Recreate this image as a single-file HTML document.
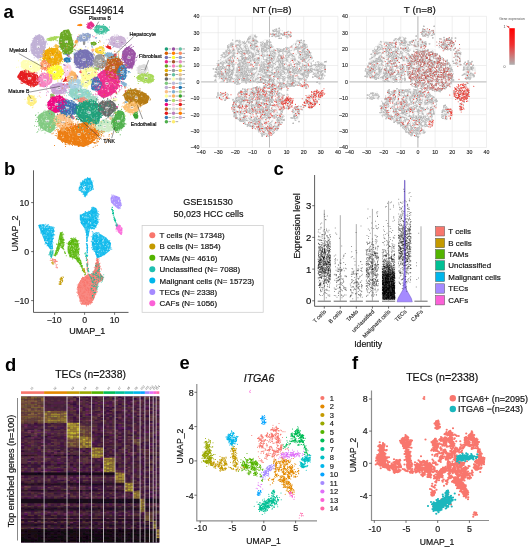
<!DOCTYPE html>
<html lang="en"><head><meta charset="utf-8"><title>Figure</title>
<style>html,body{margin:0;padding:0;background:#fff}body{width:532px;height:550px;overflow:hidden;font-family:"Liberation Sans",Arial,sans-serif}svg{display:block}</style></head>
<body>
<svg width="532" height="550" viewBox="0 0 532 550" font-family="'Liberation Sans', Arial, sans-serif">
<text x="3.6" y="18.2" font-size="18.4" font-weight="bold">a</text>
<text x="96.5" y="13.6" font-size="10" text-anchor="middle" fill="#111" stroke="#111" stroke-width=".18">GSE149614</text>
<g fill-opacity=".7"><path d="M75.7 90.5L75.0 89.7L74.3 88.0L74.2 86.0L74.3 84.2L75.2 85.9L75.8 87.6L76.5 90.3Z" fill="#b5790f"/><path d="M51.4 60.1L50.4 60.7L48.5 60.7L47.8 59.1L47.9 58.0L48.6 56.8L50.4 57.6L51.6 58.9Z" fill="#fdb462"/><path d="M99.0 104.8L98.4 103.2L99.5 102.2L100.3 100.6L101.9 101.5L102.0 103.1L102.1 104.6L100.6 105.0Z" fill="#d9d9d9"/><path d="M96.3 45.1L95.0 45.3L93.5 45.1L92.6 43.8L91.9 42.3L93.4 42.1L94.8 43.0L96.6 43.9Z" fill="#ffee77"/><path d="M84.4 64.4L83.7 65.6L82.7 65.0L81.9 64.1L82.4 63.0L83.3 62.7L84.7 62.2L84.9 63.5Z" fill="#f0027f"/><path d="M108.7 55.2L106.8 54.9L105.5 54.7L103.6 53.9L103.9 53.1L104.5 52.6L106.2 53.2L107.6 54.0Z" fill="#ffff33"/><path d="M117.9 100.0L116.5 101.3L114.6 101.5L112.4 101.3L111.6 99.5L113.1 98.3L114.9 97.7L117.0 98.3Z" fill="#ffffb3"/><path d="M68.3 76.5L67.6 76.2L67.6 75.0L68.4 74.1L69.1 74.1L69.6 74.7L69.9 75.8L69.0 76.7Z" fill="#fdb462"/><path d="M89.2 58.1L87.7 58.7L86.4 58.4L85.9 57.2L85.9 55.7L87.2 54.7L88.4 55.7L89.3 56.5Z" fill="#beaed4"/><path d="M99.1 69.7L97.6 70.1L95.8 70.2L94.3 68.9L93.6 67.4L95.3 66.9L97.0 67.4L99.3 68.2Z" fill="#66a61e"/><path d="M84.0 45.3L83.0 44.4L82.9 42.8L83.2 41.3L84.2 40.3L85.2 41.4L85.3 42.9L85.1 44.5Z" fill="#666666"/><path d="M94.4 76.4L92.6 76.8L90.6 75.8L90.4 73.9L89.8 71.5L92.0 71.3L93.5 73.1L95.3 74.6Z" fill="#f0a900"/><path d="M112.0 61.9L110.8 62.9L109.2 62.3L108.2 61.2L107.9 59.8L109.1 58.8L110.7 59.3L111.7 60.4Z" fill="#fccde5"/><path d="M98.8 86.9L97.2 87.9L96.5 86.2L96.3 84.9L97.2 83.7L98.7 83.7L100.3 84.3L99.5 85.9Z" fill="#fc8d62"/><path d="M86.5 74.5L85.4 74.8L84.9 73.2L85.1 71.7L86.1 71.1L87.1 71.8L88.2 72.8L87.5 74.4Z" fill="#d9d9d9"/><path d="M92.9 48.1L92.2 48.0L91.1 46.9L91.1 45.7L91.1 44.7L91.8 44.5L92.7 46.0L93.2 47.4Z" fill="#80b1d3"/><path d="M117.5 119.4L116.9 119.6L116.2 118.9L116.3 118.1L116.6 117.6L117.3 117.4L118.0 118.0L118.0 118.9Z" fill="#e41a1c"/><path d="M94.3 85.9L94.3 84.8L95.2 83.3L97.1 83.2L98.1 84.0L98.0 85.1L96.8 86.4L94.9 87.0Z" fill="#e41a1c"/><path d="M105.5 107.0L104.4 106.8L104.2 105.1L104.2 103.7L104.8 102.2L105.9 103.6L106.4 104.8L106.5 106.4Z" fill="#ee2a8b"/><path d="M63.6 101.4L63.5 100.4L64.3 99.3L65.6 99.4L66.2 100.1L66.7 101.0L65.7 102.0L64.4 102.1Z" fill="#fccde5"/><path d="M126.9 66.9L126.7 65.7L127.6 64.5L129.2 63.9L130.0 64.9L130.0 66.1L129.5 67.6L127.9 67.8Z" fill="#7fc97f"/><path d="M76.0 93.1L75.3 92.5L75.0 91.1L75.2 89.3L76.1 89.0L76.7 89.9L77.2 91.2L76.8 92.9Z" fill="#ffff33"/><path d="M54.7 121.3L54.3 121.9L53.3 121.7L52.4 121.4L52.4 120.8L52.6 120.2L53.6 120.1L54.0 120.8Z" fill="#a6cee3"/><path d="M72.0 118.0L71.4 116.8L72.5 115.3L73.9 116.2L75.2 116.7L75.3 118.2L74.1 119.2L72.5 119.4Z" fill="#fb8072"/><path d="M51.7 110.7L52.4 109.9L53.5 108.9L54.9 108.7L55.3 109.2L56.0 109.7L54.1 110.5L52.8 110.8Z" fill="#984ea3"/><path d="M116.8 83.4L115.7 83.7L114.6 82.6L114.7 81.4L115.1 80.3L116.3 80.0L117.2 81.1L117.4 82.4Z" fill="#a6cee3"/><path d="M72.2 47.9L73.2 46.7L73.9 45.6L75.5 44.6L76.2 44.9L76.0 45.7L74.8 46.8L73.4 47.9Z" fill="#bf5b17"/><path d="M64.1 54.0L65.0 52.3L66.7 51.6L69.2 50.7L69.7 52.6L68.9 54.0L67.7 55.6L65.6 55.1Z" fill="#1f78b4"/><path d="M116.1 109.4L115.5 108.0L115.3 107.0L115.7 105.9L117.0 106.1L118.3 106.6L117.9 107.8L117.3 108.6Z" fill="#f0027f"/><path d="M80.5 73.2L78.9 71.9L79.7 70.9L80.6 70.2L82.1 70.8L83.4 72.0L83.6 73.5L81.9 73.2Z" fill="#e41a1c"/><path d="M88.7 72.2L87.4 71.8L86.6 70.2L87.3 68.4L88.9 68.1L90.1 68.7L91.1 70.3L90.3 72.1Z" fill="#ffff99"/><path d="M120.0 65.9L119.4 65.0L120.2 63.0L121.6 61.4L122.5 61.7L123.1 62.4L122.6 64.4L121.0 65.6Z" fill="#fdb462"/><path d="M125.5 88.6L124.8 89.2L124.2 87.2L124.2 85.8L124.4 84.7L125.3 85.4L126.2 86.7L126.1 88.2Z" fill="#fb8072"/><path d="M71.3 117.0L70.0 118.1L69.0 118.3L68.5 117.5L69.9 115.9L70.9 114.7L72.3 114.0L71.9 115.6Z" fill="#e41a1c"/><path d="M74.9 93.7L74.0 94.9L72.6 95.4L71.1 94.8L70.9 93.0L72.1 92.0L73.3 91.1L74.9 91.9Z" fill="#fdc086"/><path d="M89.6 73.6L88.1 73.9L86.6 73.8L86.2 72.4L86.0 70.6L87.7 70.1L88.7 71.2L90.4 71.9Z" fill="#fc8d62"/><path d="M122.8 65.2L122.1 65.6L121.2 65.7L120.8 64.9L121.3 64.2L121.8 63.6L122.7 63.6L123.0 64.4Z" fill="#ec7a0c"/><path d="M88.5 127.6L88.2 128.2L86.9 127.5L86.4 126.3L86.2 125.2L87.3 125.7L88.4 126.0L89.4 127.4Z" fill="#ccebc5"/><path d="M56.1 73.4L54.6 72.9L54.3 71.3L55.1 69.9L56.8 70.1L58.0 70.8L59.2 72.3L57.6 73.3Z" fill="#7570b3"/><path d="M77.3 77.6L76.2 79.0L74.5 78.1L73.0 77.0L72.5 74.9L74.8 75.0L76.4 74.7L78.1 76.0Z" fill="#e31a1c"/><path d="M118.0 52.4L117.3 51.8L118.1 51.1L118.7 51.0L119.7 50.9L119.7 51.8L119.3 52.6L118.6 52.8Z" fill="#ffee77"/><path d="M96.3 38.9L95.4 39.1L95.0 38.3L95.2 37.6L95.8 37.2L96.6 37.1L97.3 37.7L96.8 38.4Z" fill="#80b1d3"/><path d="M54.0 97.2L52.9 98.3L50.7 97.9L50.0 95.8L50.1 94.2L51.5 93.4L53.6 94.1L55.0 96.0Z" fill="#66a61e"/><path d="M77.6 56.9L77.5 56.1L77.8 54.8L79.1 53.7L79.9 53.7L79.9 54.6L79.4 55.9L78.3 57.3Z" fill="#3dbf9d"/><path d="M67.5 85.6L66.3 86.2L64.6 86.5L62.3 86.3L62.0 85.4L63.0 84.8L64.7 84.4L66.9 84.8Z" fill="#ee2a8b"/><path d="M99.5 52.9L98.8 53.4L96.9 53.2L95.4 52.0L94.6 50.8L96.3 50.8L97.9 51.0L100.2 52.1Z" fill="#b5790f"/><path d="M106.7 58.6L105.9 57.7L105.7 56.7L106.8 56.7L107.8 56.6L108.9 57.4L108.2 58.1L107.8 58.8Z" fill="#9fd8c0"/><path d="M78.0 50.6L77.9 49.1L79.8 48.3L81.5 47.8L82.2 48.9L82.5 50.1L81.1 51.6L79.6 50.8Z" fill="#ffff99"/><path d="M62.7 74.8L61.8 74.5L62.0 73.6L61.9 72.9L62.8 72.4L63.5 73.1L63.9 73.7L63.5 74.4Z" fill="#1f78b4"/><path d="M73.3 124.9L72.3 125.7L71.2 125.9L70.6 124.9L70.3 123.5L71.5 122.6L72.4 123.0L73.6 123.3Z" fill="#a6cee3"/><path d="M42.0 82.4L40.8 82.7L39.7 82.7L38.2 82.3L38.1 81.5L38.8 81.0L40.1 81.1L41.2 81.5Z" fill="#e31a1c"/><path d="M75.8 43.6L74.4 43.3L74.9 40.8L76.3 39.8L77.8 38.0L78.5 39.6L78.0 41.8L77.1 43.8Z" fill="#ff7f00"/><path d="M68.1 87.2L67.4 86.0L67.0 84.7L68.3 85.0L69.3 86.0L70.4 87.2L70.3 88.2L69.2 88.2Z" fill="#fdbf6f"/><path d="M99.6 50.4L98.6 50.2L98.2 49.3L98.6 48.5L99.3 48.1L100.4 48.1L100.7 49.1L100.2 49.9Z" fill="#e31a1c"/><path d="M88.1 75.4L87.1 76.5L86.0 77.0L85.0 76.4L85.2 74.6L86.1 73.3L87.2 72.9L88.2 73.5Z" fill="#fdc086"/><path d="M125.5 92.7L124.7 92.3L124.8 91.3L124.7 90.4L125.4 90.0L126.0 90.4L126.4 91.2L125.9 91.8Z" fill="#e41a1c"/><path d="M124.0 102.6L124.8 101.6L126.1 100.8L128.0 100.2L128.7 100.9L128.0 101.8L126.8 102.7L125.1 103.0Z" fill="#377eb8"/><path d="M113.4 61.7L112.7 61.0L112.5 59.7L112.8 58.2L113.7 57.5L114.3 58.7L114.6 59.8L114.3 61.4Z" fill="#f0a900"/><path d="M86.7 53.1L85.1 53.1L83.7 53.7L82.3 52.5L82.1 51.3L83.0 50.5L84.6 51.2L86.7 51.7Z" fill="#fccde5"/><path d="M58.0 119.9L57.6 118.2L57.9 116.9L59.3 116.9L60.3 118.3L61.7 119.7L60.8 120.9L59.4 120.3Z" fill="#fdbf6f"/><path d="M79.2 134.7L78.2 135.1L77.5 134.0L77.0 133.1L77.2 131.9L78.3 132.0L79.2 132.7L79.5 133.7Z" fill="#bf5b17"/><path d="M59.1 99.3L59.6 98.2L60.6 96.9L62.0 96.6L62.8 96.8L63.6 97.4L61.7 98.5L60.4 99.1Z" fill="#3dbf9d"/><path d="M88.1 60.5L87.2 59.3L89.2 58.5L90.6 58.7L92.4 58.8L91.6 60.2L90.3 61.3L88.6 61.4Z" fill="#8da0cb"/><path d="M85.3 78.8L83.8 79.3L82.6 78.2L81.3 77.2L81.8 76.0L82.8 75.2L84.4 75.8L84.6 77.2Z" fill="#a6cee3"/><path d="M116.4 115.9L115.2 115.1L114.6 113.1L114.7 110.7L116.2 111.1L117.4 111.1L118.5 112.9L117.4 114.6Z" fill="#ffff99"/><path d="M77.0 126.6L75.8 126.9L74.5 126.5L74.5 125.2L75.6 124.1L76.9 124.1L78.0 124.5L78.4 125.8Z" fill="#e7298a"/><path d="M66.6 66.1L66.0 66.5L64.4 66.0L63.3 65.2L63.0 64.4L63.5 63.9L65.1 64.4L66.0 65.3Z" fill="#984ea3"/><path d="M71.4 76.8L71.0 75.4L73.0 74.7L74.5 74.0L76.4 74.3L75.1 75.9L74.2 77.2L72.5 77.5Z" fill="#33a02c"/><path d="M93.0 52.2L91.8 51.3L91.4 50.2L91.4 49.0L92.6 48.5L93.9 48.7L94.2 50.0L93.8 51.0Z" fill="#fc8d62"/><path d="M102.4 69.0L101.8 68.0L101.8 67.1L102.0 66.0L102.9 65.7L103.6 66.2L103.5 67.3L103.2 68.2Z" fill="#377eb8"/><path d="M113.6 112.3L112.3 112.3L111.1 111.4L112.1 110.2L113.3 109.5L114.5 110.0L115.3 111.0L115.3 112.4Z" fill="#8dd3c7"/><path d="M49.5 67.2L49.3 66.5L49.5 65.8L50.2 65.6L51.0 65.3L51.3 66.0L50.6 66.6L50.2 67.4Z" fill="#ffff33"/><path d="M59.3 47.7L57.8 48.8L55.9 48.7L55.1 47.2L54.3 45.3L56.0 44.1L57.7 45.0L59.5 45.7Z" fill="#f0a900"/><path d="M125.9 102.3L125.4 101.3L125.6 99.4L126.7 97.4L127.6 97.7L128.3 98.3L128.1 100.3L126.9 102.0Z" fill="#a6cee3"/><path d="M79.0 60.6L78.6 61.5L77.3 61.2L76.8 60.2L76.7 59.1L77.8 59.0L78.9 58.8L79.8 59.8Z" fill="#fdc086"/><path d="M115.4 58.0L113.9 57.7L113.0 56.9L114.1 56.3L115.5 56.2L117.3 56.2L117.8 57.1L116.8 57.7Z" fill="#1b9e77"/><path d="M100.4 42.5L99.7 42.4L99.3 41.5L98.8 40.5L99.3 40.0L100.0 40.5L100.7 40.9L100.8 41.9Z" fill="#fdb462"/><path d="M54.5 70.0L53.8 69.0L53.7 67.6L54.6 66.2L55.7 66.9L56.7 67.4L57.0 69.0L55.7 69.7Z" fill="#a6d854"/><path d="M49.3 61.9L48.2 62.4L46.3 62.7L43.9 62.3L44.2 61.7L44.2 61.1L46.4 60.8L48.3 61.3Z" fill="#e7298a"/><path d="M116.2 94.5L115.7 93.6L115.2 93.0L115.5 92.3L116.4 92.1L117.2 92.4L117.1 93.2L117.0 93.9Z" fill="#b5790f"/><path d="M67.2 76.0L66.9 74.1L67.9 72.6L69.6 72.9L70.8 73.8L71.9 75.6L70.3 76.7L68.8 76.6Z" fill="#ec7a0c"/><path d="M118.9 122.2L116.7 122.3L115.0 122.3L113.3 121.3L113.1 120.0L113.9 118.8L116.0 119.8L117.6 120.5Z" fill="#ffff99"/><path d="M59.9 104.4L59.0 104.2L58.7 102.7L59.4 101.6L60.3 101.1L61.1 101.5L61.4 102.9L60.8 104.1Z" fill="#ffff99"/><path d="M96.2 108.2L95.0 108.1L93.5 107.4L91.7 106.0L92.0 105.2L93.1 105.3L94.6 105.8L96.0 107.2Z" fill="#984ea3"/><path d="M53.2 112.5L52.8 113.7L51.1 112.8L50.7 111.6L49.9 110.2L51.2 110.0L52.7 110.6L53.7 111.8Z" fill="#e31a1c"/><path d="M64.1 62.2L62.8 63.3L62.1 63.0L61.5 62.5L62.2 61.0L63.2 59.7L64.1 59.7L64.0 60.9Z" fill="#ffffb3"/><path d="M111.1 120.1L109.4 119.6L108.9 117.8L110.0 116.6L111.3 115.8L113.2 116.2L113.3 118.0L112.5 119.4Z" fill="#fdc086"/><path d="M113.1 118.0L111.9 117.6L110.4 116.7L109.8 115.1L110.0 114.5L110.4 113.6L111.9 115.4L112.8 116.8Z" fill="#8dd3c7"/><path d="M69.3 85.0L68.4 85.5L67.4 85.1L66.3 84.7L66.1 83.6L67.1 83.3L68.1 83.3L69.0 84.0Z" fill="#e31a1c"/><path d="M70.7 110.3L70.9 108.0L71.2 106.2L72.9 105.0L74.6 104.8L75.5 106.3L73.8 108.1L72.7 110.0Z" fill="#e41a1c"/><path d="M104.6 99.0L103.6 97.6L103.2 95.8L102.7 93.6L103.3 92.8L104.3 93.5L104.9 95.4L104.9 97.1Z" fill="#ffff99"/><path d="M41.9 84.7L41.3 86.5L40.1 86.6L39.5 85.6L39.1 84.1L39.9 82.5L41.0 82.4L41.8 83.2Z" fill="#fb8072"/><path d="M68.7 57.5L67.5 56.6L66.7 55.3L66.5 53.5L67.5 52.4L68.7 53.2L69.4 54.6L69.8 56.4Z" fill="#984ea3"/><path d="M77.6 78.2L76.9 79.0L75.7 78.1L75.0 76.8L75.3 75.6L76.6 76.1L77.9 76.1L78.6 77.6Z" fill="#7570b3"/><path d="M121.2 76.9L119.5 76.0L119.6 74.6L120.1 73.4L121.8 72.8L123.3 73.8L123.6 75.2L122.8 76.2Z" fill="#ee2a8b"/><path d="M81.8 60.8L81.8 60.0L82.5 59.6L83.4 59.3L83.6 60.2L83.5 60.9L83.2 61.8L82.3 61.3Z" fill="#e41a1c"/><path d="M94.3 100.1L93.0 100.4L91.5 100.7L90.4 99.3L90.7 97.9L91.8 97.3L93.3 97.6L94.9 98.7Z" fill="#a6d854"/><path d="M68.9 40.6L67.0 40.8L66.3 39.6L66.7 38.4L67.8 37.4L69.7 37.1L70.5 38.3L69.9 39.5Z" fill="#999999"/><path d="M108.0 76.6L107.0 77.4L106.0 77.5L104.7 77.3L104.7 76.0L105.5 75.1L106.5 74.9L107.5 75.5Z" fill="#f0a900"/><path d="M116.0 56.8L114.6 57.1L113.2 56.5L112.4 54.8L113.6 53.8L114.9 53.4L116.6 53.8L116.8 55.6Z" fill="#e41a1c"/><path d="M70.4 94.4L69.9 93.6L69.8 92.7L70.6 92.4L71.3 92.8L72.3 93.1L71.9 94.0L71.2 94.3Z" fill="#9fd8c0"/><path d="M51.3 77.7L50.0 78.0L48.1 77.7L47.2 75.7L47.9 74.3L49.3 74.0L51.0 74.6L52.3 76.4Z" fill="#fccde5"/><path d="M73.6 118.9L72.2 119.0L70.6 118.1L70.2 116.5L70.7 115.5L71.7 114.4L73.2 115.9L73.6 117.4Z" fill="#984ea3"/><path d="M47.9 53.4L48.9 51.7L49.9 50.3L52.3 49.3L52.9 50.9L53.0 52.3L51.6 53.8L49.6 54.1Z" fill="#e31a1c"/><path d="M73.9 58.4L73.3 57.6L74.0 55.7L75.6 54.2L76.7 54.4L76.8 55.7L76.5 57.5L74.9 59.0Z" fill="#ffee77"/><path d="M101.1 85.4L99.7 84.2L100.3 82.4L101.2 80.5L103.3 80.4L103.7 82.5L104.4 84.2L103.0 85.8Z" fill="#33a02c"/><path d="M95.8 132.2L95.6 130.5L96.6 129.0L98.4 128.3L99.1 129.8L100.3 130.9L99.3 132.7L97.5 132.2Z" fill="#c9a3d6"/><path d="M116.1 120.6L115.2 122.3L114.0 121.7L112.9 121.5L113.0 119.8L113.8 118.3L115.0 117.8L115.4 119.4Z" fill="#66a61e"/><path d="M66.7 106.8L66.1 107.9L65.3 108.9L64.2 108.4L64.1 106.8L64.5 105.6L65.4 104.8L66.4 105.3Z" fill="#a6cee3"/><path d="M71.2 111.3L70.1 110.9L69.7 109.8L70.8 109.4L72.0 109.5L72.8 110.3L73.4 111.3L72.6 112.1Z" fill="#e7298a"/><path d="M59.1 109.7L58.4 109.5L58.2 108.3L58.5 107.5L59.0 106.2L59.6 107.2L59.7 108.2L59.8 109.5Z" fill="#66a61e"/><path d="M73.8 54.7L73.3 53.6L73.7 52.7L74.5 52.3L75.6 52.5L76.1 53.6L75.6 54.4L74.9 55.0Z" fill="#80b1d3"/><path d="M92.8 123.1L91.7 122.2L91.2 121.0L92.1 119.9L93.3 120.0L94.9 120.0L94.8 121.6L93.8 122.3Z" fill="#fdc086"/><path d="M98.1 113.2L96.8 114.5L95.4 114.2L95.3 112.8L96.1 111.4L97.4 110.2L99.0 110.1L98.8 111.8Z" fill="#8da0cb"/><path d="M59.4 105.4L58.2 105.2L57.7 104.1L57.7 102.7L59.0 102.2L60.0 103.0L61.1 103.7L60.7 105.1Z" fill="#8dd3c7"/><path d="M91.8 132.8L90.6 133.0L89.9 131.8L90.3 130.7L90.8 129.6L92.0 129.8L92.6 130.9L92.6 132.1Z" fill="#a6d854"/></g>
<g fill-opacity=".94"><path d="M30.5 44.9L34.6 36.7L39.3 34.0L43.5 36.7L46.2 42.9L44.9 50.4L42.8 57.2L38.0 58.7L33.2 55.2L30.5 50.4Z" fill="#beaed4"/><path d="M60.2 34.2L63.6 30.0L69.0 29.4L71.1 34.2L73.2 42.4L73.2 51.3L69.7 54.7L64.2 53.3L60.2 47.8L58.8 41.0Z" fill="#66a61e"/><path d="M59.8 37.1L57.6 38.2L56.5 39.0L54.7 39.9L51.9 40.6L48.8 41.1L47.6 40.4L47.5 39.6L47.1 38.9L49.1 37.9L51.4 37.1L54.0 36.4L56.6 36.3L59.3 36.3Z" fill="#a6d854"/><path d="M42.9 51.4L49.1 48.0L57.3 48.0L61.3 52.7L62.8 59.6L58.6 65.0L51.8 66.4L45.6 63.7L42.2 58.2Z" fill="#f0a900"/><path d="M50.3 65.5L49.8 68.0L48.3 70.1L46.1 70.6L44.1 69.7L42.0 69.6L40.6 67.8L40.6 65.5L40.4 63.1L41.8 61.1L43.9 60.1L46.1 60.1L47.4 62.2L48.6 63.6Z" fill="#fc8d62"/><path d="M47.6 67.2L54.5 64.4L60.6 65.8L64.1 71.3L61.3 78.1L54.5 80.2L49.0 76.8L46.3 72.0Z" fill="#ffff33"/><path d="M41.3 67.6L39.8 70.3L36.2 71.8L32.4 73.7L27.5 72.6L24.7 70.1L22.0 68.1L20.9 65.5L20.6 62.5L23.3 59.7L28.9 60.5L33.0 61.4L37.1 62.4L39.4 64.8Z" fill="#ffffb3"/><path d="M17.1 76.5L20.6 71.0L26.7 69.7L32.2 72.4L37.7 75.2L39.7 79.2L38.3 84.8L33.6 86.7L26.7 84.8L21.3 81.3Z" fill="#e41a1c"/><path d="M52.1 82.2L49.5 84.5L46.9 85.5L44.3 87.6L41.3 86.7L39.3 84.2L37.6 81.4L38.3 77.9L39.9 74.9L42.6 73.2L45.5 74.2L48.3 74.0L51.7 75.1L52.6 78.6Z" fill="#f781bf"/><path d="M70.4 59.8L70.5 61.0L69.8 62.2L68.1 62.5L66.5 62.4L65.5 61.5L64.8 60.7L63.4 59.8L63.8 58.5L65.1 57.7L66.5 57.2L68.0 57.5L69.3 57.8L70.5 58.6Z" fill="#1f78b4"/><path d="M71.4 70.0L70.2 71.9L69.8 74.1L68.5 76.3L66.6 75.9L64.8 74.8L63.9 72.5L63.8 70.0L63.7 67.4L65.2 65.9L66.7 65.1L68.5 63.9L70.3 65.0L71.4 67.3Z" fill="#fccde5"/><path d="M62.9 81.9L65.6 76.5L67.1 81.6Z" fill="#e41a1c"/><path d="M68.4 87.6L66.0 89.7L65.2 92.0L62.0 94.1L57.2 94.7L52.7 94.0L51.7 91.3L50.9 89.3L49.7 86.9L52.6 84.8L56.2 83.2L60.7 82.6L64.5 83.7L68.1 85.0Z" fill="#c9a3d6"/><path d="M36.6 100.5L36.1 102.9L34.4 104.4L32.7 106.1L30.4 105.9L28.6 104.5L27.4 102.7L27.7 100.5L27.3 98.3L27.9 95.5L30.3 94.9L32.6 95.4L34.2 96.8L35.1 98.6Z" fill="#ffee77"/><path d="M94.8 25.5L93.7 27.1L92.3 27.8L91.2 28.8L89.7 29.0L87.9 28.8L86.6 27.4L87.2 25.5L87.5 24.0L88.2 22.7L89.7 22.2L91.3 21.8L92.8 22.6L93.9 23.9Z" fill="#e7298a"/><path d="M109.2 30.3L106.7 32.1L104.0 32.7L102.0 34.1L99.0 34.0L96.1 33.0L94.0 31.1L94.6 28.9L94.9 26.8L96.9 25.1L100.1 25.4L102.8 25.4L105.7 26.1L107.9 27.9Z" fill="#3dbf9d"/><path d="M82.5 25.0L82.2 25.5L81.4 25.9L80.5 26.1L79.6 25.9L78.6 25.8L77.5 25.6L77.5 25.0L77.9 24.5L78.7 24.2L79.6 24.1L80.5 23.8L81.5 24.1L82.0 24.5Z" fill="#ff7f00"/><path d="M90.9 36.1L90.4 38.0L88.3 39.5L86.3 41.2L83.3 41.6L80.9 41.0L77.7 40.8L76.3 39.1L77.4 37.0L79.3 35.3L82.2 34.7L84.6 33.7L88.2 32.8L90.2 34.3Z" fill="#8da0cb"/><path d="M126.0 43.2L123.0 44.7L121.3 46.5L118.3 48.2L114.4 47.0L111.0 45.2L109.1 42.5L109.5 39.9L110.2 37.3L113.6 36.4L116.9 36.5L120.8 35.8L124.6 37.5L126.3 40.4Z" fill="#cab2d6"/><path d="M104.6 50.0L103.4 51.5L102.7 53.1L101.0 53.9L99.2 53.4L97.3 53.2L95.8 51.9L95.2 50.0L95.6 48.1L97.8 47.4L99.2 46.9L101.0 46.0L102.9 46.7L104.4 48.0Z" fill="#ffd92f"/><path d="M96.5 43.5L96.1 44.2L95.5 44.9L94.4 45.6L92.7 45.3L91.8 44.7L90.9 44.2L90.7 43.5L90.4 42.7L91.2 42.0L92.8 41.9L94.2 41.8L95.6 42.1L96.1 42.8Z" fill="#66a61e"/><path d="M111.6 48.9L110.8 49.4L109.7 49.3L108.8 49.0L108.0 48.4L107.0 47.9L106.2 46.9L106.7 46.3L107.4 45.8L108.3 45.7L109.2 46.0L110.3 46.4L110.9 47.2L111.2 47.9Z" fill="#e31a1c"/><path d="M73.8 54.3L79.3 50.1L87.5 49.5L92.9 54.3L95.0 61.1L91.6 67.3L84.7 69.4L78.0 67.9L73.8 62.5Z" fill="#7570b3"/><path d="M106.1 61.5L106.7 64.7L104.6 67.2L101.7 68.9L98.5 68.0L96.1 66.4L93.5 64.6L93.7 61.5L94.6 58.9L95.4 55.8L98.3 54.2L101.7 54.0L104.4 56.0L104.7 59.3Z" fill="#999999"/><path d="M114.2 56.9L113.6 58.3L111.4 58.3L109.6 58.1L107.9 57.7L106.2 56.8L104.2 55.5L104.6 54.0L106.4 53.3L107.6 52.6L109.4 52.6L111.3 53.1L113.1 54.0L113.6 55.5Z" fill="#80b1d3"/><path d="M122.0 67.5L121.3 71.9L118.6 74.9L115.6 78.3L110.9 80.7L107.3 76.4L105.9 71.7L105.0 67.5L106.0 63.3L107.3 58.4L111.2 55.9L115.5 57.5L119.8 58.4L122.5 62.5Z" fill="#bf5b17"/><path d="M135.3 58.1L134.6 62.7L132.9 67.7L129.5 68.8L126.4 68.0L124.5 64.5L123.8 60.7L121.7 56.8L122.3 51.3L125.5 48.3L128.5 46.6L131.3 48.2L133.7 50.1L136.0 53.2Z" fill="#984ea3"/><path d="M126.2 73.4L126.4 77.1L124.5 80.1L121.7 79.8L119.5 79.2L118.0 77.1L117.1 74.5L116.5 71.4L118.2 68.6L120.0 66.2L122.3 63.9L124.7 65.3L126.1 67.7L126.6 70.6Z" fill="#377eb8"/><path d="M97.8 73.0L95.9 75.4L93.8 77.4L90.7 78.3L87.3 78.4L82.8 78.6L80.5 76.0L81.5 73.0L82.4 70.7L84.6 69.0L87.2 67.2L91.1 66.2L94.1 68.4L96.4 70.4Z" fill="#ffff99"/><path d="M119.1 83.5L117.6 88.4L114.6 92.7L109.9 95.5L103.4 98.4L97.8 94.6L96.9 88.2L95.3 83.5L96.1 78.5L98.7 73.5L103.7 69.5L109.9 71.5L115.2 73.7L120.0 77.5Z" fill="#ee2a8b"/><path d="M101.3 84.0L100.9 86.7L99.9 89.6L97.3 90.4L94.7 90.5L91.9 90.0L91.0 86.8L91.1 84.0L91.3 81.4L92.6 79.1L94.5 76.4L97.5 76.4L99.2 79.3L100.7 81.4Z" fill="#3a77b6"/><path d="M76.8 77.0L76.7 80.1L74.5 81.4L72.8 81.8L71.0 83.0L69.0 82.2L67.2 80.2L67.0 77.0L68.5 74.7L69.3 72.3L71.0 70.8L72.9 71.3L74.9 72.0L76.2 74.2Z" fill="#fdb462"/><path d="M84.6 84.0L82.2 86.4L79.3 87.5L77.1 89.1L73.9 89.1L70.8 88.4L68.3 86.6L68.3 84.0L68.2 81.4L70.5 79.4L74.1 79.5L77.0 79.3L80.0 79.9L82.7 81.4Z" fill="#a6cee3"/><path d="M92.1 82.0L90.9 84.6L88.5 85.5L87.0 87.0L84.9 87.6L82.6 86.8L80.6 84.9L81.1 82.0L81.7 79.7L82.6 77.3L85.0 76.9L87.0 76.9L89.3 77.4L90.8 79.4Z" fill="#ffff99"/><path d="M148.1 69.5L146.4 71.2L145.8 73.2L144.0 75.2L141.1 74.9L138.7 73.8L137.5 71.7L137.4 69.5L137.2 67.2L139.1 65.7L141.4 65.1L143.9 64.0L146.5 65.0L148.0 67.1Z" fill="#d9d9d9"/><path d="M153.7 78.0L154.0 80.5L151.8 82.6L147.7 82.9L144.3 82.7L141.7 81.4L139.0 80.1L135.9 78.0L137.8 75.5L141.1 74.1L144.3 73.1L147.6 73.5L151.2 73.9L153.8 75.6Z" fill="#a6d854"/><path d="M123.1 94.6L127.9 89.8L136.0 89.2L145.7 93.2L149.7 98.0L147.0 103.5L140.1 106.2L131.9 104.3L125.1 100.1Z" fill="#b5790f"/><path d="M139.0 107.5L138.6 110.2L136.7 112.5L133.5 113.1L130.4 113.5L127.7 112.1L125.2 110.3L122.9 107.5L125.0 104.6L128.0 103.3L130.5 102.1L133.5 102.0L137.1 102.1L139.8 104.3Z" fill="#fdbf6f"/><path d="M138.3 115.5L138.1 116.9L137.6 118.3L136.4 118.8L135.3 118.4L134.2 118.1L133.6 116.9L133.6 115.5L133.6 114.1L134.2 113.0L135.2 112.0L136.5 111.8L137.1 113.3L137.6 114.4Z" fill="#33a02c"/><path d="M126.8 85.5L126.7 86.4L125.3 86.3L123.9 85.9L122.5 85.1L121.7 84.1L120.9 83.2L121.2 82.5L122.0 82.2L122.6 81.5L124.2 81.9L125.6 82.8L126.4 83.9L126.4 84.6Z" fill="#80b1d3"/><path d="M47.4 102.3L52.2 96.8L60.4 95.5L65.9 99.5L64.5 106.4L60.4 111.9L53.6 113.2L48.1 109.1Z" fill="#f0027f"/><path d="M78.5 108.0L76.9 111.8L73.7 114.6L69.3 114.8L65.4 115.7L61.2 114.7L59.5 111.3L57.5 108.0L57.8 104.0L61.1 101.3L65.2 99.6L69.3 101.3L72.3 102.9L77.1 104.1Z" fill="#386cb0"/><path d="M91.0 94.0L90.0 96.4L86.3 98.1L82.6 100.4L76.4 100.5L72.5 98.2L69.9 96.2L69.3 94.0L68.9 91.6L70.5 88.6L76.7 88.2L82.0 88.7L87.2 89.4L89.5 91.7Z" fill="#8dd3c7"/><path d="M86.4 100.0L85.0 100.7L84.6 101.7L82.8 102.5L80.3 102.4L78.0 101.9L77.1 100.9L76.7 100.0L76.6 99.0L78.6 98.4L80.5 98.0L82.8 97.5L85.0 98.0L86.6 98.9Z" fill="#fb8072"/><path d="M97.9 99.5L96.9 101.2L95.7 102.6L93.9 104.1L91.3 103.5L89.6 102.3L88.4 101.0L88.0 99.5L87.2 97.5L88.7 95.8L91.4 95.8L93.6 95.8L95.5 96.6L96.8 97.9Z" fill="#9fd8c0"/><path d="M101.0 112.5L100.1 117.2L99.1 123.6L92.6 126.3L86.1 123.5L81.0 121.3L78.0 117.1L75.9 112.5L75.5 106.8L80.7 103.4L85.9 100.6L92.5 99.1L97.3 103.3L100.2 107.8Z" fill="#1b9e77"/><path d="M116.9 108.0L114.2 111.4L111.6 113.8L109.0 116.6L105.2 115.9L101.9 114.4L98.8 112.0L98.1 108.0L98.3 103.8L101.6 101.2L105.5 101.6L108.7 100.4L112.7 100.9L115.6 103.9Z" fill="#666666"/><path d="M56.6 121.0L55.5 124.9L54.5 129.8L50.3 133.3L45.2 130.9L41.5 128.5L38.8 125.2L38.1 121.0L37.7 116.3L41.1 113.0L45.3 111.3L50.2 109.4L54.3 112.5L55.8 117.0Z" fill="#7fc97f"/><path d="M74.0 124.1L74.4 128.0L69.3 129.1L64.5 129.1L59.8 128.2L56.5 125.7L53.2 123.1L53.2 119.9L55.3 117.5L57.1 114.2L62.4 113.7L67.1 116.0L70.5 118.3L71.7 121.1Z" fill="#fdc086"/><path d="M99.5 135.5L95.1 139.4L91.5 143.5L83.8 146.9L73.8 144.9L64.7 142.7L57.2 138.8L57.8 133.4L60.3 128.9L67.6 126.3L75.3 124.9L85.3 122.1L95.4 125.0L98.7 130.6Z" fill="#ec7a0c"/><path d="M124.6 121.6L124.4 126.3L121.7 128.9L119.0 130.2L115.8 131.4L113.1 129.1L111.0 125.3L111.4 120.3L114.2 117.2L115.4 113.5L117.9 110.2L121.2 110.4L124.2 112.4L124.9 117.3Z" fill="#4daf4a"/><path d="M112.8 126.5L112.3 129.5L109.7 131.7L106.0 131.9L102.6 133.3L98.3 132.8L96.0 129.8L95.5 126.5L98.1 124.0L100.1 122.1L102.4 119.2L106.5 119.5L110.0 121.0L112.8 123.3Z" fill="#ccebc5"/><path d="M95.9 125.0L95.8 126.8L94.1 127.6L92.7 128.0L91.3 127.9L90.0 127.5L88.4 126.7L88.4 125.0L89.0 123.6L89.7 122.1L91.3 121.7L92.7 121.9L94.0 122.5L94.8 123.7Z" fill="#fdc086"/></g>
<g transform="scale(0.25)" fill="none" stroke-linecap="round"><path d="M230 458zm3-13zm-3-2zm2-9zm5 0zm-8 0zm10 0zm-6-2zm-2-1zm3-1zm5-4zm-6-4zm5-3zm-10-3zm2-6zm4-3zm37-8zm-11 2zm14 0zm-21 0zm-9 0zm14 1zm19 1zm2 1zm-22 1zm-13 0zm10 3zm5 1zm-1 1zm-10 2zm9 1zm-10 1zm16 0zm-23 1zm22 0zm-11 2zm0 1zm-3 0zm2 1zm26 0zm-21 3zm21 0zm-12 1zm9 0zm-3 0zm-4 0zm13 1zm-32 1zm23 0zm-27 1zm31 1zm-28 0zm1 1zm-4 0zm5 0zm28 2zm-33 1zm29 0zm-18 3zm-6 0zm14 1zm-21 0zm14 4zm-13 1zm9 1zm-7 0zm30 1zm-12 1zm4 1zm-13 1zm-4 0zm12 0zm18 1zm-12 1zm-16 0zm18 1zm-2 1zm-19 0zm23 3zm2 1zm5 1zm-24 1zm-13 0zm5 0zm12 2zm21 1zm0 5zm-9 0zm-15 0zm10 1zm1 2zm27 9zm-9-12zm-3 0zm3-4zm4-1zm11-2zm-9-2zm13 0zm-21 0zm32 0zm-15-3zm2 0zm2-3zm-15-3zm-5 0zm9-1zm-1-1zm15-1zm-2-1zm2-1zm-3-1zm-14 0zm17-1zm-21-1zm15-1zm0 0zm6 0zm-24-2zm13-1zm-5 0zm17 0zm12-2zm-22 0zm-12 0zm-4-1zm20 0zm-10-4zm0-1zm1 0zm6-1zm-18 0zm28-1zm6-1zm-26-1zm16-3zm-9 0zm-10 0zm16-1zm5 0zm-13-2zm-5-1zm15-1zm-17-1zm4-1zm5-1zm2 0zm-11-3zm10-1zm-4-1zm-2-1zm-6-1zm3-1zm10-5zm1-3zm29 39z" stroke="#386cb0" stroke-width="4.4"/><path d="M78 317zm-3-2zm-1-6zm-3 0zm2-2zm1-4zm28-23zm-2 3zm12 0zm-5 1zm-24 3zm10 1zm8 0zm1 2zm-19 1zm8 1zm-9 0zm3 0zm22 1zm-24 1zm1 0zm35 1zm-14 0zm-23 1zm16 0zm8 0zm-3 1zm-4 0zm11 1zm-18 1zm4 0zm-5 0zm14 0zm-7 0zm-1 1zm-15 1zm2 0zm4 1zm25 0zm6 1zm-6 0zm2 0zm-33 0zm16 0zm-16 0zm22 1zm5 1zm-24 0zm25 0zm-17 1zm22 0zm-11 0zm-3 1zm-2 0zm-8 0zm2 1zm24 0zm-31 0zm33 1zm-2 0zm-14 1zm-21 0zm36 0zm-13 1zm8 0zm-17 0zm-13 1zm-3 1zm28 0zm-14 0zm-12 1zm35 0zm-32 0zm13 2zm-3 0zm-10 0zm11 0zm18 0zm-27 0zm5 1zm18 0zm-19 1zm27 0zm-5 0zm-13 0zm14 1zm-12 1zm-1 1zm8 0zm7 0zm-10 2zm11 1zm-1 1zm-3 0zm-6 0zm-5 1zm-3 1zm5 0zm5 0zm-9 0zm-8 1zm-8 0zm26 1zm8 0zm-22 1zm13 1zm-1 1zm6 1zm-2 1zm-21 0zm-6 0zm25 0zm8 1zm-3 4zm-1 1zm3 1zm7 7zm9-1zm-11-1zm16-1zm-10-2zm-7-2zm23-1zm-5-1zm0 0zm-8 0zm19-2zm-18 0zm2 0zm-14-1zm2 0zm21-1zm-16 0zm12 0zm-1-1zm2 0zm-5 0zm-12-1zm23 0zm3-2zm-11-2zm1-1zm10 0zm5 0zm-33-1zm25 0zm12-1zm-23-1zm-1 0zm0-1zm-3-1zm-1 0zm8-2zm3 0zm-2-1zm0-1zm15 0zm-32-1zm18-1zm-5-1zm-5-1zm13 0zm0 0zm-18-1zm10 0zm0 0zm14-2zm-12 0zm15 0zm-28 0zm27 0zm-23-1zm16 0zm3 0zm-7-1zm2-1zm-5 0zm11-1zm9-1zm-10-1zm-5 0zm5-2zm1 0zm-26 0zm0-1zm14 0zm14-2zm-5-3zm-17-1zm3-1zm8 0zm-4-4zm13 0zm-13-1zm8-1zm-5-1zm24 21zm-1 29zm102-30zm2 0zm-3 7zm-11 0zm14 1zm-2 2zm-4 1zm-6 5zm2 0zm16 0zm-10 1zm-8 11z" stroke="#e41a1c" stroke-width="4.4"/><path d="M352 269zm-21 2zm15 2zm2 0zm-9 1zm8 1zm-8 4zm-11 0zm15 1zm15 0zm-16 1zm-15 0zm31 0zm-23 1zm11 1zm0 1zm-13 0zm-7 1zm31 0zm-8 1zm-19 1zm4 0zm-4 1zm1 0zm5 1zm-2 1zm-1 1zm8 2zm-8 1zm-3 2zm0 0zm13 0zm15 0zm-34 2zm30 0zm-16 0zm-9 0zm21 3zm9 0zm-25 1zm8 0zm-5 1zm6 1zm16 2zm-26 0zm19 0zm-8 1zm-6 0zm13 2zm2 1zm-13 1zm9 0zm-8 1zm3 1zm-4 0zm1 0zm-15 0zm21 2zm-17 0zm9 0zm16 0zm-19 2zm-12 0zm21 0zm-8 2zm1 1zm11 1zm-26 4zm33 0zm-24 1zm-3 2zm18 1zm12 0zm-32 2zm2 2zm7 1zm6 0zm14 1zm-14 1zm-22 2zm12 1zm9 2zm-1 0zm8 1zm-21 0zm24 2zm-18 2zm5 5zm12 0zm0 0zm-4 1zm-1 3zm15-28zm4-2zm1-1zm-1-8zm-4-2zm6-1zm-2 0zm16-1zm-20 0zm12-4zm12-2zm0-1zm-14 0zm10-1zm1 0zm-11-1zm4-1zm3-1zm-8 0zm13-1zm1 0zm5-1zm-19 0zm-3-2zm-4-1zm11-1zm-7-1zm6 0zm4-1zm-1-3zm9-3zm-18-4zm-5 0zm0 0zm26-2zm-1 0zm-16-1zm13 0zm-7 0zm-16-8zm2-1zm3 0zm-2-1zm3-2zm14 0zm-17-2z" stroke="#ffff99" stroke-width="4.4"/><path d="M513 357zm3 4zm-10 2zm3 3zm3 1zm-9 0zm8 1zm-2 0zm7 0zm2 0zm-4 2zm5 1zm-10 1zm4 2zm-11 0zm12 2zm-5 1zm0 0zm-2 0zm9 1zm1 4zm-25 0zm7 1zm11 1zm-7 1zm5 1zm2 1zm-5 2zm12 1zm-2 1zm3 1zm-14 1zm14 0zm-10 0zm5 1zm6 1zm-18 1zm7 0zm3 1zm2 0zm6 1zm-12 1zm-2 1zm9 8zm3 1zm2 5zm-5 1zm-7 1zm47 14zm-17-5zm-10-3zm7 0zm11-1zm-1 0zm15-1zm-14-1zm-18 0zm21 0zm9 0zm-25 0zm16-2zm7-3zm-11-2zm1-2zm-24 0zm26-1zm-4-1zm14 0zm-10-1zm12 0zm-35-1zm29 0zm2 0zm-4-1zm6-1zm0-1zm-6-2zm2 0zm-5 0zm8-2zm-7-1zm-29-1zm32 0zm-21-1zm10-1zm2 0zm-13 0zm28-1zm-26-2zm5-1zm7 0zm-24-1zm7 0zm18-1zm-21 0zm31-1zm-6 0zm-18 0zm-8-1zm26 0zm-6 0zm-12 0zm7-1zm7 0zm11-1zm-16-1zm-4 0zm-13-1zm27 0zm-30-2zm34 0zm-19-1zm22 0zm-3-1zm-1 0zm-19-1zm11 0zm12 0zm-13 0zm-16-1zm10 0zm10 0zm-12 0zm5-1zm-14 0zm4-1zm-3-2zm12 0zm8 0zm5 0zm3-1zm-34-1zm5-1zm7 0zm2 0zm-16 0zm10-1zm8-1zm-17-1zm16 0zm10 0zm1 0zm-26-1zm4-1zm30-1zm-29-1zm-4-1zm9-3zm0-1zm8 0zm-19-1zm20-1zm-3 0zm-17-1zm23-1zm-21-1zm37 2zm0 7zm10 6zm-5 1zm6 1zm-10 3zm0 2zm23 0zm-6 0zm-16 1zm14 1zm-2 0zm-11 2zm8 1zm16 2zm-12 0zm3 0zm8 0zm-24 0zm13 0zm-12 0zm27 2zm-13 0zm-8 0zm11 0zm14 0zm-34 1zm14 0zm18 1zm-15 0zm-5 1zm24 1zm0 1zm-32 0zm14 1zm8 1zm1 3zm-25 0zm6 2zm16 2zm-20 0zm-3 1zm11 0zm9 1zm-10 0zm18 1zm-24 0zm9 1zm-4 0zm15 1zm5 0zm-20 1zm14 1zm-22 1zm21 0zm-5 0zm13 1zm-9 0zm-16 1zm18 2zm6 0zm-23 1zm9 0zm-4 1zm-10 1zm12 2zm-13 3zm4 1zm1 3zm-4 5zm38-27zm2-4z" stroke="#b5790f" stroke-width="4.4"/><path d="M393 460zm3-13zm-3-7zm1-11zm-1-1zm3 0zm2-4zm-1 0zm-1-2zm-1-1zm-2-2zm-6 0zm-25-3zm32-8zm-7-8zm5-1zm38-6zm1 5zm0 2zm-14 1zm-6 1zm16 1zm-19 2zm31 0zm-17 1zm-10 1zm-1 0zm-1 0zm0 1zm0 2zm12 1zm5 1zm3 0zm-18 0zm-11 1zm19 0zm-8 0zm17 1zm-9 0zm-7 1zm1 0zm-1 2zm-13 1zm22 1zm-3 0zm14 1zm5 1zm-35 2zm-2 0zm29 0zm6 1zm-34 0zm1 0zm33 1zm-34 0zm5 2zm7 0zm-1 1zm-8 1zm15 1zm1 0zm-5 1zm23 0zm-2 2zm-33 0zm18 1zm-7 0zm3 0zm16 1zm-26 1zm29 1zm-21 1zm-12 1zm33 1zm1 0zm-4 0zm-18 1zm11 0zm4 1zm-18 0zm6 0zm14 3zm4 0zm-14 1zm-9 3zm3 2zm-13 1zm16 1zm-4 1zm22 0zm-25 0zm5 1zm7 0zm6 1zm-6 1zm12 1zm-3 0zm4 1zm-20 0zm10 0zm-8 1zm11 1zm-23 0zm30 0zm-5 1zm-10 3zm12 0zm-11 0zm11 1zm-3 2zm0 3zm-7 4zm31 0zm-16-14zm11 0zm12-2zm-9-3zm-11-1zm2-1zm15-1zm-12-3zm-4 0zm16-3zm-8-3zm3-1zm-7-2zm14 0zm-13-1zm-3-3zm0 0zm-1-1zm-5-1zm3 0zm21-1zm-5-1zm-14 0zm25-1zm-26 0zm7 0zm-5-3zm-2-5zm12-1zm-6-3zm5-1zm3 0zm-14 0zm10-1zm0-3zm-3-3zm-9-5zm3-1zm-3-3zm18 0zm-18-2zm13 0zm0-9z" stroke="#666666" stroke-width="4.4"/><path d="M218 582zm18-36zm3-1zm0-1zm-13-1zm13 0zm-18-1zm13-1zm4 0zm-2-1zm-28-5zm17-1zm-12-2zm21-1zm1 0zm2-1zm-6-2zm4 0zm-1-2zm4-1zm-6-1zm-12-1zm11-3zm3-1zm-7-1zm-26-9zm38-5zm-7-10zm4 0zm23-34zm10 30zm-7 2zm-2 5zm13 1zm-2 1zm3 1zm3 0zm-15 1zm-13 1zm-9 1zm14 3zm-2 1zm7 1zm-6 2zm-8 2zm24 1zm-7 0zm-15 0zm22 1zm-26 0zm36 1zm-9 1zm-9 1zm-1 1zm14 1zm-13 1zm-17 0zm13 0zm20 1zm0 1zm-22 0zm22 1zm-10 0zm-9 1zm12 0zm-17 1zm-10 1zm20 0zm-4 2zm-19 1zm19 0zm-13 1zm22 1zm-20 1zm24 2zm-3 0zm-20 1zm-8 0zm11 1zm-1 0zm9 0zm-16 2zm-2 0zm21 2zm-19 1zm26 0zm-7 1zm-10 0zm10 0zm9 0zm-4 2zm-7 1zm-17 0zm10 0zm3 1zm-3 0zm22 0zm-27 1zm11 1zm11 2zm-14 0zm7 0zm-3 0zm-2 1zm-6 0zm18 1zm3 1zm3 1zm-10 2zm11 1zm-30 1zm-5 0zm30 1zm-5 1zm0 1zm5 0zm-7 1zm-4 1zm0 0zm0 0zm-14 1zm7 0zm-5 0zm11 0zm-14 0zm32 1zm-33 0zm15 4zm-11 1zm15 0zm-4 3zm13 2zm2 1zm-4 0zm-11 1zm3 1zm15 1zm-17 7zm51 0zm4-1zm-2-2zm0-1zm-15 0zm-10 0zm27-2zm-3 0zm-6-1zm-23-1zm21 0zm6-1zm-14 0zm-11-1zm24-2zm-11 0zm-17 0zm32-1zm-11 0zm-20-1zm10 0zm-13 0zm23 0zm12-1zm3 0zm-26 0zm-12 0zm2 0zm27 0zm-14-3zm7 0zm15-1zm-38-1zm32 0zm-8-1zm7 0zm-11 0zm-12 0zm11 0zm0 0zm-16-1zm28 0zm-27 0zm14-3zm12-2zm-28 0zm29 0zm-13 0zm19-1zm-5-1zm-5-1zm-7 0zm13 0zm-18 0zm-3 0zm5-1zm9 0zm7 0zm-17-1zm1 0zm19-2zm-21-1zm-9-1zm29-1zm-20-1zm19-3zm-3 0zm-24 0zm15-1zm5 0zm-13-1zm2 0zm19-1zm-28-1zm-2 0zm-5-1zm16-1zm20 0zm-34-1zm37-3zm-7 0zm4-1zm-15-5zm18 0zm-30-1zm-8-1zm23-1zm6-2zm-14-2zm-1 0zm24-1zm-12-2zm-2-1zm13-2zm-27-1zm7-1zm6 0zm-9 0zm-11-1zm3 0zm28-1zm-28 0zm25 0zm-10-1zm2 0zm-22-1zm15 0zm20 0zm-24-1zm5 0zm1 0zm10-5zm7 0zm-4 0zm-9-1zm-11 0zm1-4zm-7-1zm17 0zm-20-2zm-3 0zm7 0zm-6-1zm35-1zm-36 0zm21-1zm-8 0zm16-1zm-22-1zm25-4zm-8-8zm2-1zm48 4zm-24 10zm17 4zm-7 0zm-20 0zm22 0zm-11 1zm4 1zm12 1zm-18 0zm12 1zm-21 1zm13 0zm-7 0zm23 1zm1 0zm7 1zm-6 1zm-19 0zm11 0zm-10 2zm-4 0zm26 0zm-13 1zm8 1zm-13 2zm-10 1zm9 0zm8 1zm-21 0zm3 1zm17 1zm-12 0zm27 2zm-12 0zm-2 0zm12 2zm-13 0zm6 3zm-29 1zm18 1zm-1 1zm-15 0zm18 2zm-13 0zm8 2zm5 0zm-4 1zm12 0zm-4 1zm11 1zm-12 0zm-22 0zm3 1zm24 1zm-26 0zm-1 1zm9 0zm13 2zm-22 0zm-1 2zm0 1zm14 1zm-5 0zm-5 0zm12 3zm-4 1zm5 0zm0 2zm-17 1zm23 1zm-1 0zm-8 2zm18 0zm3 0zm-24 0zm15 2zm-21 0zm32 1zm-14 0zm-22 0zm38 0zm-13 0zm-25 1zm16 0zm19 0zm3 1zm-12 0zm-6 0zm-11 2zm26 1zm-10 1zm-14 1zm4 2zm21 1zm-18 1zm18 2zm-30 0zm30 0zm-17 1zm-11 0zm12 0zm8 1zm-5 2zm-1 1zm-3 1zm8 1zm-13 0zm-13 1zm32 3zm-13 1zm8 1zm-11 0zm-9 2zm-4 1zm10 1zm17 1zm-20 2zm41 3zm8-5zm8-3zm-5-8zm-7 0zm-15-1zm16 0zm2-1zm-6-1zm4 0zm-9-1zm15 0zm7-1zm3-3zm-6 0zm-11-3zm-7 0zm18 0zm-20-2zm4 0zm26-2zm-33-1zm-4-1zm30 0zm-26 0zm14 0zm18-1zm-9 0zm-3 0zm6-1zm5-1zm-23 0zm-7 0zm15-3zm-2 0zm15-2zm-13 0zm3-1zm5 0zm-19 0zm-10 0zm18-1zm-5-1zm-6 0zm21 0zm-11 0zm3-1zm18-3zm-21 0zm4-2zm7 0zm-26-1zm3 0zm13-1zm16 0zm-19-1zm2 0zm14-2zm-17 0zm20-1zm-33-2zm21-1zm15-1zm-12-1zm-21-1zm32-2zm-18 0zm11-1zm-10 0zm-9-2zm20 0zm-2 0zm7-2zm-26 0zm9-3zm-5-1zm-6-1zm6-1zm7 0zm-11-1zm7-1zm-3 0zm6-1zm3 0zm0 0zm-20-1zm4-1zm-3-1zm1-1zm2-6zm8-2zm-6-3zm4-17zm28 46zm12 1zm-12 0zm17 1zm-16 0zm6 1zm0 2zm-7 4zm11 0zm26 4zm-34 0zm3 0zm1 2zm0 1zm8 3zm21 0zm-32 1zm-1 7zm35 3zm-7 0zm-7 1zm-5 1zm14 7zm-11 7zm25-36zm16-8z" stroke="#ec7a0c" stroke-width="4.4"/><path d="M413 221zm2 2zm16 1zm-15 5zm22 1zm-3 2zm-1 0zm-5 4zm8 2zm-3 1zm-4 0zm-25 5zm26 2zm-9 0zm-8 0zm22 1zm-7 1zm6 2zm1 1zm-15 2zm2 2zm14 1zm-17 2zm-4 2zm14 0zm-6 2zm13 0zm-4 3zm-24 2zm27 0zm-33 0zm32 1zm-23 1zm13 3zm11 3zm-4 1zm-5 1zm-5 1zm-2 1zm4 1zm0 0zm-2 1zm4 2zm-7 1zm6 0zm10 0zm-1 2zm-5 3zm-3 0zm8 1zm1 1zm3 0zm-14 3zm5 0zm-3 1zm12 3zm-5 1zm-5 4zm8 7zm2 0zm32 19zm-6-5zm-12-9zm10-1zm-2-1zm5 0zm10-2zm-1 0zm-7 0zm-10 0zm-14-1zm13 0zm-4 0zm-2 0zm19-1zm-20-1zm-7-1zm10 0zm9 0zm-8 0zm-6-1zm18-1zm-21-1zm31 0zm-9 0zm-5-1zm-4 0zm19-2zm-12 0zm-23-2zm28-1zm-25-1zm7 0zm-9 0zm11-1zm-9 0zm30-1zm1 0zm-5-1zm5 0zm3-2zm-33 0zm-3 0zm4-2zm7-1zm11-1zm-7-1zm-13 0zm26 0zm-12 0zm7-1zm-4-1zm11 0zm-28-1zm14-1zm-8-1zm11 0zm8 0zm-8-1zm4-1zm2 0zm-6 0zm-16-1zm0 0zm3-1zm-4 0zm-4-2zm7 0zm-2 0zm25-1zm-4-2zm-10-1zm-5-1zm3 0zm1 0zm6 0zm-4-1zm-5 0zm4 0zm3 0zm9-1zm8-1zm-34-1zm16-2zm6 0zm-15-1zm29 0zm-22-2zm-13 0zm8 0zm6-1zm18 0zm-26-1zm23 0zm-4-1zm-4-1zm9 0zm-3 0zm-5 0zm-10-2zm-8 0zm-5-1zm0 0zm24-1zm7-1zm-25-1zm12 0zm6 0zm13-2zm-16-1zm-2 0zm5-1zm7-1zm-3 0zm-5-1zm-25 0zm17 0zm22 0zm-9 0zm-2-1zm0 0zm-20 0zm0-2zm-4-3zm29 0zm-15 0zm-5 0zm6-1zm-16 0zm1-1zm18-1zm5-2zm-18-1zm23 0zm-31 0zm19-1zm-7-2zm-13 0zm33-1zm-13-1zm-12-1zm12 0zm-4-1zm-10-1zm1 0zm7-1zm20-1zm-1-8zm-14-11zm27 30zm-5 4zm2 7zm12 4zm-7 1zm-6 2zm6 1zm1 4zm2 1zm5 0zm11 3zm-25 1zm6 3zm12 2zm-14 1zm5 2zm-4 3zm0 0zm4 1zm-1 1zm3 1zm-11 4zm4 1zm-2 11zm2 1zm-1 2zm-4 1zm11 5zm-11 1zm8 13zm-9 8z" stroke="#bf5b17" stroke-width="4.4"/><path d="M198 189zm-6 10zm-3 1zm-14 1zm13 0zm6 1zm1 0zm-3 1zm-1 1zm-2 4zm0 0zm-14 1zm7 0zm1 1zm1 1zm-9 1zm23 0zm-18 1zm-3 0zm18 0zm-20 0zm13 0zm-4 0zm2 1zm-1 0zm14 0zm-20 0zm-2 0zm14 0zm-28 2zm20 1zm9 3zm-20 0zm21 0zm-17 1zm7 1zm11 0zm-2 0zm-17 0zm6 2zm5 0zm3 0zm-2 0zm12 2zm-13 1zm6 0zm-13 3zm18 0zm-34 1zm27 1zm-13 0zm16 1zm-2 1zm-6 0zm5 1zm-3 0zm8 1zm-21 0zm16 1zm-8 0zm-6 1zm13 0zm0 1zm-29 0zm29 2zm-20 1zm22 0zm-3 2zm-1 0zm8 1zm-8 1zm6 0zm1 3zm3 8zm-19 0zm10 1zm21 5zm5-1zm-13-2zm29-2zm-15 0zm21 0zm-24-2zm-4 0zm12-1zm-16 0zm25-1zm-3 0zm-4 0zm3 0zm-16-2zm0 0zm6 0zm2 0zm3-1zm4 0zm-8-3zm4-3zm-15 0zm20-1zm-6-1zm20 0zm-19-1zm17-2zm-24 0zm-4 0zm0 0zm17-1zm-18 0zm-5-1zm16 0zm-3-1zm17 0zm-28-1zm12 0zm-9-1zm-6 0zm31 0zm3-1zm-24 0zm14-1zm10 0zm-3 0zm-19-1zm0-2zm25 0zm-8-1zm-19-2zm0 0zm23 0zm0-1zm-33-1zm4 0zm16 0zm8-1zm-23-1zm15 0zm12-1zm2 0zm-25-3zm25 0zm-14 0zm-6 0zm16-1zm-18-1zm6 0zm16 0zm-22-1zm24 0zm-19-1zm-1 0zm5-1zm-10 0zm23-1zm-2 0zm5-1zm-33 0zm9 0zm-7 0zm4-2zm14 0zm-9-1zm11 0zm-25 0zm35-1zm-26-1zm5 0zm15-1zm3-1zm-16 0zm4-1zm-13 0zm-7-2zm7 0zm10-1zm-14 0zm3 0zm4-1zm-2-1zm-7-2zm9 0zm-3 0zm20-2zm-18 0zm-6-1zm1-3zm9-4zm24 18zm6 6zm-6 9zm1 1zm-1 6zm9 6zm-5 4zm-4 6zm9 3zm-9 5zm4 4z" stroke="#f0a900" stroke-width="4.4"/><path d="M197 406zm-2 1zm-5 10zm6 2zm3 2zm-5 0zm-5 2zm0 0zm8 1zm2 1zm0 0zm-4 2zm1 1zm-4 2zm3 5zm-1 10zm30 4zm0-2zm-11-1zm21-1zm-4-2zm-1 0zm-9 0zm-10-1zm1 0zm19 0zm-24-1zm21 0zm10-1zm-9 0zm-7 0zm-13-1zm-6-1zm9-2zm5 0zm21-1zm0 0zm-27-1zm15 0zm1 0zm-17 0zm14 0zm13-1zm-35-1zm34 0zm-8-1zm-22 0zm0-1zm-3 0zm11-2zm-9-1zm33-1zm-11 0zm2-1zm9 0zm-7 0zm-27 0zm11 0zm-12-1zm9 0zm22 0zm-19-1zm11 0zm-9 0zm-14 0zm10 0zm12-1zm4-2zm-25 0zm11 0zm-11 0zm11-1zm8 0zm-10-1zm-11-1zm26-1zm-18-1zm28 0zm-31 0zm0 0zm5-2zm-4 0zm12-1zm1-2zm-20-1zm11 0zm3 0zm19 0zm-12-1zm2 0zm-19-1zm35-2zm-22 0zm-3-1zm-5 0zm-1-1zm-4 0zm12 0zm18-1zm-18 0zm-8 0zm29 0zm-1-1zm-30 0zm21 0zm7-2zm-7-1zm-15-1zm13 0zm-1-1zm-8 0zm-13-1zm26 0zm-17-1zm25 0zm-5-1zm5 0zm-2 0zm3-1zm-21-1zm-14-1zm14-1zm13-2zm8-1zm-30 0zm18-3zm12 0zm-6 0zm5-2zm1-1zm2 5zm10 3zm-10 3zm16 2zm-11 1zm5 2zm17 1zm-10 2zm-2 0zm-12 1zm16 1zm-9 1zm8 1zm-11 1zm3 0zm-8 0zm21 4zm-13 0zm-5 1zm8 0zm3 0zm-6 0zm0 1zm6 0zm8 1zm-16 2zm7 0zm10 1zm-13 1zm-9 3zm5 0zm9 0zm-2 0zm-8 1zm-4 1zm0 1zm-2 1zm9 2zm-1 1zm-9 0zm18 1zm-16 1zm15 4zm-4 0zm-10 2zm4 2zm3 1zm-9 1zm24 6zm-16 2z" stroke="#f0027f" stroke-width="4.4"/><path d="M153 336zm-16-2zm22-3zm-12-8zm9-2zm-1-3zm-8-2zm11-3zm0 0zm-6 0zm-12-20zm51-5zm-15 3zm-8 0zm11 1zm11 0zm-10 1zm-3 0zm-6 1zm23 0zm-9 0zm-18 0zm12 0zm4 0zm-7 2zm12 0zm-26 1zm26 1zm-28 2zm16 0zm-7 0zm3 0zm-5 0zm2 1zm8 0zm-15 1zm18 0zm16 1zm-35 1zm3 1zm6 0zm-3 1zm14 0zm8 0zm-4 0zm-20 1zm9 0zm24 1zm-18 0zm-5 1zm10 1zm-22 0zm23 1zm-6 0zm13 4zm6 0zm-15 1zm14 1zm-10 1zm-4 0zm-11 0zm1 2zm0 0zm-10 0zm22 1zm4 0zm-20 1zm19 0zm-8 0zm-9 1zm24 0zm-35 1zm17 2zm-17 1zm22 1zm-13 2zm-6 0zm5 0zm22 0zm-25 0zm28 0zm-32 1zm19 1zm-10 1zm-7 1zm7 0zm-5 1zm30 1zm-35 1zm-1 1zm28 1zm-6 0zm-1 0zm-14 2zm21 1zm-16 0zm0 0zm-1 1zm5 0zm4 0zm-16 1zm9 0zm17 0zm-12 1zm-18 0zm16 1zm10 2zm17-18zm-3-1zm3-2zm2-5zm0-2zm2-7zm-3 0zm3-1zm-7-6zm11-6zm-3 0zm-8-1zm3-1z" stroke="#f781bf" stroke-width="4.4"/><path d="M394 516zm5 0zm-18-4zm-2-2zm4 0zm-5-7zm19 0zm-6-6zm0-1zm2-6zm-3-1zm4 0zm27-13zm3 4zm2 1zm-10 1zm17 2zm-16 0zm-12 1zm22 1zm-25 0zm1 1zm13 3zm-15 3zm34 1zm-13 0zm8 4zm-30 2zm30 3zm3 1zm-15 0zm-11 1zm30 0zm-30 1zm21 0zm-7 3zm8 0zm0 0zm-15 1zm-6 1zm19 1zm3 1zm7 0zm-18 1zm-15 2zm-4 2zm33 1zm-1 0zm-11 3zm9 0zm-16 0zm-14 2zm26 1zm7 3zm-33 2zm1 9zm45-17zm4-1zm-3-10zm6 0zm-10-6zm-3-4zm24-4zm-18-1zm-6-5zm2-6z" stroke="#ccebc5" stroke-width="4.4"/><path d="M433 157zm2 2zm-10 0zm14 2zm-3 10zm-2 4zm3 3zm41 14zm-27-2zm20 0zm7 0zm-10-2zm3-1zm-9-1zm17 0zm-3 0zm-4-1zm6 0zm-20-1zm2-1zm19 0zm-16-2zm5-1zm10-1zm-36-1zm35-1zm-9-1zm-11-1zm15-1zm-14-3zm17 0zm-1-1zm-11 0zm-19 0zm13-1zm-2-1zm18 0zm-10-2zm-8-1zm-1-2zm21-1zm-17-1zm-4 0zm24 0zm-24-1zm2 0zm-11-1zm33-2zm-31-2zm-2-1zm21 0zm-7-3zm-1 0zm12-1zm-23-2zm-1-1zm29-1zm-22-1zm-3 0zm15-1zm8-2zm-14-2zm9-1zm16 6zm-4 3zm8 1zm5 1zm-9 1zm25 1zm-29 0zm0 0zm3 2zm14 1zm-11 1zm-2 2zm9 2zm-10 0zm5 1zm8 0zm5 1zm-3 2zm-2 2zm0 1zm-13 2zm3 1zm21 0zm-9 2zm-9 0zm-1 1zm8 2zm-12 0zm9 1zm-4 1zm0 1zm6 0zm-15 2zm20 1zm3 1zm-12 4zm-5 0zm-5 2zm3 5z" stroke="#cab2d6" stroke-width="4.4"/><path d="M317 274zm-8-4zm-2-1zm-3-1zm15-6zm-3-3zm-16 0zm9-1zm6-1zm3-1zm-5-1zm-10-1zm15 0zm-1-1zm-5-3zm3 0zm-2 0zm2-1zm2 0zm-19 0zm-1 0zm0 0zm15-1zm-6-1zm8 0zm-8-2zm-2 0zm2-4zm11 0zm-5-1zm0-1zm6-1zm-33-2zm17 0zm14-1zm-10-1zm7-2zm-10-1zm14-1zm-19 0zm8-1zm-5-1zm13-3zm-3-2zm-8-2zm2 0zm5-2zm1-2zm5-1zm3-6zm-4 0zm0-2zm0-2zm-3-2zm-4-1zm35-16zm-3 11zm-17 0zm-1 0zm-2 1zm16 2zm1 1zm-6 0zm3 1zm8 0zm3 0zm-17 1zm-6 0zm1 2zm-1 0zm29 0zm-3 2zm-18 0zm14 1zm-14 1zm7 0zm-3 1zm13 0zm-21 1zm29 1zm-33 0zm0 0zm29 0zm-15 1zm21 0zm-13 1zm-24 0zm11 1zm21 0zm-32 0zm12 0zm-2 0zm26 1zm-11 0zm8 0zm-22 1zm-5 0zm16 0zm-14 1zm16 1zm0 1zm9 1zm-20 0zm11 1zm-20 1zm26 0zm-22 1zm22 0zm-3 1zm-20 1zm13 0zm-15 0zm10 1zm19 0zm-25 1zm-9 0zm3 1zm4 0zm-5 0zm35 0zm-35 0zm0 1zm24 0zm10 1zm-36 0zm27 3zm-12 0zm14 1zm-10 0zm19 1zm-30 0zm10 1zm-5 0zm4 0zm10 1zm-26 0zm16 1zm22 0zm-36 1zm25 1zm-25 0zm0 0zm8 1zm14 0zm-25 0zm6 0zm-4 2zm25 0zm4 2zm-19 0zm3 0zm-13 0zm36 0zm-20 0zm7 0zm-18 2zm3 0zm15 2zm-14 0zm-6 1zm21 0zm-24 1zm10 0zm11 0zm-5 2zm-12 0zm32 1zm-8 1zm8 1zm-36 0zm1 1zm15 1zm-14 0zm1 1zm-3 0zm-2 0zm7 1zm25 1zm-31 1zm0 1zm18 0zm-12 1zm-4 0zm-2 1zm3 1zm10 1zm9 1zm11 0zm-8 0zm-14 1zm20 0zm-18 2zm-13 3zm23 3zm18-12zm-1-2zm12 0zm-6-4zm-5 0zm-1 0zm10-3zm1-2zm-12-1zm6-2zm0-2zm-6-3zm12 0zm2-5zm-4-2zm1 0zm0-1zm-5-1zm5-2zm-4-3zm1-1zm12-1zm-16 0zm-1 0zm2-3zm2-2zm-2-1zm-1-3zm-3 0zm1-1zm11-5zm-6-1zm-3-4zm5-4z" stroke="#7570b3" stroke-width="4.4"/><path d="M222 521zm17-8zm-9-1zm-1-5zm10-1zm-3-1zm-4-2zm3-1zm-5-4zm-3 0zm10-1zm1 0zm-28-1zm27 0zm-1 0zm-15-1zm5-2zm-9 0zm-5-1zm9 0zm14-2zm-21 0zm3-1zm18 0zm-9-1zm9-2zm-14-1zm8 0zm1-1zm-3-2zm-3-1zm-3 0zm-3-1zm2 0zm13-2zm-14 0zm-4 0zm11-1zm-8 0zm14-2zm-7 0zm0-1zm-20 0zm34-3zm-14-1zm-9-1zm7-1zm12 0zm-4-2zm-14-4zm13-8zm10-2zm12 6zm-7 2zm8 0zm-3 1zm25 0zm-26 2zm26 1zm-15 0zm-3 1zm14 1zm7 0zm-35 0zm23 4zm-13 1zm20 0zm-30 2zm13 2zm-13 1zm34 0zm-34 0zm18 1zm-6 3zm-8 1zm22 3zm-27 2zm35 1zm-25 0zm1 1zm-8 1zm16 0zm4 1zm2 2zm4 2zm-31 0zm19 2zm12 1zm-11 0zm-5 3zm1 0zm1 0zm2 1zm-17 1zm28 0zm9 1zm-33 0zm1 2zm18 0zm11 0zm-23 1zm21 0zm-4 0zm-27 0zm11 1zm-12 1zm31 1zm-12 1zm2 1zm-11 1zm6 0zm20 2zm-1 0zm-32 2zm23 0zm-26 0zm10 2zm11 3zm-16 2zm4 0zm31-5zm5-12zm6-2zm-2-2zm15-5zm-16-4zm-3-4zm1-2zm-3-1zm8 0zm-11-1zm-1-1zm8-1zm-6-3zm-1-3zm1-1zm7 0zm-9-19zm73 43zm5 10zm-6 1zm21 2zm-6 0zm-5 0zm2-3zm7-5zm-2-2zm-2-3zm0-1zm14-1zm-19 0zm-1-2zm10-3zm-2-2zm-2-3zm8-1z" stroke="#fdc086" stroke-width="4.4"/><path d="M472 246zm16-77zm30 16zm-3 1zm-8 3zm5 1zm-7 1zm2 1zm-6 2zm16 2zm-18 0zm17 1zm-7 1zm7 1zm-11 0zm3 1zm11 1zm-2 2zm-11 0zm0 2zm7 4zm0 6zm-20 1zm3 0zm10 1zm-9 0zm-4 5zm10 1zm14 0zm-10 2zm-6 0zm10 1zm-8 1zm12 0zm-16 1zm13 1zm7 1zm-30 0zm7 2zm-1 1zm7 1zm-15 0zm29 1zm-4 0zm-21 1zm23 1zm-25 2zm6 1zm14 0zm-9 1zm6 0zm-24 0zm26 0zm-10 0zm-9 3zm12 2zm16 1zm-36 1zm22 0zm-2 2zm-5 1zm-7 1zm19 2zm-10 2zm6 1zm1 0zm-16 3zm25 1zm-11 8zm3 0zm6 2zm-7 2zm-3 8zm-1 0zm26-6zm2-1zm-9-5zm1-3zm3-2zm0 0zm-4 0zm2-3zm4-1zm10-2zm-3-2zm-7 0zm-3-2zm3 0zm8 0zm3-2zm-1-3zm-7-2zm0 0zm2-3zm-1 0zm10 0zm-16 0zm13-3zm-6 0zm14-1zm-23-1zm2 0zm4-2zm-3-4zm8 0zm11-3zm3-1zm-21-1zm7-4zm17 0zm7-2zm-21-1zm-12-2zm6 0zm9-2zm-1 0zm-13 0zm13-4zm-11-3zm-4-1zm2-2zm4-4zm0 0zm4 0zm-11-4zm6-1zm-6-1zm-1-4zm6-3zm6-4zm-12-3zm4-4z" stroke="#984ea3" stroke-width="4.4"/><path d="M193 270zm-2 1zm2 1zm-4 2zm10 2zm-10 2zm1 4zm4 1zm0 1zm1 0zm2 3zm-2 4zm3 0zm1 9zm-1 0zm-1 3zm2 2zm-1 11zm33 8zm1-5zm-15-3zm-5-1zm14-1zm-3 0zm-5-1zm-4-1zm24-1zm-38-1zm24-1zm-15-1zm11-1zm-7-1zm22-1zm-19 0zm-3-2zm16 0zm-7-1zm7 0zm-2-1zm0 0zm-3 0zm-5 0zm19-1zm-25 0zm24-1zm-29 0zm27-1zm-18 0zm1-1zm-4-1zm11 0zm-19-1zm30 0zm-11-1zm-19 0zm19-1zm-17 0zm1-1zm-6 0zm-3 0zm1-1zm16-1zm11-1zm-15 0zm12-1zm-10-1zm21 0zm-17 0zm-6 0zm-13 0zm27-1zm-12 0zm7 0zm-8-1zm-5 0zm25-1zm-32 0zm5 0zm31-2zm-12 0zm6 0zm2 0zm-1-1zm-19-1zm-11-1zm17 0zm9-1zm6 0zm-21-1zm15-2zm7-1zm-25 0zm18 0zm-21 0zm1 0zm6-1zm24 0zm-36 0zm9 0zm15 0zm-10-1zm12 0zm-12 0zm0 0zm-17-1zm10 0zm28 0zm-21-1zm15 0zm-29-1zm30 0zm-14-1zm15 0zm-17-1zm0 0zm14-1zm7-1zm-4 0zm2 0zm-10-1zm7 0zm-29-1zm20 0zm4-2zm3-1zm-8-1zm22 6zm-5 4zm6 4zm-5 2zm0 3zm12 2zm-6 1zm4 1zm-7 1zm6 2zm-1 1zm-4 1zm-3 0zm5 3zm-3 0zm-1 2zm10 3zm-13 1zm10 0zm2 1zm-3 1zm-7 0zm-2 1zm2 2zm2 1zm-4 6zm3 0zm5 4zm-8 1zm2 2z" stroke="#ffff33" stroke-width="4.4"/><path d="M373 379zm15 0zm-6-3zm14-2zm1 0zm2-2zm-14-6zm13 0zm-2 0zm-3-2zm-9-1zm10-2zm0-1zm-4-2zm3 0zm-9-3zm5-3zm-8 0zm12-1zm2-1zm-2-2zm-16-1zm9 0zm10 0zm-20-2zm22-1zm-22 0zm18 0zm3 0zm-26 0zm12-1zm6 0zm-7 0zm-3-3zm20-1zm-13-2zm7-3zm-7-2zm-5-1zm15-6zm-17-1zm0-1zm15-1zm-8-1zm13-1zm-22-2zm2-1zm5-2zm-5-1zm10-1zm-14 0zm18-4zm-12 0zm11-9zm0-3zm4-1zm-15-7zm13-9zm4-13zm26-1zm-7 17zm16 0zm-18 0zm10 0zm2 1zm7 0zm-20 0zm5 1zm15 1zm-4 1zm-26 0zm3 1zm31 0zm-26 1zm10 0zm13 0zm-18 0zm7 2zm-1 1zm-6 0zm15 1zm3 0zm-30 2zm22 1zm-26 3zm13 1zm-9 0zm9 1zm3 0zm5 1zm-3 1zm18 1zm-28 2zm13 1zm9 0zm-7 1zm2 0zm-19 2zm15 0zm-17 2zm33 1zm-16 0zm7 0zm-26 1zm34 1zm-27 3zm-8 2zm18 0zm-10 2zm7 0zm-5 0zm22 1zm-31 1zm18 0zm-11 0zm12 0zm7 1zm4 0zm4 2zm-29 0zm-3 2zm12 1zm7 0zm12 1zm-29 0zm1 0zm-5 1zm2 0zm-5 1zm27 0zm-23 0zm21 0zm2 0zm-2 3zm10 1zm-30 0zm29 0zm2 0zm1 1zm-14 0zm-12 2zm-5 1zm29 1zm-31 0zm16 1zm-9 2zm-5 1zm18 0zm3 1zm-1 0zm-17 2zm27 0zm2 1zm-29 1zm8 1zm8 2zm-1 0zm-8 0zm-12 3zm-2 0zm20 3zm17 0zm-4 1zm1 0zm-10 0zm-4 1zm12 1zm-20 1zm7 0zm-3 1zm-15 0zm25 2zm-26 1zm14 0zm8 1zm-6 1zm19 0zm-28 0zm-1 1zm30 0zm-32 0zm-4 0zm-1 0zm2 1zm25 1zm-28 0zm17 0zm7 1zm-2 0zm1 0zm10 0zm-13 3zm10 1zm2 0zm-13 2zm-15 1zm10 0zm4 1zm13 1zm-22 0zm20 0zm3 1zm-6 1zm-15 2zm-4 0zm38 5zm16-6zm-18-2zm-2-4zm-1 0zm7-1zm0-3zm-4-1zm0-4zm22 0zm-23-1zm22-1zm-17 0zm10 0zm-2 0zm11-1zm0 0zm-1-1zm-5-1zm-12 0zm6 0zm7 0zm-18 0zm18-1zm-7-2zm2-1zm22-2zm-33-2zm11 0zm-1 0zm-15 0zm6 0zm3-1zm-7-1zm1 0zm16-1zm12-1zm-4-1zm-18 0zm6 0zm-6-1zm10 0zm18-1zm-36-2zm31-1zm-19-1zm-9 0zm29 0zm-23 0zm28-1zm-7-1zm-27-1zm6 0zm25-1zm-35-1zm17 0zm17 0zm4-1zm-7 0zm-24-1zm0-1zm26-1zm-25-3zm-6-1zm0 0zm0-1zm8-1zm11 0zm-16 0zm33-1zm-19-1zm-9 0zm7-1zm-12 0zm8-1zm21-1zm4-1zm-16-3zm3 0zm-5-1zm13-1zm0 0zm-2 0zm-28-2zm21 0zm-24 0zm25-1zm2-3zm-14-2zm22-1zm-2-1zm-33 0zm26-1zm5 0zm-9-1zm-1-1zm-10 0zm-7 0zm20-1zm-15 0zm1-1zm17-1zm-8-2zm7 0zm-4-5zm0-2zm-11 0zm-7-2zm1-4zm4 0zm-8-1zm10 0zm-2-1zm4 0zm-8 0zm4-6zm9-1zm-18-6zm11-3zm1-14zm32 44zm6 11zm4 5zm-3 1zm-10 5zm11 4zm-12 4zm6 9zm-5 1zm7 3zm-8 14z" stroke="#ee2a8b" stroke-width="4.4"/><path d="M197 152zm-3 3zm-3 0zm-3 1zm9 2zm-9 2zm1 0zm15 3zm-3-1zm13-1zm-7 0zm17 0zm-9-2zm6-1zm4-2zm-15-3zm-6 0zm17-1zm6-1zm0-2zm-11 0zm-12-1zm21-1zm-6-1zm334 188zm2-8zm-4-3zm0-6zm4 0zm-2-3zm0-3zm1-1zm5 0zm-6-1zm0 0zm1-1zm-16-2zm21 0zm0-1zm-4-2zm3 0zm-5-9zm39-5zm-2 3zm-2 1zm-20 0zm16 2zm3 0zm-22 0zm0 1zm-5 0zm36 2zm-9 1zm-4 1zm4 1zm-6 1zm17 0zm-30 1zm27 0zm-29 2zm-3 1zm15 0zm7 1zm-24 0zm18 1zm8 1zm-2 1zm7 1zm-31 1zm5 1zm9 0zm2 2zm-1 0zm22 1zm-3 2zm-12 3zm3 0zm-9 1zm-13 1zm4 0zm-8 3zm13 1zm19 1zm-11 0zm15 1zm-20 3zm17 1zm7-1zm5-5zm7-1zm-9-2zm9 0zm-12-4zm12-1zm5-1zm-12-9zm4-2zm6 0zm-3-1zm-3-4zm0-1zm-9-1z" stroke="#a6d854" stroke-width="4.4"/><path d="M277 359zm-14 7zm1 2zm4 1zm0 1zm2 2zm8 1zm-4 4zm5 3zm-3 2zm-10 1zm-3 10zm53 14zm2-1zm-8-4zm-6-1zm11-3zm2-1zm-17 0zm-7-1zm16-4zm-18-1zm28-1zm-27-1zm12 0zm11-1zm-10-1zm-2 0zm2-1zm-20-1zm23 0zm-4 0zm0-1zm-7-1zm14 0zm3-2zm-8-1zm-18 0zm15-1zm-6-2zm2-1zm-16 0zm1-1zm5 0zm1-1zm-7 0zm32-1zm-3 0zm-18-2zm15 0zm-16 0zm-5-2zm19 0zm-10-1zm-14 0zm1-1zm19-1zm-21-1zm37 0zm-14 0zm-12-2zm20-1zm-13-2zm-5-1zm-7-1zm9-1zm9-4zm21-5zm-5 3zm-2 1zm2 1zm0 2zm18 1zm-14 0zm6 0zm9 1zm-19 1zm5 2zm14 0zm14 1zm-24 1zm20 1zm-22 0zm25 0zm-11 0zm3 1zm-22 1zm31 2zm-5 1zm-7 0zm16 1zm-39 1zm4 1zm31 1zm-32 0zm19 0zm-7 1zm11 0zm-11 2zm20 0zm-7 2zm-11 1zm-5 1zm14 1zm-9 1zm-3 1zm-7 1zm5 1zm23 0zm4 1zm-9 1zm-13 0zm-17 1zm19 1zm-3 1zm1 0zm-1 2zm16 1zm-6 2zm-14 0zm13 0zm-5 0zm-8 1zm8 2zm-15 3zm25 0zm-21 0zm8 4zm27-12zm9-4zm-12-5zm8-4zm-6-2zm3-1zm-1-4zm-4-6zm1-1zm15-4z" stroke="#8dd3c7" stroke-width="4.4"/><path d="M263 250zm3 7zm6 3zm3 4zm-10 0zm-2 0zm1 1zm14 2zm-3 3zm-9 0zm-10 1zm8 1zm2 3zm-11 2zm2 1zm7 1zm-10 0zm2 1zm12 1zm4 3zm-13 6zm7 0zm5 3zm4 1zm-6 1zm-9 1zm9 0zm-5 1zm9 2zm-7 1zm13 0zm-21 1zm15 0zm-8 0zm15-13zm0-4z" stroke="#fccde5" stroke-width="4.4"/><path d="M390 361zm-7-2zm11 0zm-22-1zm-1-1zm1 0zm19-1zm-23-2zm-1-1zm5-1zm8-2zm1-3zm-7-1zm8 0zm7 0zm8-1zm-16-2zm8-2zm-5-1zm7 0zm-13 0zm14-1zm-21-2zm1 0zm-1 0zm6 0zm6 0zm7-3zm-5 0zm-8 0zm12-1zm0-4zm-1 0zm-19-1zm13-1zm15-1zm-4-1zm-18 0zm9 0zm-5 0zm20-1zm-35-1zm31 0zm-18-3zm9-1zm-21-1zm3 0zm9-1zm11 0zm8-1zm-27 0zm12-2zm8 0zm-1-1zm4 0zm-5-2zm-3-1zm21 19zm-4 2zm5 2zm-5 3zm5 3zm-3 2zm5 0zm5 7zm-13 2z" stroke="#3a77b6" stroke-width="4.4"/><path d="M277 470zm38 41zm-1-3zm-1-9zm1-20zm1-1zm-4-1zm-4-2zm-1-2zm3-1zm0 0zm-21-1zm-1-3zm16-2zm2-1zm7 0zm-29-2zm34-1zm0-2zm-1-1zm-7-1zm-12-1zm10-1zm-2 0zm6-1zm2 0zm-7-1zm-7-5zm16 0zm-10-1zm3 0zm3-2zm7-3zm-20 0zm14 0zm6-1zm-3 0zm-7-2zm-6 0zm11-1zm-7 0zm-14-1zm24-1zm-3-1zm3-2zm0-5zm-3-1zm-7 0zm-1-6zm9-3zm-1-1zm-2 0zm5-4zm3-1zm-1-4zm-4-17zm28 10zm6 1zm-2 0zm6 2zm6 1zm-24 0zm-1 1zm20 0zm-13 0zm-13 3zm17 1zm-10 0zm-12 0zm33 0zm-31 1zm1 1zm33 0zm-6 0zm-14 0zm-10 1zm20 1zm4 2zm-1 0zm-16 1zm-14 1zm21 0zm15 1zm-16 0zm2 1zm15 0zm-20 1zm-9 1zm0 0zm24 1zm-1 0zm-29 0zm-2 1zm34 0zm1 1zm-24 0zm-9 0zm7 0zm5 1zm15 0zm2 0zm-27 1zm-3 0zm7 0zm1 0zm6 2zm-12 0zm9 0zm-2 1zm-11 0zm7 1zm16 0zm10 0zm-24 0zm19 1zm-23 1zm9 1zm-1 2zm11 1zm-4 0zm-5 2zm9 1zm-22 0zm0 1zm30 1zm-25 0zm21 0zm-24 1zm35 0zm-8 2zm-2 0zm8 1zm-32 1zm5 0zm28 0zm-28 1zm-1 0zm15 0zm-14 2zm-2 0zm29 2zm-30 0zm22 1zm-17 0zm11 0zm10 1zm-9 0zm7 2zm-31 1zm34 0zm-21 3zm-13 0zm2 0zm24 0zm-4 2zm-17 1zm11 1zm14 1zm-30 0zm31 1zm3 0zm-5 0zm-8 1zm7 1zm-15 0zm12 1zm11 0zm-28 0zm-3 1zm2 1zm25 0zm-11 2zm-12 0zm4 0zm2 2zm-15 0zm16 1zm-13 0zm29 4zm-21 1zm-6 0zm25 0zm-28 2zm18 1zm18 1zm-7 0zm-15 0zm-9 1zm2 0zm29 3zm-1 2zm-3 1zm-18 2zm20 3zm-9 4zm-19 9zm19 2zm-13 12zm61-22zm-13-3zm-19-1zm-2-4zm22-1zm-7-1zm-12 0zm18-1zm-9 0zm-2-1zm24 0zm-3-1zm-18-2zm13-1zm-26 0zm18-3zm18-1zm-35 0zm6 0zm-3 0zm2-1zm15-3zm-4 0zm4-1zm-13 0zm11 0zm-18-2zm23 0zm10-1zm-8 0zm9-1zm-8 0zm2 0zm6-1zm-7 0zm-23-2zm28 0zm-33-1zm5 0zm9-2zm10-1zm-15-1zm-4-2zm26 0zm-9-1zm3-1zm-17 0zm6 0zm23-1zm-13-1zm12 0zm-13 0zm-5-1zm18-1zm-16 0zm-7 0zm12-2zm5-1zm-20-3zm-3 0zm29-1zm-21-1zm7 0zm2 0zm-25 0zm37-1zm-9 0zm7 0zm-20 0zm5-3zm12 0zm-7-3zm-6-2zm-18-3zm11-1zm-4 0zm8-1zm0-1zm22 0zm-34-2zm34-1zm-11-3zm9 0zm-11 0zm-6-3zm-5 0zm25 0zm-17-1zm-16 0zm30 0zm-29 0zm-4-1zm12-1zm2-2zm-13 0zm17 0zm0-3zm17 0zm-8-1zm-17 0zm10-1zm1-1zm6-1zm-17-1zm-12 0zm14 0zm-15-1zm12 0zm7-1zm-6 0zm-9-2zm17-1zm3 0zm-2-1zm-22 0zm7-1zm17 0zm-14-4zm-10-2zm25-1zm-20 0zm22-5zm27-2zm23 8zm-7 12zm-29 9zm3 1zm20 0zm-24 3zm36 2zm-33 5zm7 0zm-10 1zm4 1zm0 3zm3 0zm4 3zm4 0zm-14 2zm3 1zm27 5zm-10 1zm-21 2zm4 1zm3 1zm-5 2zm2 2zm-3 2zm2 1zm4 1zm4 1zm21 3zm-30 1zm4 1zm-6 1zm5 2zm-4 1zm12 11zm4 6zm14 1zm-28 12zm38-81z" stroke="#1b9e77" stroke-width="4.4"/><path d="M397 137zm2-1zm-11 0zm-3-5zm14-4zm-11-3zm-4 0zm-4-1zm6-1zm2 0zm7-2zm-9 0zm4-1zm9-1zm-26 0zm6-2zm19 0zm-36 0zm20-1zm5-1zm-4-1zm10-1zm-13-2zm6 0zm-2-1zm5-2zm-16-2zm20-3zm5-2zm16-2zm-5 5zm7 2zm-2 0zm3 0zm3 1zm-13 0zm31 2zm-33 2zm19 0zm2 1zm2 1zm-22 1zm10 0zm10 0zm4 1zm-16 2zm1 0zm6 0zm-11 0zm-4 0zm13 2zm17 1zm-35 0zm18 0zm9 1zm5 0zm-21 1zm9 0zm-11 0zm26 1zm-9 1zm-20 0zm11 1zm-13 1zm22 1zm-12 0zm-8 1zm-3 1zm7 0zm13 2zm0 2zm-21 0zm18 0zm-9 3zm-4 0zm-2 0zm9 1zm0 0z" stroke="#3dbf9d" stroke-width="4.4"/><path d="M270 308zm8 6zm-3 12zm9 6zm-3-5zm14-2zm-9-1zm16-1zm-2-2zm-7-1zm2 0zm12-3zm-7-4zm5-1zm-6 0zm-18-2zm20 0zm-12-1zm12-1zm-13 0zm-3-1zm-4 0zm3-1zm0 0zm0 0zm10-1zm12-1zm-15-2zm1-1zm14 0zm-14-2zm10-1zm-14-3zm-5-1zm18 0zm-14 0zm-1-2zm3 0zm11-1zm-13 0zm6-3zm-5-7z" stroke="#fdb462" stroke-width="4.4"/><path d="M431 210zm-8 1zm16 1zm-13 2zm8 4zm-16 1zm7 1zm3 3zm10 1zm-15 0zm8 2zm7 1zm1 6zm-4 1zm5 2zm5-2zm0 0zm-3-2zm10 0zm-2-1zm5 0zm1-3zm-14-4zm3-3zm10-1zm-4-3zm2 0zm-12-1zm5-1zm0-4zm39 118zm8 2zm2 0zm-7 1zm1 2zm17 1zm-5 2zm6 2zm-10 4z" stroke="#80b1d3" stroke-width="4.4"/><path d="M499 407zm17 0zm-21 3zm3 5zm7 0zm8 0zm3 2zm1 1zm-11 1zm-3 4zm-12 1zm26 1zm-8 1zm-6 1zm-16 0zm7 0zm24 2zm-12 0zm-4 0zm10 1zm-15 1zm3 0zm14 1zm-16 1zm0 4zm6 1zm5 0zm1 2zm-4 0zm6 1zm-10 4zm3 1zm12 2zm-5 1zm5 2zm5 8zm7-2zm1-2zm6-2zm11-4zm-21 0zm3 0zm4 0zm13-1zm-26 0zm13-7zm4 0zm16-1zm-22-1zm-2 0zm12-2zm-19 0zm3-1zm-4 0zm30-2zm-8 0zm10-2zm-31 0zm15 0zm11-3zm8-1zm-26-1zm-3 0zm31-1zm-23-2zm-2 0zm0-2zm13 0zm-2-1zm-21-1zm31-1zm-18 0zm-7 0zm8 0zm5-1zm-6-1zm-8 0zm2-8zm9-2zm-5 0zm36 9zm-3 4zm-2 4zm0 20z" stroke="#fdbf6f" stroke-width="4.4"/><path d="M176 241zm16 2zm-5 1zm-11 2zm2 1zm6 2zm-4 0zm7 0zm-18 1zm-5 1zm26 0zm-16 1zm2 1zm8 1zm-14 0zm13 0zm14 1zm-3 0zm0 0zm-22 1zm-3 1zm4 0zm9 0zm-3 0zm6 1zm-4 2zm0 0zm-6 1zm24 0zm-2 0zm-25 2zm-9 4zm35 2zm-1 1zm-6 0zm-6 1zm-1 0zm-13 2zm-8 0zm17 3zm-2 0zm14 0zm-4 0zm1 0zm1 1zm-6 0zm-14 1zm11 1zm-3 1zm-12 0zm21 2zm-21 4zm39-21zm-5-7z" stroke="#fc8d62" stroke-width="4.4"/><path d="M478 317zm-1-1zm0-3zm-1-5zm-8-9zm11-1zm-5-1zm-5-1zm8-7zm-3-1zm-5-3zm7-7zm3-2zm-2-3zm2-5zm-1-1zm17-6zm16 0zm-18 1zm0 2zm-7 1zm5 0zm-11 1zm13 2zm-4 1zm3 3zm11 1zm3 1zm-9 1zm5 1zm-6 0zm2 1zm-4 1zm-3 2zm15 1zm-16 0zm10 1zm8 1zm-14 0zm-1 0zm-13 0zm0 1zm15 1zm18 1zm-32 0zm36 0zm-14 1zm-6 2zm-12 2zm28 0zm-7 1zm-16 0zm-5 3zm2 2zm-3 1zm15 2zm-7 0zm15 3zm-19 3zm5 0zm-10 2zm1 3zm17 1zm-17 0zm2 3zm8 1zm0 1zm1 0zm-3 1zm0 0zm-6 8zm34-36z" stroke="#377eb8" stroke-width="4.4"/><path d="M314 167zm-1-11zm0-1zm3 0zm-3-5zm3-1zm33-16zm-18 0zm3 2zm2 1zm8 0zm-4 1zm19 1zm-12 0zm-24 1zm6 0zm-5 1zm24 1zm1 0zm7 0zm-24 0zm0 1zm13 1zm-18 0zm6 0zm6 0zm-19 0zm29 2zm-28 0zm1 0zm4 1zm4 1zm24 0zm-2 1zm7 1zm-34 2zm30 0zm-28 1zm1 0zm18 0zm-22 0zm3 1zm22 0zm5 1zm1 1zm-34 0zm3 0zm13 1zm-4 1zm15 1zm-17 0zm11 1zm17 1zm-27 0zm19 1zm-19 0zm5 1zm2 0zm-18 2zm16 0zm-16 1zm3 0zm28 3zm18-25zm-8 0zm0-6z" stroke="#8da0cb" stroke-width="4.4"/><path d="M378 217zm15-9zm-7-1zm3-2zm-2 0zm9-2zm-12 0zm-9-3zm2-1zm5 0zm15-3zm-4-1zm1 0zm-1-1zm-9-1zm15-7zm15-4zm-3 7zm-9 4zm8 3zm2 0zm-5 0zm5 1zm-6 1zm-6 0zm12 4zm7 1zm-18 1zm10 3zm0 1zm4 1zm-12 1zm8 3zm-2 1zm-1 2zm-1 0z" stroke="#ffd92f" stroke-width="4.4"/><path d="M473 530zm-6 0zm0-1zm5-4zm-10-1zm15-1zm-10-2zm0-4zm3 0zm-14-1zm0 0zm-3 0zm23-3zm2 0zm-9-1zm-5-3zm-13 0zm10-1zm0-1zm14-1zm-9 0zm5-3zm4 0zm-21-2zm25 0zm-25-1zm18-1zm-24 0zm14-1zm12-2zm-28-2zm13 0zm-3-1zm11-1zm11-1zm-24-1zm-7 0zm9-4zm-1 0zm11 0zm-7-1zm19 0zm-23-1zm16-2zm-11 0zm5 0zm11-1zm2 0zm-15-1zm-3-1zm14-1zm-4 0zm9 0zm-9-1zm-26-1zm23-1zm-10 0zm18-2zm-25 0zm18-2zm2-1zm-6 0zm-8 0zm0-1zm18-6zm-18 0zm6 0zm17-1zm-17-4zm9-1zm4 0zm-1-1zm2-2zm2-1zm-6-1zm-13 0zm3-1zm1 0zm-7-3zm18 0zm4-1zm-7-2zm-8-8zm6-2zm-22-6zm27-10zm12 18zm-6 8zm10 2zm-9 3zm11 3zm-3 0zm-1 1zm3 2zm-4 1zm-4 1zm13 0zm-4 2zm-1 0zm3 3zm6 1zm-5 0zm1 5zm-11 0zm-4 1zm4 0zm-3 2zm3 1zm13 0zm-15 1zm16 0zm-19 1zm1 1zm20 0zm-13 4zm11 2zm-18 0zm6 5zm1 2zm-8 1zm5 2zm12 2zm-12 0zm15 0zm-7 1zm-4 0zm15 1zm-19 1zm14 2zm-7 2zm2 4zm3 1zm-16 2zm10 3zm-5 1zm-4 1zm3 7zm-4 19z" stroke="#4daf4a" stroke-width="4.4"/><path d="M238 187zm1-12zm-3-3zm-7-9zm9-11zm34-33zm-8 5zm-6 0zm8 2zm3 0zm-24 3zm2 1zm30 3zm-28 1zm-6 0zm15 1zm3 0zm7 0zm-19 1zm8 1zm8 0zm-5 2zm1 0zm16 2zm-11 1zm-7 1zm-9 0zm-3 2zm3 1zm19 0zm-11 1zm15 0zm-26 1zm23 0zm-20 0zm-8 0zm0 0zm31 1zm2 1zm-27 0zm18 0zm-17 1zm29 1zm-36 0zm28 1zm-22 0zm13 1zm0 0zm10 1zm-25 2zm22 1zm-2 0zm-4 1zm12 0zm4 2zm-7 0zm-4 1zm-19 0zm10 0zm16 4zm2 0zm-13 1zm-16 0zm14 0zm-18 1zm6 0zm12 0zm1 1zm-4 1zm-6 0zm11 0zm11 1zm1 0zm-24 0zm0 1zm26 0zm-4 0zm6 0zm0 1zm-19 0zm0 1zm-1 0zm-17 0zm4 0zm1 0zm18 0zm4 1zm-26 0zm36 0zm-15 2zm-16 1zm5 0zm20 2zm-17 1zm17 0zm0 0zm-19 0zm6 1zm12 3zm-15 0zm6 1zm-15 0zm14 1zm-3 1zm18 0zm-17 0zm-16 2zm12 1zm5 0zm-13 1zm7 0zm-5 1zm2 0zm2 2zm7 2zm16 0zm-33 0zm30 3zm-20 1zm21 1zm-12 1zm-13 2zm10 1zm4 0zm-8 1zm11 0zm12 1zm-18 0zm7 0zm-5 1zm-6 0zm-8 2zm29 0zm-1 0zm-15 0zm15 2zm-7 0zm-16 1zm6 0zm-4 3zm14 4zm17-9zm-5-2zm8-5zm11-5zm-20-1zm-1 0zm17-2zm-11-1zm-5-1zm7-1zm-5 0zm5-3zm4 0zm-11-4zm3 0zm-2 0zm2-2zm8-2zm-12 0zm6-1zm-2-1zm1-1zm-5 0zm5-1zm10-1zm8-1zm-18-1zm7-2zm-2 0zm-6-4zm-2-1zm-2 0zm1-6zm11 0zm-6-6zm-5-5zm4 0zm-3-2zm5-11zm88 41zm-9-3zm4-1zm15-1zm-4 0zm-15 0zm28-5zm-20-1zm2-1z" stroke="#66a61e" stroke-width="4.4"/><path d="M551 292zm1-2zm2 0zm5-8zm-4-2zm-8 0zm6 0zm6-4zm-11-5zm8-2zm-16-7zm17 0zm21-2zm-16 5zm20 0zm3 1zm-22 0zm14 3zm7 0zm-17 3zm-7 0zm0 2zm15 1zm14 1zm-28 0zm27 1zm5 3zm-32 1zm24 2zm10 1zm-27 1zm14 3zm-20 1zm18 1zm3 0zm-21 1zm2 2zm18 1zm-7 1zm-14 0zm27 0zm1 3z" stroke="#d9d9d9" stroke-width="4.4"/><path d="M148 530zm3-4zm5-6zm-2-4zm-8-10zm7-2zm1-1zm-16 0zm17-8zm-6-8zm4-1zm-3-1zm-8 0zm8 0zm5-2zm3 0zm-4-1zm3-1zm2-1zm-2-1zm-12-1zm9-3zm2-1zm-3 0zm-5-5zm2 0zm-8-7zm14 0zm1-3zm-13 0zm9-8zm31-31zm-4 21zm10 4zm-15 0zm21 0zm-1 1zm-19 4zm23 0zm-4 0zm-15 1zm13 1zm2 0zm-15 5zm6 1zm-1 0zm14 1zm-13 1zm-16 1zm21 1zm-28 0zm10 1zm25 0zm1 0zm-28 0zm-10 3zm6 1zm-7 0zm3 0zm32 0zm-20 1zm-1 2zm15 1zm9 0zm-36 0zm19 0zm17 0zm-25 1zm8 1zm6 1zm7 1zm5 1zm-28 1zm-11 0zm28 2zm-18 2zm16 2zm2 0zm9 3zm-37 1zm33 0zm-9 2zm-1 1zm15 1zm-9 1zm6 0zm-21 1zm-8 1zm11 1zm-7 0zm11 2zm15 1zm-24 1zm-1 0zm26 2zm-31 0zm-6 2zm32 0zm1 1zm-8 0zm-4 1zm16 1zm-10 1zm-23 2zm3 0zm23 1zm-29 1zm21 1zm0 0zm13 1zm1 1zm-16 1zm-18 0zm19 0zm17 1zm-36 0zm28 2zm1 0zm-9 0zm12 1zm4 0zm-26 1zm-1 1zm1 1zm-7 1zm30 1zm-15 8zm22-2zm5-9zm8-3zm-10-2zm4-1zm8-3zm4 0zm-7 0zm-3 0zm0-2zm14-1zm-10-5zm-8-1zm15-1zm-1-2zm-3-1zm-6-2zm-1-2zm-11 0zm21-1zm-17-1zm0-1zm13 0zm4-1zm-7 0zm1-1zm-9 0zm9-1zm13 0zm7 0zm-16 0zm-2-2zm-15 0zm25 0zm-16-1zm-8-2zm24-1zm-14-1zm-8-1zm20-1zm2-1zm-5 0zm13-1zm-12-1zm-16-1zm17-1zm-9 0zm-11-3zm8 0zm15-1zm-1-1zm-25-2zm26 0zm-19-1zm-2-4zm9-1zm3-1zm-6-2zm-1-1zm-4-1zm11 0zm-6-3zm7-1zm-4-2zm-3-1zm-3 0zm0-4zm-2-7zm3-6zm3-6zm28 57z" stroke="#7fc97f" stroke-width="4.4"/><path d="M117 205zm36 35zm-16-9zm13 0zm9-2zm-10-3zm6-1zm-5-2zm2 0zm-8-3zm8-1zm-5-4zm-17-1zm16-1zm-10 0zm18-1zm-14 0zm-14 0zm23-1zm-2 0zm-10-2zm5 0zm-14-2zm5-4zm15 0zm-11 0zm0-1zm3 0zm2-2zm-12 0zm14-1zm14 0zm-13-1zm-6-2zm4 0zm15 0zm0-1zm-17-1zm6-2zm-12 0zm-2-1zm-2 0zm9-1zm10-1zm-21-2zm20 0zm-9-1zm8 0zm-15-2zm5 0zm-11-1zm9 0zm23-1zm-7-1zm-12-2zm-2-1zm-14-2zm3 0zm26-4zm-16 0zm9 0zm7 0zm3-1zm-8 0zm6 0zm-7 0zm-9-2zm-3-1zm9 0zm10-1zm0-2zm-8-2zm-1 0zm12 0zm0-1zm-28-1zm20-1zm3-3zm-2 0zm-14-2zm-4-1zm15 0zm10 0zm-15-1zm4-1zm-9-2zm4 0zm-2-1zm12-1zm8-1zm-11-2zm-5-3zm18 1zm6 1zm-2 2zm-2 2zm7 4zm-2 2zm4 0zm1 4zm0 3zm-9 1zm17 2zm4 1zm-12 1zm1 0zm11 2zm-2 3zm-16 1zm11 0zm-4 0zm4 0zm11 4zm-28 1zm7 1zm6 1zm-7 1zm-4 0zm1 2zm10 1zm0 0zm-7 2zm-7 0zm12 1zm-8 0zm8 2zm10 1zm-20 1zm10 1zm-9 1zm-1 1zm11 1zm-6 3zm-1 2zm-1 3zm-2 1zm4 1zm10 0zm-4 2zm-11 0zm2 1zm7 2zm6 1zm-16 1zm5 0zm-1 2zm-1 0zm9 1zm-11 2zm15 4zm-10 3zm-6 1zm-1 0zm7 0zm2 0zm2 1z" stroke="#beaed4" stroke-width="4.4"/><path d="M372 271zm16 0zm8-1zm-29-3zm26-1zm6 0zm-14 0zm4 0zm-3-1zm-1 0zm3-1zm-12-1zm-12 0zm15 0zm5-6zm11-1zm-26-1zm13 0zm17-2zm-10-1zm-6 0zm9-2zm-9 0zm-6 0zm-1 0zm2-1zm-3-1zm13-3zm-17-1zm3-2zm18-1zm4 0zm-2-1zm-20-1zm12-1zm-5-1zm11-5zm-2-1zm-10-3zm5-1zm14-2zm-3 0zm0-2zm-6 0zm8-1zm-10 0zm9-1zm-20 0zm15 0zm-19-8zm32 6zm5 3zm0 1zm-3 0zm11 0zm-9 1zm-4 0zm27 1zm-24 3zm6 1zm20 0zm-34 3zm29 0zm-19 3zm-2 1zm0 1zm-4 0zm3 0zm5 1zm14 3zm-1 0zm-3 0zm-2 4zm5 1zm-2 1zm-13 0zm17 1zm-7 1zm-10 0zm-8 2zm28 2zm-18 0zm0 1zm7 0zm5 0zm-11 1zm3 1zm1 2zm5 1zm10 0zm-8 0zm-7 0zm4 0zm-3 1zm-14 1zm2 1zm-5 1zm13 0zm9 0zm-22 1zm14 1zm-14 14z" stroke="#999999" stroke-width="4.4"/><path d="M66 269zm7-1zm1-25zm11-10zm18 7zm10 2zm-8 1zm10 1zm-10 2zm-5 0zm-11 3zm1 0zm7 0zm12 0zm1 2zm-10 1zm-11 1zm21 3zm2 0zm-18 0zm17 1zm5 1zm-29 0zm27 0zm-10 2zm10 0zm-22 2zm1 1zm10 0zm2 0zm-19 1zm21 1zm-23 1zm3 0zm20 2zm12 0zm-9 1zm-13 0zm17 1zm-11 1zm-16 0zm18 4zm-17 1zm7 1zm13 0zm5 1zm5 0zm-7 5zm-7 0zm-10 1zm14 1zm1 0zm2 4zm-3 1zm50 2zm-16-3zm-15-1zm-6 0zm34-1zm-35-1zm25 0zm-4-3zm9-3zm8-1zm-36-1zm20-1zm7 0zm-24 0zm14-1zm3-1zm2-1zm10 0zm1-1zm-1-1zm-31-1zm13 0zm-4 0zm6 0zm-14-3zm11 0zm4-3zm15-1zm-18 0zm8-1zm-2-1zm-6 0zm-14-1zm20 0zm-16-1zm3-3zm11 0zm17 0zm-25-1zm-1-2zm-2-2zm29 0zm-22-1zm12-4zm-10 0zm2-1zm-12-1zm29-1zm11 7zm5 4zm17 2zm-27 8zm16 0zm-1 33z" stroke="#ffffb3" stroke-width="4.4"/><path d="M276 326zm1 3zm-4 4zm-15 4zm15 6zm6 0zm-4 16zm34 2zm-12-4zm-4-2zm0-1zm-3 0zm3-1zm-9 0zm16-1zm-18-1zm19 0zm-3-1zm4-2zm-5 0zm8-2zm11 0zm-3-1zm-31-2zm21-1zm2-1zm-15-2zm4 0zm4-3zm-15 0zm22-2zm-2-1zm1-1zm4 0zm-4 0zm10 0zm-4-3zm-30 0zm14-1zm-11-1zm29 0zm-15 0zm16-1zm4 0zm-19-3zm6-1zm15-1zm-22 0zm-8 0zm-7 0zm25-1zm9-1zm-6 0zm7 0zm-30-1zm12-2zm15 0zm-25-1zm43 20zm-11 0zm8 1zm3 4zm-7 1zm-3 1zm3 7zm0 1z" stroke="#a6cee3" stroke-width="4.4"/><path d="M269 232zm0 1zm-4 0zm5 0zm1 1zm-6 6zm-5 0zm4 0zm-7 0zm21 0zm-3 2zm-12 0zm5 1zm-7 1zm-3 0zm5 0zm-3 0zm-2 1zm19 0zm-7 1zm0 0zm-4 2zm15-3zm-1-16z" stroke="#1f78b4" stroke-width="4.4"/><path d="M118 388zm-8 2zm7 2zm-8 0zm2 0zm8 1zm-7 1zm-1 2zm-11 1zm17 0zm-6 2zm6 4zm-9 5zm6 1zm-5 5zm6 4zm14 13zm3-3zm-10-5zm11-4zm-10-8zm18-1zm3-1zm-3-1zm-11 0zm-3-1zm18-2zm-9-1zm-8-2zm-7 0zm-1-2zm6 0zm2-1zm-4 0zm5-1zm-3-2zm19-1zm-2 0zm0-2zm-20-3zm0-1zm-1 0zm-1-2zm12-1zm-7-1zm12-1zm-5 0zm-9-2z" stroke="#ffee77" stroke-width="4.4"/><path d="M185 359zm9 9zm-7 3zm15 12zm32-11zm-9-1zm-14-2zm7-1zm8 0zm-16-1zm29-1zm-32-1zm27 0zm-27-2zm19 0zm-13-1zm14 0zm-10-3zm10 0zm-4 0zm-2-2zm0 0zm12 0zm-14-1zm16-1zm-12 0zm-10-1zm-10-1zm17-1zm-14 0zm-5-3zm0-1zm38-2zm-26-1zm-11 0zm31-1zm5 0zm-31-1zm0 0zm1-1zm13 0zm14-1zm-16 0zm-2-1zm4-1zm5 0zm-10-1zm-6 0zm11-1zm-7 0zm18-8zm14 4zm12 1zm-13 1zm-2 0zm25 1zm-10 0zm21 5zm-34 1zm20 1zm-20 0zm-4 3zm30 1zm-10 0zm14 0zm-25 2zm27 0zm-12 0zm-24 0zm32 3zm-21 0zm6 2zm1 0zm-15 1zm21 0zm-9 1zm1 0zm-2 0zm8 2zm-2 1zm3 1zm-21 2zm24 0zm-5 1zm3 2zm-11 2zm-2 0zm26 0zm-17 2zm13 0zm-21 1zm-2 2zm-4 0zm9 1zm5 0zm-5 3z" stroke="#c9a3d6" stroke-width="4.4"/><path d="M357 391zm-6 0zm1 1zm-13 3zm16 4zm-6 0zm6 0zm-7 1zm7 3zm15 8zm-7 0zm0-2zm15-1zm-11 0zm1-1zm15-6zm-21 0zm2-1zm20 0zm-13 0zm1-2zm11-3zm0-1zm-15 0zm7-1zm-11-2zm0 0zm23-4zm-6-3zm-9-2z" stroke="#9fd8c0" stroke-width="4.4"/><path d="M431 180zm1 3zm3 3zm-9 1zm3 2zm8 2zm4-5z" stroke="#e31a1c" stroke-width="4.4"/><path d="M318 406zm-2-4zm-2-2zm-12-2zm8-1zm27-7zm-2 1zm-11 0zm9 0zm-3 3zm14 1zm-5 0zm-10 1zm12 2zm-5 0zm-3 0zm13 2zm-18 0zm0 3zm-6 1zm29 1zm-25 1zm4 1zm-6 1z" stroke="#fb8072" stroke-width="4.4"/><path d="M351 92zm6 2zm0 0zm-10 4zm9 1zm0 2zm1 1zm-2 4zm-7 1zm9 2zm-5 0zm-1 0zm4 2zm10 4zm-1-2zm3 0zm-3-3zm2-2zm-6-3zm10 0zm3-2zm-4 0zm-7-2zm5-1zm-7-1zm0-1zm14-1zm-8-3zm-5-4zm3-4z" stroke="#e7298a" stroke-width="4.4"/><path d="M541 475zm7-3zm3-1zm-6-1zm-6-5zm9 0zm3-1zm-17-2zm1-1zm12-3zm-12-1zm0-1zm15-1zm-10-2zm1-1zm7-1zm-4-1zm7-3z" stroke="#33a02c" stroke-width="4.4"/><path d="M315 101zm-4 0zm14 0zm-1 1zm1 0zm-5 1z" stroke="#ff7f00" stroke-width="4.4"/></g>
<g transform="scale(0.25)" fill="none" stroke-linecap="round"><path d="M106 249zm-6 2zm18 1zm-14 31zm6 1zm-9 5zm9 15zm-24 2zm30 9zm-2 1zm-17 3zm6 3zm1 12zm15 5zm38 146zm-26-66zm2-11zm-11-3zm20-2zm-16-6zm2-56zm17-8zm6-7zm-21-1zm17-2zm1-3zm-22-8zm21-2zm-1-5zm-16-3zm-5-5zm-5-8zm5-6zm1-2zm4-2zm14-3zm10-10zm-10-6zm-16-2zm7-6zm-4-1zm15-31zm-3-2zm0-15zm10-1zm-25-7zm-1-8zm23-17zm0-8zm13-18zm3 10zm26 4zm-14 4zm-9 1zm5 19zm0 32zm-11 2zm-2 2zm11 2zm27 0zm-32 3zm20 4zm-15 3zm10 8zm3 8zm-6 4zm9 3zm11 6zm-14 10zm-16 3zm4 6zm13 0zm11 3zm-7 4zm-10 11zm-11 8zm-6 3zm6 1zm3 5zm26 10zm-13 1zm9 4zm-34 1zm24 1zm-21 1zm25 5zm11 90zm-3 1zm-1 3zm-18 23zm3 3zm0 8zm7 3zm-12 1zm11 6zm-19 3zm15 3zm2 2zm-14 2zm10 7zm10 11zm-16 2zm16 10zm-2 5zm2 1zm11-7zm1-10zm36-5zm-33-2zm30 0zm-10-6zm-6-3zm20-4zm-16-1zm5-1zm8-5zm-15-6zm7 0zm-17-34zm19-5zm-30-3zm17-1zm-6-1zm12-6zm0-1zm-4-2zm-12-7zm14-1zm-15-9zm25-1zm2-7zm-5-1zm-3-33zm0-4zm-20 0zm7-9zm12-1zm8-7zm-14-26zm-16 0zm1 0zm31-1zm-25-10zm-4-1zm6-8zm8-4zm17-8zm-31-1zm30-1zm-18-6zm4-3zm-12-3zm9-3zm13-6zm-26 0zm24-1zm-18-2zm27-2zm-6-5zm-20-5zm23-2zm1-5zm-8-7zm-10-8zm-11-2zm14-3zm15-3zm-35-1zm33-6zm-7 0zm1-50zm34-26zm-10 5zm16 2zm1 3zm-14 3zm-11 17zm27 5zm-1 5zm-23 1zm-3 1zm23 10zm9 2zm-8 9zm-9 1zm-4 6zm22 9zm-7 5zm-2 28zm4 4zm4 20zm-8 7zm-28 1zm25 17zm-1 0zm-14 1zm-8 10zm36 9zm-1 7zm-1 2zm-13 8zm-10 20zm8 3zm4 4zm1 5zm-16 9zm-3 27zm-6 5zm3 8zm13 8zm-13 0zm27 1zm-9 10zm3 1zm-6 11zm-16 1zm7 2zm25 7zm-5 6zm1 4zm-2 16zm1 6zm0 6zm-23 9zm3 2zm23 6zm-28 2zm34 2zm-24 9zm3 4zm5 1zm-8 2zm12 3zm6 1zm2 9zm-30 5zm1 0zm32 0zm-24 3zm-2 5zm3 1zm-5 1zm27 5zm8 16zm1 0zm4-11zm22 0zm7-7zm-27-9zm-8-13zm-2-7zm31-12zm-28-4zm21-7zm4-2zm-28-8zm3-40zm1-1zm23-4zm-23-2zm24-3zm-27-1zm27-3zm-25-3zm29-4zm-16-3zm-10-5zm-1-7zm23-13zm-10-15zm-6 0zm-13-4zm36-5zm-8-2zm9-2zm-21-6zm19-11zm3-1zm-11-10zm9-1zm-26-6zm1-3zm8-11zm-15-2zm2-10zm25-51zm3 0zm0-20zm1-7zm-10-12zm4-16zm-29-1zm8-6zm-6-15zm1-18zm63-30zm-16 5zm-8 1zm8 5zm23 4zm-19 2zm20 1zm-34 68zm16 14zm-10 1zm26 3zm-21 1zm-1 6zm-8 1zm34 2zm-3 14zm-25 1zm-3 2zm18 3zm-7 3zm13 16zm-13 5zm19 2zm-12 15zm-22 23zm17 0zm10 2zm-13 7zm-5 12zm9 5zm-5 2zm1 11zm8 6zm-8 3zm5 2zm16 10zm-16 2zm7 25zm10 10zm-26 1zm21 7zm-7 2zm-7 1zm-12 1zm20 4zm-24 4zm36 1zm-15 4zm11 2zm-31 15zm22 1zm-17 2zm2 7zm20 2zm8 12zm-38 3zm36 6zm-25 3zm-1 2zm23 1zm2 1zm-22 8zm0 3zm-7 0zm0 2zm16 2zm-7 0zm1 4zm8 9zm1 3zm5 11zm-28 1zm35 3zm-33 4zm37-4zm3-3zm11-4zm-13-3zm20-3zm-3-1zm11-2zm-30-1zm10-2zm18-7zm-18-5zm-10-5zm38-4zm-27-6zm19-10zm-20-3zm14-26zm-13-1zm6-3zm10-2zm-22-1zm-2-5zm23-3zm-25-9zm18-3zm8-4zm-16-1zm16-2zm-10-1zm4-5zm-21 0zm29-3zm4-3zm-18-2zm-10-3zm11-15zm-6-11zm27-46zm-5 0zm-1-1zm4-4zm-25-5zm28-1zm-1 0zm-25-1zm20-6zm-12 0zm15-3zm-4-1zm-15-1zm-8-10zm29-1zm0-1zm-9-1zm5-9zm-16-11zm-3-2zm-13-6zm12-1zm-8-1zm-2-1zm9-11zm-11-2zm-1-7zm19-10zm5-1zm-10-5zm-5-2zm-8-4zm29-4zm-5 0zm-16-3zm-5-6zm-3-6zm14-50zm21-42zm-33-19zm18-1zm7 0zm-23-3zm-4-5zm46-3zm2 17zm13 6zm-22 5zm-1 3zm12 0zm-5 63zm7 1zm-4 6zm-1 6zm1 18zm17 0zm-12 3zm-12 8zm30 8zm-32 12zm14 0zm21 0zm-2 2zm-5 2zm-25 3zm20 0zm-18 1zm33 11zm-1 4zm-4 6zm-1 8zm-25 4zm13 8zm13 5zm-24 3zm29 1zm-15 6zm0 9zm14 10zm-13 4zm7 6zm-23 6zm0 0zm14 1zm12 3zm-3 0zm1 4zm0 1zm-18 47zm-9 6zm27 1zm-21 4zm26 6zm-7 10zm-11 1zm-2 1zm8 1zm-25 2zm3 3zm24 1zm-1 5zm2 1zm-18 1zm15 3zm13 43zm-11 15zm-27 2zm21 4zm53-5zm-10-12zm8-3zm-27-1zm26-12zm-10-4zm8-2zm-15-12zm9-18zm-20-6zm4-14zm2-9zm-2-10zm13-57zm-1-17zm-1-3zm-15-2zm11-1zm18-1zm-23-4zm-10-2zm29-8zm-17-13zm-5-1zm-5-2zm25 0zm-13-5zm13-1zm-18-3zm-1-3zm-4-14zm-3-8zm2-2zm13-8zm-7-6zm3-3zm11 0zm14-4zm-31-4zm20-5zm-22-5zm7-6zm25-44zm-1-5zm-12-10zm-8-2zm-13-2zm28-1zm-29-2zm20-8zm-7-3zm38 14zm7 4zm18 29zm-9 6zm9 8zm-2 11zm-8 22zm11 5zm-18 4zm-4 1zm3 0zm-14 9zm27 0zm-29 1zm22 1zm-24 13zm13 0zm3 1zm-5 2zm2 4zm4 10zm-4 4zm-8 3zm11 8zm8 31zm2 25zm5 11zm4 3zm-13 4zm12 16zm3 3zm-8 18zm-5 15zm-15 26zm0 5zm0 5zm-3 0zm-2 4zm6 15zm4 1zm-12 24zm62-62zm-3-2zm-7-6zm14-6zm-20-6zm-9-2zm19-4zm18-6zm-11-3zm3 0zm-15-8zm-2-7zm13-3zm5-4zm-23-10zm-4-3zm21-1zm-11-2zm-12-1zm37-6zm-15-4zm-12-2zm-9 0zm17-2zm-12-120zm10-5zm-9-18zm0-14zm62 69zm-7 3zm-22 5zm10 2zm27 16zm-6 0zm-27 0zm14 2zm-11 0zm5 15zm9 5zm5 3zm-26 38zm4 18zm3 0zm4 31zm-6 2zm41-106z" stroke="#fff" stroke-width="2.8" stroke-opacity="0.8"/></g>
<g transform="scale(0.25)" fill="none" stroke-linecap="round"><path d="M234 350zm25-157zm45 108zm46 23zm106-151z" stroke="#984ea3" stroke-width="3.2" stroke-opacity="0.8"/><path d="M184 249zm91 211zm-17 58zm44 10zm27-182zm73-5zm22 59zm40 30z" stroke="#9fd8c0" stroke-width="3.2" stroke-opacity="0.8"/><path d="M181 221zm0 50zm26 186zm40-137zm2 65zm10 87zm50 34zm6-143zm-32-131zm66 282zm70-238zm-12 247zm39-107zm11-81zm36-60z" stroke="#e41a1c" stroke-width="3.2" stroke-opacity="0.8"/><path d="M167 331zm111-120zm45-1zm10 161zm38-194zm72 199zm63-104z" stroke="#8da0cb" stroke-width="3.2" stroke-opacity="0.8"/><path d="M260 326zm3 139zm54-66zm-6-88zm-17-60zm20-96zm80 108zm63-31zm56 180zm-5 34zm23-171z" stroke="#ffff99" stroke-width="3.2" stroke-opacity="0.8"/><path d="M141 325zm93-46zm0-66zm163 101z" stroke="#f781bf" stroke-width="3.2" stroke-opacity="0.8"/><path d="M164 302zm75-116zm152 203zm8-8zm28-83zm2 154zm25-265zm31 162z" stroke="#1f78b4" stroke-width="3.2" stroke-opacity="0.8"/><path d="M192 271zm160-126zm-1 226zm34 113zm84-173zm46 55zm-12 97z" stroke="#ffff33" stroke-width="3.2" stroke-opacity="0.8"/><path d="M204 302zm19-125zm41 326zm48 30zm10-213zm12 67zm-5 46zm74-191zm72-18z" stroke="#fdbf6f" stroke-width="3.2" stroke-opacity="0.8"/><path d="M222 259zm162 97zm-7-209zm66 157z" stroke="#e7298a" stroke-width="3.2" stroke-opacity="0.8"/><path d="M164 299zm41-15zm25-100zm75 8zm53 70zm-34 8zm11 122zm7 12zm52-51zm-10-211zm46 305zm42-102zm-27-16z" stroke="#fdc086" stroke-width="3.2" stroke-opacity="0.8"/><path d="M381 388zm35-216zm-3 16zm10 201z" stroke="#999999" stroke-width="3.2" stroke-opacity="0.8"/><path d="M182 346zm63-22zm38 77zm61 69zm50 50zm-30-25zm35-332zm-15-13z" stroke="#3a77b6" stroke-width="3.2" stroke-opacity="0.8"/><path d="M198 454zm18-45zm87 43zm54 83zm8-317zm94 269zm15-45z" stroke="#377eb8" stroke-width="3.2" stroke-opacity="0.8"/><path d="M225 491zm41-322zm36 353zm-4-9zm40-240zm29 99zm75-92z" stroke="#ffffb3" stroke-width="3.2" stroke-opacity="0.8"/><path d="M216 372zm1-64zm49-113zm20 125zm47-18zm85 76zm25-74z" stroke="#ec7a0c" stroke-width="3.2" stroke-opacity="0.8"/><path d="M258 290zm-5 193zm4 11zm36 29zm166-37z" stroke="#b5790f" stroke-width="3.2" stroke-opacity="0.8"/><path d="M182 322zm62-87zm118 288zm13-197zm34-40zm55 104z" stroke="#7570b3" stroke-width="3.2" stroke-opacity="0.8"/><path d="M185 237zm0 5zm22 62zm33-68zm3 144zm15 21zm45-29zm4-201zm73 267zm67 69zm27-140z" stroke="#a6d854" stroke-width="3.2" stroke-opacity="0.8"/><path d="M352 446zm23 86zm5-256zm54 118zm-7 94z" stroke="#c9a3d6" stroke-width="3.2" stroke-opacity="0.8"/><path d="M251 390zm94-142zm0 39zm3 35zm3 10zm18-69zm104 20z" stroke="#66a61e" stroke-width="3.2" stroke-opacity="0.8"/><path d="M246 159zm-4 203zm69-9zm48-134zm-6 315zm34-269zm34 67zm69-65zm26 76z" stroke="#a6cee3" stroke-width="3.2" stroke-opacity="0.8"/><path d="M137 340zm69 45zm25-130zm125 176zm35-166zm75 0zm25-44zm13 177z" stroke="#fc8d62" stroke-width="3.2" stroke-opacity="0.8"/><path d="M170 264zm-2 4zm-5 121zm78 63zm55-48zm56-212zm-6 68zm2 214zm53-192zm47 23zm57-46z" stroke="#ffd92f" stroke-width="3.2" stroke-opacity="0.8"/><path d="M350 298zm29-12zm77-39z" stroke="#7fc97f" stroke-width="3.2" stroke-opacity="0.8"/><path d="M191 365zm-31 5zm97-128zm5 62zm-22 58zm70-216zm74 385zm-11-384zm106 149zm8 59z" stroke="#ee2a8b" stroke-width="3.2" stroke-opacity="0.8"/><path d="M395 272zm19-60zm20 204zm64-69zm27 11z" stroke="#33a02c" stroke-width="3.2" stroke-opacity="0.8"/><path d="M269 268zm-19 85zm66-207zm40 154zm49 187zm56-33z" stroke="#f0a900" stroke-width="3.2" stroke-opacity="0.8"/><path d="M278 348zm-21 95zm5 13zm37-236zm74 102zm37-43z" stroke="#4daf4a" stroke-width="3.2" stroke-opacity="0.8"/><path d="M195 406zm52 83zm107-166zm151-32z" stroke="#386cb0" stroke-width="3.2" stroke-opacity="0.8"/><path d="M216 385zm43-139zm212 130z" stroke="#3dbf9d" stroke-width="3.2" stroke-opacity="0.8"/><path d="M185 304zm253 41zm104 43z" stroke="#fccde5" stroke-width="3.2" stroke-opacity="0.8"/><path d="M228 212zm177 280zm50-141zm22-118zm35 142z" stroke="#1b9e77" stroke-width="3.2" stroke-opacity="0.8"/><path d="M202 261zm42-90z" stroke="#e31a1c" stroke-width="3.2" stroke-opacity="0.8"/><path d="M258 382zm52-202zm76 149z" stroke="#fdb462" stroke-width="3.2" stroke-opacity="0.8"/><path d="M199 233zm-9 35zm34 181zm-14-234zm39-31zm22 68zm138 7zm4 149z" stroke="#bf5b17" stroke-width="3.2" stroke-opacity="0.8"/><path d="M314 416zm-17-36zm82 98zm31-330zm0 43zm1 199zm104 38z" stroke="#beaed4" stroke-width="3.2" stroke-opacity="0.8"/><path d="M157 384zm113-200zm46-45zm25 174zm10 85zm141 15z" stroke="#ff7f00" stroke-width="3.2" stroke-opacity="0.8"/><path d="M240 460zm151-170zm9 48zm44-8z" stroke="#fb8072" stroke-width="3.2" stroke-opacity="0.8"/><path d="M312 358zm13 62zm45-107zm16-148zm30 315zm30-67z" stroke="#80b1d3" stroke-width="3.2" stroke-opacity="0.8"/><path d="M151 340zm53-144zm114-50zm27-6zm94 101zm52-30zm46 168z" stroke="#8dd3c7" stroke-width="3.2" stroke-opacity="0.8"/><path d="M333 239zm48 152zm22-49zm107 8z" stroke="#d9d9d9" stroke-width="3.2" stroke-opacity="0.8"/><path d="M164 240zm360 146z" stroke="#666666" stroke-width="3.2" stroke-opacity="0.8"/><path d="M150 387zm13-90zm49 12zm116-93zm1 184zm-9 92zm24 24z" stroke="#ccebc5" stroke-width="3.2" stroke-opacity="0.8"/><path d="M278 418zm207-166z" stroke="#ffee77" stroke-width="3.2" stroke-opacity="0.8"/><path d="M196 197zm80 114zm26-107zm33 95z" stroke="#cab2d6" stroke-width="3.2" stroke-opacity="0.8"/><path d="M186 381zm56-75zm43 199zm94-88zm43-232zm54 182zm48 33z" stroke="#f0027f" stroke-width="3.2" stroke-opacity="0.8"/></g>
<rect x="36.7" y="45.5" width="3.2" height="2.4" rx=".4" fill="#fff" fill-opacity=".72"/><text x="38.3" y="47.5" font-size="2.1" text-anchor="middle" fill="#555">1</text><rect x="64.7" y="40.6" width="3.2" height="2.4" rx=".4" fill="#fff" fill-opacity=".72"/><text x="66.3" y="42.6" font-size="2.1" text-anchor="middle" fill="#555">2</text><rect x="50.8" y="55.8" width="3.2" height="2.4" rx=".4" fill="#fff" fill-opacity=".72"/><text x="52.4" y="57.7" font-size="2.1" text-anchor="middle" fill="#555">3</text><rect x="43.4" y="64.3" width="3.2" height="2.4" rx=".4" fill="#fff" fill-opacity=".72"/><text x="45.0" y="66.2" font-size="2.1" text-anchor="middle" fill="#555">4</text><rect x="53.1" y="70.8" width="3.2" height="2.4" rx=".4" fill="#fff" fill-opacity=".72"/><text x="54.7" y="72.7" font-size="2.1" text-anchor="middle" fill="#555">5</text><rect x="28.9" y="65.3" width="3.2" height="2.4" rx=".4" fill="#fff" fill-opacity=".72"/><text x="30.5" y="67.2" font-size="2.1" text-anchor="middle" fill="#555">6</text><rect x="27.8" y="77.0" width="3.2" height="2.4" rx=".4" fill="#fff" fill-opacity=".72"/><text x="29.4" y="78.9" font-size="2.1" text-anchor="middle" fill="#555">7</text><rect x="43.4" y="78.8" width="3.2" height="2.4" rx=".4" fill="#fff" fill-opacity=".72"/><text x="45.0" y="80.8" font-size="2.1" text-anchor="middle" fill="#555">8</text><rect x="65.9" y="68.8" width="3.2" height="2.4" rx=".4" fill="#fff" fill-opacity=".72"/><text x="67.5" y="70.8" font-size="2.1" text-anchor="middle" fill="#555">9</text><rect x="57.4" y="87.3" width="3.2" height="2.4" rx=".4" fill="#fff" fill-opacity=".72"/><text x="59.0" y="89.2" font-size="2.1" text-anchor="middle" fill="#555">10</text><rect x="29.9" y="99.3" width="3.2" height="2.4" rx=".4" fill="#fff" fill-opacity=".72"/><text x="31.5" y="101.2" font-size="2.1" text-anchor="middle" fill="#555">11</text><rect x="99.4" y="28.3" width="3.2" height="2.4" rx=".4" fill="#fff" fill-opacity=".72"/><text x="101.0" y="30.2" font-size="2.1" text-anchor="middle" fill="#555">12</text><rect x="82.4" y="36.3" width="3.2" height="2.4" rx=".4" fill="#fff" fill-opacity=".72"/><text x="84.0" y="38.2" font-size="2.1" text-anchor="middle" fill="#555">13</text><rect x="115.9" y="40.3" width="3.2" height="2.4" rx=".4" fill="#fff" fill-opacity=".72"/><text x="117.5" y="42.2" font-size="2.1" text-anchor="middle" fill="#555">14</text><rect x="98.4" y="48.8" width="3.2" height="2.4" rx=".4" fill="#fff" fill-opacity=".72"/><text x="100.0" y="50.8" font-size="2.1" text-anchor="middle" fill="#555">15</text><rect x="82.5" y="58.4" width="3.2" height="2.4" rx=".4" fill="#fff" fill-opacity=".72"/><text x="84.1" y="60.3" font-size="2.1" text-anchor="middle" fill="#555">16</text><rect x="98.4" y="60.3" width="3.2" height="2.4" rx=".4" fill="#fff" fill-opacity=".72"/><text x="100.0" y="62.2" font-size="2.1" text-anchor="middle" fill="#555">17</text><rect x="111.9" y="66.3" width="3.2" height="2.4" rx=".4" fill="#fff" fill-opacity=".72"/><text x="113.5" y="68.2" font-size="2.1" text-anchor="middle" fill="#555">18</text><rect x="127.4" y="56.3" width="3.2" height="2.4" rx=".4" fill="#fff" fill-opacity=".72"/><text x="129.0" y="58.2" font-size="2.1" text-anchor="middle" fill="#555">19</text><rect x="120.4" y="71.3" width="3.2" height="2.4" rx=".4" fill="#fff" fill-opacity=".72"/><text x="122.0" y="73.2" font-size="2.1" text-anchor="middle" fill="#555">20</text><rect x="87.4" y="71.8" width="3.2" height="2.4" rx=".4" fill="#fff" fill-opacity=".72"/><text x="89.0" y="73.8" font-size="2.1" text-anchor="middle" fill="#555">21</text><rect x="105.4" y="82.3" width="3.2" height="2.4" rx=".4" fill="#fff" fill-opacity=".72"/><text x="107.0" y="84.2" font-size="2.1" text-anchor="middle" fill="#555">22</text><rect x="94.4" y="82.8" width="3.2" height="2.4" rx=".4" fill="#fff" fill-opacity=".72"/><text x="96.0" y="84.8" font-size="2.1" text-anchor="middle" fill="#555">23</text><rect x="70.4" y="75.8" width="3.2" height="2.4" rx=".4" fill="#fff" fill-opacity=".72"/><text x="72.0" y="77.8" font-size="2.1" text-anchor="middle" fill="#555">24</text><rect x="73.9" y="82.8" width="3.2" height="2.4" rx=".4" fill="#fff" fill-opacity=".72"/><text x="75.5" y="84.8" font-size="2.1" text-anchor="middle" fill="#555">25</text><rect x="84.4" y="80.8" width="3.2" height="2.4" rx=".4" fill="#fff" fill-opacity=".72"/><text x="86.0" y="82.8" font-size="2.1" text-anchor="middle" fill="#555">26</text><rect x="140.9" y="68.3" width="3.2" height="2.4" rx=".4" fill="#fff" fill-opacity=".72"/><text x="142.5" y="70.2" font-size="2.1" text-anchor="middle" fill="#555">27</text><rect x="144.4" y="76.8" width="3.2" height="2.4" rx=".4" fill="#fff" fill-opacity=".72"/><text x="146.0" y="78.8" font-size="2.1" text-anchor="middle" fill="#555">28</text><rect x="134.7" y="96.5" width="3.2" height="2.4" rx=".4" fill="#fff" fill-opacity=".72"/><text x="136.3" y="98.4" font-size="2.1" text-anchor="middle" fill="#555">29</text><rect x="130.4" y="106.3" width="3.2" height="2.4" rx=".4" fill="#fff" fill-opacity=".72"/><text x="132.0" y="108.2" font-size="2.1" text-anchor="middle" fill="#555">30</text><rect x="55.0" y="103.1" width="3.2" height="2.4" rx=".4" fill="#fff" fill-opacity=".72"/><text x="56.6" y="105.1" font-size="2.1" text-anchor="middle" fill="#555">31</text><rect x="65.9" y="106.8" width="3.2" height="2.4" rx=".4" fill="#fff" fill-opacity=".72"/><text x="67.5" y="108.8" font-size="2.1" text-anchor="middle" fill="#555">32</text><rect x="77.9" y="92.8" width="3.2" height="2.4" rx=".4" fill="#fff" fill-opacity=".72"/><text x="79.5" y="94.8" font-size="2.1" text-anchor="middle" fill="#555">33</text><rect x="87.4" y="111.3" width="3.2" height="2.4" rx=".4" fill="#fff" fill-opacity=".72"/><text x="89.0" y="113.2" font-size="2.1" text-anchor="middle" fill="#555">34</text><rect x="105.4" y="106.8" width="3.2" height="2.4" rx=".4" fill="#fff" fill-opacity=".72"/><text x="107.0" y="108.8" font-size="2.1" text-anchor="middle" fill="#555">35</text><rect x="45.9" y="119.8" width="3.2" height="2.4" rx=".4" fill="#fff" fill-opacity=".72"/><text x="47.5" y="121.8" font-size="2.1" text-anchor="middle" fill="#555">36</text><rect x="61.9" y="120.8" width="3.2" height="2.4" rx=".4" fill="#fff" fill-opacity=".72"/><text x="63.5" y="122.8" font-size="2.1" text-anchor="middle" fill="#555">37</text><rect x="77.4" y="133.3" width="3.2" height="2.4" rx=".4" fill="#fff" fill-opacity=".72"/><text x="79.0" y="135.2" font-size="2.1" text-anchor="middle" fill="#555">38</text><rect x="116.9" y="119.8" width="3.2" height="2.4" rx=".4" fill="#fff" fill-opacity=".72"/><text x="118.5" y="121.8" font-size="2.1" text-anchor="middle" fill="#555">39</text><rect x="102.9" y="125.3" width="3.2" height="2.4" rx=".4" fill="#fff" fill-opacity=".72"/><text x="104.5" y="127.2" font-size="2.1" text-anchor="middle" fill="#555">40</text>
<path d="M18.8 53.6L42.3 66.7M30.0 92.0L60.2 86.3M28.2 93.8L31.0 98.5M98.8 21.6L96.0 26.3M133.6 36.7L111.0 58.3M148.6 60.2L144.8 70.5M142.6 119.0L137.4 105.3M101.8 139.5L76.0 115.5M111.7 138.2L115.0 127.0" stroke="#333" stroke-width=".5" fill="none"/>
<g fill="#222">
<text x="9.2" y="52" font-size="5.2" stroke="#000" stroke-width=".18">Myeloid</text>
<text x="8.3" y="92.8" font-size="5.2" stroke="#000" stroke-width=".18">Mature B</text>
<text x="88.7" y="19.8" font-size="5.2" stroke="#000" stroke-width=".18">Plasma B</text>
<text x="129.6" y="35.7" font-size="5.2" stroke="#000" stroke-width=".18">Hepatocyte</text>
<text x="139" y="58.3" font-size="5.2" stroke="#000" stroke-width=".18">Fibroblast</text>
<text x="130.8" y="126" font-size="5.2" stroke="#000" stroke-width=".18">Endothelial</text>
<text x="103.2" y="143" font-size="5.2" stroke="#000" stroke-width=".18">T/NK</text>
</g>
<circle cx="166.4" cy="49.0" r="1.75" fill="#1b9e77"/><rect x="168.5" y="48.6" width="2.6" height=".7" fill="#888"/><circle cx="166.4" cy="53.3" r="1.75" fill="#d95f02"/><rect x="168.5" y="52.9" width="2.6" height=".7" fill="#888"/><circle cx="166.4" cy="57.6" r="1.75" fill="#7570b3"/><rect x="168.5" y="57.2" width="2.6" height=".7" fill="#888"/><circle cx="166.4" cy="61.8" r="1.75" fill="#e7298a"/><rect x="168.5" y="61.5" width="2.6" height=".7" fill="#888"/><circle cx="166.4" cy="66.1" r="1.75" fill="#66a61e"/><rect x="168.5" y="65.8" width="2.6" height=".7" fill="#888"/><circle cx="166.4" cy="70.4" r="1.75" fill="#e6ab02"/><rect x="168.5" y="70.1" width="2.6" height=".7" fill="#888"/><circle cx="166.4" cy="74.7" r="1.75" fill="#a6761d"/><rect x="168.5" y="74.3" width="2.6" height=".7" fill="#888"/><circle cx="166.4" cy="79.0" r="1.75" fill="#666666"/><rect x="168.5" y="78.6" width="2.6" height=".7" fill="#888"/><circle cx="166.4" cy="83.2" r="1.75" fill="#7fc97f"/><rect x="168.5" y="82.9" width="2.6" height=".7" fill="#888"/><circle cx="166.4" cy="87.5" r="1.75" fill="#beaed4"/><rect x="168.5" y="87.2" width="2.6" height=".7" fill="#888"/><circle cx="166.4" cy="91.8" r="1.75" fill="#fdc086"/><rect x="168.5" y="91.5" width="2.6" height=".7" fill="#888"/><circle cx="166.4" cy="96.1" r="1.75" fill="#ffff99"/><rect x="168.5" y="95.7" width="2.6" height=".7" fill="#888"/><circle cx="166.4" cy="100.4" r="1.75" fill="#386cb0"/><rect x="168.5" y="100.0" width="2.6" height=".7" fill="#888"/><circle cx="166.4" cy="104.6" r="1.75" fill="#f0027f"/><rect x="168.5" y="104.3" width="2.6" height=".7" fill="#888"/><circle cx="166.4" cy="108.9" r="1.75" fill="#bf5b17"/><rect x="168.5" y="108.6" width="2.6" height=".7" fill="#888"/><circle cx="166.4" cy="113.2" r="1.75" fill="#e41a1c"/><rect x="168.5" y="112.9" width="2.6" height=".7" fill="#888"/><circle cx="166.4" cy="117.5" r="1.75" fill="#377eb8"/><rect x="168.5" y="117.1" width="2.6" height=".7" fill="#888"/><circle cx="166.4" cy="121.8" r="1.75" fill="#4daf4a"/><rect x="168.5" y="121.4" width="2.6" height=".7" fill="#888"/><circle cx="173.5" cy="49.0" r="1.75" fill="#984ea3"/><rect x="175.6" y="48.6" width="2.6" height=".7" fill="#888"/><circle cx="173.5" cy="53.3" r="1.75" fill="#ff7f00"/><rect x="175.6" y="52.9" width="2.6" height=".7" fill="#888"/><circle cx="173.5" cy="57.6" r="1.75" fill="#ffff33"/><rect x="175.6" y="57.2" width="2.6" height=".7" fill="#888"/><circle cx="173.5" cy="61.8" r="1.75" fill="#a65628"/><rect x="175.6" y="61.5" width="2.6" height=".7" fill="#888"/><circle cx="173.5" cy="66.1" r="1.75" fill="#f781bf"/><rect x="175.6" y="65.8" width="2.6" height=".7" fill="#888"/><circle cx="173.5" cy="70.4" r="1.75" fill="#999999"/><rect x="175.6" y="70.1" width="2.6" height=".7" fill="#888"/><circle cx="173.5" cy="74.7" r="1.75" fill="#66c2a5"/><rect x="175.6" y="74.3" width="2.6" height=".7" fill="#888"/><circle cx="173.5" cy="79.0" r="1.75" fill="#ffffb3"/><rect x="175.6" y="78.6" width="2.6" height=".7" fill="#888"/><circle cx="173.5" cy="83.2" r="1.75" fill="#bebada"/><rect x="175.6" y="82.9" width="2.6" height=".7" fill="#888"/><circle cx="173.5" cy="87.5" r="1.75" fill="#fb8072"/><rect x="175.6" y="87.2" width="2.6" height=".7" fill="#888"/><circle cx="173.5" cy="91.8" r="1.75" fill="#80b1d3"/><rect x="175.6" y="91.5" width="2.6" height=".7" fill="#888"/><circle cx="173.5" cy="96.1" r="1.75" fill="#fdb462"/><rect x="175.6" y="95.7" width="2.6" height=".7" fill="#888"/><circle cx="173.5" cy="100.4" r="1.75" fill="#b3de69"/><rect x="175.6" y="100.0" width="2.6" height=".7" fill="#888"/><circle cx="173.5" cy="104.6" r="1.75" fill="#fccde5"/><rect x="175.6" y="104.3" width="2.6" height=".7" fill="#888"/><circle cx="173.5" cy="108.9" r="1.75" fill="#d9d9d9"/><rect x="175.6" y="108.6" width="2.6" height=".7" fill="#888"/><circle cx="173.5" cy="113.2" r="1.75" fill="#bc80bd"/><rect x="175.6" y="112.9" width="2.6" height=".7" fill="#888"/><circle cx="173.5" cy="117.5" r="1.75" fill="#ccebc5"/><rect x="175.6" y="117.1" width="2.6" height=".7" fill="#888"/><circle cx="173.5" cy="121.8" r="1.75" fill="#ffed6f"/><rect x="175.6" y="121.4" width="2.6" height=".7" fill="#888"/><circle cx="180.3" cy="49.0" r="1.75" fill="#66c2a5"/><rect x="182.4" y="48.6" width="2.6" height=".7" fill="#888"/><circle cx="180.3" cy="53.3" r="1.75" fill="#fc8d62"/><rect x="182.4" y="52.9" width="2.6" height=".7" fill="#888"/><circle cx="180.3" cy="57.6" r="1.75" fill="#8da0cb"/><rect x="182.4" y="57.2" width="2.6" height=".7" fill="#888"/><circle cx="180.3" cy="61.8" r="1.75" fill="#e78ac3"/><rect x="182.4" y="61.5" width="2.6" height=".7" fill="#888"/><circle cx="180.3" cy="66.1" r="1.75" fill="#a6d854"/><rect x="182.4" y="65.8" width="2.6" height=".7" fill="#888"/><circle cx="180.3" cy="70.4" r="1.75" fill="#ffd92f"/><rect x="182.4" y="70.1" width="2.6" height=".7" fill="#888"/><circle cx="180.3" cy="74.7" r="1.75" fill="#e5c494"/><rect x="182.4" y="74.3" width="2.6" height=".7" fill="#888"/><circle cx="180.3" cy="79.0" r="1.75" fill="#b3b3b3"/><rect x="182.4" y="78.6" width="2.6" height=".7" fill="#888"/><circle cx="180.3" cy="83.2" r="1.75" fill="#a6cee3"/><rect x="182.4" y="82.9" width="2.6" height=".7" fill="#888"/><circle cx="180.3" cy="87.5" r="1.75" fill="#1f78b4"/><rect x="182.4" y="87.2" width="2.6" height=".7" fill="#888"/><circle cx="180.3" cy="91.8" r="1.75" fill="#b2df8a"/><rect x="182.4" y="91.5" width="2.6" height=".7" fill="#888"/><circle cx="180.3" cy="96.1" r="1.75" fill="#33a02c"/><rect x="182.4" y="95.7" width="2.6" height=".7" fill="#888"/><circle cx="180.3" cy="100.4" r="1.75" fill="#fb9a99"/><rect x="182.4" y="100.0" width="2.6" height=".7" fill="#888"/><circle cx="180.3" cy="104.6" r="1.75" fill="#e31a1c"/><rect x="182.4" y="104.3" width="2.6" height=".7" fill="#888"/><circle cx="180.3" cy="108.9" r="1.75" fill="#fdbf6f"/><rect x="182.4" y="108.6" width="2.6" height=".7" fill="#888"/><circle cx="180.3" cy="113.2" r="1.75" fill="#ff7f00"/><rect x="182.4" y="112.9" width="2.6" height=".7" fill="#888"/><circle cx="180.3" cy="117.5" r="1.75" fill="#cab2d6"/><rect x="182.4" y="117.1" width="2.6" height=".7" fill="#888"/>
<path d="M201.1 16.3V147.5M201.1 16.3H337.9M218.2 16.3V147.5M201.1 32.7H337.9M235.3 16.3V147.5M201.1 49.1H337.9M252.4 16.3V147.5M201.1 65.5H337.9M269.5 16.3V147.5M201.1 81.9H337.9M286.6 16.3V147.5M201.1 98.3H337.9M303.7 16.3V147.5M201.1 114.7H337.9M320.8 16.3V147.5M201.1 131.1H337.9M337.9 16.3V147.5M201.1 147.5H337.9" stroke="#e4e4e4" stroke-width=".6" fill="none"/><path d="M269.5 16.3V147.5M201.1 81.9H337.9" stroke="#bdbdbd" stroke-width="1" fill="none"/><g font-size="5.3" fill="#222" stroke="#222" stroke-width=".12"><text x="201.1" y="153.6" text-anchor="middle">−40</text><text x="199.5" y="149.4" text-anchor="end">−40</text><text x="218.2" y="153.6" text-anchor="middle">−30</text><text x="199.5" y="133.0" text-anchor="end">−30</text><text x="235.3" y="153.6" text-anchor="middle">−20</text><text x="199.5" y="116.6" text-anchor="end">−20</text><text x="252.4" y="153.6" text-anchor="middle">−10</text><text x="199.5" y="100.2" text-anchor="end">−10</text><text x="269.5" y="153.6" text-anchor="middle">0</text><text x="199.5" y="83.8" text-anchor="end">0</text><text x="286.6" y="153.6" text-anchor="middle">10</text><text x="199.5" y="67.4" text-anchor="end">10</text><text x="303.7" y="153.6" text-anchor="middle">20</text><text x="199.5" y="51.0" text-anchor="end">20</text><text x="320.8" y="153.6" text-anchor="middle">30</text><text x="199.5" y="34.6" text-anchor="end">30</text><text x="337.9" y="153.6" text-anchor="middle">40</text><text x="199.5" y="18.2" text-anchor="end">40</text></g>
<g fill="#cfcfcf" fill-opacity=".33"><path d="M214.8 80.3L216.5 68.8L223.3 54.0L228.5 44.2L237.0 39.3L245.6 42.5L250.7 34.3L255.8 34.3L258.4 47.5L264.4 39.3L269.5 39.3L272.9 47.5L283.2 49.1L291.7 45.8L296.9 39.3L303.7 40.9L308.8 49.1L312.2 58.9L310.5 72.1L305.4 80.3L293.4 86.8L278.1 88.5L266.1 83.5L252.4 81.9L235.3 83.5Z"/><path d="M236.5 67.1L234.4 70.7L232.9 74.5L229.1 77.1L224.4 77.1L220.2 75.1L219.3 70.6L218.7 67.1L217.5 62.9L220.2 59.3L224.4 57.3L229.0 57.6L232.3 60.5L235.6 63.0Z"/><path d="M252.9 58.9L251.1 62.9L250.2 67.8L246.4 71.7L241.6 70.1L237.9 67.3L236.0 63.2L235.2 58.9L234.4 53.8L237.7 50.2L241.7 48.6L246.2 47.2L250.1 50.1L252.4 54.3Z"/><path d="M299.0 68.8L298.1 74.3L293.5 78.7L286.2 78.9L279.8 80.3L272.0 79.6L267.0 74.7L265.1 68.8L269.9 63.9L275.0 60.9L279.5 56.3L287.0 56.1L293.6 58.7L298.9 63.0Z"/><path d="M282.2 32.7L282.1 34.5L280.0 35.5L278.3 36.4L275.9 37.0L273.7 36.2L272.0 34.7L272.3 32.7L273.5 31.3L274.0 29.6L275.9 28.4L278.4 28.6L280.7 29.3L281.7 31.0Z"/><path d="M291.7 34.3L290.6 35.5L289.4 36.3L288.4 37.5L286.5 37.6L284.9 36.9L283.7 35.8L283.7 34.3L283.9 33.0L285.0 31.9L286.7 31.8L288.3 31.4L290.2 31.6L291.3 32.9Z"/><path d="M324.4 70.4L324.1 73.8L322.7 76.7L320.6 79.7L317.5 79.9L315.5 76.7L313.6 74.1L312.9 70.4L314.0 67.0L315.3 63.9L317.8 62.4L320.5 61.8L323.7 62.4L324.7 66.7Z"/><path d="M240.4 90.1L231.9 104.9L233.6 116.3L245.6 124.5L255.8 129.5L262.7 136.0L272.1 136.0L278.1 127.8L283.2 119.6L282.3 109.8L284.0 96.7L276.3 89.3L260.9 87.6L249.0 88.5Z"/><path d="M228.9 95.8L228.0 97.3L226.6 98.6L224.6 99.6L222.2 99.2L219.9 98.7L217.6 97.7L217.5 95.8L218.5 94.3L220.3 93.3L222.3 92.8L224.7 91.9L227.3 92.5L228.4 94.2Z"/><path d="M283.0 87.6L281.4 89.4L278.4 90.8L273.9 90.9L270.3 90.7L265.5 90.9L262.3 89.5L261.8 87.6L262.9 85.9L266.6 84.9L270.0 83.9L274.3 83.7L277.5 84.9L280.9 85.9Z"/><path d="M293.6 103.2L292.6 105.4L291.1 107.2L289.0 108.2L286.3 109.4L283.5 108.4L282.8 105.5L282.4 103.2L283.0 101.0L284.3 99.1L286.4 97.2L289.1 97.7L291.4 98.9L293.7 100.5Z"/><path d="M300.4 113.1L299.8 116.2L298.8 119.0L297.2 120.1L295.5 119.9L293.9 118.8L293.4 115.8L293.0 113.1L292.6 109.6L293.8 106.8L295.4 105.5L297.1 106.4L298.2 108.6L299.7 110.0Z"/><path d="M316.8 101.1L316.3 103.9L314.0 105.5L312.0 107.5L308.8 108.7L306.2 106.6L304.8 103.9L304.8 101.1L305.6 98.7L306.2 95.6L309.0 94.1L312.0 94.8L314.8 95.7L316.4 98.3Z"/><path d="M323.7 93.4L323.0 95.0L321.8 96.4L319.9 97.5L317.8 96.7L316.3 95.8L314.7 94.9L313.9 93.4L313.8 91.5L315.5 90.2L317.8 90.2L319.7 90.0L321.6 90.5L322.9 91.8Z"/><path d="M308.9 86.0L308.2 87.0L306.8 87.6L305.3 87.8L303.7 88.2L302.0 87.8L301.2 86.9L300.4 86.0L300.8 85.0L302.1 84.3L303.7 83.9L305.3 84.2L306.8 84.4L308.7 84.9Z"/></g><g transform="scale(0.25)" fill="none" stroke-linecap="round"><defs><path id="r1" d="M867 388zm5-8zm0-1zm0-7zm-11-51zm3-2zm11-3zm-4-5zm6-5zm-13 0zm-6-2zm2-2zm2-3zm10-2zm4-1zm-5-5zm2-3zm-11 0zm7 0zm0-1zm-4-1zm13 0zm-10-1zm1-8zm-6 0zm8-1zm-17-1zm21 0zm-5-1zm-4-1zm3-1zm7-5zm2 0zm-3-2zm-1-1zm-3 0zm8-3zm-2-3zm-7-4zm8 0zm0-4zm-1-1zm2-1zm-3 0zm2-1zm-4-3zm44-65zm0 0zm-2 2zm-1 1zm2 0zm-6 1zm4 2zm3 1zm-6 3zm1 6zm2 1zm-2 2zm1 2zm-9 4zm14 1zm-10 4zm3 2zm-7 0zm-7 0zm-4 0zm18 1zm-9 0zm9 1zm-9 0zm2 1zm-3 1zm9 2zm0 0zm-18 1zm18 0zm-14 2zm20 0zm-31 1zm15 2zm4 0zm-5 1zm6 0zm6 0zm1 1zm-21 0zm23 1zm3 1zm-17 1zm-5 1zm-1 1zm-9 0zm21 0zm1 0zm-3 1zm0 3zm-2 0zm-14 0zm29 0zm-10 1zm0 0zm11 0zm-30 1zm2 1zm26 0zm-7 0zm3 0zm-24 1zm2 0zm14 0zm-16 0zm-3 0zm21 1zm-3 1zm11 0zm-29 1zm24 0zm-2 1zm-1 2zm-5 0zm-4 0zm17 1zm-3 0zm-15 0zm15 1zm-30 1zm11 0zm20 0zm-10 1zm7 0zm-19 0zm11 1zm15 0zm-16 0zm13 1zm-23 0zm18 1zm-28 2zm32 0zm-23 0zm14 0zm-17 1zm21 0zm-8 1zm-1 2zm-8 0zm-11 2zm2 0zm3 0zm31 1zm-21 0zm-9 0zm30 1zm-7 0zm-20 0zm13 0zm-6 1zm19 0zm-34 0zm17 1zm0 0zm-1 1zm-13 0zm26 1zm0 0zm-9 1zm13 0zm-7 1zm1 1zm-21 0zm8 1zm15 0zm-1 0zm8 1zm-31 0zm25 1zm-17 0zm2 1zm-9 2zm10 0zm12 1zm-3 1zm-8 1zm10 0zm-16 1zm7 0zm-17 0zm19 0zm13 1zm-18 2zm0 0zm-10 1zm5 1zm9 0zm-16 1zm0 0zm2 0zm15 0zm-15 1zm31 0zm-12 1zm5 0zm-2 0zm5 0zm-23 1zm2 1zm3 1zm4 0zm-7 1zm18 2zm-15 0zm-14 1zm36 1zm-13 0zm-18 1zm33 0zm-21 1zm19 0zm-19 0zm-18 3zm11 0zm20 0zm-1 0zm7 0zm1 0zm-22 0zm18 1zm-32 0zm23 0zm-5 0zm-17 1zm20 0zm1 1zm-8 1zm-14 1zm14 0zm-6 1zm2 0zm25 1zm-24 2zm22 1zm-10 1zm-16 1zm2 0zm8 2zm-3 0zm-16 0zm7 1zm-1 0zm7 1zm18 0zm-30 1zm10 0zm10 1zm-8 1zm19 0zm-5 3zm-12 3zm24 0zm-10 5zm-15 42zm4 0zm-12 5zm24 1zm1 1zm-29 2zm24 8zm-11 3zm20 2zm-12 2zm1 0zm-4 6zm57 77zm-8-4zm-5-2zm8-4zm-8 0zm-7-2zm15 0zm2-1zm-3 0zm-5 0zm10 0zm2-1zm-20-3zm14 0zm-6 0zm6-1zm-2 0zm0-1zm6-1zm-7 0zm-10-1zm15 0zm-1-2zm-1 0zm-3-3zm-9 0zm-4-1zm15 0zm-6-1zm1-2zm-5-2zm-2 0zm0 0zm11 0zm-2-1zm10 0zm-27-2zm5 0zm-5 0zm1 0zm3-1zm21-4zm-19-3zm7 0zm-6-2zm16 0zm-8-1zm-12 0zm10 0zm-9 0zm22 0zm-12-2zm-4-1zm-5 0zm6-1zm10 0zm-7-1zm-5 0zm-4 0zm23-1zm-28-1zm16 0zm-5-3zm2-1zm11 0zm-7-1zm-17 0zm18-2zm-4-2zm6-2zm7 0zm-14-2zm6-2zm7 0zm-15 0zm-7-3zm5-2zm9-1zm9-1zm-16 0zm13-3zm-11-1zm-12 0zm14-1zm-2-5zm11-3zm-7 0zm11-8zm-1-3zm-4 0zm-1 0zm4-2zm-4-1zm2-1zm1-5zm-8-34zm8-1zm-9-1zm0 0zm12-1zm-20-2zm9-1zm-4 0zm13-1zm-11 0zm8-2zm2-5zm-11 0zm3-1zm-6 0zm3 0zm10-1zm-28 0zm-7-1zm35 0zm-9-2zm11 0zm-3 0zm3 0zm-26-1zm-6 0zm-1-1zm12-2zm17-2zm-31 0zm6 0zm24-3zm1-1zm5-1zm-10 0zm-25 0zm3-1zm31-1zm-10 0zm-18-1zm-8 0zm5-1zm0-1zm16 0zm17 0zm-34 0zm25-3zm-21-1zm-6-2zm-2-1zm0-3zm12 0zm22-1zm-34 0zm3 0zm18-1zm0 0zm-12-1zm19 0zm10 0zm-7 0zm-19-1zm-10 0zm15 0zm18 0zm-31-1zm13 0zm3 0zm6-1zm10 0zm-13 0zm-8 0zm-9-1zm7 0zm22 0zm-36-2zm2 0zm11-1zm25 0zm-2-1zm-18-1zm13 0zm5 0zm-1-1zm-27 0zm-8-1zm12 0zm11-2zm-16 0zm-6 0zm8-1zm15 0zm12-1zm-18-1zm-2 0zm11 0zm-18-1zm23 0zm-8 0zm-19-1zm33 0zm-2-1zm-22 0zm17 0zm-30-1zm19 0zm-14 0zm-3-1zm9 0zm11 0zm8 0zm-24-1zm17 0zm-20 0zm-3 0zm21-1zm6 0zm-1 0zm3 0zm-28-1zm33-1zm-16 0zm9 0zm0 0zm8 0zm-30-1zm0 0zm17 0zm-21-2zm21 0zm16-1zm-37 0zm25 0zm-16-1zm22 0zm-17-1zm4 0zm-3 0zm-16 0zm27-1zm-5-1zm-8-1zm-14 0zm18 0zm-9-1zm4 0zm9-1zm1-1zm-8 0zm17 0zm3 0zm-35-1zm34 0zm-16 0zm5 0zm-10-1zm-11 0zm18-1zm-16 0zm28 0zm4-1zm-20 0zm-9 0zm1-1zm-5 0zm26-1zm-7-1zm1-1zm-1 0zm4 0zm-10-1zm15-1zm-13 0zm-8 0zm-10 0zm7-1zm11 0zm-10 0zm21 0zm-18 0zm18-2zm-30 0zm22 0zm-10 0zm19 0zm-22-1zm14-1zm-18 0zm22 0zm-21-1zm2-1zm21 0zm-7 0zm-2-1zm1 0zm-2 0zm4-2zm2 0zm-4 0zm-16-2zm18 0zm0 0zm-15-1zm0-1zm-4 0zm12 0zm-2-2zm-6-1zm14-2zm-15 0zm31 0zm-17-2zm5 0zm-9-1zm-7 0zm20-1zm-22-3zm27 0zm-9 0zm10-1zm-3-1zm-19-1zm8 0zm-21-1zm21 0zm-17-1zm14 0zm-17-3zm33-2zm3 0zm-38-2zm30 0zm-19 0zm6-3zm20 0zm-18 0zm5-4zm10-1zm4-1zm-8 0zm-2-2zm-23-3zm19-1zm-12-3zm27 0zm-23-3zm-9-1zm-4-1zm34 0zm-9 0zm5-1zm4 0zm-14 0zm-9-2zm25 0zm-31 0zm8-3zm0 0zm6 0zm-13 0zm-4-1zm19-2zm15-3zm-2 0zm-16 0zm3-3zm5-2zm9-1zm-26-2zm66-12zm-2 3zm-1 5zm-4 1zm-1 7zm-16 2zm3 0zm-4 1zm19 1zm5 1zm-10 0zm12 2zm-25 2zm7 0zm17 3zm-22 0zm20 0zm-3 0zm-17 1zm-1 0zm2 1zm-16 1zm11 0zm-3 1zm6 1zm11 0zm-7 1zm8 0zm-7 0zm-8 1zm0 0zm5 0zm10 2zm-4 0zm4 0zm-20 1zm-5 0zm3 2zm31 1zm-15 0zm-3 2zm0 1zm-2 1zm-4 0zm-3 0zm6 0zm2 1zm-13 0zm32 0zm-7 0zm-10 1zm0 1zm-17 0zm26 0zm2 0zm-27 1zm20 0zm-2 0zm-20 0zm9 0zm22 1zm-2 1zm-18 0zm13 0zm-18 1zm7 0zm18 0zm-31 0zm4 1zm-2 0zm4 1zm31 0zm-34 0zm15 1zm1 0zm8 1zm-18 0zm11 1zm0 1zm-4 0zm-5 0zm2 1zm2 0zm16 0zm-16 1zm-14 0zm32 1zm-33 0zm4 0zm23 1zm-6 0zm-20 0zm34 1zm-29 0zm17 1zm-24 0zm34 1zm-12 0zm-18 0zm34 4zm-16 0zm-21 0zm6 0zm32 0zm-5 1zm4 0zm-16 1zm2 1zm-21 0zm25 1zm-8 1zm-1 0zm14 0zm-23 1zm-5 0zm26 1zm-30 0zm35 0zm-23 1zm-5 0zm29 1zm-19 1zm-3 0zm13 2zm-5 2zm-10 1zm-6 0zm24 2zm-12 0zm4 0zm12 2zm-8 0zm12 0zm-32 1zm13 0zm-13 0zm6 1zm25 1zm-24 1zm24 1zm1 0zm-29 1zm5 1zm-15 0zm10 0zm11 1zm-13 0zm0 2zm4 0zm-12 0zm1 0zm0 2zm19 0zm1 1zm-2 2zm10 0zm-28 0zm7 1zm24 0zm-28 0zm15 0zm12 1zm-15 0zm-10 0zm25 0zm-7 0zm3 0zm8 0zm-30 1zm32 1zm-37 0zm9 1zm-6 1zm7 1zm28 0zm-3 0zm-30 1zm18 0zm-17 0zm1 0zm15 0zm12 1zm-18 1zm0 0zm16 0zm7 0zm-32 1zm25 0zm-15 0zm-16 1zm-1 1zm8 1zm10 0zm12 0zm4 1zm2 2zm-17 1zm-3 0zm21 0zm-29 1zm1 0zm24 0zm-18 2zm-1 0zm-2 0zm19 2zm6 0zm-2 1zm-33 0zm21 0zm14 1zm-16 0zm15 1zm-27 0zm10 1zm-14 1zm17 0zm14 0zm2 1zm-17 0zm12 1zm-20 1zm9 1zm-7 0zm10 0zm-7 1zm-18 0zm37 1zm-36 0zm38 2zm-4 0zm-11 0zm-21 1zm36 0zm-30 1zm11 2zm2 1zm-9 1zm13 1zm2 0zm-23 0zm9 1zm6 0zm-12 1zm20 3zm-16 0zm-8 1zm14 0zm-5 0zm-2 1zm21 0zm-26 0zm32 1zm-19 0zm-16 1zm23 1zm-13 1zm6 1zm9 1zm-17 2zm19 3zm-10 2zm14 0zm-32 0zm11 1zm10 0zm-19 0zm1 2zm32 2zm-16 0zm-17 1zm20 0zm5 0zm-12 1zm-7 0zm27 1zm0 1zm-12 1zm0 1zm-25 0zm5 2zm20 4zm6 25zm-20 0zm25 1zm-16 0zm10 1zm-7 1zm8 0zm1 1zm-5 0zm9 1zm-26 2zm16 0zm-16 1zm-7 0zm20 0zm-6 1zm14 3zm-29 0zm30 0zm-5 1zm-25 0zm19 1zm5 0zm-8 0zm21 0zm-22 2zm-10 0zm31 0zm-36 0zm9 1zm27 0zm-3 0zm-3 0zm-23 0zm16 1zm5 1zm-19 0zm19 1zm-11 1zm-16 0zm28 3zm0 1zm-12 0zm-2 0zm2 1zm-12 3zm11 0zm4 1zm-19 1zm1 2zm3 0zm-1 0zm23 2zm-15 1zm3 0zm-15 0zm34 1zm-20 2zm-9 1zm7 0zm24 2zm-13 0zm-4 0zm-19 1zm19 1zm16 0zm-23 0zm-12 1zm23 0zm-18 0zm-4 1zm19 0zm8 0zm-18 2zm8 0zm-12 1zm31 1zm-23 0zm11 1zm3 2zm-26 0zm33 1zm-13 1zm0 3zm-1 1zm-5 0zm-15 0zm14 2zm20 1zm-32 0zm6 1zm15 0zm-14 2zm3 2zm21 0zm0 0zm-25 1zm6 0zm-5 0zm12 1zm7 0zm7 0zm-25 1zm3 2zm-7 0zm-6 1zm21 1zm-10 0zm22 2zm-34 1zm8 0zm5 1zm0 1zm-7 1zm9 0zm5 1zm-8 0zm15 3zm-2 2zm-23 0zm20 1zm-4 0zm-17 1zm34 0zm-37 2zm31 3zm-11 1zm-1 0zm-3 1zm4 0zm-15 1zm29 1zm3 0zm-34 0zm4 0zm9 0zm20 1zm-16 1zm18 0zm1 2zm-6 1zm3 0zm2 1zm-30 2zm24 0zm-28 0zm1 2zm12 0zm-4 0zm15 1zm-7 0zm-20 0zm25 0zm2 2zm-24 2zm3 0zm-4 0zm10 0zm18 1zm-22 0zm-8 1zm14 1zm-1 1zm9 2zm-1 0zm-22 0zm36 2zm-31 2zm28 0zm-13 1zm-8 0zm9 1zm-13 0zm-3 0zm17 1zm7 2zm-29 0zm11 1zm-6 1zm7 0zm-9 0zm17 4zm19 3zm-5 0zm-13 1zm16 0zm1 0zm-18 1zm11 2zm-7 1zm2 0zm13 1zm-5 1zm5 4zm-9 1zm45 22zm1-6zm-1-6zm-3 0zm5 0zm-18-1zm3-1zm6-1zm3 0zm-21 0zm12-1zm16-1zm-11-2zm-12-1zm-4 0zm-8-1zm36 0zm-3-1zm0 0zm-31-2zm6 0zm-11-1zm7-1zm30-1zm-17-2zm2 0zm12-2zm-22-1zm-12-2zm5-1zm19 0zm3-3zm-3-1zm-23-1zm10 0zm21-1zm-1-2zm-14 0zm-3-1zm12 0zm11-1zm-15 0zm-12 0zm25 0zm-6 0zm-1-2zm-24 0zm5-1zm12 0zm18-1zm-35 0zm10-1zm-9 0zm34-1zm-17-1zm6 0zm2 0zm3-1zm-27 0zm25-2zm-24 0zm12-1zm4-1zm11 0zm-7 0zm2-1zm9-1zm-24 0zm1-1zm-12 0zm7-1zm25 0zm-15 0zm12-1zm-8-3zm-10 0zm7 0zm-11-1zm9-1zm-1 0zm13-1zm7 0zm-10-1zm-19 0zm-6 0zm33 0zm0-1zm-12 0zm-1 0zm-16-1zm-1-1zm16-2zm-16 0zm23 0zm-17-1zm-10-1zm31 0zm-30-1zm7 0zm-8-2zm5-1zm16-1zm-18-1zm14-1zm-10-1zm-1 0zm22-1zm8 0zm-18 0zm10-2zm-30-1zm22 0zm-5-1zm-2 0zm23-1zm-19-1zm-12-2zm15-1zm6-1zm-2-1zm1 0zm-18 0zm10-1zm1-1zm11 0zm1 0zm-5-2zm-17 0zm-6-1zm18-1zm0 0zm16-1zm-9 0zm-21-1zm29 0zm-23-1zm9-1zm2 0zm1 0zm-17-1zm23 0zm-19-1zm-11-2zm0 0zm-2 0zm2 0zm0 0zm29-1zm6-1zm-13 0zm-23 0zm18-1zm1-1zm17 0zm-2-1zm4 0zm-33-1zm22-1zm-8-1zm-11-1zm12 0zm0-2zm12 0zm-10 0zm8 0zm-29 0zm34-1zm-8 0zm-1-1zm11 0zm-3 0zm-29-1zm2 0zm28 0zm-33-1zm28 0zm2 0zm2-1zm-21 0zm-6 0zm0 0zm7-1zm5 0zm-4 0zm9-1zm-18-3zm23 0zm8 0zm-16-1zm-1 0zm-13 0zm20 0zm-11 0zm-7 0zm21-1zm-4 0zm7 0zm-27-1zm4 0zm-3-2zm15 0zm-21-1zm0-1zm8-1zm5 0zm20 0zm-13-1zm0 0zm-16 0zm18 0zm-11 0zm7-2zm-1-2zm16-4zm-31-1zm26 0zm-23 0zm-2 0zm34-1zm-24 0zm-15-1zm20-1zm17-1zm-26-1zm-10 0zm6 0zm-7-1zm37-1zm-12-1zm-25 0zm21-1zm1-1zm4 0zm-6 0zm12 0zm-23-1zm6 0zm8-1zm6-1zm-11 0zm17-1zm-18 0zm6-1zm-10 0zm24-1zm-3 0zm-6-2zm-10 0zm19 0zm-26 0zm5-1zm22-1zm-19 0zm12 0zm-12 0zm-8 0zm4-1zm24 0zm-8 0zm-12-2zm19-1zm-14 0zm-10-1zm7-1zm7-1zm10-1zm-10-2zm2-17zm4-2zm-34-1zm39-1zm-27-1zm-2-1zm8-2zm-6-1zm8-2zm-6 0zm-5-4zm17 0zm-11-1zm14 0zm3-2zm-12-1zm-16 0zm10-4zm0-1zm8-1zm-13-1zm-5-4zm24-1zm-11-1zm-13-1zm26 0zm-19-1zm22 0zm-33-1zm28-2zm-1-2zm-7 0zm-4-2zm-10 0zm-1-3zm31-1zm-4 0zm-31-1zm26 0zm-11-2zm-7-2zm17-1zm-1 0zm5 0zm-10-1zm-16-1zm10 0zm-10 0zm0-2zm18 0zm-2-1zm-9-1zm13-1zm5 0zm0-1zm-24-1zm8-1zm-11-1zm2-5zm9-1zm-6 0zm15-2zm1-1zm6 0zm-12-1zm10 0zm-11 0zm-15 0zm-1-1zm29-1zm-22-1zm26-2zm-10-1zm-22 0zm30 0zm-20-1zm3-1zm22 0zm-33 0zm18-1zm-1 0zm-13-1zm13-1zm-19 0zm13 0zm-3-2zm8-1zm11-2zm-21 0zm-2-1zm1 0zm26-1zm-20 0zm15-1zm-22 0zm3 0zm28-1zm-37 0zm5-1zm8-1zm-10 0zm30 0zm-15-1zm-12 0zm5-1zm-7 0zm8-1zm-9 0zm9-1zm17 0zm7-2zm-35 0zm5-2zm-1-1zm29-1zm2 0zm2 0zm-9 0zm-17-1zm-13 0zm19-1zm-13 0zm0-1zm12 0zm-16 0zm21-1zm-23-1zm38-1zm-32 0zm24 0zm2 0zm-18 0zm-3 0zm14-1zm-21 0zm1-3zm8-1zm22 0zm-2-1zm1-1zm-6 0zm-3-1zm-23 0zm3 0zm6-1zm-1 0zm-5-3zm10 0zm-6-1zm22 0zm7-2zm-27 0zm21-2zm-27-1zm3 0zm20-1zm8-3zm-20 0zm20-2zm-3 0zm2-1zm-35 0zm32-1zm-24 0zm9-3zm-12 0zm17-2zm-3-1zm19-2zm-19-1zm6-1zm-24 0zm25-1zm-17 0zm-5-2zm12-2zm-9-2zm12-2zm-16-1zm21-1zm-2-3zm11-2zm-23-3zm18 0zm-12-1zm-4-2zm12 0zm-13-2zm3 0zm4-1zm-6-6zm-12-2zm1-1zm25-3zm-2 0zm-24-1zm20-2zm1-2zm48 21zm-11 1zm14 2zm-10 2zm7 0zm-20 1zm-8 1zm18 0zm-10 0zm3 1zm3 3zm14 0zm-15 0zm6 2zm-13 2zm-4 1zm24 0zm-8 1zm-14 1zm29 2zm-18 1zm6 0zm-16 2zm3 0zm7 1zm-14 1zm0 0zm5 1zm16 0zm-19 1zm8 0zm4 0zm-5 1zm-8 0zm5 1zm22 1zm6 0zm-9 2zm-22 1zm9 1zm-5 1zm16 1zm-21 2zm20 0zm-8 0zm3 4zm2 0zm-19 1zm6 0zm31 1zm-10 1zm-10 2zm-5 0zm13 1zm7 1zm-12 0zm-8 1zm21 0zm-22 1zm19 1zm-6 0zm13 1zm-25 0zm2 0zm-5 1zm-11 0zm13 0zm11 0zm-19 1zm-5 0zm34 1zm-7 0zm-9 1zm-18 1zm31 0zm-21 4zm29 2zm-19 1zm-4 1zm18 1zm-6 0zm-6 1zm7 0zm-9 3zm-2 0zm4 0zm-20 0zm30 1zm-29 0zm26 0zm-3 0zm-10 0zm1 1zm18 2zm-5 1zm-7 1zm5 1zm-22 2zm17 0zm-2 1zm-20 0zm37 0zm-13 1zm-6 1zm-17 0zm13 1zm14 3zm3 1zm4 0zm-27 2zm-8 0zm5 1zm3 1zm9 0zm-16 0zm35 1zm-6 0zm-19 1zm23 0zm1 1zm-12 1zm-13 0zm18 1zm2 1zm-22 0zm13 1zm9 0zm-23 1zm-5 0zm-2 1zm35 0zm-21 0zm7 1zm-9 0zm-5 0zm2 2zm9 0zm5 1zm5 0zm-29 2zm27 1zm-3 0zm14 0zm-20 1zm10 1zm-6 0zm-9 0zm4 1zm9 1zm-6 0zm6 0zm-19 1zm3 0zm-10 0zm22 0zm16 2zm-23 1zm-12 1zm35 0zm-33 0zm26 0zm-4 0zm4 1zm-9 0zm-1 1zm-8 0zm0 1zm-11 1zm25 0zm2 0zm-23 1zm19 0zm13 0zm-17 0zm-4 0zm-10 1zm14 0zm6 2zm-15 1zm27 1zm-23 1zm16 0zm-1 1zm-10 0zm10 1zm-4 0zm11 1zm0 1zm-14 0zm14 1zm-6 1zm-30 1zm37 0zm-36 2zm30 1zm-8 0zm-14 1zm11 1zm14 1zm-8 0zm-17 1zm14 1zm-4 0zm-5 1zm13 0zm-29 1zm34 0zm-30 2zm4 3zm5 4zm21 0zm-1 1zm3 1zm-16 0zm-16 0zm20 0zm-18 1zm24 1zm5 0zm-29 1zm3 0zm1 1zm10 2zm-2 0zm14 0zm-6 1zm2 0zm-5 2zm-23 0zm26 1zm-22 0zm24 0zm-17 1zm7 2zm21 0zm-7 3zm7 0zm-4 2zm-5 0zm-5 3zm0 1zm11 1zm-19 2zm8 3zm6 0zm2 1zm-17 1zm14 2zm-8 1zm5 1zm-4 1zm-8 0zm1 1zm3 1zm9 0zm-5 1zm-12 0zm7 1zm15 2zm-11 0zm-10 1zm25 1zm0 0zm-37 1zm16 1zm9 2zm-6 0zm0 2zm15 0zm-23 0zm-3 0zm2 0zm4 1zm7 0zm8 0zm-6 1zm-13 1zm20 1zm-25 0zm9 1zm-7 0zm-6 1zm38 0zm-28 3zm-7 1zm29 1zm-19 0zm-9 1zm6 0zm3 1zm-14 2zm9 0zm6 1zm-1 1zm25 1zm-11 1zm-23 2zm18 0zm-11 0zm7 0zm9 1zm-26 1zm13 1zm-4 0zm-2 1zm8 0zm9 1zm8 0zm-12 0zm3 0zm-15 0zm5 1zm-5 0zm-5 0zm-3 1zm6 1zm-2 2zm33 2zm-19 0zm-5 0zm-11 1zm3 0zm13 2zm12 1zm1 0zm-4 1zm-20 0zm-6 0zm2 1zm7 2zm24 0zm-28 2zm-3 0zm27 0zm-28 1zm11 1zm24 1zm-36 0zm3 0zm-3 0zm6 1zm19 1zm-12 2zm-11 1zm29 0zm-28 1zm32 0zm-13 1zm9 1zm-27 2zm-3 1zm32 1zm-20 0zm16 0zm-21 1zm13 1zm8 2zm-8 0zm-14 1zm22 1zm-16 0zm-14 2zm24 0zm-19 0zm4 0zm18 1zm-10 2zm-2 0zm0 1zm-13 0zm8 1zm13 0zm-14 1zm24 0zm-23 1zm3 0zm16 1zm-12 0zm15 0zm-9 1zm13 0zm-25 1zm-13 1zm21 0zm3 1zm-19 0zm1 0zm16 1zm-10 1zm26 0zm-33 0zm21 1zm11 0zm-27 1zm14 0zm-17 0zm18 1zm-22 0zm15 2zm13 1zm-17 0zm11 0zm-12 1zm7 0zm7 3zm-11 2zm-6 0zm13 0zm5 0zm-26 0zm7 1zm22 0zm-31 0zm20 2zm-20 1zm31 2zm6 2zm-3 0zm-30 0zm-3 1zm29 1zm-19 1zm7 1zm2 1zm3 0zm13 0zm-12 1zm9 0zm-2 1zm4 0zm-14 1zm1 0zm-3 1zm-16 0zm9 1zm13 0zm8 1zm-14 1zm15 1zm-30 0zm16 0zm8 2zm-1 1zm-4 0zm-14 1zm-6 0zm5 1zm-4 0zm26 0zm6 3zm-16 0zm-6 1zm24 0zm1 1zm-22 0zm-13 0zm9 1zm24 0zm-6 2zm-13 0zm16 0zm-33 0zm7 1zm27 0zm-5 1zm-12 1zm21 1zm-9 0zm-12 0zm18 0zm-33 2zm14 0zm-15 0zm22 0zm9 0zm-11 2zm14 1zm-7 0zm5 1zm-2 1zm-16 2zm-9 1zm4 1zm6 0zm-6 1zm-3 0zm7 0zm21 0zm-5 1zm-10 0zm-5 1zm-5 1zm-3 0zm31 1zm-34 0zm22 1zm-6 1zm-5 0zm0 0zm-3 3zm8 0zm-21 0zm19 0zm1 0zm-18 1zm14 2zm15 1zm-14 0zm2 1zm19 0zm-32 1zm8 0zm25 1zm-27 0zm12 1zm-6 1zm13 0zm-1 0zm-3 1zm-23 2zm28 1zm-12 0zm9 0zm-8 0zm-5 1zm17 1zm-19 1zm3 0zm4 0zm9 0zm6 0zm-26 1zm27 1zm-20 0zm16 0zm-25 1zm22 1zm6 1zm-8 1zm7 1zm-8 1zm7 0zm-25 1zm32-5zm-1-1zm4 0zm5-2zm2-3zm1-1zm-4 0zm7-2zm-12 0zm6 0zm-1-1zm5-2zm-7 0zm-2-1zm2-1zm-4-1zm4 0zm21-4zm-24 0zm24-1zm-5-3zm-11 0zm-2 0zm18 0zm-12-1zm17-1zm-18 0zm-10-3zm2 0zm4 0zm-5-2zm-1-1zm25-1zm-2 0zm7-1zm-11 0zm-8-1zm2-5zm19-1zm-29 0zm23-1zm-14-1zm15 0zm-14-2zm4-2zm2-3zm10-1zm2 0zm-12-1zm0 0zm13-1zm-33 0zm0-1zm33 0zm-6-1zm-15 0zm-14 0zm7 0zm17-2zm-25 0zm32-2zm-4-1zm-19 0zm29-1zm-30-1zm25-1zm-12 0zm-14 0zm30-1zm-2-2zm-3-1zm7 0zm-33 0zm15 0zm15 0zm-29 0zm3-2zm21-1zm-27-1zm2-1zm22 0zm9 0zm-29-1zm31 0zm-22-1zm13-1zm2 0zm-10 0zm17 0zm-14-1zm-20 0zm17 0zm-14-1zm13-1zm14 0zm-33 0zm0 0zm0-1zm30 0zm2 0zm-23 0zm18 0zm8-1zm-14 0zm15-4zm-26-2zm27 0zm-27-2zm-3-1zm-1-2zm20 0zm5 0zm-9-1zm-9-1zm18-1zm0 0zm2-1zm-23 0zm8 0zm11-2zm-21-1zm20 0zm7-2zm-33 0zm-3 0zm8 0zm11-1zm-4 0zm-9-1zm-5 0zm14 0zm-16-1zm4 0zm10-1zm23-1zm-16 0zm14 0zm-2-1zm-7 0zm-3 0zm-1-1zm-5-1zm16 0zm-29-1zm7-2zm16 0zm-22 0zm-5-3zm21 0zm-17 0zm19 0zm-1-1zm-13-4zm-9-1zm6 0zm25-1zm-2-3zm-3 0zm8 0zm-27 0zm26 0zm-27-1zm0 0zm23-1zm-24 0zm19 0zm-16 0zm7 0zm-3 0zm-12 0zm36-2zm-23-2zm10 0zm16 0zm-1 0zm-31-2zm14-1zm6 0zm-13-1zm-12-1zm15 0zm7-4zm-20 0zm28-1zm4 0zm-5 0zm-31 0zm17-1zm-9 0zm20 0zm0-1zm-7 0zm1-1zm1 0zm-16-1zm-5-1zm22 0zm-23-1zm37 0zm-15-1zm-4-1zm-2 0zm17 0zm-23 0zm19 0zm-14-1zm-13 0zm0-1zm19-1zm-7 0zm-15-1zm2 0zm36 0zm-29-1zm15-1zm-24 0zm39 0zm-13-1zm6-1zm-27-1zm33 0zm-9 0zm-3 0zm-21 0zm19-2zm-1 0zm-12 0zm22 0zm-33-2zm7-1zm19-1zm-23 0zm30 0zm-14 0zm-17 0zm7-1zm-3 0zm21 0zm-13-2zm12 0zm-1-1zm-3 0zm15-1zm-33 0zm5-3zm14 0zm-9 0zm-14 0zm28-1zm-4-1zm-17 0zm-3-1zm26-1zm-2 0zm-14 0zm5 0zm-5 0zm-11-1zm11-1zm-5-1zm-8-1zm16-1zm-15 0zm10 0zm8-1zm12 0zm3-1zm-32-1zm15 0zm5-1zm-19-1zm5 0zm19 0zm6 0zm-3 0zm-28-1zm1 0zm35-1zm-10-2zm-21 0zm31-1zm-35 0zm9 0zm-1-2zm20-1zm4 0zm-35 0zm5-1zm29 0zm-26-1zm20-2zm3 0zm-2-1zm-13 0zm8-2zm-5 0zm1 0zm16-1zm-15 0zm10-1zm0 0zm4 0zm-19-1zm0-1zm-11 0zm33-1zm-5 0zm-1 0zm-30-1zm3 0zm7-2zm-7 0zm8 0zm-6-2zm-1 0zm-6-1zm0-1zm34-1zm0-1zm4 0zm-30 0zm-1-1zm31 0zm-9 0zm-18-1zm21 0zm0-4zm-28-1zm10 0zm18 0zm-5-1zm11 0zm-9-1zm-17 0zm24-1zm-10-1zm-10 0zm17 0zm-34-1zm26-1zm-21 0zm8 0zm26-1zm-7-2zm-1-1zm-15 0zm8-1zm-18-1zm-1 0zm5 0zm4-1zm14 0zm-25-1zm5 0zm28-1zm-10 0zm-13-1zm24 0zm-37 0zm29 0zm-15 0zm21-1zm3 0zm-14 0zm6-1zm-9-1zm16 0zm-16-1zm-21-1zm33-1zm-1 0zm-10 0zm11 0zm-7 0zm-20-1zm16-1zm-9 0zm12 0zm-19-2zm9 0zm10-1zm-22 0zm-2-1zm20 0zm6 0zm5-2zm-17 0zm15 0zm-17-1zm-4 0zm28 0zm-1-1zm-20 0zm-8 0zm2-1zm21 0zm-25 0zm30-1zm-35 0zm2 0zm26-1zm-7 0zm8 0zm8 0zm-15 0zm14-1zm-4-1zm-4 0zm-26-1zm0-1zm10 0zm-4 0zm4-2zm-4-2zm-5-1zm-3 0zm26 0zm3-1zm-24 0zm6-1zm15 0zm2-1zm-13 0zm15 0zm-18 0zm11-1zm-6-2zm-4 0zm0-1zm8 0zm0 0zm15 0zm-5-1zm5 0zm-17 0zm6-1zm-18 0zm-2 0zm12-1zm16 0zm-26 0zm9-1zm-3 0zm16-1zm-7 0zm5 0zm-25-1zm31 0zm-25 0zm15 0zm-5-2zm-4 0zm-10 0zm-2-1zm30 0zm3 0zm-10 0zm-5 0zm-4-1zm-7-1zm3 0zm-11-1zm27 0zm1-1zm-8 0zm1-1zm-7-1zm-5 0zm9-1zm-4-1zm15 0zm7 0zm-24-1zm25 0zm0-1zm-25 0zm-11 0zm30-1zm-7 0zm-14-1zm9 0zm-19-1zm37 0zm-26 0zm2 0zm-13-1zm16-1zm18 0zm-8 0zm0 0zm-14 0zm12-2zm-16 0zm-3-3zm15 0zm-12 0zm25-1zm-31-1zm15-2zm-18 0zm1-2zm7 0zm12-1zm5-1zm9 0zm-18 0zm-6-1zm17 0zm-17 0zm8-1zm-18 0zm8-1zm-4-1zm11 0zm-9-1zm-4 0zm31-1zm-32 0zm36-1zm-18-1zm-4 0zm6 0zm6 0zm-16 0zm13-1zm-17 0zm5 0zm22-1zm-15 0zm-18-1zm37-2zm-34 0zm23-2zm-24 0zm-4 0zm13-2zm-8-1zm1 0zm8 0zm5 0zm2 0zm3-1zm-14-1zm27-1zm-33 0zm1-1zm7 0zm-2 0zm-5-1zm-1-1zm-4 0zm15 0zm18 0zm-16-1zm15-1zm-14-1zm17-1zm-7 0zm0 0zm-17-1zm-1 0zm10-2zm-5 0zm0 0zm11-2zm12-1zm0 0zm-12 0zm4-2zm-26-5zm4-2zm2-2zm-7 0zm-3-1zm0-3zm4 0zm1-2zm-3-11zm35-16zm-14-7zm-14-1zm23 0zm-2-2zm8 0zm-21-1zm18-1zm-18-3zm-9-1zm15 0zm-11-2zm13-1zm10-2zm2-5zm-9-1zm-13-1zm9-1zm0-2zm-13 0zm7 0zm20 0zm-20-2zm4-1zm3-2zm12-4zm10 10zm-1 2zm-3 1zm30 0zm-3 3zm-12 1zm-2 3zm-12 2zm30 0zm1 1zm0 0zm-28 1zm32 0zm-22 2zm17 0zm-23 1zm15 5zm4 5zm-25 3zm20 37zm4 1zm8 2zm-8 0zm-13 2zm11 0zm0 1zm1 1zm-1 1zm12 1zm-27 1zm-7 0zm-3 1zm4 0zm31 1zm-27 2zm-5 1zm4 0zm12 0zm4 2zm-25 1zm18 0zm20 1zm-10 0zm5 0zm-4 2zm-9 0zm6 1zm-1 0zm-14 1zm17 1zm-11 1zm-1 1zm23 2zm-35 2zm33 1zm-13 1zm-18 1zm19 0zm5 2zm-2 1zm-17 0zm2 1zm16 0zm9 0zm-33 0zm22 1zm0 0zm9 0zm-2 3zm-34 0zm38 1zm-30 0zm22 0zm6 0zm-5 1zm0 1zm-26 0zm11 0zm18 0zm-18 1zm-3 1zm9 0zm17 0zm-7 1zm-3 1zm7 0zm-19 1zm-4 0zm2 1zm1 0zm4 0zm1 1zm8 1zm5 0zm-21 1zm7 0zm-3 1zm-13 0zm18 1zm4 0zm5 0zm-25 0zm30 0zm-15 1zm1 0zm0 1zm14 0zm-4 0zm-13 0zm7 1zm13 0zm-30 0zm7 0zm-1 1zm-10 0zm12 0zm22 0zm-32 0zm6 1zm17 0zm3 0zm-16 2zm19 0zm-28 1zm-7 1zm-1 0zm37 1zm-16 1zm-7 0zm7 0zm12 0zm3 0zm-8 1zm-13 0zm-7 1zm11 0zm17 1zm-23 0zm-6 0zm-1 4zm-1 0zm19 1zm-5 0zm-13 1zm17 0zm7 0zm-3 2zm7 0zm-31 0zm31 0zm-15 1zm-6 0zm15 1zm-23 0zm23 0zm3 1zm-24 0zm27 0zm-22 1zm10 0zm7 0zm-4 0zm-15 0zm20 3zm-24 0zm16 0zm-18 1zm23 0zm-19 0zm0 1zm7 0zm-9 0zm-4 0zm26 0zm-16 1zm-5 0zm25 1zm-21 1zm-8 0zm20 1zm-1 1zm-7 0zm4 0zm-2 0zm-17 1zm26 0zm-24 0zm23 1zm-2 0zm-6 1zm0 0zm14 0zm-15 0zm20 1zm-12 0zm-3 1zm13 1zm-11 1zm-12 1zm4 1zm-9 1zm3 1zm27 0zm-3 0zm-29 0zm5 1zm3 0zm10 1zm9 0zm-8 0zm-13 0zm2 0zm2 0zm-1 1zm25 0zm-15 1zm-15 0zm6 1zm22 0zm-28 0zm27 0zm-16 1zm-19 0zm12 1zm14 0zm13 1zm-13 1zm8 0zm-21 1zm26 0zm-19 0zm1 1zm4 0zm-20 1zm6 0zm4 0zm-9 1zm-5 2zm27 0zm-28 1zm7 0zm-4 0zm-2 1zm35 0zm-24 1zm-6 0zm2 0zm-2 1zm3 0zm17 0zm1 1zm10 1zm-1 1zm-5 1zm-11 0zm-20 0zm17 2zm7 0zm8 0zm4 1zm-31 0zm32 1zm-3 1zm-16 0zm-9 0zm3 2zm20 1zm-19 1zm4 0zm22 1zm-24 0zm20 1zm-32 0zm7 0zm12 2zm-12 1zm25 0zm-31 2zm31 0zm-2 1zm-25 1zm8 2zm-9 0zm31 2zm-14 0zm-5 2zm-5 0zm4 1zm-13 1zm25 1zm-15 1zm-10 0zm13 0zm20 1zm-12 0zm-11 1zm14 1zm-12 0zm-5 1zm1 0zm-13 1zm2 2zm2 0zm1 8zm25 2zm-28 14zm-1 2zm3 1zm26 1zm-23 1zm-1 1zm10 1zm-13 1zm6 0zm-8 0zm8 0zm-6 1zm0 5zm-1 0zm1 1zm9 4zm2 0zm12 1zm-7 3zm-17 1zm-2 2zm8 1zm14 0zm-11 1zm-3 1zm-4 1zm10 0zm-7 1zm29 4zm-17 1zm-3 2zm-8 3zm-2 1zm1 1zm8 5zm1 1zm0 1zm16 1zm-32 1zm2 1zm33 2zm-25 2zm-6 1zm-3 1zm35 0zm-10 0zm-21 6zm5 1zm-3 1zm-2 2zm4 4zm-3 2zm-1 1zm-2 1zm0 4zm11 10zm-1 1zm-13 1zm7 2zm0 0zm-4 7zm7 2zm-7 0zm14 0zm-2 3zm-7 9zm-8 4zm1 1zm52-2zm23-7zm-14-6zm2-2zm-2-3zm-12-3zm7-1zm-12 0zm23-1zm1-2zm-14-3zm6 0zm2-3zm-5-2zm5-2zm14-3zm-17 0zm-2-1zm12 0zm-12 0zm13-2zm-18-1zm23-5zm-22 0zm-3-3zm23-2zm-23-1zm12-1zm14 0zm-1-2zm-10 0zm8 0zm-1-1zm-7-3zm-7-2zm8 0zm-7-2zm3-1zm9-2zm2-1zm-31-9zm-3-9zm2-62zm14-1zm-7-2zm12-2zm18 0zm-10 0zm-16-2zm-8 0zm10-1zm3 0zm-14-3zm33-2zm-27 0zm26-1zm-23 0zm-8 0zm0-1zm10 0zm-11-1zm-3 0zm16-2zm0-1zm19 0zm-24-1zm9-1zm-21-1zm1-1zm37-2zm-25-1zm-7 0zm-2-1zm-3-1zm7 0zm29-1zm-25-1zm-6-1zm2 0zm13-2zm13-1zm4-1zm-2 0zm-31 0zm-4-1zm10-1zm5-1zm21-2zm-20 0zm16 0zm-4-1zm-18-1zm6 0zm13 0zm-4 0zm-25 0zm29 0zm8-1zm-10-1zm-11-1zm19 0zm-17 0zm-18 0zm24 0zm-9-1zm-1 0zm11-1zm-15 0zm13 0zm-9 0zm17-1zm6 0zm-13 0zm8 0zm-33-1zm11-1zm13-1zm-22 0zm19-1zm-7 0zm15-1zm-16 0zm16 0zm-13-1zm17-1zm-16-1zm-11 0zm-5 0zm-1-1zm32 0zm-26 0zm29-1zm-17 0zm-6-1zm-2-1zm-9-1zm6 0zm23-1zm7 0zm-34-1zm2 0zm24 0zm-16-1zm25 0zm-17-1zm8 0zm1-1zm-11-2zm3 0zm-21-1zm34-1zm3 0zm-2 0zm-30 0zm2 0zm7-1zm-3 0zm19-1zm-13-1zm19 0zm-17 0zm-2 0zm-12 0zm-2-1zm19-1zm-14 0zm10 0zm-9-1zm13-1zm13 0zm-29-1zm18-1zm8 0zm-33-1zm28 0zm4 0zm-7-1zm6 0zm-21-1zm8 0zm12 0zm-13-1zm17 0zm-23 0zm-6-1zm33 0zm-9-2zm-13 0zm19 0zm-14-1zm-18 0zm16-2zm-19 0zm21 0zm-4-1zm-4 0zm21-1zm-33 0zm10 0zm-4 0zm30-1zm-28 0zm10-1zm-4 0zm11 0zm-16 0zm-7-1zm0 0zm1 0zm26-1zm-27 0zm3 0zm24 0zm-15-1zm5 0zm3 0zm1 0zm-5 0zm9 0zm-2-1zm-13 0zm-6-1zm1 0zm24-1zm-15-1zm-7 0zm11 0zm6 0zm-1 0zm2-1zm10 0zm-25-1zm-4 0zm3-1zm-1 0zm3-3zm8-3zm-5 0zm-11-3zm23-1zm-24 0zm0-1zm1 0zm26-1zm-10-1zm3-1zm-2-2zm-22 0zm27 0zm-12-1zm-13 0zm30-1zm-15-1zm-4 0zm-6-1zm-2-1zm-4-1zm14 0zm-2 0zm2-2zm-1 0zm23-2zm-35 0zm10-1zm13 0zm-17-3zm15 0zm-12-1zm24-1zm-27 0zm23 0zm-4-2zm4-1zm-19-1zm-3 0zm-2-1zm24-2zm-24-2zm13-1zm-4-1zm7-3zm1 0zm5-1zm-14 0zm21 0zm-28-1zm7-1zm-5 0zm-10 0zm16-1zm14-2zm-8-1zm4-1zm-18-3zm6 0zm15 0zm-19-1zm0 0zm-2-1zm22-1zm0-1zm-12 0zm1-1zm11-2zm-15 0zm2 0zm17-1zm-14-2zm10-1zm-4-1zm8-1zm0-3zm-5-4zm7-2zm-32-19zm-4-2zm44 19zm11 2zm-13 7zm11 3zm1 4zm6 1zm-12 0zm17 2zm-1 2zm0 1zm-8 0zm-6 1zm-8 2zm24 0zm-15 1zm11 0zm4 0zm-9 3zm-17 0zm14 0zm6 4zm-5 3zm-10 1zm1 0zm4 0zm7 2zm13 1zm-14 1zm-5 1zm24 2zm-7 0zm-15 0zm8 1zm7 0zm-27 2zm15 0zm-17 1zm32 1zm-24 0zm27 1zm-15 3zm6 1zm-6 1zm12 2zm-22 1zm13 0zm-22 2zm27 0zm-7 2zm-1 0zm16 0zm-16 1zm18 2zm-2 2zm-9 0zm-14 1zm-9 0zm19 1zm-17 0zm-5 0zm27 0zm-4 2zm-8 1zm-13 1zm4 0zm9 2zm-6 0zm19 1zm-26 0zm33 3zm-18 0zm21 2zm-18 0zm-8 1zm15 1zm-28 3zm21 0zm-10 2zm13 1zm-13 1zm21 4zm-32 1zm22 3zm-2 2zm-9 0zm13 0zm10 2zm0 1zm-33 0zm35 3zm-11 0zm-13 1zm-1 0zm-10 0zm23 1zm-20 0zm16 1zm18 2zm-1 0zm1 2zm-16 0zm-21 0zm19 0zm-20 0zm8 1zm10 1zm5 0zm-6 0zm16 1zm-12 1zm18 1zm-1 2zm-12 1zm-21 0zm14 0zm16 2zm-3 1zm-10 0zm-21 1zm-1 0zm20 2zm9 2zm6 1zm-21 1zm-12 3zm5 0zm12 1zm12 1zm-28 0zm24 0zm-15 0zm20 1zm-26 2zm18 0zm-22 1zm9 1zm22 1zm-15 0zm5 0zm-7 0zm-9 1zm11 1zm-15 3zm25 2zm-17 1zm4 1zm-12 1zm11 1zm9 5zm-18 1zm17 1zm-18 2zm0 2zm-3 8zm23 3zm-3 1zm2 8zm-2 0zm5 7zm-1 47zm2 5zm3 3zm7 5zm-10 1zm-9 12zm-14 1zm13 0zm20 1zm-28 11zm37-7zm3-2zm8-9zm10-9zm-10-1zm9 0zm-4-1zm-13-2zm3-2zm-10-2zm15-4zm18-2zm-33-7zm12-5zm-10 0zm2-1zm18-5zm-8-8zm21-11zm1-26zm-9-5zm9-15zm-3-1zm-24-5zm18 0zm7-3zm-16 0zm6-1zm-7 0zm7-3zm-12-4zm8-3zm11 0zm-15-4zm13-1zm-28-1zm11 0zm-12-2zm35-1zm-29-1zm30-3zm0 0zm-4 0zm-30-1zm23 0zm-8 0zm13-2zm-21-2zm-11-1zm16-1zm-8-1zm18-3zm0-1zm-11 0zm-12-4zm31 0zm-26-3zm18 0zm11 0zm-11-2zm-9-1zm18 0zm-15 0zm-16-4zm27-1zm-5-3zm-1 0zm-25-1zm25 0zm9-2zm-1 0zm-1 0zm-32-2zm5 0zm7-3zm-7 0zm-2-3zm5-9zm1-1zm-7-2zm1-4zm-1-3zm0-10zm63 35zm-6 1zm-13 7zm-4 3zm6 1zm6 3zm-5 1zm-4 0zm15 0zm-1 6zm-17 3zm-1 1zm14 2zm-13 0zm4 0zm10 0zm5 1zm-1 2zm-7 1zm-5 5zm12 1zm-17 3zm18 0zm-16 6zm1 1zm5 2zm-10 4zm1 0zm6 1zm10 1zm-12 4zm4 4zm0 2zm-2 2zm3 0zm-8 1zm1 61z"/></defs><use href="#r1" stroke="#979797" stroke-width="6.8"/><use href="#r1" stroke="#fff" stroke-width="2.8"/></g><g transform="scale(0.25)" fill="none" stroke-linecap="round"><path d="M873 326zm-3-8zm20-82zm10 24zm-19 59zm20 5zm-3 65zm54 49zm-1-23zm6-34zm-22-72zm-9-36zm16-7zm7-16zm-8-1zm13-24zm3-5zm-10-48zm51 8zm-28 8zm18 36zm-27 103zm15 105zm10 24zm11 2zm-5 4zm-24 2zm22 3zm-3 23zm36 22zm-10-45zm-3-3zm1-3zm25 0zm-18-4zm-1-47zm3-13zm-3-111zm-16-18zm11-3zm-2-15zm22-25zm6-29zm21-31zm15 48zm-12 1zm-1 18zm11 111zm-11 11zm14 4zm-8 2zm-22 45zm12 24zm1 50zm13 2zm-1 22zm-4 0zm16 34zm11-39zm2-12zm-14-3zm19-4zm-12-3zm24-13zm-29-1zm7-7zm26-6zm-15-3zm4-1zm-8-12zm-12-4zm16-14zm-5-24zm11-1zm4-50zm-5-24zm-15-10zm5-22zm-14-6zm27-24zm17-128zm-2 88zm15 0zm-4 12zm23 11zm-5 19zm-11 7zm4 55zm-22 2zm17 10zm-1 91zm-20 11zm50-18zm11-107zm14-7zm2-28zm-25-14zm-3-9zm20-22zm-4-16zm-17-2zm15-4zm-20-10zm15-10zm13-13zm9 32zm37 52zm-35 50zm2 21zm30 96zm13-17zm10-7zm-4-6zm8-27zm16-7zm-22-89zm-13-25z" stroke="#fff" stroke-width="11.2" stroke-opacity="0.9"/><path d="M872 311zm23-89zm12 35zm-24 4zm27 10zm-18 9zm3 5zm0 86zm59 92zm-4-9zm-4-20zm4-16zm-17-95zm-4-2zm5-17zm6-65zm-8-7zm10-12zm-19-27zm13-10zm31 0zm18 37zm-24 12zm33 14zm5 5zm-38 69zm29 38zm-17 4zm-4 7zm21 61zm-12 22zm15 26zm-4 13zm17 6zm5-23zm20-16zm3-12zm-9-15zm-2-38zm-5-34zm20-54zm-36-10zm21-13zm-7-25zm13-44zm-18-8zm67-52zm-18 13zm-1 66zm-10 10zm24 52zm-4 24zm2 94zm-23 9zm3 37zm14 29zm7 1zm-23 1zm3 33zm-8 5zm20 1zm20 3zm23-35zm-4-10zm-21-53zm7-18zm7-7zm3-16zm8-34zm-4-30zm10-6zm-12-9zm-1-47zm2-1zm6-5zm10-30zm-29-35zm34-69zm34 6zm0 112zm-18 6zm10 1zm-5 36zm5 10zm-10 3zm6 5zm-19 21zm-3 64zm4 7zm7 16zm2 2zm50 47zm-18-46zm26-94zm-27-25zm1-1zm-4-16zm-1-14zm19-4zm-2-13zm-17-20zm-1-3zm29-5zm0-3zm-18-7zm33-33zm19 21zm5 39zm-4 6zm13 14zm-36 2zm31 10zm-26 38zm39 116zm9-138zm12-33zm-20-11zm38 142z" stroke="#fff" stroke-width="8.8" stroke-opacity="0.9"/><path d="M879 324zm27-131zm-7 47zm-3 6zm5 17zm-13 21zm11 8zm1 7zm54 170zm-4-4zm-5-30zm9-162zm-11-8zm4-4zm-7-11zm-13-4zm14-2zm-15-8zm22-18zm9-16zm17-40zm-3 16zm5 20zm-14 23zm14 5zm20 42zm0 94zm-24 22zm16 29zm-26 9zm30 5zm-20 5zm9 5zm-9 0zm-10 4zm-2 26zm44 18zm-3-58zm10-13zm3-32zm22-25zm-29-41zm-2-52zm19-37zm0-1zm2-3zm-25-6zm0-1zm3-12zm29-8zm42 41zm-20 6zm6 6zm3 12zm-11 27zm-9 17zm9 21zm18 44zm3 5zm-28 0zm15 55zm-21 98zm28 3zm-5 9zm22-3zm18-50zm-6-9zm-12-4zm4-20zm15-22zm6-7zm-9-42zm-7-7zm-11-45zm17-8zm-11-10zm-4-6zm-3-12zm17-9zm-6-13zm4-13zm-9-4zm-2-3zm23-31zm-8-92zm41 8zm-2 99zm-9 65zm5 1zm20 19zm3 7zm-38 49zm5 6zm11 11zm48 83zm2-21zm-14-3zm4-115zm9-18zm-3-23zm12-34zm-21-3zm1-14zm12-2zm-1-1zm3-10zm1-53zm22 91zm12 24zm-12 27zm9 29zm35 58zm-9-9zm22-37zm-9-75zm-18-49zm-2-11zm53 48zm-5 1zm-7 29z" stroke="#fff" stroke-width="6.4" stroke-opacity="0.9"/></g><path d="M258.4 37.6L260.1 49.1L260.9 58.9L257.5 72.1L254.1 79.4M233.6 39.3L236.2 50.7L237.0 60.6L234.4 73.7M247.3 42.5L249.8 49.1L254.1 52.4M274.6 45.8L277.2 54.0L274.6 62.2M295.1 40.9L292.6 50.7L296.9 58.9L305.4 63.9M218.2 62.2L225.0 58.9L231.9 54.0M249.0 89.3L247.3 99.9L240.4 109.8M276.3 90.9L274.6 101.6L278.9 111.4M252.4 114.7L260.9 118.0L264.4 126.2" stroke="#fff" stroke-opacity=".8" stroke-width="1.7" fill="none" stroke-linecap="round" stroke-linejoin="round"/><g transform="scale(0.25)" fill="none" stroke-linecap="round"><path d="M879 394zm9-98zm14 73zm0 8zm8 16zm34 79zm-7-42zm7-13zm-20-38zm9-54zm24-43zm-1-13zm-13-85zm33 30zm0 100zm-11 52zm1 2zm4 0zm16 10zm-6 1zm17 3zm-7 18zm8 12zm-28 13zm19 1zm-5 2zm-12 3zm-9 0zm21 9zm-23 9zm77 70zm-28-6zm29 0zm-4-8zm-29-36zm18-14zm5-8zm8-2zm-18-15zm13-2zm-11-31zm16-2zm-6-4zm-1-11zm9-3zm-6-17zm-20-94zm-4-6zm24-28zm45-11zm-6 50zm-31 38zm36 44zm-1 1zm-23 2zm-9 1zm23 7zm-15 0zm13 9zm-10 5zm5 2zm0 4zm13 8zm0 8zm-13 14zm10 3zm-25 4zm6 27zm6 10zm-12 17zm28 10zm4 28zm-30 1zm30 1zm-10 0zm-1 30zm15-13zm7-19zm9-73zm20-4zm-18-18zm5-13zm-15-30zm-6-4zm26-4zm-19-9zm12-3zm-5-1zm2-13zm-9-4zm-10-34zm67-174zm-8 2zm13 223zm-1 36zm0 2zm-1 1zm2 6zm-14 2zm8 1zm-11 5zm6 0zm-12 3zm21 4zm-19 3zm2 3zm2 8zm20 5zm-20 3zm18 0zm-32 2zm0 28zm47-38zm21-2zm-20-14zm1-2zm-5-2zm5-2zm2-11zm26-120zm0-106zm40 39zm-29 36zm25 12zm-16 73zm-13 10zm14 3zm-7 2zm-3 2zm26 42zm0 0zm-3 2zm-3 1zm6 15zm-16 1zm8 0zm3 4zm-11 1zm16 12zm0 5zm3 2zm8-1zm-2-4zm7-1zm8-2zm-8-5zm27 0zm-19 0zm-11-6zm10-5zm-4-8zm-3-4zm10-4zm-13-1zm6-2zm19 0zm-31-2zm32-2zm0 0zm-13-2zm18-3zm-19-3zm-5-1zm0 0zm4-2zm-11-3zm21-2zm-2-1zm-1-2zm-6-1zm9-3zm32-83zm-18 92zm4 6zm4 5zm-7 6zm-4 0zm1 1z" stroke="#ee3a30" stroke-width="4.8"/><path d="M917 240zm-16 37zm-15 10zm12 36zm7 69zm-17 7zm62 48zm-14-37zm17-34zm4-97zm-13-28zm6-18zm-20-1zm19-19zm-18-26zm52 45zm9 17zm6 0zm-36 118zm22 7zm-4 11zm11 17zm-9 22zm2 8zm-6 2zm-5 11zm-11 0zm23 1zm-23 31zm33 14zm27 24zm1-18zm8-2zm5-22zm-23-6zm0-24zm24-14zm-4-10zm-3-23zm2-11zm-17-8zm10-19zm-22-98zm34-64zm39 141zm-14 1zm-1 13zm11 2zm-13 1zm-17 6zm10 3zm1 3zm5 2zm-6 10zm11 5zm1 44zm-9 4zm-2 14zm-7 15zm-4 10zm21 8zm3 10zm1 1zm-9 5zm-8 5zm21 5zm6 6zm-36 16zm34 7zm11 7zm11-19zm5-5zm1-2zm1-23zm12 0zm-14-2zm-5-17zm13-10zm-24-3zm18-16zm11-15zm-16-6zm8-4zm-8-13zm17 0zm-18 0zm4-9zm7-5zm7-4zm-14-20zm2-11zm15-20zm-20-46zm14-3zm-31-151zm73 2zm-10 0zm1 58zm-11 34zm3 27zm15 128zm-13 17zm4 2zm-19 3zm0 5zm10 0zm-6 5zm13 2zm17 4zm-27 4zm-9 1zm15 5zm-14 1zm3 23zm-6 6zm64-3zm-17-15zm21-8zm-12-5zm-12-6zm-4-24zm11-1zm21-60zm-12-37zm7-3zm-24-2zm14-34zm-5-17zm-4-6zm14-53zm-22-61zm47 61zm9 50zm2 23zm1 19zm14 0zm-16 39zm11 18zm-5 1zm-11 2zm19 0zm-23 2zm25 4zm-10 35zm13 1zm-9 5zm9 4zm-28 3zm27 1zm-11 4zm6 6zm8 1zm-26 23zm41-4zm-9-4zm-2-7zm25-7zm1-1zm-8-2zm-1-6zm16-12zm-32-1zm3-6zm0-3zm9-1zm-9-9zm30-55zm19 43zm-4 6zm-7 4zm6 3zm-8 4zm16 1zm-2 5z" stroke="#f0625a" stroke-width="4.8"/><path d="M878 390zm-5-130zm39 2zm-10 25zm-15 27zm17 1zm-21 55zm17 11zm-7 4zm-9 12zm54 53zm11-3zm-13-8zm-8-3zm5-19zm2-5zm22-94zm-22-74zm-2-48zm47 20zm-17 153zm26 7zm-22 2zm20 10zm-3 11zm0 3zm7 7zm-5 14zm-15 3zm-5 6zm20 18zm2 14zm-8 3zm-6 27zm59 11zm-14-12zm-14-4zm24-24zm-29-11zm12-10zm10-4zm4-28zm-18-4zm16-16zm-9-9zm13-6zm-12-3zm15-3zm4-16zm2-95zm-35-79zm11-20zm32 61zm24 60zm-26 37zm12 15zm16 8zm-21 21zm6 5zm9 27zm-7 21zm5 13zm-11 11zm13 1zm-22 24zm32 6zm-4 35zm-6 4zm14 26zm6-2zm-2-4zm10-23zm24-44zm-30 0zm10-16zm-11-15zm18-9zm-10-2zm-7-30zm14-7zm-11-40zm2-6zm-5-103zm16-34zm-21-11zm65 158zm-15 36zm14 4zm10 4zm-11 1zm-18 3zm28 1zm-3 3zm-2 0zm3 1zm-10 8zm-17 3zm15 2zm10 1zm-2 6zm-14 7zm-8 4zm-3 66zm59-44zm8-7zm3-9zm-11-1zm-23-6zm25-3zm-17-5zm0-9zm-7-13zm7 0zm-7-1zm-1-2zm0-4zm2-2zm6-53zm0-5zm9-76zm-4-44zm-9-83zm38 87zm15 118zm-13 8zm19 8zm2 48zm6 2zm-14 8zm-1 12zm4 0zm2 1zm16 1zm-2 6zm5 1zm6-5zm-6-10zm2-1zm19-1zm-16 0zm12-1zm-15-1zm14 0zm11-5zm0-4zm-13-26zm10-1zm2-3zm3-2zm-3 0zm-21-4zm18 0zm-9 0zm21 0zm-17-1zm8-6zm-25-130zm50 139zm-3 7zm-7 6zm8 2z" stroke="#e0443c" stroke-width="4.8"/><path d="M916 212zm1 51zm-22 110zm-6 2zm19 13zm-3 1zm53 42zm-31 0zm27-4zm5-6zm-3-37zm-29-137zm64 112zm-16 43zm-5 21zm9 31zm-4 16zm58 38zm-6 0zm-17-3zm27-16zm-1-3zm-24-27zm-1-22zm-3-2zm30-17zm-29-23zm0-25zm23-2zm4-1zm-31-11zm19-5zm-22-30zm5-26zm12-45zm9-64zm45 69zm6 64zm-3 17zm-19 14zm6 28zm3 25zm-20 9zm20 1zm-25 9zm29 18zm-30 9zm10 9zm11 33zm4 1zm-15 21zm21 7zm-20 4zm26 3zm-22 1zm25 12zm32-26zm-27-2zm-3 0zm31-12zm-32-31zm8-6zm-8-4zm2-6zm28-29zm-22-3zm16-11zm-16-23zm17-12zm-17-9zm-4-2zm29-20zm-28-1zm25-28zm-16-9zm-15-55zm17-112zm42-2zm-6 87zm-8 4zm3 6zm28 26zm-20 73zm-9 20zm1 36zm22 5zm-19 1zm15 1zm6 0zm-31 1zm23 0zm9 2zm-12 1zm13 2zm-8 1zm-17 1zm19 0zm10 2zm-13 4zm-17 3zm15 0zm9 1zm-14 0zm-3 1zm-2 1zm22 11zm-19 1zm49 34zm10-8zm-34-37zm21 0zm-18-6zm2-16zm6-65zm-12-42zm10-47zm-6-53zm-3-41zm68 51zm-29 8zm35 55zm2 129zm-7 13zm-13 7zm3 3zm15 5zm-24 1zm-7 17zm45-7zm2-11zm-2-1zm13 0zm-22-6zm3-1zm13-7zm-1-2zm8-4zm-8-6zm9-4zm-9-2zm10 0zm-6-3zm16 0zm-15-1zm14-2zm5-5zm-6-3zm2-3zm14-6zm-3 2zm-2 7zm1 2zm7 2zm-5 6zm-4 2zm-3 7z" stroke="#e8312a" stroke-width="4.8"/></g>
<text x="272" y="13.2" font-size="9.9" text-anchor="middle" fill="#111" stroke="#111" stroke-width=".18">NT (n=8)</text>
<path d="M349.4 16.3V147.5M349.4 16.3H486.5M366.5 16.3V147.5M349.4 32.7H486.5M383.7 16.3V147.5M349.4 49.1H486.5M400.8 16.3V147.5M349.4 65.5H486.5M417.9 16.3V147.5M349.4 81.9H486.5M435.1 16.3V147.5M349.4 98.3H486.5M452.2 16.3V147.5M349.4 114.7H486.5M469.4 16.3V147.5M349.4 131.1H486.5M486.5 16.3V147.5M349.4 147.5H486.5" stroke="#e4e4e4" stroke-width=".6" fill="none"/><path d="M417.9 16.3V147.5M349.4 81.9H486.5" stroke="#bdbdbd" stroke-width="1" fill="none"/><g font-size="5.3" fill="#222" stroke="#222" stroke-width=".12"><text x="349.4" y="153.6" text-anchor="middle">−40</text><text x="348.0" y="149.4" text-anchor="end">−40</text><text x="366.5" y="153.6" text-anchor="middle">−30</text><text x="348.0" y="133.0" text-anchor="end">−30</text><text x="383.7" y="153.6" text-anchor="middle">−20</text><text x="348.0" y="116.6" text-anchor="end">−20</text><text x="400.8" y="153.6" text-anchor="middle">−10</text><text x="348.0" y="100.2" text-anchor="end">−10</text><text x="417.9" y="153.6" text-anchor="middle">0</text><text x="348.0" y="83.8" text-anchor="end">0</text><text x="435.1" y="153.6" text-anchor="middle">10</text><text x="348.0" y="67.4" text-anchor="end">10</text><text x="452.2" y="153.6" text-anchor="middle">20</text><text x="348.0" y="51.0" text-anchor="end">20</text><text x="469.4" y="153.6" text-anchor="middle">30</text><text x="348.0" y="34.6" text-anchor="end">30</text><text x="486.5" y="153.6" text-anchor="middle">40</text><text x="348.0" y="18.2" text-anchor="end">40</text></g>
<g fill="#cfcfcf" fill-opacity=".33"><path d="M366.5 77.0L367.4 65.5L373.9 49.6L380.2 40.9L392.2 41.7L400.8 36.0L407.7 40.9L408.7 52.4L407.7 65.5L409.4 77.0L400.8 81.9L383.7 80.3Z"/><path d="M403.6 63.9L400.7 68.0L398.5 71.5L395.3 74.6L390.8 75.2L385.8 74.0L384.2 68.6L385.1 63.9L384.7 59.4L387.0 55.4L390.9 52.9L395.5 52.2L399.0 55.6L402.2 59.0Z"/><path d="M407.7 59.9L413.8 52.4L426.5 49.9L438.5 54.8L448.8 63.9L453.1 73.7L450.5 85.2L440.2 90.1L424.8 90.1L412.8 85.2L407.7 73.7Z"/><path d="M426.0 44.2L425.8 46.7L423.1 48.5L419.8 49.6L416.0 49.9L413.5 47.9L411.8 46.2L409.5 44.2L410.0 41.6L412.1 39.3L416.1 38.7L419.4 39.8L422.8 40.1L425.5 41.7Z"/><path d="M435.2 32.7L435.0 34.9L432.5 36.3L429.4 36.2L426.9 36.7L424.1 36.2L422.5 34.6L421.3 32.7L422.3 30.8L424.1 29.2L426.7 28.1L429.5 29.0L431.7 29.8L434.2 30.8Z"/><path d="M454.7 44.2L453.8 46.5L451.5 48.1L448.9 49.6L445.4 49.5L442.0 48.7L440.0 46.6L441.0 44.2L441.2 42.2L442.1 39.8L445.3 38.6L449.0 38.3L451.7 40.1L452.9 42.2Z"/><path d="M461.0 57.3L460.5 60.0L460.2 63.6L458.6 65.4L456.9 64.5L455.6 62.7L455.1 59.8L454.4 57.3L454.0 53.8L455.4 51.5L456.9 50.2L458.5 50.0L459.8 52.0L461.0 54.2Z"/><path d="M476.2 71.2L474.6 74.8L472.9 77.6L470.5 78.6L468.1 79.0L465.5 78.3L464.3 74.8L463.5 71.2L463.3 67.1L465.7 64.6L468.1 63.5L470.5 64.0L472.6 65.5L475.4 67.1Z"/><path d="M468.7 92.6L468.2 96.0L466.5 99.2L463.1 99.6L460.1 100.0L456.8 99.1L454.4 96.3L452.9 92.6L455.1 89.1L458.0 87.5L460.1 85.0L463.4 84.4L466.7 85.7L469.2 88.7Z"/><path d="M464.0 106.5L463.9 108.0L463.1 109.1L462.2 109.6L461.1 109.8L460.2 109.0L459.2 108.1L458.7 106.5L459.6 105.1L460.3 104.2L461.2 103.5L462.2 103.3L463.4 103.4L464.0 104.9Z"/><path d="M451.9 113.9L452.0 116.3L451.5 118.1L450.9 119.4L450.1 119.6L449.5 118.2L448.9 116.6L448.8 113.9L449.3 111.8L449.6 110.0L450.2 108.6L450.9 108.0L451.7 108.6L452.0 111.5Z"/><path d="M448.8 113.1L448.1 115.5L447.3 117.6L446.3 120.3L444.5 120.1L443.1 118.2L442.1 116.0L442.0 113.1L442.2 110.3L443.1 107.9L444.7 107.4L446.2 106.3L448.0 107.1L448.7 110.1Z"/><path d="M388.1 91.7L380.2 107.5L382.0 116.3L393.3 120.3L402.5 126.7L408.7 134.4L417.9 137.0L424.1 131.9L426.5 122.9L431.7 120.3L434.4 109.8L436.8 99.9L428.2 91.7L409.4 89.3L397.4 90.1Z"/><path d="M401.1 106.5L400.6 111.3L399.0 115.9L395.5 116.7L392.5 116.2L389.8 114.3L387.7 111.0L385.3 106.5L386.4 101.1L389.8 98.7L392.4 96.7L395.4 96.9L398.5 98.1L401.3 101.2Z"/><path d="M433.3 123.7L433.3 125.3L432.3 126.2L431.4 127.1L430.1 127.5L429.1 126.5L428.5 125.2L428.6 123.7L428.9 122.5L429.0 120.8L430.1 119.9L431.4 120.3L432.4 121.0L432.9 122.4Z"/><path d="M379.5 95.8L379.1 97.7L377.2 98.7L375.1 98.8L373.2 99.5L370.9 99.2L369.5 97.7L368.9 95.8L370.1 94.3L371.4 93.0L373.1 91.9L375.2 92.4L377.1 93.0L379.0 94.0Z"/></g><g transform="scale(0.25)" fill="none" stroke-linecap="round"><defs><path id="r2" d="M1478 250zm-1 5zm-3 8zm-2 1zm7 7zm-16 5zm10 2zm6 0zm-3 3zm-1 2zm-13 0zm6 5zm9 1zm-9 3zm8 1zm-2 0zm2 2zm-6 2zm6 1zm2 1zm-10 0zm-7 6zm7 2zm10 73zm-8 0zm8 2zm-8 10zm18 4zm25-2zm-32 0zm14-1zm18-1zm-23-4zm-8-1zm7 0zm27-1zm-26-1zm4-4zm4 0zm13-1zm-5 0zm3-1zm-12 0zm-2-1zm-2-2zm11-1zm3 0zm-23-2zm7-1zm17-2zm-4-53zm-2-2zm-2-1zm13-1zm-3 0zm-2-1zm-1 0zm-22-2zm7 0zm3-2zm6 0zm-19-1zm-1-1zm8 0zm5-1zm8 0zm-12 0zm4-2zm21 0zm-22-2zm23 0zm-2 0zm-14-1zm-5-1zm10-1zm-18 0zm25-1zm6 0zm0-1zm-30-2zm26-1zm-27 0zm-7 0zm25-1zm9 0zm-27-1zm26-2zm-23-1zm-6-1zm32 0zm-31-2zm-5 0zm26-1zm-16-1zm25 0zm-17 0zm18-1zm-31-1zm23-1zm-20 0zm14-1zm9-1zm-13 0zm18-1zm-4 0zm-10 0zm-5 0zm-8 0zm1 0zm-3-1zm-5-1zm17-1zm-16-1zm8 0zm12-1zm0 0zm14-1zm-19 0zm-3-1zm-5 0zm-2-1zm26 0zm1-2zm2 0zm-17 0zm-13-1zm16 0zm-13-1zm28-1zm-31 0zm-3 0zm9-1zm3-2zm6 0zm-13 0zm8-1zm21 0zm-16-1zm-7-1zm18-1zm-15 0zm-3-1zm-6-1zm14 0zm-13-1zm-7-2zm26 0zm-26-2zm19 0zm-6-3zm-6 0zm1-2zm15 0zm6 0zm-11 0zm8-1zm-18-2zm13-1zm-20-1zm6-1zm-3-1zm31-1zm-37-1zm31 0zm4-1zm-34 0zm3-1zm23 0zm-8-2zm2 0zm13-1zm-20-1zm-8 0zm7-1zm7-2zm13-1zm-10-4zm10-1zm-16-2zm-13-2zm6-1zm3-1zm15 0zm-8-1zm13-2zm-20-1zm25 0zm-15 0zm0-2zm-1 0zm5-3zm-7-1zm-9-2zm13-1zm8-3zm1-2zm2 0zm-16-1zm7-1zm11-1zm-2 0zm-3-1zm-12-1zm7 0zm10-1zm-14 0zm8-1zm-9-1zm8-2zm4-1zm9-20zm5 2zm5 2zm10 0zm-13 0zm20 1zm3 0zm-3 1zm5 0zm0 1zm-26 0zm14 0zm-17 1zm15 0zm10 1zm-22 0zm27 0zm-18 1zm-8 0zm26 1zm-12 0zm-20 1zm22 0zm-17 1zm-9 0zm21 0zm-14 1zm28 1zm-23 2zm10 1zm-4 0zm9 1zm-1 0zm-17 2zm-1 1zm23 0zm0 1zm4 2zm3 0zm-22 1zm21 1zm-21 1zm6 1zm-22 0zm31 1zm-23 1zm-9 1zm14 0zm21 0zm-27 0zm28 1zm-11 0zm5 1zm4 0zm-2 1zm-9 1zm9 1zm-22 2zm26 0zm2 1zm-18 1zm13 0zm-4 1zm-23 0zm14 0zm6 0zm-13 0zm10 1zm-15 0zm22 1zm-22 0zm23 1zm-22 0zm29 0zm-9 0zm1 1zm-12 1zm-17 1zm16 1zm22 1zm-25 0zm-13 0zm30 1zm-16 0zm22 0zm-26 0zm28 1zm-9 1zm-28 0zm32 1zm-6 0zm7 1zm-28 1zm3 0zm-8 1zm26 1zm-4 1zm2 0zm-13 1zm-11 0zm26 0zm-5 0zm7 0zm-15 1zm19 0zm5 1zm-16 0zm-18 1zm-3 1zm26 0zm-24 1zm13 0zm11 0zm1 1zm-25 1zm24 0zm-28 1zm12 0zm22 0zm-6 3zm-19 0zm23 1zm-21 0zm-6 0zm31 0zm2 1zm-35 1zm16 0zm1 0zm0 1zm10 0zm-7 0zm3 1zm-26 1zm36 0zm-5 0zm-24 2zm16 0zm-3 1zm4 1zm3 0zm-1 1zm-6 0zm-12 0zm-8 0zm36 0zm-1 1zm-3 0zm-13 0zm-8 1zm-6 0zm13 1zm11 1zm-24 1zm23 0zm-6 0zm7 0zm-12 0zm22 0zm-22 1zm22 1zm-21 2zm-11 1zm31 0zm-4 0zm-9 0zm11 0zm-10 1zm-3 1zm2 0zm-10 1zm21 0zm-17 0zm-8 0zm-1 0zm-3 1zm19 1zm-3 0zm12 1zm-19 0zm13 0zm-14 1zm12 1zm-24 1zm4 0zm-6 0zm1 1zm28 1zm-17 0zm-5 0zm10 0zm-13 1zm2 0zm11 0zm5 1zm-16 2zm18 0zm-6 0zm-12 1zm27 0zm-3 1zm-18 0zm16 1zm-4 0zm-4 1zm12 1zm2 0zm-7 1zm-17 0zm-2 0zm7 0zm-14 1zm4 1zm24 0zm-17 1zm-4 1zm1 1zm24 1zm-24 0zm-3 0zm-6 2zm30 0zm-4 0zm-2 1zm14 0zm-8 0zm8 0zm-10 1zm0 0zm-18 1zm26 0zm-1 0zm-21 2zm-7 0zm16 0zm6 0zm-10 5zm7 1zm12 0zm-15 2zm0 1zm-2 1zm6 1zm-12 0zm15 2zm8 0zm-6 2zm-5 0zm-5 1zm4 0zm5 0zm4 0zm-24 0zm-5 0zm-3 0zm34 1zm-6 0zm-6 4zm-13 0zm25 0zm0 2zm0 0zm-5 2zm-4 1zm-2 2zm0 1zm-13 1zm17 1zm6 1zm-17 1zm17 34zm-4 4zm-2 5zm8 0zm-4 5zm-11 10zm5 1zm9 2zm1 0zm-14 4zm11 1zm-4 0zm-5 1zm10 0zm0 2zm-18 2zm20 0zm-16 1zm13 1zm0 0zm-8 1zm7 1zm4 1zm-3 2zm1 1zm-28 0zm28 1zm-11 2zm-13 0zm3 2zm18 1zm-21 0zm18 0zm-12 1zm6 0zm9 1zm-5 0zm7 0zm-9 1zm-4 0zm-11 2zm24 0zm2 0zm-15 1zm15 0zm-17 0zm7 2zm-7 0zm17 2zm-18 1zm17 0zm-21 0zm21 0zm-18 1zm15 0zm-6 1zm0 0zm-9 1zm-17 0zm2 1zm18 0zm-16 0zm16 1zm14 0zm-7 1zm8 0zm-6 0zm-5 1zm-14 0zm19 0zm8 1zm-32 0zm4 2zm-2 1zm4 0zm23 0zm-6 1zm4 0zm-10 0zm2 0zm5 0zm-12 0zm-1 1zm-11 0zm-2 0zm2 1zm10 1zm-6 2zm1 0zm11 1zm16 0zm-31 1zm-2 0zm29 1zm-22 1zm15 0zm11 0zm-25 0zm24 2zm-14 1zm-5 1zm1 0zm-7 1zm-3 0zm24 0zm-23 1zm-1 0zm8 0zm-10 1zm30 0zm-37 1zm33 0zm-6 1zm2 1zm9 2zm-1 2zm-16 0zm7 1zm6 2zm3 0zm-23 1zm-5 2zm18 0zm-13 0zm11 1zm13 1zm-13 1zm-10 0zm12 2zm4 0zm-18 1zm18 1zm0 1zm-7 3zm-1 1zm14 1zm33 19zm8-2zm-8-1zm4 0zm-18-2zm17-3zm-6 0zm-1 0zm9 0zm2 0zm-20-1zm4 0zm8 0zm-12-3zm16-2zm3 0zm-9 0zm6-2zm-28 0zm13 0zm3-2zm-18-1zm29 0zm-2-1zm-8 0zm-7 0zm4-1zm-13 0zm12 0zm-1 0zm-1 0zm-5-1zm2-1zm12-1zm-11 0zm-11-2zm35 0zm-24-1zm21-1zm-24 0zm24-1zm1 0zm-13-1zm-13-1zm4 0zm-1 0zm14-1zm-16-1zm-9 0zm6 0zm-5-2zm-1 0zm-1 0zm6-1zm3-1zm16-1zm8 0zm-23 0zm-2-2zm2 0zm27-1zm-5-1zm2-1zm-7 0zm-23 0zm33 0zm-15-1zm-11 0zm-8 0zm5-1zm11 0zm10 0zm-1-1zm7 0zm-36-1zm34 0zm-31 0zm30 0zm-21-1zm10 0zm-14 0zm25-1zm1 0zm-31 0zm17 0zm-15 0zm0-1zm21 0zm-7-2zm17-1zm-6 0zm-15 0zm2 0zm11 0zm8-1zm-5 0zm-4 0zm-28-1zm18 0zm-12-1zm-1-1zm4 0zm-1 0zm12-1zm5 0zm10-1zm1-1zm-20 0zm-15 0zm34-1zm-3 0zm-7-1zm-6 0zm-6 0zm8 0zm-5-1zm7-2zm-19 0zm2-2zm17-1zm-21-1zm7-1zm-7-1zm21-1zm2 0zm-10 0zm0 0zm11-1zm8 0zm-27 0zm27 0zm-23 0zm-2-1zm-6 0zm33 0zm-23 0zm21-1zm3 0zm2 0zm-9 0zm-26-1zm-1 0zm10 0zm9-1zm7-1zm9 0zm-2-1zm-22 0zm14-1zm-16 0zm10 0zm9-1zm-1-2zm-13 0zm-12 0zm0 0zm2-2zm15 0zm13 0zm0 0zm-31 0zm11 0zm8 0zm-3 0zm15-1zm-11 0zm-18 0zm27 0zm-14 0zm19 0zm-6-1zm-12 0zm-13 0zm19-1zm-18 0zm12-1zm10 0zm-16-1zm1 0zm17-2zm0 0zm-16 0zm8 0zm0 0zm1 0zm-19-1zm-2-1zm21 0zm12 0zm-8 0zm-6 0zm-3 0zm-13 0zm-1-1zm29 0zm-3-1zm-8-1zm-24-1zm18-1zm-10 0zm-8-1zm10-2zm28-1zm-22 0zm7-2zm4 0zm-14 0zm-5-1zm-1 0zm-4-1zm23 0zm-24-2zm24-1zm6-1zm-24 0zm26-1zm-1 0zm-1-1zm4 0zm-30 0zm15-1zm-9 0zm0 0zm-9 0zm6-1zm12 0zm10-4zm-2 0zm-11 0zm-14-1zm11 0zm-10 0zm30-1zm4 0zm-15 0zm5 0zm10 0zm-38 0zm3-1zm4 0zm-4-1zm13 0zm-14-1zm6-1zm0-2zm6 0zm-6-1zm18 0zm9-1zm-14 0zm-5 0zm0-2zm-1-1zm18-2zm-6-5zm-14-27zm21-2zm0 0zm0 0zm-11-2zm-8-1zm11-1zm9-1zm-2-4zm-14 0zm-7-2zm-13 0zm27-1zm11-1zm-16-2zm15 0zm1 0zm-10 0zm-27-2zm37-1zm-1-2zm-20 0zm-10 0zm17-1zm-8-1zm-16-2zm15-1zm-1-1zm10-1zm-9 0zm0 0zm17-2zm-10 0zm-17 0zm34-2zm-27 0zm-3 0zm23-1zm-7 0zm0 0zm-2 0zm-9 0zm-1 0zm11 0zm-22 0zm14-1zm-15-1zm11 0zm15 0zm-3-1zm1 0zm-25-1zm32-1zm-27 0zm20 0zm-16 0zm8-1zm-4 0zm16 0zm-27-1zm1 0zm3 0zm17-1zm1 0zm-21 0zm11-1zm25 0zm-25-1zm18 0zm-28 0zm15 0zm-1-2zm9-1zm-18-1zm18 0zm-2 0zm14 0zm-3 0zm-24 0zm-12-1zm9 0zm16 0zm9 0zm-27 0zm-1-1zm21 0zm4 0zm-5-1zm-22 0zm34-1zm-35-1zm12 0zm18 0zm2-1zm-20 0zm-10 0zm5 0zm11-1zm-20-2zm10-1zm16 0zm-13 0zm5-2zm-17 0zm22-2zm11 0zm-28 0zm31-1zm-8 0zm-16 0zm15 0zm-7-1zm-9 0zm7 0zm-8-1zm23-1zm-16-1zm-5 0zm-4 0zm-6 0zm35 0zm-26 0zm11-1zm4 0zm-25 0zm11 0zm23-1zm-1-1zm-35-1zm33-1zm-25 0zm12 0zm0 0zm1 0zm-9-1zm-2 0zm24 0zm-8 0zm8-1zm-4 0zm6 0zm2 0zm-14-1zm10 0zm-4 0zm-18-1zm21 0zm-7-1zm0 0zm-1 0zm-23 0zm5-1zm20 0zm-1-1zm-25-1zm14 0zm4 0zm19 0zm-19 0zm5-1zm-1 0zm-10-1zm2 0zm7-1zm7 0zm-21 0zm-7-1zm11 0zm26 0zm-5 0zm-20-1zm-9 0zm26 0zm-23 0zm27-1zm-22 0zm-2-2zm14 0zm-3 0zm8 0zm8 0zm-9-1zm-9 0zm-7 0zm13 0zm-25-1zm38 0zm-31-1zm15 0zm8-1zm1 0zm6 0zm-14 0zm-24 0zm39-1zm-36 0zm31 0zm-31 0zm26 0zm6 0zm2-1zm-29 0zm7-1zm4 0zm-12-1zm12 0zm19 0zm-9 0zm-20 0zm-6-2zm15 0zm-15 0zm22 0zm-22-1zm27 0zm-28 0zm23-1zm6-1zm-26 0zm5 0zm7 0zm7-1zm-16 0zm11-2zm-6 0zm-3-1zm2-1zm7 0zm-19 0zm1-1zm3-1zm17 0zm3 0zm12-1zm-6 0zm3 0zm-5-1zm-22 0zm23 0zm7-1zm-15 0zm-13 0zm16-1zm-4 0zm5-1zm9 0zm-9-1zm-20 0zm26-1zm-25 0zm23 0zm-16 0zm2 0zm6 0zm7-1zm-27 0zm20-1zm-3 0zm1 0zm-4-1zm-13 0zm9-2zm19-2zm-11-2zm-3 0zm8 0zm0-2zm4-2zm-1 0zm-27-1zm5 0zm32-2zm-35 0zm17-1zm-3 0zm3-1zm5-1zm7-1zm-8 0zm1-3zm-14 0zm-9 0zm30 0zm0-1zm-13 0zm2-1zm-20 0zm23 0zm-6-2zm17-2zm-27-3zm32-1zm-15 0zm-6-2zm-14-1zm22-1zm12-1zm-11 0zm-23-1zm10-1zm23 0zm-21-1zm17 0zm-30 0zm-1 0zm19-2zm12-2zm-6 0zm12 0zm-9-1zm2-1zm4-1zm2-1zm-21-3zm17 0zm-8-3zm1 0zm-5-3zm14-1zm3-4zm12 0zm11 3zm-13 0zm8 1zm-8 1zm1 0zm-6 1zm8 0zm-9 1zm4 0zm-5 1zm3 2zm14 0zm2 2zm-12 3zm-7 0zm12 0zm0 0zm3 1zm7 2zm14 0zm-36 1zm0 2zm13 0zm-15 1zm21 0zm-15 3zm2 2zm2 0zm5 1zm17 0zm-19 0zm-2 1zm7 0zm-2 0zm-1 1zm2 0zm21 0zm-17 4zm1 2zm9 3zm-12 1zm10 0zm-1 1zm-9 0zm14 1zm-4 1zm-2 0zm-5 0zm-17 0zm25 2zm-13 0zm-14 1zm9 2zm13 3zm-1 0zm-12 0zm19 2zm-23 0zm27 1zm-20 1zm-12 2zm2 3zm3 0zm5 1zm10 0zm-18 2zm28 2zm3 3zm-11 1zm11 1zm-28 1zm-2 1zm19 1zm-3 0zm-11 2zm14 1zm-4 1zm-14 1zm22 0zm3 1zm-21 1zm-7 0zm30 0zm-4 1zm5 1zm-16 1zm-4 0zm-1 0zm-1 1zm14 0zm7 0zm-4 1zm-25 1zm17 0zm10 0zm3 0zm2 0zm-2 0zm-12 3zm-15 1zm-3 0zm-4 0zm6 0zm32 0zm-9 0zm-27 1zm2 0zm20 0zm-9 1zm-6 0zm25 1zm3 1zm-13 1zm0 1zm6 2zm-3 1zm-22 0zm0 0zm31 0zm-1 0zm-10 1zm-13 0zm12 1zm11 0zm-5 1zm3 0zm-19 1zm12 0zm-6 1zm15 0zm-10 1zm-15 1zm-8 0zm14 0zm3 1zm-20 0zm9 1zm12 1zm18 0zm-9 1zm-17 1zm0 0zm-10 0zm2 0zm18 2zm-17 0zm5 1zm5 0zm-10 0zm31 0zm-11 1zm-17 1zm29 0zm-33 1zm13 0zm-15 1zm33 0zm-1 0zm-6 1zm-19 0zm-4 0zm25 2zm-16 1zm11 1zm13 0zm-38 1zm22 0zm3 1zm4 0zm-15 0zm-5 0zm20 1zm-14 0zm18 0zm5 0zm-23 1zm6 0zm-21 1zm0 0zm33 0zm-7 0zm2 1zm-7 0zm13 0zm-31 1zm27 2zm-6 0zm7 0zm-2 0zm-10 1zm-15 0zm7 1zm11 0zm-21 0zm16 1zm-10 0zm-3 0zm11 1zm4 1zm8 0zm-28 0zm3 0zm30 0zm5 0zm-28 1zm26 0zm3 0zm-32 1zm24 0zm2 3zm5 1zm-19 0zm0 0zm16 0zm-35 1zm2 0zm37 1zm-18 1zm-10 1zm18 0zm-21 1zm17 0zm-15 1zm26 0zm0 0zm2 0zm-26 1zm23 1zm-3 0zm6 0zm-1 1zm-32 1zm4 0zm28 0zm-25 1zm26 0zm-21 2zm-3 0zm-1 0zm26 1zm-28 1zm9 1zm-19 1zm12 1zm-6 1zm9 0zm-10 0zm33 0zm-31 1zm13 2zm-19 0zm4 3zm13 1zm0 2zm-16 3zm0 3zm2 0zm30 31zm-9 1zm8 0zm-31 1zm-2 0zm11 0zm14 1zm-20 0zm15 0zm-19 1zm34 0zm3 1zm-15 1zm9 0zm-20 0zm1 1zm-6 1zm-4 1zm8 0zm2 0zm-13 0zm21 1zm12 0zm4 0zm-36 1zm34 1zm-15 1zm2 0zm2 1zm-9 0zm-6 1zm13 1zm-7 2zm7 0zm0 0zm8 0zm-19 1zm-1 0zm-1 1zm-10 0zm23 1zm-8 0zm19 1zm-21 0zm25 0zm-10 0zm5 1zm-17 0zm-13 0zm2 1zm29 0zm-10 1zm-19 0zm10 1zm12 0zm-9 2zm-18 1zm24 3zm15 1zm-17 1zm0 0zm4 0zm-17 2zm2 1zm-9 2zm10 0zm-12 2zm22 1zm-9 0zm26 0zm-11 2zm-20 2zm4 0zm-2 1zm8 1zm20 2zm-5 0zm3 0zm-9 0zm-8 0zm-15 1zm5 0zm1 2zm-7 0zm22 0zm14 0zm-32 0zm29 1zm-20 1zm5 0zm-2 1zm-8 0zm10 0zm13 0zm-33 1zm-1 2zm18 1zm-7 0zm14 0zm-11 1zm-10 0zm34 0zm-12 1zm-13 0zm-3 1zm12 0zm-6 0zm-2 1zm-14 1zm0 0zm33 1zm0 0zm-11 0zm-22 0zm11 1zm14 1zm-1 0zm-4 0zm-16 1zm0 1zm4 1zm0 1zm27 3zm-32 1zm11 1zm18 1zm-25 0zm32 1zm-1 0zm-18 3zm16 1zm-8 0zm-5 1zm-11 1zm-7 0zm24 0zm-8 1zm-6 2zm-4 0zm11 1zm0 1zm-15 0zm9 1zm-13 3zm8 1zm10 0zm2 0zm-5 0zm1 1zm9 1zm-15 1zm14 1zm-13 1zm13 0zm-23 0zm16 0zm-8 2zm8 1zm-2 0zm-4 0zm6 2zm16 2zm-8 0zm-26 0zm30 0zm-4 1zm-22 1zm22 0zm-10 0zm4 1zm-17 0zm7 0zm27 1zm-30 0zm21 2zm-29 1zm16 1zm21 0zm-10 1zm2 0zm-23 2zm1 0zm8 0zm20 1zm-19 0zm-2 0zm8 3zm-19 1zm25 0zm-4 0zm-9 0zm-12 1zm24 1zm-10 1zm3 0zm-6 1zm12 1zm-13 1zm5 0zm1 1zm10 0zm5 0zm-17 1zm0 0zm18 2zm-6 1zm-11 1zm4 1zm-21 0zm15 0zm-10 0zm11 0zm7 1zm-8 0zm-4 0zm-7 1zm12 0zm-14 1zm34 0zm0 1zm-23 0zm19 0zm-27 1zm20 0zm-3 0zm-10 3zm-11 1zm25 2zm-2 0zm5 1zm-16 0zm4 1zm-5 3zm-3 0zm12 0zm10 4zm-13 0zm10 0zm-12 1zm1 2zm11 0zm-8 0zm8 1zm-8 1zm5 0zm7 2zm-10 5zm5 2zm8 1zm-7 0zm-4 0zm11 5zm36 15zm-11-4zm4 0zm10-2zm-15-1zm9 0zm-25 0zm10-1zm15-1zm1 0zm-19-1zm9 0zm2-1zm9-1zm3 0zm-17-1zm-6 0zm15 0zm-25 0zm37-1zm-35 0zm10-1zm-11 0zm32-1zm-15-1zm12-1zm-29 0zm32 0zm-32-1zm30 0zm-24 0zm-9 0zm21 0zm15-1zm-7-1zm-11 0zm11 0zm-9-1zm-4 0zm4 0zm7 0zm6-1zm6-2zm-1 0zm-23 0zm12 0zm-26-2zm33-1zm5 0zm-20-1zm7-1zm-8-1zm-15 0zm13-1zm-1 0zm-8-2zm7-1zm1-1zm0 0zm23 0zm-11 0zm2-1zm-24-1zm22 0zm-14-1zm7-1zm-11 0zm25-2zm-22-1zm9 0zm-4-1zm-6 0zm-7 0zm15 0zm16-1zm-21-2zm24 0zm-17 0zm11-1zm-11 0zm-7-1zm23 0zm-20-1zm-17 0zm37 0zm-36-1zm32-1zm-6 0zm-15-1zm19-1zm-13-1zm-2 0zm14-1zm5 0zm-15-1zm15 0zm-26 0zm4 0zm20-1zm-27-1zm32-1zm-33 0zm11-1zm-7-1zm10-1zm16-1zm-10-1zm-2 0zm-22-1zm0-1zm28 0zm-14 0zm17 0zm-1-3zm-15 0zm10-1zm10 0zm-22 0zm-12 0zm36-1zm-11 0zm-10-1zm18-1zm-29-1zm2 0zm27-1zm4 0zm-23 0zm-1 0zm7-1zm5 0zm4 0zm7-1zm-30 0zm22 0zm-30-1zm22-1zm9-2zm-26 0zm23 0zm-15-1zm-12 0zm8 0zm21-1zm3 0zm0 0zm-25-1zm1 0zm1-1zm29 0zm-32-1zm18 0zm-18 0zm23 0zm-30-1zm28 0zm-1 0zm7 0zm-3-3zm-5 0zm-11 0zm24-1zm-1-1zm-10 0zm2 0zm-4 0zm-24-1zm18-2zm-1-3zm7 0zm-26 0zm14-1zm0 0zm19-1zm-7-2zm-13 0zm12-2zm-3 0zm4-2zm-18 0zm28-1zm-13-1zm5 0zm1-1zm-24-1zm8 0zm8-1zm10-1zm-3-2zm-1-2zm-14 0zm0 0zm1 0zm15 0zm-23 0zm6-1zm-2-2zm19 0zm5 0zm-14-1zm-8 0zm22-1zm-10 0zm11-1zm-24 0zm-6 0zm2-1zm30-2zm-22-1zm13 0zm-20-2zm16 0zm-17 0zm21 0zm-12-1zm7-1zm7 0zm-29 0zm8-1zm3 0zm6 0zm-14-1zm28 0zm-21 0zm10 0zm15-1zm-20 0zm22-1zm-33 0zm-1-1zm-3 0zm0 0zm26 0zm-15-1zm14 0zm5-1zm-21 0zm24 0zm-23-1zm22-1zm-13-1zm0 0zm12 0zm-8-1zm-19-1zm25 0zm-1 0zm-21-3zm-4-1zm4 0zm-2 0zm21 0zm-3-1zm12 0zm-14-1zm13 0zm-3 0zm2 0zm-34-1zm11 0zm1-3zm22 0zm5-1zm-27 0zm19 0zm3-1zm-34-1zm36-2zm-24 0zm-3 0zm5-1zm-4-1zm9-2zm17 0zm-6-1zm3-1zm-29-2zm22-1zm-8 0zm-18 0zm28 0zm-1 0zm-19 0zm12-1zm-18 0zm32-1zm-33 0zm4 0zm9 0zm-13-1zm4-1zm31 0zm-29-3zm27-1zm-13 0zm-13 0zm28 0zm-5-1zm-8 0zm16 0zm-32 0zm30 0zm-20 0zm-8-1zm-5 0zm7 0zm14-1zm-4 0zm10-1zm-24 0zm8 0zm5 0zm19-1zm-39-1zm31-2zm-4 0zm-10 0zm15 0zm-30-1zm5 0zm22-2zm0 0zm-29 0zm24-1zm-15 0zm10 0zm4-3zm-8-1zm-15 0zm39-6zm-15-3zm3-1zm8 0zm1-1zm0 0zm-17-1zm15 0zm-4-2zm-6-1zm-10 0zm21-1zm-12 0zm-11 0zm14-2zm8 0zm3-1zm2-1zm-4-1zm-28 0zm27 0zm3-2zm-20-1zm3-1zm15-2zm-16 0zm10 0zm-16 0zm10-1zm11-2zm-22-2zm-2-1zm22 0zm3-3zm-1-1zm-27 0zm19 0zm-8 0zm4-1zm-11 0zm8-1zm11-1zm-25-1zm0 0zm10 0zm13-1zm2-1zm9 0zm-21 0zm-11-1zm10 0zm1 0zm13 0zm8-1zm-25-1zm-6 0zm17-1zm6 0zm4 0zm-12-1zm-5-2zm14 0zm-10 0zm2-1zm-10 0zm11 0zm-13 0zm-9-2zm1-1zm30-1zm-27-1zm-2 0zm19 0zm-5 0zm-14-1zm22 0zm-21 0zm11-1zm-2 0zm-14 0zm29-1zm-30 0zm12 0zm9 0zm13-1zm-9 0zm2-2zm-9-1zm18 0zm-29 0zm27-1zm-24 0zm10 0zm-20 0zm34 0zm-21-1zm-2 0zm18 0zm9 0zm-19-1zm-10 0zm27 0zm-20 0zm-13 0zm18-1zm-20 0zm22 0zm7 0zm-16 0zm3 0zm-11-1zm19 0zm-24-1zm31 0zm-12-1zm-9-1zm11 0zm3 0zm3 0zm-14 0zm-10 0zm7 0zm-9-1zm-1 0zm38 0zm-6 0zm-25 0zm7 0zm2 0zm10-1zm-24 0zm7-1zm-3 0zm19 0zm-11 0zm14 0zm-11-1zm21 0zm-13-1zm3-1zm-18 0zm-5 0zm14 0zm5-1zm-12-2zm22-2zm-20 0zm12-1zm-1-2zm6 0zm-17 0zm-6-1zm28 0zm-21 0zm-13-1zm34 0zm-13 0zm7 0zm-30 0zm22-1zm14 0zm-29 0zm14 0zm4 0zm-12-2zm2 0zm14 0zm0-1zm-11 0zm-9 0zm4 0zm-14 0zm24-1zm13 0zm-31 0zm9 0zm-8 0zm29 0zm-25-1zm27 0zm-17 0zm14 0zm-23-1zm-3 0zm1 0zm-10-1zm25 0zm-1 0zm1 0zm0 0zm-13-1zm22-1zm-5 0zm-12-1zm18 0zm-5 0zm1-1zm-24 0zm18 0zm-5 0zm-1 0zm17 0zm-33-1zm10 0zm20-1zm-19 0zm-5 0zm23-1zm-18-1zm1 0zm-4 0zm16-1zm-13 0zm23-2zm-29 0zm27 0zm-35-1zm30-1zm-12 0zm-18 0zm18 0zm16-1zm-1-1zm-2 0zm1 0zm-4-1zm-25 0zm-3-2zm36-1zm-10 0zm5-1zm0 0zm-9-1zm12 0zm-18 0zm18 0zm-29 0zm1-1zm9 0zm-8-1zm32 0zm-6 0zm-25-1zm26 0zm-26 0zm-6 0zm28 0zm-16-1zm21 0zm-31 0zm7-1zm20 0zm-11 0zm6 0zm6-1zm-16-1zm20 0zm-3 0zm-25 0zm3-1zm28 0zm-31-1zm5 0zm-10 0zm29-1zm-23 0zm23 0zm-2 0zm8-2zm-27 0zm-10 0zm29-1zm-2-1zm5-1zm-19 0zm-9 0zm7-1zm8 0zm19-1zm-1 0zm-24 0zm2-1zm16 0zm-30-1zm11-1zm25-1zm-18 0zm5-1zm-14-1zm15 0zm10 0zm-18 0zm-11-1zm29 0zm-22 0zm23 0zm-25 0zm7 0zm1-1zm3 0zm5 0zm2 0zm2-1zm6 0zm-7-2zm1 0zm-3 0zm-5-1zm-6-1zm7 0zm-5-1zm17-3zm-7-2zm-15-1zm22-1zm-35-6zm27-1zm-6-2zm-8-1zm-5-1zm21-3zm-6-4zm-4-1zm-2-4zm-10-3zm23-2zm-31-4zm16-1zm-15-3zm6-3zm5-1zm10-4zm2-16zm30-39zm-3 11zm0 6zm1 0zm26 2zm-1 0zm-18 0zm-10 1zm5 4zm-5 2zm28 1zm-13 2zm-1 2zm-17 0zm15 0zm14 0zm-3 3zm0 1zm-21 1zm16 2zm-12 0zm-3 1zm10 1zm8 2zm-1 1zm-27 11zm19 8zm-13 1zm7 3zm9 3zm-6 0zm-5 0zm24 1zm-25 0zm10 4zm-18 0zm16 4zm-18 4zm7 2zm1 1zm21 9zm-12 1zm0 1zm-9 0zm13 2zm-6 0zm10 0zm5 1zm-25 1zm4 0zm-10 0zm20 0zm-10 2zm3 0zm11 2zm-3 0zm-21 1zm13 0zm10 0zm2 1zm-1 0zm-9 1zm-7 1zm17 1zm-22 1zm32 1zm1 0zm0 0zm-37 0zm12 0zm17 1zm9 2zm-18 0zm2 0zm6 1zm-6 0zm14 1zm-34 0zm-1 1zm0 0zm28 1zm8 0zm-21 0zm-6 1zm9 1zm2 0zm-11 0zm-6 1zm26 0zm-9 0zm-7 1zm10 0zm-6 0zm-11 0zm14 1zm2 0zm-9 0zm13 1zm-12 1zm8 0zm4 1zm-19 0zm26 1zm-30 1zm11 0zm9 2zm-17 0zm5 0zm19 1zm-21 0zm27 0zm-7 1zm-6 0zm3 0zm-3 0zm-24 1zm23 0zm-19 0zm23 0zm-12 1zm-8 0zm22 1zm-11 0zm8 0zm-10 1zm21 1zm-12 0zm9 0zm-7 0zm-25 1zm21 0zm-5 1zm-6 0zm12 1zm-15 0zm-9 0zm0 0zm33 0zm1 0zm-30 1zm26 0zm-10 0zm9 2zm-8 1zm2 0zm-24 2zm26 0zm-15 0zm0 0zm15 2zm-24 0zm17 0zm4 1zm-12 0zm7 0zm9 0zm-5 0zm-10 1zm0 0zm-3 0zm3 1zm27 0zm-30 0zm-2 0zm5 2zm-8 0zm11 0zm10 0zm13 1zm-35 0zm25 0zm-13 1zm-4 0zm17 0zm-21 1zm18 0zm2 0zm-18 0zm-1 0zm7 1zm14 0zm-29 0zm23 0zm16 1zm-33 0zm19 0zm4 1zm-9 0zm0 1zm-7 0zm0 0zm9 0zm-4 0zm15 1zm-2 0zm-16 0zm20 1zm1 0zm-24 0zm-9 1zm16 0zm18 0zm-14 1zm-12 1zm12 1zm-9 1zm3 0zm20 0zm-19 0zm-16 1zm36 0zm-16 1zm17 1zm-26 0zm24 1zm-8 1zm10 0zm-32 1zm-7 1zm13 1zm12 1zm3 0zm-4 1zm6 0zm1 2zm-28 0zm35 0zm-33 0zm-4 0zm20 1zm3 1zm-22 2zm4 1zm19 0zm-25 1zm8 0zm14 0zm14 1zm-21 0zm22 1zm-9 0zm-20 0zm9 0zm-13 0zm20 0zm6 0zm-5 1zm-19 0zm22 0zm-12 1zm9 1zm10 0zm-6 0zm-18 1zm-8 0zm13 0zm-7 0zm14 1zm-18 0zm22 0zm-22 1zm28 0zm-18 0zm5 0zm-1 0zm-6 0zm23 2zm-18 1zm1 0zm-4 1zm20 0zm-31 1zm5 0zm30 0zm-7 0zm-1 2zm-2 3zm5 0zm-29 0zm26 1zm-8 0zm14 0zm-16 1zm14 0zm-3 1zm-12 0zm16 0zm-2 1zm1 0zm2 0zm-4 1zm-4 0zm8 2zm-33 1zm6 0zm-7 0zm5 1zm-2 1zm13 0zm3 0zm-18 0zm5 0zm4 1zm18 0zm-8 1zm7 0zm-17 0zm10 0zm7 0zm-7 0zm-5 1zm-12 0zm-5 1zm27 1zm1 0zm-18 1zm27 1zm-7 0zm-24 0zm26 1zm-18 1zm13 0zm-22 0zm26 0zm-23 1zm26 0zm-22 0zm20 1zm2 0zm-15 1zm-14 0zm27 1zm-13 2zm-8 0zm17 0zm1 2zm-13 0zm5 0zm-3 0zm1 0zm10 2zm-21 0zm29 0zm-35 1zm32 0zm-19 1zm-11 0zm3 1zm15 1zm4 1zm-22 1zm2 0zm6 0zm15 0zm-19 2zm0 0zm27 0zm1 0zm-36 0zm25 1zm1 0zm-5 0zm-19 1zm30 0zm4 0zm-14 0zm-22 0zm22 1zm15 0zm-15 0zm-4 0zm-11 1zm-3 1zm34 0zm-23 0zm23 2zm-35 0zm13 0zm22 1zm0 1zm-30 1zm10 1zm19 0zm-6 1zm-23 0zm-1 0zm11 0zm14 1zm-10 0zm11 0zm2 0zm-8 1zm-6 0zm9 0zm-13 0zm-6 1zm16 1zm-23 3zm-4 0zm-1 0zm24 1zm-6 0zm6 4zm-10 0zm-9 2zm31 1zm-2 0zm-14 1zm5 0zm-16 0zm10 0zm-3 1zm20 0zm-20 2zm-10 0zm33 1zm-15 1zm-8 0zm6 1zm-21 0zm24 0zm11 1zm-3 1zm-32 0zm14 0zm18 1zm-24 1zm-9 0zm22 1zm-9 0zm4 1zm20 1zm-30 0zm29 0zm-7 0zm1 1zm-15 1zm12 0zm9 1zm-15 0zm7 0zm-26 1zm14 1zm21 0zm2 0zm-6 2zm0 1zm5 0zm-38 0zm12 2zm27 0zm-32 2zm0 0zm11 2zm-16 0zm26 0zm-16 0zm-1 1zm19 1zm-16 0zm20 0zm-21 0zm19 1zm-16 0zm20 1zm-14 1zm-17 0zm12 0zm8 1zm-5 1zm-13 0zm-5 0zm26 1zm6 1zm-23 2zm25 0zm-26 0zm29 1zm-35 1zm23 0zm-9 0zm15 0zm2 1zm-30 0zm25 0zm7 1zm-17 0zm-18 1zm35 0zm-14 0zm12 1zm-21 2zm6 1zm-16 1zm17 3zm4 0zm-8 1zm-11 0zm5 0zm4 0zm3 1zm-11 1zm5 0zm1 0zm14 0zm-25 0zm8 0zm5 0zm9 2zm8 1zm-29 1zm20 1zm-15 0zm24 1zm-10 1zm8 1zm-16 0zm5 1zm7 1zm-16 1zm10 1zm6 1zm-2 0zm7 1zm4 0zm-3 0zm-6 1zm-18 0zm23 0zm-18 2zm-1 0zm-1 0zm20 2zm-30 0zm12 2zm-7 0zm2 2zm4 3zm24 0zm-9 1zm0 0zm-10 1zm0 2zm22 1zm-28 1zm23 2zm2 0zm1 0zm-4 1zm1 1zm-34 1zm3 0zm33 1zm-19 1zm6 0zm-19 2zm28 1zm-20 0zm27 0zm-20 0zm9 0zm-17 1zm7 1zm14 0zm-5 0zm10 0zm-17 1zm16 0zm1 0zm-14 1zm-1 0zm-13 0zm-4 1zm-1 0zm15 1zm16 2zm-15 0zm7 0zm1 1zm-9 1zm20 1zm-30 0zm0 0zm14 1zm-4 1zm-2 0zm18 1zm0 1zm-10 0zm9 1zm-28 0zm12 0zm8 0zm-19 1zm18 0zm-20 1zm17 0zm-7 0zm-11 1zm-2 0zm36 1zm-37 0zm12 1zm-13 1zm17 0zm5 1zm-3 0zm-11 1zm4 1zm8 1zm-9 1zm4 0zm-7 1zm-7 0zm25 2zm-4 2zm1 0zm-15 1zm15 1zm-9 1zm4 0zm12 1zm-14 0zm4 0zm-5 0zm-3 4zm-3 0zm-8 5zm6 1zm-1 1zm6 3zm-5 1zm1 0zm9 6zm2 2zm-5 4zm1 0zm-15 6zm48-60zm-6-2zm2-6zm2-2zm1-4zm-5-2zm-1-1zm2-2zm-2-1zm8-2zm8-1zm-6 0zm-4-1zm4-2zm1 0zm-7-3zm-5 0zm11 0zm-3-1zm7 0zm-15-2zm9 0zm-7-3zm8 0zm-6-2zm8 0zm-10-2zm10-1zm0-2zm-5-2zm-2 0zm0-5zm-5-1zm21-2zm-20-1zm21 0zm-16 0zm-5-4zm21-1zm-11-1zm14-2zm-20 0zm6 0zm7-2zm-15-1zm18 0zm-3 0zm-10 0zm8 0zm-15-1zm17 0zm-14 0zm7 0zm-6-1zm13 0zm0 0zm-4-2zm1-1zm6-1zm-21 0zm19-1zm4 0zm-6-1zm-12 0zm-4-1zm27-1zm-19 0zm10 0zm3-4zm-12-1zm-5-1zm19-1zm-23-3zm8-1zm-7 0zm13-4zm-12-2zm7-1zm-3-1zm-1 0zm-2-2zm16-19zm15-1zm-8 0zm-15-2zm1 0zm7-1zm-8 0zm1-1zm26-1zm-31 0zm14 0zm13-1zm-5 0zm-6 0zm-23-1zm16 0zm15 0zm-19 0zm-1 0zm17-1zm-25 0zm12 0zm7-1zm3 0zm-13 0zm26 0zm-8-1zm4-1zm-19 0zm-7 0zm11-1zm-18-3zm14 0zm22 0zm-31 0zm14 0zm-19 0zm20-1zm5 0zm2 0zm-8-1zm-7 0zm1-1zm16 0zm1-1zm6 0zm-14-1zm5 0zm7 0zm-4-1zm-21 0zm5 0zm17 0zm-28 0zm-2-1zm6-1zm29 0zm-16 0zm6-1zm1-1zm-6 0zm6 0zm-22-2zm11 0zm20-2zm-15 0zm-10-1zm-12 0zm0 0zm28 0zm-23-1zm19 0zm-4-1zm2 0zm9 0zm-25-1zm-4 0zm-3 0zm4 0zm12-1zm0 0zm12 0zm-18-1zm3 0zm-9 0zm7 0zm-2 0zm2-1zm26 0zm-26 0zm-9 0zm15-1zm20 0zm-9 0zm7-1zm-23 0zm2 0zm17-1zm-20 0zm9-1zm7 0zm-11-1zm14 0zm-20-2zm12-1zm-15-1zm25 0zm-12 0zm-12 0zm-7 0zm26-1zm-7-2zm-3 0zm5 0zm-8-2zm11 0zm9 0zm4 0zm-17-1zm5-1zm6 0zm3 0zm2-1zm-27-1zm-5-1zm13 0zm13 0zm-26 0zm4 0zm15 0zm-2-1zm-4 0zm9 0zm6 0zm-26 0zm-6 0zm14-1zm23-1zm-20-1zm16 0zm-29-1zm28 0zm-33 0zm0 0zm13-1zm23 0zm-18-1zm0-1zm-18-1zm13 0zm23 0zm-3-1zm-30 0zm26 0zm5 0zm-31-2zm35 0zm-35-1zm11 0zm15-1zm-5 0zm14 0zm0 0zm-14-1zm4 0zm4-1zm7 0zm-39 0zm39 0zm-11 0zm-16-1zm25 0zm-29 0zm30 0zm-26-1zm6-1zm8-2zm-1 0zm12-1zm-15 0zm-20-1zm1 0zm27 0zm5 0zm-16 0zm1-2zm-19 0zm34 0zm-13-1zm10 0zm-25 0zm1-1zm-4 0zm24 0zm0 0zm4 0zm-29 0zm24-1zm-23 0zm16-1zm-2 0zm0-1zm-8 0zm29 0zm-29-1zm-9 0zm3 0zm11-1zm-10 0zm-1 0zm13 0zm19 0zm-28-1zm-6 0zm5 0zm-6-1zm13 0zm-11 0zm26 0zm-9-1zm10-1zm-19 0zm6 0zm0-1zm-17 0zm0 0zm9-1zm17 0zm-22 0zm-2-1zm11 0zm-2-1zm27 0zm-4 0zm4-1zm-6 0zm0 0zm-3-1zm1 0zm6 0zm-1-1zm-9 0zm-14 0zm-2-1zm29 0zm-39 0zm29-2zm-29 0zm38 0zm-35 0zm25-1zm-5 0zm2 0zm-2-1zm9-1zm-12 0zm13 0zm-17 0zm18 0zm-8 0zm3-1zm-15-1zm-3 0zm5 0zm-14-1zm26 0zm8-1zm-5 0zm6 0zm-23-1zm24 0zm-35 0zm29-1zm-27-1zm22 0zm6 0zm-24 0zm9-1zm6 0zm-14-1zm24 0zm-33 0zm-1 0zm31-1zm-30-1zm28 0zm-7-1zm-12-1zm19 0zm9 0zm-33-1zm8 0zm23 0zm-7-2zm1 0zm-26 0zm32 0zm-3 0zm-19-2zm17 0zm-19-1zm21 0zm-21 0zm-3-1zm6 0zm15 0zm-12 0zm-17 0zm6 0zm9-1zm-10-1zm15 0zm12 0zm-23-1zm8 0zm-5-1zm20 0zm-7 0zm1 0zm-27-1zm0 0zm0 0zm9-1zm28-1zm-3 0zm-24 0zm10 0zm10 0zm-9 0zm-14-1zm13 0zm9 0zm-5 0zm-16 0zm12 0zm-5 0zm5-1zm-15 0zm27-1zm1 0zm-15 0zm2 0zm-13 0zm3 0zm-8-1zm18 0zm-19 0zm32-2zm-3 0zm2 0zm-29 0zm6-1zm26 0zm-16 0zm20 0zm-5-1zm-23-1zm9 0zm3 0zm-5 0zm-12 0zm23-2zm-8 0zm-12-1zm5 0zm4 0zm-3-2zm6 0zm-20-1zm19-1zm1-1zm7 0zm-15-1zm-3-2zm-7-3zm5-3zm2-1zm28-18zm1-8zm-2-4zm-26-24zm-3-10zm7-4zm-4 0zm-1 0zm7-1zm-5-1zm1-11zm-11-4zm15-15zm39 45zm15 5zm6 0zm-37 0zm37 2zm2 1zm-21 1zm12 1zm-15 6zm24 5zm-27 3zm9 0zm18 1zm-18 3zm-13 1zm23 0zm-6 0zm-15 1zm25 1zm-1 0zm-19 0zm19 1zm-30 0zm25 2zm-7 2zm2 2zm-11 2zm-8 0zm11 1zm3 3zm12 4zm-13 0zm-10 33zm-5 0zm4 1zm-1 0zm2 1zm0 1zm2 1zm-6 2zm5 1zm6 2zm14 1zm-13 0zm4 1zm-6 2zm-8 0zm3 0zm0 0zm14 1zm4 0zm-14 0zm-5 1zm-6 1zm-1 0zm8 0zm12 0zm-16 0zm-5 1zm13 0zm-5 2zm26 1zm-12 0zm-5 0zm-2 1zm5 0zm-18 0zm20 1zm-16 0zm2 1zm-7 0zm21 0zm-15 1zm16 0zm-1 0zm14 0zm-19 1zm10 0zm-23 1zm14 1zm4 0zm-2 1zm2 0zm-16 1zm28 1zm-26 2zm-2 0zm29 0zm-17 0zm7 1zm-11 0zm19 0zm-7 0zm2 1zm-22 1zm3 0zm1 0zm7 1zm15 0zm-25 1zm11 0zm-5 0zm13 0zm-23 1zm34 1zm-13 0zm12 0zm-32 1zm21 0zm-15 0zm-9 1zm24 0zm-2 1zm9 0zm-11 1zm-1 0zm10 0zm-29 0zm14 1zm-14 0zm15 0zm-8 1zm8 0zm-8 0zm-7 1zm29 1zm8 0zm-37 0zm16 0zm-17 1zm38 0zm-24 1zm-6 0zm7 1zm0 0zm18 0zm-11 2zm13 1zm-17 0zm21 0zm-5 0zm-26 1zm22 0zm-7 0zm-9 1zm-14 0zm7 0zm31 0zm-27 0zm-11 1zm5 0zm15 0zm19 0zm-21 1zm0 0zm2 0zm-9 0zm15 1zm1 1zm-6 0zm16 1zm-14 0zm-18 0zm29 1zm5 0zm0 0zm-37 1zm4 0zm9 0zm-10 0zm25 0zm-11 1zm10 0zm-21 0zm-5 0zm0 0zm4 1zm32 0zm-9 0zm-2 0zm7 1zm2 0zm-17 0zm14 1zm-3 1zm-26 0zm3 0zm24 0zm-5 1zm-23 0zm7 0zm-6 1zm26 0zm-2 0zm-19 2zm0 0zm3 1zm15 0zm-24 0zm18 0zm-14 1zm27 1zm-33 0zm11 0zm10 0zm16 1zm-1 1zm-26 0zm9 0zm13 0zm-15 0zm9 2zm-18 0zm29 1zm-13 0zm-5 0zm-13 0zm12 0zm0 1zm11 0zm-14 1zm-8 0zm7 0zm-12 0zm4 0zm0 0zm-4 1zm6 0zm15 0zm0 0zm-14 1zm-1 1zm14 0zm-16 0zm-1 1zm24 0zm6 0zm-3 1zm-30 0zm31 1zm-9 0zm0 1zm3 0zm-2 1zm6 0zm1 0zm-12 0zm8 1zm-16 0zm9 0zm-14 0zm13 0zm-11 1zm-6 0zm7 0zm26 1zm0 1zm-20 1zm-4 1zm2 1zm12 0zm-20 0zm22 1zm-19 1zm-11 0zm29 0zm-25 0zm27 1zm-26 1zm33 0zm-34 0zm17 0zm-3 2zm8 3zm-25 1zm25 0zm-10 0zm9 0zm13 1zm-20 1zm-16 0zm35 0zm-36 0zm21 0zm-11 1zm1 0zm25 0zm-30 1zm7 0zm8 1zm-6 0zm-8 0zm12 1zm10 0zm-26 1zm2 0zm18 0zm2 0zm-23 1zm-1 1zm21 1zm1 2zm-5 0zm-18 0zm17 1zm-11 1zm6 1zm-13 1zm17 1zm4 0zm-14 2zm-2 5zm-4 5zm20 55zm-6 3zm0 4zm10 0zm0 3zm2 2zm-4 1zm7 1zm3 2zm-19 1zm13 3zm3 1zm-20 1zm22 2zm-14 0zm-9 4zm15 1zm9 1zm-8 4zm-4 1zm-13 3zm10 1zm-1 1zm3 2zm3 2zm-11 2zm-4 1zm2 2zm13 0zm2 0zm-12 1zm1 0zm12 1zm-15 1zm15 3zm53-76zm-11-7zm-11-26zm18-5zm2-2zm-1-5zm-35-14zm2-7zm-1-4zm-2 0zm1 0zm0-1zm2 0zm0-4zm-1-1zm9-2zm3-2zm-13-2zm3 0zm6-1zm-1-3zm-7-1zm4-3zm4-2zm-10-1zm6-1zm-6-1zm2 0zm7-3zm-8 0zm4 0zm0-4zm1-2zm1-1zm4 0zm-4-2zm-7-2zm13-1zm-10 0zm2-1zm5-1zm-6 0zm0-1zm1-1zm-5-4zm9-3zm-7 0zm2-5zm-3-4zm2-1zm-2-8zm25-6zm-2-1zm3-1zm-11 0zm-4-8zm11-6zm10-5zm1-1zm3-2zm-6-1zm-8-6zm10-1zm-2-1zm2-3zm5-3zm-6-2zm4-2zm1 0zm-5-1zm-2-1zm-6-3zm-21-7zm12-1zm-15-4zm20-3zm-15-1zm3-2zm9-12zm-10-7zm-4 0zm8 0zm-9-9zm2-2zm3-7zm15 0zm20 58zm0 6zm-2 24zm33 4zm-33 2zm21 3zm12 2zm4 1zm-5 2zm7 1zm-22 0zm19 3zm-33 0zm21 2zm11 2zm-2 4zm-1 1zm-1 1zm-16 1zm5 1zm13 0zm-9 3zm2 0zm-11 1zm13 2zm-10 1zm15 2zm-19 1zm25 5zm-3 1zm-7 2zm8 3zm1 0zm-2 1zm2 1zm0 2zm-19 1zm-3 1zm11 1zm3 1zm-2 1zm-18 1zm22 7zm-7 3zm4 1zm7 0zm1 3zm-11 1zm5 17zm-8 6zm-13 6zm1 3zm21 17zm-27 0zm-5 5zm11 5zm23 4zm-10 5zm-7 24zm-16 7zm2 24zm38-124zm1-4zm13-5zm-13-4zm15 0zm-6-3zm1-4zm-7-1zm-2-15zm6-1zm-8-2zm3-3zm6 0zm2-2zm-9-3zm6 0zm4-7zm-10-2zm-3-7zm3-1zm5-5z"/></defs><use href="#r2" stroke="#979797" stroke-width="6.8"/><use href="#r2" stroke="#fff" stroke-width="2.8"/></g><g transform="scale(0.25)" fill="none" stroke-linecap="round"><path d="M1494 296zm14-11zm0-59zm-5-34zm27-17zm10 5zm-14 25zm6 18zm24 14zm-10 9zm-10 9zm16 17zm6 46zm-11 65zm2 3zm-17 16zm4 68zm35-11zm-7-8zm3-10zm-7-4zm25-10zm-22-9zm5-33zm26-71zm-15-18zm17-12zm-5-5zm-11-2zm-1-6zm-15-4zm29-9zm5-16zm-24-44zm15-20zm20-23zm8 63zm-13 24zm8 9zm-9 2zm13 2zm14 1zm9 25zm-13 27zm-13 1zm10 66zm-23 15zm1 11zm35 7zm-36 40zm11 29zm18 10zm-8 8zm36 44zm-4-53zm-10-31zm23-1zm-7-53zm-11-40zm28-12zm-23-9zm26-2zm-24-9zm3-22zm-11-3zm20-12zm-18-4zm9-23zm6-8zm13-22zm-15-20zm-6-1zm-6-26zm2-15zm35 46zm28 12zm-25 29zm16 13zm-15 4zm-4 5zm-1 21zm8 6zm10 19zm-2 16zm2 11zm-8 4zm11 10zm-22 25zm33 27zm-29 2zm16 2zm8 18zm-14 12zm16 34zm-23 6zm1 17zm0 1zm29-91zm18-6zm15-61zm-17-1zm12-3zm8 0zm-7-3zm-22-1zm23-8zm-13-8zm-6-7zm12-5zm-8-4zm21 0zm-30-6zm27-13zm-12-21zm-3-6zm5-6zm-24-9zm30-28zm-27-8zm34-37zm-34-62zm41 72zm6 50zm-2 2zm8 6zm-5 6zm19 9zm-23 15zm-4 0zm26 12zm-3 28zm-10 4zm-14 0zm20 11zm43 38zm6-137zm-30-43zm13-5zm36 157zm12 7zm-18 3zm10 4zm3 28zm36-97z" stroke="#fff" stroke-width="11.2" stroke-opacity="0.9"/><path d="M1507 272zm13-90zm29 0zm0 34zm-22 19zm-7 30zm21 5zm-20 35zm38 112zm-12 6zm-15 18zm26 6zm22 32zm13-1zm-10-10zm-13-15zm1-1zm20-10zm2-19zm-26-22zm16-24zm-21-8zm12-44zm8-67zm9-9zm-24-8zm-6-3zm32-16zm-28-13zm-4-5zm24-9zm-6-27zm41 19zm-18 60zm18 3zm7 8zm8 6zm1 3zm-21 30zm-2 26zm24 51zm-34 2zm2 12zm25 15zm4 70zm3 17zm-1 16zm2 3zm-9 12zm28-46zm4-27zm0-7zm-1-15zm-1-9zm-11-19zm0-30zm-7-7zm38-11zm-9-14zm-6-22zm-18-33zm12-3zm-15-2zm1-40zm13-1zm4-17zm54-100zm-18 82zm14 5zm-3 3zm-5 9zm14 15zm-9 17zm-4 31zm-22 4zm33 9zm-32 0zm28 2zm-10 6zm-16 1zm3 20zm3 3zm5 1zm15 2zm1 10zm-18 54zm-9 13zm22 1zm-20 37zm8 4zm-2 2zm-10 0zm7 13zm-8 55zm-1 23zm41-72zm-2-11zm9-7zm-1-6zm8-22zm5-59zm-19-17zm1-4zm35-3zm-11-5zm8-38zm-30-2zm5-5zm21-23zm-3-15zm-13-11zm12-6zm-3-3zm39-75zm8 12zm-21 83zm-2 8zm12 16zm0 3zm-15 1zm3 8zm21 5zm1 10zm-26 0zm20 30zm-21 3zm23 19zm-2 98zm-2 0zm-4 16zm22-132zm0-21zm35-75zm-29-48zm55 80zm11 13zm-26 53zm-4 19zm3 21z" stroke="#fff" stroke-width="6.4" stroke-opacity="0.9"/><path d="M1483 383zm25-13zm-28-108zm18-7zm16 0zm-22-39zm39 2zm17 15zm-14 6zm-13 12zm6 16zm-2 35zm18 74zm-7 31zm10 27zm5 2zm4 13zm3 5zm16-24zm19-3zm-28-12zm-4-3zm31-1zm-8-33zm10-55zm-6-18zm-3-16zm-7-9zm17-1zm-16-8zm15-1zm-2-10zm-31-2zm7-8zm18-19zm8-20zm-5-27zm-13-5zm22-14zm8 20zm-4 40zm27 1zm-1 30zm-7 32zm4 8zm-23 23zm10 59zm27 1zm-22 12zm-17 34zm31 35zm-5 33zm51 49zm-15-35zm9-2zm-1-13zm-26-34zm17 0zm-1-6zm3-12zm8-9zm-28-8zm8-2zm24 0zm-7-7zm-7-74zm-1-1zm-5-18zm1-8zm-8-32zm27-7zm-12-13zm13-7zm-24-14zm-11-1zm7-9zm30-10zm-20-1zm21-11zm-30-36zm21-11zm37-14zm-22 67zm25 11zm-14 8zm16 40zm-5 46zm-20 2zm15 8zm-9 25zm-2 4zm25 71zm-36 29zm37 6zm-9 5zm14 7zm11-55zm-10-29zm16-44zm-5-9zm-14-5zm14 0zm-4-14zm11-8zm-20 0zm24-1zm-5-13zm-10-9zm18-13zm-11-1zm10-21zm-1-3zm13-4zm-19-7zm0-1zm-12-4zm-4-100zm55 107zm-2 26zm-12 28zm34 23zm-3 8zm-7 2zm-22 19zm-1 5zm31 112zm30-96zm6-7zm-33-20zm6-49zm7-3zm22-70zm21 67zm-15 60zm18 20zm-1 17zm-16 1zm12 34zm30-135zm0-22z" stroke="#fff" stroke-width="8.8" stroke-opacity="0.9"/></g><path d="M382.0 39.3L384.5 50.7L385.4 60.6L382.0 73.7M397.4 40.9L400.0 49.1L406.0 54.0L405.1 67.1L406.8 78.6M366.5 62.2L373.4 58.9L380.2 54.0M397.4 90.1L396.5 99.9L388.8 108.1M425.7 91.7L423.1 103.2L427.4 113.1M400.8 114.7L409.4 118.0L412.8 126.2M411.1 49.1L421.4 47.5L431.7 46.6L440.2 50.7" stroke="#fff" stroke-opacity=".8" stroke-width="1.7" fill="none" stroke-linecap="round" stroke-linejoin="round"/><g transform="scale(0.25)" fill="none" stroke-linecap="round"><path d="M1481 311zm11-6zm5-46zm-16-3zm58-50zm12 47zm4 36zm-3 101zm6 9zm-15 31zm-18 4zm24 9zm6 7zm1 22zm27-15zm8-29zm-20-16zm21 0zm-28-15zm30-2zm-30-4zm18-4zm-7-7zm23-10zm-18-8zm-9-66zm-6-41zm25-14zm-25-31zm20-2zm-3-21zm3-10zm-3-2zm-22-4zm24-2zm38 24zm1 35zm4 6zm-24 43zm18 9zm-14 126zm30 71zm-32 6zm28 0zm-21 2zm18 4zm28 47zm-10-19zm13-12zm-19-37zm-2-42zm74-64zm-22 2zm-8 73zm35 53zm-34 26zm36-14zm3-9zm9-18zm4-57zm-4-12zm66-32zm-9 57zm6 27zm-14 8zm20-1zm0-11zm2-7zm-1-5zm-2-12zm22-38zm16-2zm-9-1zm7-1zm0 0zm-7-3zm0 0zm7-5zm-20-1zm18-2zm-1-2zm-11-5zm10-3zm-8-7zm12-4zm-15-6zm16 0zm-17-1zm3-2zm-5-2zm17-7zm21 2zm-1 1zm-2 4zm-11 1zm-1 0zm25 6zm4 0zm-11 2zm-18 0zm26 1zm2 2zm2 0zm-28 5zm30 1zm-7 4zm-12 2zm19 0zm-7 5zm-1 3zm-7 3zm5 2zm-5 0zm-7 0zm4 2zm0 0zm7 2zm7 1zm-28 3zm1 0zm23 0zm-7 0zm-16 5zm28 3zm-20 0zm5 2zm10 0zm-23 22zm4 2zm-2 3zm-1 3zm51-91zm5-53z" stroke="#e8312a" stroke-width="4.8"/><path d="M1472 268zm26 23zm-17-9zm6-8zm50-98zm8 6zm4 132zm-6 4zm13 70zm-12 7zm15 10zm3 71zm32-19zm-33-45zm24-94zm3-55zm24-68zm-2 78zm5 117zm-6 6zm7 9zm-13 3zm11 24zm-14 10zm10 53zm59 3zm-18-49zm-9-3zm3-7zm-4-1zm16-2zm22-18zm-24-20zm11-4zm-8-10zm12-1zm10-17zm31 5zm5 117zm1 7zm13-9zm-9-1zm1-45zm5-45zm72 42zm-15 1zm14 7zm3 30zm6-13zm-1-8zm1-2zm-3-1zm4-3zm-5-1zm35-22zm-4-34zm2 0zm-2-1zm-2-1zm4-4zm-18-2zm7-1zm-8-4zm3-5zm3-2zm12-6zm-1-1zm-18-2zm5-4zm4-1zm6-8zm2-2zm1-7zm-1-2zm39-53zm-2 17zm-2 29zm-18 6zm-5 0zm-2 1zm14 10zm-12 2zm7 0zm17 3zm-24 1zm3 2zm1 5zm-7 1zm34 0zm-7 1zm-16 7zm2 4zm-3 2zm2 0zm-1 3zm16 5zm8 2zm-26 5zm-4 3zm13 1zm-1 1zm6 0zm-14 7zm3 17zm-10 5zm-1 0zm11 7zm-6 5zm-3 2z" stroke="#ee3a30" stroke-width="4.8"/><path d="M1500 212zm41-18zm-10 17zm-3 17zm13 18zm4 175zm0 11zm8 27zm2 15zm33 6zm-20-14zm22-4zm0-8zm-7-8zm-9-1zm2-17zm15-147zm-10-30zm0-17zm-12-63zm51 86zm-13 44zm-6 16zm10 45zm8 47zm-16 7zm25 3zm-10 7zm-18 1zm39 18zm-16 62zm19 22zm-1-1zm23-32zm0-5zm-11-10zm4 0zm-3-70zm44-46zm-14 18zm26 18zm2 54zm7 30zm-4 13zm3 1zm-3 8zm16-12zm1-5zm-2-3zm-9-21zm7-28zm56 28zm22-4zm2-4zm-8-21zm33-30zm5-14zm-16-3zm-1-6zm12-2zm-17-2zm20-2zm-16-1zm10-3zm-2-1zm7-2zm-13-5zm4-7zm-1 0zm8-5zm-6-7zm7-4zm34-89zm5 36zm-12 24zm-7 21zm-1 1zm4 2zm-7 4zm-9 1zm25 5zm-4 6zm13 2zm-1 1zm-4 1zm-2 2zm-22 6zm18 0zm7 7zm-28 0zm25 3zm-26 1zm24 2zm1 0zm-17 1zm-2 2zm13 2zm-4 3zm12 1zm-3 7zm-8 3zm9 1zm-23 2zm12 1zm-14 12zm6 4zm-1 10zm3 10zm-5 10z" stroke="#f0625a" stroke-width="4.8"/><path d="M1492 278zm19-24zm22-59zm25 4zm-7 171zm-12 50zm-12 9zm21 20zm14-15zm32-38zm-34-3zm12-10zm25-4zm-19-1zm-1-11zm-15-99zm1-25zm45-73zm-6 22zm29 190zm-26 36zm21 28zm-23 24zm12 28zm36 3zm26-11zm-12-8zm13-3zm20-100zm3 8zm-18 9zm19 42zm-15 78zm-6 8zm47-20zm2-4zm-4-11zm5-4zm-2 0zm-8-30zm23-24zm50 6zm5 7zm-8 6zm11 25zm2-28zm4-4zm-4-6zm29-46zm-2-1zm-3 0zm-4-1zm-1-1zm15-3zm-4-3zm2-1zm3-2zm-5-1zm1-1zm4 0zm-22-2zm-1-2zm14-1zm-14-4zm14-7zm-4-1zm10-43zm31-61zm-6 81zm-6 5zm-4 0zm11 6zm-5 3zm-6 0zm-1 11zm6 1zm4 0zm-20 0zm33 1zm-19 2zm4 1zm19 2zm-3 0zm-10 2zm-16 1zm5 0zm7 0zm-5 3zm-7 0zm14 1zm10 0zm-29 1zm26 1zm-10 0zm13 3zm-5 0zm-6 3zm-6 0zm1 1zm-16 1zm33 0zm-28 3zm23 1zm-19 1zm19 0zm-5 1zm-15 0zm5 2zm-6 2zm8 2zm-11 1zm0 2zm3 11zm-1 5zm-4 11zm-2 6zm16 2zm-16 3zm45-183z" stroke="#e0443c" stroke-width="4.8"/><path d="M1547 288zm17-8zm17 0zm11-9zm-21-28zm15-13zm48 47zm1 20zm-32 12zm53 28zm3-2zm3-9zm11 0zm-27-9zm8-21zm6 0zm-9-2zm-1-4zm11-2zm-18 0zm-2-1zm33-9zm5-9zm-6-17zm-16-5zm-13 0zm30-2zm-23 0zm25-7zm-25-1zm10-1zm11-5zm-5-10zm7-38zm7 22zm5 8zm1 2zm23 19zm-15 1zm-12 2zm34 0zm-24 12zm18 4zm-2 1zm-15 6zm10 27zm-2 1zm-5 14zm14 4zm-24 0zm16 1zm12 1zm-34 21zm27 24zm-1 4zm-8 0zm32 3zm11-1zm3-19zm-22-5zm-1-2zm19-6zm-9-2zm-3-1zm12-5zm-2 0zm5 0zm13-1zm-9 0zm1-3zm-4-1zm8-8zm-26-11zm2-2zm-3-5zm21 0zm-23-7zm15-13zm8 0zm-9-21zm16-13zm-5-1zm9-68zm7-9zm32 6zm-10 24zm-4 1zm7 8zm-11 1zm-19 35zm4 19zm7 2zm6 2zm4 2zm-16 11zm25 2zm-22 12zm8 6zm7 13zm13 11zm-10 16zm-5 5zm-11 2zm-2 9zm4 0zm-3 2zm67-144zm-34-31zm6-3zm-1-4z" stroke="#b07c79" stroke-width="4.8"/><path d="M1552 237zm7 59zm8-28zm12-15zm12-39zm48 49zm-6 36zm2 10zm13 34zm16-12zm-10-15zm19-28zm-11-1zm-10-3zm8-2zm1-1zm-4-6zm17 0zm-22-6zm-7-3zm29-6zm-32-4zm24 0zm8-4zm-29-10zm16-10zm-19-2zm2-2zm23-22zm-11-26zm17-15zm17-40zm17 2zm-4 10zm-4 6zm-19 16zm31 44zm-19 3zm-4 7zm29 2zm-1 2zm-20 1zm-6 4zm-9 0zm26 5zm-19 7zm-7 11zm8 1zm20 3zm-9 5zm-2 2zm13 2zm3 7zm-2 4zm-30 13zm31 2zm-5 1zm10 1zm-23 8zm-11 1zm15 2zm1 1zm4 10zm-18 1zm9 3zm13 1zm-6 2zm-7 3zm16 10zm-12 2zm20 5zm-27 1zm7 6zm54 14zm-17-4zm-10-3zm11-6zm15-8zm-30-11zm1-2zm7-1zm23-2zm-4-10zm-18-5zm15-6zm-26-4zm26-2zm-15-25zm-5-1zm21-4zm4-3zm-28-4zm8-1zm-6-1zm3-2zm23-11zm-8-5zm-23-11zm29-5zm-23-96zm61 32zm-9 5zm2 12zm6 26zm-12 43zm-12 0zm4 13zm6 1zm18 4zm-25 2zm-2 7zm12 5zm-10 5zm26 5zm-26 19zm3 14zm16 4zm-4 14zm7 2zm-27 6zm11 12zm-10 2zm41-25zm1-32zm-3-13zm33-57zm6-15zm-12-1zm0-9zm-20-17zm1-3zm7-1zm-3-12z" stroke="#b98a88" stroke-width="4.8"/><path d="M1579 289zm15-1zm-11-22zm14-16zm-11-16zm25 25zm62 85zm3-16zm-17-13zm17-3zm-22-1zm-13-7zm30-2zm-27-3zm26-1zm-20 0zm16-10zm4-5zm7-7zm-22-1zm21-2zm-34-17zm37-13zm-17-1zm1-17zm-5-9zm11-1zm-2-4zm51-93zm-20 64zm5 3zm-17 3zm31 21zm-21 2zm-8 16zm19 3zm-1 4zm-26 5zm38 0zm-20 14zm19 5zm-26 7zm28 10zm-14 7zm-14 19zm8 2zm5 0zm9 2zm-11 3zm0 3zm-14 3zm-3 8zm3 0zm23 3zm-14 7zm5 22zm-6 0zm24 1zm33-5zm-21-5zm23-9zm-9-13zm-13-4zm-1-7zm18-7zm-11-2zm-16-1zm32-4zm-12-1zm-5-9zm7-1zm-25-4zm0-4zm4-1zm5-8zm17-3zm7-3zm-21-6zm17-6zm3-2zm0-21zm34-72zm1 5zm-22 7zm10 2zm19 6zm-3 15zm-10 2zm-8 9zm-11 31zm-2 7zm30 11zm-7 19zm-7 6zm14 9zm-27 3zm3 1zm33 8zm-26 1zm21 0zm-20 5zm-14 4zm7 0zm7 3zm7 1zm15 11zm-31 7zm6 1zm27 13zm-21 1zm-8 8zm0 3zm38-49zm-6-4zm4-9zm16-101zm-17-8zm34-7zm-34-3zm7-3zm4-2zm7-6z" stroke="#d24a44" stroke-width="4.8"/><path d="M1553 218zm-20 43zm14 12zm21 24zm9-31zm-14-22zm75 17zm-2 15zm1 10zm-18 12zm30 36zm24-3zm-16-11zm21-5zm-18-4zm3-1zm1-2zm-21-2zm23-11zm-8-2zm-6-1zm-1-7zm27-1zm-38-7zm32-1zm-6-2zm11-28zm-34-6zm25-1zm-21-6zm7-8zm5-2zm-4-3zm5-12zm9-2zm-6-21zm-7-2zm54-68zm-30 40zm13 51zm24 11zm-11 1zm9 2zm-1 2zm-14 10zm19 0zm-34 20zm1 5zm-3 9zm7 10zm6 8zm-12 2zm16 3zm19 9zm-34 4zm6 1zm28 4zm-23 5zm11 5zm10 9zm-6 2zm-8 10zm-2 14zm34 3zm21 0zm-6-1zm-24-4zm10-3zm5-10zm10-11zm-9-18zm-4-5zm-12-17zm2 0zm31-11zm-7-11zm-14-13zm5 0zm3 0zm10-15zm-9-2zm-4-6zm15-7zm-37 0zm23 0zm-7-6zm10-47zm-26-36zm64 26zm6 4zm0 7zm7 10zm-10 11zm-18 4zm10 48zm1 11zm1 3zm-12 3zm25 14zm1 1zm-16 5zm-6 2zm14 5zm-26 11zm29 2zm7 1zm-3 9zm-27 1zm8 0zm-7 14zm-6 0zm7 1zm14 1zm-10 13zm20 2zm-8 10zm-19 9zm34-13zm5-39zm-6-113zm39-2z" stroke="#c98582" stroke-width="4.8"/><path d="M1553 235zm-16 42zm4 4zm22 19zm2-8zm8-38zm65-3zm-3 4zm-6 6zm5 1zm5 48zm-2 4zm25 28zm15-32zm-26-1zm-7-6zm5-20zm26-2zm-19-25zm9-4zm-6-21zm-6-4zm16-1zm-29 0zm20-6zm17-3zm-12-2zm-16-46zm5-7zm36 6zm-10 41zm13 14zm15 6zm-17 9zm25 7zm-27 0zm-6 4zm30 3zm-13 2zm-5 6zm23 1zm-13 3zm10 4zm-4 22zm-2 11zm-25 11zm4 8zm25 8zm-13 22zm8 1zm40 11zm0-6zm-7-1zm-6-4zm-6-6zm-3-3zm3-5zm14-2zm4-2zm-21-9zm30-14zm-31 0zm28-4zm-25-3zm10-5zm-17-5zm14-4zm6-2zm1-1zm5-4zm-2-4zm-23-2zm0 0zm19-2zm6-5zm1-14zm-24-6zm33-3zm-33-4zm34-2zm-38-17zm23-3zm-21-2zm5 0zm3-5zm2-1zm64-51zm-14 3zm-15 4zm5 10zm-5 11zm15 57zm-18 25zm12 3zm7 1zm12 1zm-4 0zm-16 1zm-12 4zm28 4zm-13 0zm7 1zm-9 4zm20 3zm-30 5zm25 2zm-11 5zm-17 3zm35 8zm0 1zm-15 13zm6 11zm-22 14zm64-90zm-7-13zm15-7zm-9-5zm-24-58z" stroke="#cc524c" stroke-width="4.8"/><path d="M1554 287zm52-56zm-1 1zm33 39zm0 23zm26 44zm-5-2zm12-5zm-29-7zm36-2zm-11-7zm-26 0zm26-1zm-22-3zm19-6zm-7 0zm-8-16zm23-4zm-20-41zm26-3zm-8-5zm3-4zm6-14zm-16-9zm36-91zm14 11zm-29 1zm-1 26zm18 32zm-18 3zm14 2zm2 10zm10 1zm-9 0zm15 7zm0 1zm-16 4zm8 0zm-26 4zm21 4zm0 1zm-16 4zm22 2zm-9 18zm-7 1zm-9 9zm-2 3zm7 4zm20 11zm-19 3zm7 10zm2 12zm13 2zm-31 1zm24 8zm-11 7zm18 1zm4 4zm-14 2zm-21 6zm7 11zm14 23zm42-9zm15-3zm-37-4zm10-1zm-5-10zm23-14zm-18-19zm-9-7zm33 0zm-21-7zm-1-2zm19-5zm-29-2zm1-11zm15-2zm-7-11zm18-6zm5-2zm3-2zm-3 0zm-17-3zm17-12zm-19-8zm23-1zm-19-5zm-10-3zm1-1zm17-36zm-14-52zm-2-8zm65 29zm-37 18zm12 71zm-11 16zm11 2zm7 26zm1 2zm6 3zm-11 1zm4 0zm-7 4zm21 6zm-23 1zm25 8zm0 9zm-30 1zm16 2zm16 15zm-22 4zm-5 6zm33-31zm5-13zm31-67zm-18-19zm11-15zm-24-35zm-5-1z" stroke="#c4544f" stroke-width="4.8"/><path d="M1536 234zm7 47zm30 12zm4-3zm18-6zm-28-7zm24-63zm41 40zm-23 9zm24 8zm5 33zm37 36zm-32-2zm-1-23zm28-7zm-28-3zm21-1zm-16-8zm30-2zm-5-10zm-13-25zm16-3zm-10-5zm7-4zm-24-1zm21 0zm-11-2zm-6-8zm-6-3zm12-1zm-12 0zm29-8zm-26-6zm26-6zm19-28zm-1 23zm-5 0zm-1 10zm4 2zm27 2zm-25 6zm17 2zm8 3zm-27 9zm8 5zm17 4zm-21 6zm21 19zm-4 1zm-19 1zm0 2zm8 10zm5 3zm-8 0zm-11 6zm4 2zm-4 0zm26 2zm-8 5zm-8 14zm18 8zm-35 8zm31 7zm8 4zm-30 9zm63 2zm-14 0zm18-4zm-27-1zm6-4zm9-8zm-11 0zm12-5zm4-17zm-17-5zm-4-1zm21-2zm-27-1zm15-9zm-4-8zm23-3zm0-1zm-34-4zm36-10zm-38-2zm17-4zm-14-7zm5-11zm26-6zm-4-1zm-27-5zm19-25zm-18-7zm34-27zm29-26zm-23 31zm22 4zm-12 45zm0 13zm-7 4zm7 8zm5 0zm-13 3zm10 17zm8 15zm-4 9zm-4 4zm12 11zm-22 5zm22 7zm9 6zm-24 1zm-10 15zm14 1zm32-54zm7-71zm15-3zm-12-11zm-16-22zm37 66z" stroke="#bd6a66" stroke-width="4.8"/></g>
<text x="419.8" y="13.2" font-size="9.9" text-anchor="middle" fill="#111" stroke="#111" stroke-width=".18">T (n=8)</text>
<defs><linearGradient id="gx" x1="0" y1="0" x2="0" y2="1"><stop offset="0" stop-color="#ff0000"/><stop offset=".45" stop-color="#f03030"/><stop offset="1" stop-color="#b0b0b0"/></linearGradient></defs>
<rect x="509.3" y="28.2" width="5.5" height="36.6" fill="url(#gx)"/>
<path d="M506 25.6L509.3 28.4L509.3 26.4Z" fill="#e02020"/>
<text x="512" y="19.6" font-size="3.4" text-anchor="middle" fill="#555">Gene expression</text>
<text x="504.5" y="27.6" font-size="3.6" text-anchor="middle" fill="#444">1</text>
<text x="504.5" y="67.6" font-size="3.6" text-anchor="middle" fill="#444">0</text>
<text x="4" y="175.2" font-size="18.4" font-weight="bold">b</text>
<g fill-opacity=".86"><path d="M78.4 190.2L80.2 184.0L84.6 178.7L90.0 177.8L92.6 182.2L93.4 189.3L88.2 192.8L85.0 197.3L82.8 192.8Z" fill="#00B6EB"/><path d="M110.3 198.1L112.9 194.6L119.9 197.3L121.7 205.2L119.1 209.6L115.5 207.0L111.1 202.6Z" fill="#A58AFF"/><path d="M115.7 225.3L119.0 224.3L122.3 228.1L122.6 232.8L120.9 235.1L118.1 231.8L116.2 229.0Z" fill="#FB61D7"/><path d="M79.8 215.2L84.8 212.6L90.1 210.8L92.8 206.4L96.2 208.1L98.6 215.2L98.0 223.2L94.5 229.4L90.1 228.5L88.3 237.3L86.6 239.1L85.7 230.2L82.1 225.0L79.8 219.6Z" fill="#00B6EB"/><path d="M38.1 225.0L43.5 224.2L48.8 225.9L54.0 226.8L54.0 233.9L52.3 242.7L53.2 249.1L49.9 249.1L45.2 242.7L40.8 232.1Z" fill="#00B6EB"/><path d="M50.1 250.2L53.4 250.2L53.4 252.6L51.6 258.8L49.0 254.4Z" fill="#14bcb4"/><path d="M60.1 232.7L62.1 231.8L63.5 238.0L64.5 245.1L62.7 248.5L60.1 247.7L58.3 252.1L55.6 256.5L53.9 255.7L56.5 248.5L58.3 241.5L59.1 236.2Z" fill="#53B400"/><path d="M68.1 241.9L73.3 237.5L77.7 240.2L79.5 249.0L78.7 256.1L82.2 263.2L80.5 265.8L75.1 258.8L69.8 257.0L67.2 250.8Z" fill="#53B400"/><path d="M92.5 234.5L96.0 231.9L101.3 234.5L106.7 238.1L111.1 243.3L110.1 250.4L104.9 254.8L99.5 257.4L96.9 258.4L95.1 252.2L92.5 248.6L91.6 241.6Z" fill="#00B6EB"/><path d="M86.7 275.1L92.0 273.4L94.6 269.0L95.6 262.8L98.2 261.0L100.0 265.5L100.0 272.5L103.4 276.9L102.6 280.5L98.2 283.1L96.4 292.0L93.8 299.9L88.5 305.2L83.1 304.4L79.7 299.9L77.5 292.0L77.9 284.8L81.5 278.7Z" fill="#F8766D"/></g>
<g transform="scale(0.25)" fill="none" stroke-linecap="round"><path d="M157 909zm2-5zm-2-2zm26-5zm10 2zm-33 0zm13 1zm-2 0zm21 0zm-28 1zm25 0zm-27 1zm17 0zm-3 1zm-10 0zm32 2zm-8 0zm-6 1zm-21 1zm2 0zm25 0zm-12 0zm-17 2zm23 1zm-20 1zm30 1zm-10 1zm-12 1zm23 1zm-14 3zm5 1zm10 1zm-22 0zm16 1zm0 1zm-13 1zm-8 1zm0 1zm20 0zm-17 1zm21 0zm-3 1zm-26 2zm1 0zm22 2zm-13 0zm10 1zm11 0zm-20 1zm4 1zm-14 0zm0 0zm12 1zm15 1zm-4 1zm4 3zm-10 0zm-8 3zm0 1zm11 1zm6 0zm-16 0zm14 1zm6 2zm-5 1zm7 4zm-2 2zm-13 1zm9 0zm3 0zm-14 1zm19 2zm-21 3zm10 0zm0 0zm3 1zm-7 4zm-1 3zm2 3zm10 1zm-11 1zm8 0zm-12 1zm12 6zm2 0zm-6 1zm11 4zm7 10zm-4-1zm-1-3zm4 0zm1-3zm-1 0zm3-3zm-4 0zm1-3zm3 0zm-1-4zm1 0zm-5-2zm2-2zm2 0zm5-5zm-10-5zm7 0zm-3 0zm1-1zm-5-6zm9-1zm2-4zm0-1zm-6-8zm1-3zm-4-1zm15-1zm-14 0zm10-1zm1-1zm-11-4zm5-1zm-8-6zm15-2zm-14-1zm8 0zm5-1zm-1-7zm-3-2zm-5-1zm10-2zm-13-4zm115-149zm-3-6zm3-2zm32-39zm-1 1zm1 1zm4 2zm3 3zm-3 1zm3 0zm-11 2zm8 2zm-25 0zm7 2zm-7 3zm8 0zm-14 1zm25 2zm-7 0zm7 1zm-28 0zm8 1zm-5 0zm30 2zm-21 2zm-7 1zm5 2zm28 1zm-20 1zm4 0zm-1 1zm-8 0zm-8 3zm5 4zm21 2zm2 2zm-27 0zm-2 2zm25 1zm-9 0zm-5 0zm-8 1zm11 1zm-4 2zm-3 0zm9 7zm-14 1zm18 1zm3 1zm-7 4zm-9 2zm4 1zm12 1zm-1 1zm-6 1zm-4 4zm4 2zm14 58zm-14 1zm1 2zm-4 4zm20 2zm-17 1zm18 0zm-24 1zm17 2zm-31 1zm9 0zm-8 5zm18 1zm-16 0zm35 2zm-12 0zm7 2zm-30 0zm29 0zm-17 1zm17 4zm-22 0zm13 1zm-2 2zm-18 0zm26 0zm8 1zm-18 0zm-5 0zm-3 0zm27 2zm-3 0zm2 2zm-11 0zm-14 1zm4 2zm2 1zm9 0zm1 1zm0 1zm-8 1zm-4 0zm-13 1zm23 0zm4 0zm-26 1zm16 2zm-2 0zm-6 0zm-7 1zm0 1zm20 0zm-10 0zm3 1zm13 1zm6 4zm-8 4zm-6 1zm12 0zm-2 2zm5 6zm-14 3zm-5 2zm15 1zm-10 3zm-2 1zm12 2zm-11 4zm3 8zm1 2zm3 1zm2 0zm-8 1zm1 8zm2 3zm0 2zm0 1zm0 1zm-1 2zm3 2zm-1 2zm-3 0zm3 2zm-3 1zm1 8zm-2 1zm3 1zm1 1zm-2 1zm1 3zm2 1zm0 1zm-2 0zm0 1zm2 3zm-1 1zm2 2zm-4 1zm3 1zm-2 0zm1 2zm-1 2zm2 2zm0 1zm-1 3zm0 1zm-1 0zm0 3zm2 3zm-1 2zm1 0zm-1 10zm2 0zm-3 1zm1 1zm40 10zm2-5zm3 0zm1-2zm-3-1zm-1-1zm4-2zm-2-2zm-1 0zm-2-1zm5-1zm3 0zm-14-1zm1 0zm4-2zm0-2zm7-1zm-13-1zm6-1zm-3-2zm-4-1zm-5-1zm-4-6zm-3-2zm17 0zm1-1zm1 0zm-11-1zm-4-1zm17 0zm-3-1zm6-1zm-28-2zm23-1zm-1 0zm0-3zm7-2zm1-1zm-15 0zm18-4zm-31 0zm4-1zm7-1zm11 0zm4-1zm-23-2zm16-1zm-12-1zm-4 0zm14 0zm-15 0zm6 0zm13-2zm3-1zm-20 0zm27-2zm-25-1zm15 0zm-4 0zm-20-1zm34-1zm-12 0zm-17 0zm4 0zm3-1zm12 0zm-5 0zm-4-1zm-4 0zm18-4zm-2-2zm-6-3zm-12-1zm6-1zm-4 0zm13-2zm-15 0zm10-2zm-19-1zm22-3zm3-1zm-14 0zm18-2zm-15-4zm4-3zm15-1zm-23-1zm-4 0zm21-1zm-8 0zm9 0zm-24-5zm-4-10zm5-2zm-3 0zm4-2zm13-3zm-22 0zm2-1zm4 0zm-2-1zm14 0zm-3-3zm7-1zm-8 0zm0 0zm-6 0zm-2 0zm-8-1zm9-2zm-8-2zm30-1zm-19-3zm14 0zm-23 0zm21 0zm-7-1zm-7 0zm-3-1zm9-2zm18 0zm-30 0zm27-1zm-15-1zm17-1zm-12 0zm1-1zm-22-1zm2 0zm20-1zm5-1zm3 0zm-1-1zm-7 0zm-18-3zm29 0zm-19-1zm22 0zm-6 0zm-17 0zm17 0zm-26-1zm19-2zm-1-1zm-1-2zm-8-1zm4 0zm10 0zm-16-2zm17 0zm-10-6zm10 0zm-16-1zm8 0zm-15 0zm-4-1zm31-1zm-26-2zm30 0zm-17-1zm15-2zm-22-1zm7-4zm4-1zm-12 0zm-2-1zm11-1zm-6 0zm14-1zm5 0zm-29-2zm4-2zm20-1zm-3-5zm-3-3zm-16-2zm-4-69zm-1-1zm-1-3zm5-1zm7 0zm1-1zm-4-1zm-8 0zm6-2zm2-1zm-8-2zm3-3zm2-3zm6 0zm-6 0zm1-3zm-3-2zm2-2zm-5-4zm3-2zm3-1zm5-6zm-10-11zm40 225zm1 5zm16 6zm-6 1zm9 0zm-3 0zm5 2zm-3 4zm-13 1zm-1 2zm8 2zm0 0zm24 1zm-39 0zm1 0zm4 0zm3 0zm4 4zm-8 0zm25 1zm8 1zm-14 0zm-2 1zm15 1zm-7 3zm8 0zm-6 1zm-25 0zm29 0zm-34 0zm19 1zm-12 3zm21 0zm-4 2zm-7 0zm-8 1zm16 0zm3 0zm-7 1zm-20 0zm28 1zm-14 1zm5 1zm15 1zm-11 2zm-18 0zm8 2zm19 3zm-10 1zm13 0zm-9 0zm-20 0zm10 1zm-5 1zm15 2zm4 2zm4 0zm-19 1zm11 1zm-8 0zm-11 2zm-4 0zm16 1zm-11 0zm3 6zm0 5zm-13 2zm17 1zm-17 6zm4 1zm43-29zm-6-1zm3-5zm-3-18z" stroke="#00B6EB" stroke-width="3.6"/><path d="M471 831zm5-3zm2-4zm-6-1zm-18-2zm7 0zm5-7zm5-2zm-20-1zm11-1zm1 0zm13-1zm-6-1zm-22 0zm23-1zm-16-3zm0-1zm11 0zm-2 0zm9-1zm-12 0zm-8-1zm0 0zm17-2zm-19-1zm12-2zm-17-2zm29 0zm2 0zm-1-2zm-31-1zm25 0zm-6-1zm-2 0zm4-3zm1 0zm-7 0zm6-1zm-17-3zm-2-3zm35 22zm2 11zm-4 4zm6 2zm-5 14z" stroke="#A58AFF" stroke-width="3.6"/><path d="M478 932zm-3-2zm-3-6zm-7 0zm-1-7zm1-3zm5-8zm6-3zm-13-2zm8 0zm-3-2zm2-3zm11 6zm7 11zm-3 6zm-2 3zm2 6zm2 3zm-5 4zm4 3z" stroke="#FB61D7" stroke-width="3.6"/><path d="M195 1019zm10 5zm-1-1zm3 0zm-3-6zm2-2zm-4-1zm10-1zm-12 0zm4-2zm2-2zm-5 0zm7-2zm4-4zm-3-4z" stroke="#14bcb4" stroke-width="3.6"/><path d="M215 1020zm15-5zm-2 0zm-6-1zm8-4zm2-5zm-2-1zm-6-1zm12-8zm-9-2zm2-2zm-1-13zm8 0zm-10-2zm11-1zm-1-14zm14-32zm-9 2zm1 4zm11 1zm2 3zm-12 0zm6 1zm1 13zm-9 1zm5 1zm7 2zm-6 0zm6 1zm-10 0zm-3 1zm12 1zm6 0zm-4 3zm25 3zm-33 1zm5 3zm6 0zm-16 2zm0 1zm27 0zm-20 1zm30 0zm-6 1zm-26 2zm29 1zm-30 1zm34 0zm-4 2zm-28 4zm6 2zm21 5zm-23 0zm1 2zm1 1zm20 1zm-20 0zm3 3zm21 5zm-1 2zm-17 0zm17 5zm-16 0zm-1 0zm1 1zm2 2zm17 9zm-14 0zm53 31zm-9-7zm10-1zm-7-3zm1-7zm-22 0zm11-2zm2-1zm6 0zm0 0zm1-1zm-12 0zm17 0zm-26 0zm-10-4zm19 0zm0-2zm-17 0zm0 0zm20-1zm-20-2zm26-1zm-18-3zm28 0zm-24-1zm-10-6zm0 0zm29 0zm-33 0zm5-2zm16-2zm-8 0zm2 0zm-13-1zm17-1zm-2 0zm3-1zm0 0zm-17-1zm3-2zm16-1zm-9 0zm16-1zm-19-1zm25-2zm-10 0zm-4 0zm-6-1zm15 0zm7 0zm-32 0zm5 0zm26-2zm-36 0zm8-5zm20-1zm-21-1zm9-1zm18-1zm0-2zm-33-1zm0-1zm2 0zm25 0zm5-1zm-4 0zm-6-1zm1-1zm-22 0zm8 0zm2 0zm2-1zm16-1zm1 0zm-10 0zm15-2zm-36-1zm4 0zm-2 0zm4-4zm0 0zm9 0zm-9-1zm-4 0zm26 0zm-18-1zm3-1zm19-2zm-29-1zm23 0zm9 0zm-27-1zm4 0zm12-2zm-14-1zm12-1zm-18-4zm0 0zm10-1zm6 0zm-14 0zm17-1zm-9 0zm29 91zm-2 7zm-1 4zm3 3zm3 4zm2 2zm-1 0zm1 0zm-3 0zm4 1zm-3 1zm-5 0zm6 1zm2 2zm-3 1zm4 3zm-2 1zm9 2zm-6 1zm0 1zm4 2zm-4 1zm5 1zm-5 1zm-2 1zm9 1zm-3 1zm1 1zm-2 1zm3 3zm5 6zm-1 0zm-1 1zm-1 2z" stroke="#53B400" stroke-width="3.6"/><path d="M229 1071zm-1 0zm0-2zm-4 0zm2-5zm-2-4zm4-2zm-7-5zm-3-2zm3-3zm-3-1zm2 0zm7-1zm-12 0zm13 0zm-5-1zm5 0zm-4-1zm-4-1zm2 0zm-21-1zm15-1zm-6 0zm5 0zm7-1zm-13-1zm1 0zm6-1zm3 0zm2 0zm-8-1zm-3-2zm-7 0zm114 154zm-6-6zm4-5zm-5-5zm7-1zm-4-2zm-6-1zm5-1zm0-5zm0-6zm-4-1zm3 0zm4-5zm-5-1zm2-1zm-2-1zm3 0zm5-3zm-3-1zm-6-4zm9-1zm-3-3zm3-7zm28-100zm-1 2zm4 6zm1 1zm0 0zm0 2zm1 2zm1 6zm-3 0zm1 2zm-2 4zm3 2zm0 0zm0 3zm0 1zm-1 0zm-2 1zm1 2zm-1 4zm3 4zm0 0zm-1 2zm-1 0zm-1 0zm1 5zm-1 1zm3 0zm-1 1zm1 3zm-1 4zm4 9zm-2 0zm-3 1zm10 0zm-4 1zm-15 3zm6 2zm6 1zm-10 3zm17 1zm-12 1zm-17 0zm0 1zm14 0zm-11 0zm21 0zm-4 0zm9 1zm-11 0zm-15 0zm16 1zm-22 2zm3 0zm16 0zm10 0zm-4 0zm-1 1zm-17 1zm0 1zm-7 0zm30 1zm-15 0zm-11 1zm4 0zm5 2zm-2 0zm10 0zm-6 0zm-19 1zm19 0zm-18 2zm35 1zm-13 1zm5 0zm-18 0zm2 1zm-5 0zm-8 0zm14 1zm-6 1zm22 0zm-2 1zm-3 0zm-9 0zm-1 1zm15 1zm-29 1zm22 0zm-9 1zm16 0zm-2 2zm8 0zm-20 1zm6 2zm-7 0zm-4 1zm7 1zm17 1zm0 0zm-36 0zm18 0zm-5 0zm8 1zm-1 1zm-16 1zm13 1zm-1 1zm-5 2zm-11 0zm22 0zm-23 1zm31 0zm-26 0zm-5 0zm31 3zm-2 0zm5 2zm-31 0zm7 0zm10 0zm13 1zm-11 0zm13 0zm-10 2zm-22 2zm33 1zm-3 0zm-6 1zm0 0zm-25 2zm18 0zm13 1zm-17 2zm-13 0zm18 2zm12 0zm-16 0zm18 1zm-20 2zm-4 1zm-3 2zm31 1zm-8 1zm7 3zm-34 0zm12 2zm-8 1zm-1 0zm8 2zm-4 0zm16 2zm-25 1zm14 1zm3 1zm8 1zm4 0zm-3 0zm11 1zm-38 0zm8 0zm-1 2zm12 0zm-18 1zm17 1zm6 2zm4 1zm-2 2zm-14 0zm17 1zm-23 0zm-7 0zm27 1zm9 0zm-31 0zm10 0zm5 1zm-4 1zm-4 0zm25 0zm-37 0zm37 1zm-36 0zm36 0zm-5 2zm2 0zm-10 2zm-1 0zm-20 1zm8 0zm11 1zm1 1zm-15 0zm21 0zm-21 0zm3 1zm-3 0zm-4 0zm29 0zm-11 1zm-5 1zm-1 1zm-10 1zm5 0zm22 1zm-8 3zm1 2zm15-7zm3-4zm-1 0zm5-3zm-7 0zm7 0zm-1 0zm0-4zm-6-3zm8-2zm-3-4zm1-2zm-4 0zm-2-1zm2-2zm4 0zm-1 0zm-2-2zm5 0zm5-1zm-7 0zm9 0zm1-1zm-5-5zm-4-2zm-3-2zm14 0zm-5-1zm7 0zm3-2zm-19-1zm14-2zm-9 0zm11-1zm3-1zm-8 0zm-14-1zm25-2zm-25 0zm3-1zm24 0zm-24-3zm9-1zm0-1zm-13 0zm2-1zm9-1zm13-3zm-11 0zm-14-2zm20-1zm-13-1zm-4-1zm0 0zm1-1zm-1-1zm-1 0zm11-2zm7-4zm7-2zm-16 0zm-9-3zm12-3zm-13-1zm24-2zm-6 0zm4-2zm7-2zm-18 0zm7-2zm16 0zm-8-1zm11 0zm-36 0zm12-1zm21-1zm-17 0zm-12 0zm-3-3zm12 0zm14-2zm-3-1zm9 0zm-10-1zm-9 0zm-11 0zm15-3zm-16 0zm9-1zm-4 0zm6-2zm15-1zm-16 0zm18 0zm-20 0zm11 0zm8-1zm-13-1zm-10 0zm20-1zm8 0zm-22-1zm-5-1zm2 0zm3-3zm12 0zm-11-2zm9-1zm0-9zm-1 0zm-5 0zm12 0zm-3-1zm4 0zm-16-1zm17 0zm-5-1zm-2 0zm-1-1zm-7-1zm0 0zm17-1zm-4-1zm-6-1zm-1 0zm-1 0zm11-7zm6-3zm-13 0zm13-2zm-22 0zm14-2zm4 0zm-9 0zm12-1zm-5 0zm-5 0zm-1-1zm-6 0zm6-1zm-4 0zm-1-2zm8 0zm-3 0zm-2 0zm-1 0zm3 0zm7-3zm-5 0zm-3-1zm8-2zm-11-3zm5 0zm0-1zm-4 0zm7-1zm-2-2zm3 0zm-3 0zm1-2zm4-1zm-3-1zm0-1zm-5-1zm2-1zm8 0zm-9-1zm3 0zm-5-2zm8 0zm-3 0zm0-1zm0 0zm0-2zm3 0zm-6 0zm9-2zm-9-1zm5-1zm8 20zm2 12zm2 9zm1 5zm-4 17zm3 7zm4 6zm1 1zm4 1zm-6 3zm1 1zm4 2z" stroke="#F8766D" stroke-width="3.6"/><path d="M344 1011zm-3 1zm-2 3zm4 1zm2 1zm0 5zm1 1zm-2 0zm-1 2zm1 1zm5 0zm-3 6zm-1 1zm2 4zm-2 4zm1 1zm5 14zm-3 0zm-1 1zm3 6zm-2 0zm1 3zm5 8zm-2 1zm0 4zm0 2zm1 1zm0 3zm3 2zm-3 0zm113-183zm3-1zm-2-2zm-3 0zm4-3zm-3-2zm0-1zm-1-5zm-3-2zm0-2zm0-2zm0-1zm2-1zm-2 0zm0 0zm-3-1zm0 0zm3-1zm-5-3zm5 0zm-2-1zm0 0zm-2-1zm1-1zm-3-5zm3 0zm-2-1zm-3-7zm2-1zm-3-4zm-2-2zm4 0zm-1 0zm0 0zm0-1zm-1-1zm0 0zm1-1zm1-2zm-3-2zm0-1zm-2-4zm5 0zm-4-1zm-1-3zm1 0zm-3 0zm0-2zm2-6zm0-1z" stroke="#00C094" stroke-width="3.6"/><path d="M215 1057zm-5-1zm-2-3zm4 0zm1-1zm-1-1zm-1 0zm-4-1zm3-3zm-3-5zm128 32zm2 3zm-5 0zm4 1zm1 4zm-1 0zm0 1zm3 0zm-2 3zm2 1zm0 2zm4 1z" stroke="#C49A00" stroke-width="3.6"/><path d="M239 1138zm-3-2zm3-3zm-2-6zm15-20zm-7 2zm8 1zm-8 1zm-1 1zm2 1zm0 0zm1 1zm2 1zm1 0zm-8 0zm-2 1zm1 1zm3 1zm1 2zm4 0zm-5 0zm-1 0zm6 1zm2 2zm-3 1zm2 0zm-8 1zm-1 0zm0 1zm1 0zm8 1zm-8 1zm3 2zm-2 1zm-3 0zm2 3zm3 2zm-4 0zm2 1zm-2 1z" stroke="#C49A00" stroke-width="4"/></g>
<g transform="scale(0.25)" fill="none" stroke-linecap="round"><path d="M183 902zm-16 1zm15 0zm-2 0zm-1 2zm-8 2zm21 1zm0 0zm-28 1zm15 1zm8 0zm-17 7zm27 1zm-7 7zm3 3zm-6 4zm-20 1zm10 7zm7 1zm-11 2zm18 5zm-6 11zm-2 7zm3 1zm4 1zm0 1zm-3 9zm-1 2zm10 36zm4 5zm5-8zm24 0zm-22-6zm23-1zm-23-6zm2 0zm-4-9zm1-11zm33-10zm-1-5zm0-4zm-37-1zm10-11zm-2-15zm5-2zm-9-5zm3-10zm6-5zm-10-4zm8-1zm38 37zm2 9zm3 12zm-3 11zm-6 1zm2 4zm27 1zm-4 0zm-27 5zm-2 1zm-2 1zm37 3zm-9 1zm2 7zm-2 1zm3 4zm5 14zm39 35zm4-8zm-6-17zm-12 0zm11-3zm-2-4zm-19-1zm23-1zm-5-4zm-21-3zm-3-6zm12-4zm19-1zm-22-5zm-7-1zm32 0zm-8-1zm-10-3zm13-1zm-20-6zm19-1zm-32 0zm1-1zm9-2zm17-10zm-8-1zm-18-5zm11-13zm2 0zm40-231zm7 3zm13 0zm-17 15zm-6 2zm-11 1zm35 0zm-25 4zm9 0zm0 0zm0 1zm1 0zm12 1zm-18 2zm-1 0zm3 0zm-3 1zm3 2zm-13 1zm12 1zm1 2zm-17 1zm17 0zm-7 1zm6 0zm2 0zm-6 1zm7 0zm-11 1zm7 0zm7 1zm-9 1zm7 1zm19 0zm-36 4zm28 78zm-14 5zm8 6zm14 1zm-28 7zm0 2zm13 0zm-6 2zm15 2zm-5 0zm-4 0zm11 15zm-20 3zm18 1zm-6 10zm-3 5zm0 11zm12 1zm-1 4zm-7 23zm-22 105zm67-16zm4-13zm-1-4zm-6-2zm-10-11zm13-1zm6-4zm-18-16zm18-1zm-20-11zm11 0zm-17-6zm21 0zm-22 0zm-2-1zm22-8zm-12-4zm13-8zm2 0zm-3-5zm-13 0zm13-1zm0-1zm-8-2zm12 0zm-15-3zm5-4zm-17-10zm7-7zm-11-3zm4-1zm20-8zm-8 0zm-4-3zm-14 0zm-1-3zm1-2zm30-1zm-3-8zm5-2zm-15-1zm15-2zm-1-2zm-4 0zm-13-2zm13-3zm-4-2zm-25-3zm0-3zm15-1zm16 0zm-3-1zm3-13zm-4-12zm-7-4zm-20-71zm9 0zm-9-3zm10-2zm-9-3zm3-7zm-3-3zm8-17zm33 212zm18 12zm-4 4zm-8 0zm20 1zm-15 6zm0 4zm-3 0zm0 2zm20 9zm-19 1zm2 2zm13 2zm5 2zm-31 3zm32 0zm-12 2zm10 9zm8 1zm-2 2zm-8 1zm-14 5zm-8 1zm18 1zm21-31zm22-53zm6-23zm5-73zm-24-4zm12-4zm-8-7zm15-7zm0 0zm-24-5zm-8-8zm12-7zm-5-3zm11 0zm21 13zm3 11zm3 12zm-4 95zm8 13zm-7 2zm6 2z" stroke="#fff" stroke-width="3.2" stroke-opacity="0.85"/></g>
<g transform="scale(0.25)" fill="none" stroke-linecap="round"><path d="M356 1098zm2 3zm16 92zm-3-4zm-2-5zm2-1zm-1 0zm0-1zm4-2zm3-8zm1-1zm1-1zm-6 0zm10 0zm-2-1zm-13-6zm4 0zm2-1zm10-2zm5-1zm-24-1zm0-3zm23-1zm-20 0zm-1 0zm16-2zm4 0zm1-3zm2 0zm-15-2zm-3-1zm11 0zm-6 0zm17-1zm-18 0zm9 0zm5-1zm-24-1zm12-1zm-9-1zm4-2zm14 0zm-4-1zm9-1zm-10-1zm10-2zm-13-2zm-6 0zm10-2zm-14-1zm5 0zm-3-1zm-1 0zm25 0zm-10-3zm-17 0zm5-2zm-5 0zm27-1zm-17-1zm14-1zm-19 0zm7-2zm-2 0zm0 0zm8-1zm-20-1zm8 0zm25-1zm-32 0zm-3-1zm2-1zm10-1zm18 0zm-1-1zm-21-1zm-9 0zm11 0zm13 0zm10-1zm-31 0zm24-1zm-29-2zm33 0zm-2-2zm1 0zm-33 0zm25-1zm3-1zm-5 0zm-12-2zm20 0zm-16-1zm1 0zm7-1zm-6 0zm16-2zm-24 0zm6-1zm8-1zm-16 0zm19 0zm-12-1zm11 0zm0-1zm-3-3zm-11-2zm17-1zm5-1zm-1-1zm1-2zm-4-1zm8-3zm-1 0zm-1-1zm-14-1zm15-1zm2-5zm-3-1zm-11-2zm3-1zm-5-4zm12-1zm-9 0zm6-2zm6-3zm-12 0zm12-1zm3 31zm2 12zm13 1zm-13 2zm5 3zm0 1zm-6 0zm6 1zm0 1zm4 1zm-10 1zm14 0zm-12 1zm9 2zm-9 2zm6 2zm1 1zm-8 0zm1 3zm6 1zm0 4zm-4 4z" stroke="#00C094" stroke-width="3.2" stroke-opacity="0.9"/></g>
<path d="M33.5 170.3V312.4H128.5" stroke="#333" stroke-width=".8" fill="none"/>
<path d="M31.1 202.6H33.5M31.1 251.6H33.5M31.1 300.6H33.5M54.6 312.4V314.8M84.6 312.4V314.8M114.6 312.4V314.8" stroke="#333" stroke-width=".7" fill="none"/>
<g font-size="8.8" fill="#1a1a1a" stroke="#1a1a1a" stroke-width=".18">
<text x="29.2" y="206.1" text-anchor="end">10</text>
<text x="29.2" y="255.2" text-anchor="end">0</text>
<text x="29.2" y="304" text-anchor="end">−10</text>
<text x="54.2" y="323.2" text-anchor="middle">−10</text>
<text x="84.6" y="323.2" text-anchor="middle">0</text>
<text x="114.6" y="323.2" text-anchor="middle">10</text>
</g>
<text x="87.3" y="333.5" font-size="9" text-anchor="middle" fill="#111" stroke="#111" stroke-width=".18">UMAP_1</text>
<text x="17.7" y="233.6" font-size="9" text-anchor="middle" fill="#111" stroke="#111" stroke-width=".18" transform="rotate(-90 17.7 233.6)">UMAP_2</text>
<text x="208" y="205.4" font-size="9.1" text-anchor="middle" fill="#111" stroke="#111" stroke-width=".18">GSE151530</text>
<text x="208.6" y="217.3" font-size="9" text-anchor="middle" fill="#111" stroke="#111" stroke-width=".18">50,023 HCC cells</text>
<rect x="142.1" y="225.5" width="121.1" height="86.8" fill="#fff" stroke="#cfcfcf" stroke-width=".8"/>
<circle cx="152.3" cy="235.2" r="3" fill="#F8766D"/>
<text x="159.6" y="238.1" font-size="7.95" fill="#111" stroke="#111" stroke-width=".18">T cells (N= 17348)</text>
<circle cx="152.3" cy="246.4" r="3" fill="#C49A00"/>
<text x="159.6" y="249.3" font-size="7.95" fill="#111" stroke="#111" stroke-width=".18">B cells (N= 1854)</text>
<circle cx="152.3" cy="257.8" r="3" fill="#53B400"/>
<text x="159.6" y="260.7" font-size="7.95" fill="#111" stroke="#111" stroke-width=".18">TAMs (N= 4616)</text>
<circle cx="152.3" cy="269.2" r="3" fill="#1fbfb0"/>
<text x="159.6" y="272.1" font-size="7.95" fill="#111" stroke="#111" stroke-width=".18">Unclassified (N= 7088)</text>
<circle cx="152.3" cy="280.6" r="3" fill="#00B6EB"/>
<text x="159.6" y="283.5" font-size="7.95" fill="#111" stroke="#111" stroke-width=".18">Malignant cells (N= 15723)</text>
<circle cx="152.3" cy="292.0" r="3" fill="#A58AFF"/>
<text x="159.6" y="294.9" font-size="7.95" fill="#111" stroke="#111" stroke-width=".18">TECs (N= 2338)</text>
<circle cx="152.3" cy="303.2" r="3" fill="#FB61D7"/>
<text x="159.6" y="306.1" font-size="7.95" fill="#111" stroke="#111" stroke-width=".18">CAFs (N= 1056)</text>
<text x="273.5" y="175.2" font-size="18.4" font-weight="bold">c</text>
<path d="M324.3 209.8V300.8M340.3 215.2V300.8M356.3 224.1V300.8M372.4 208.9V300.8M388.6 200.9V300.8M404.7 180.3V300.8M421.0 226.3V300.8" stroke="#777" stroke-width=".6" fill="none"/>
<path d="M397.1 301.8L398.1 298.3L403.1 289.4L404.1 275.4L404.0 250.1L404.2 224.7L404.5 180.3L404.9 180.3L405.2 224.7L405.4 250.1L405.3 275.4L406.3 289.4L411.3 298.3L412.3 301.8Z" fill="#A58AFF" stroke="#6a55c8" stroke-width=".5"/>
<path d="M317.7 301.2H330.9M333.7 301.2H346.9M349.7 301.2H362.9M365.8 301.2H379.0M382.0 301.2H395.2M414.4 301.2H427.6" stroke="#666" stroke-width="1" fill="none"/>
<g transform="scale(0.25)" fill="none" stroke-linecap="round"><path d="M1278 1178zm1-28zm-1-1zm-4-7zm4 0zm0-2zm1-1zm0 0zm-1-3zm-2-8zm3-6zm0-1zm-6-6zm4-3zm-4-2zm5-1zm-1-7zm2-1zm0-2zm-1-1zm-4-1zm-1-4zm0 0zm2-1zm0-3zm4-2zm-3 0zm-1-1zm2-4zm-5-1zm6-3zm-1 0zm-5-4zm3-1zm-1 0zm-1-2zm4 0zm-5 0zm3-1zm3 0zm-3-2zm3-3zm-3 0zm-1-1zm-2 0zm3-2zm-1-1zm2 0zm-2-3zm3 0zm0-1zm-3-1zm1 0zm2 0zm2-3zm-2-1zm1-1zm0-1zm-4-2zm4 0zm-5-1zm5 0zm-3-1zm0-1zm1-1zm2-2zm1-2zm0-1zm-5 0zm-2-2zm3-6zm2 0zm0-4zm-3-2zm0-2zm2-3zm-2 0zm0 0zm5-2zm-5-4zm0-2zm1-3zm3-1zm-4-3zm2-4zm0-6zm1 0zm-1-4zm1-1zm-1-1zm-1-2zm4-8zm-1-1zm-3-2zm0-2zm-1-1zm3-11zm-5-3zm4-1zm0-10zm0-2zm-1-2zm-2-16zm1-9zm23-62zm12 7zm-10 2zm3 12zm2 1zm-17 13zm-5 4zm2 13zm0 3zm22 4zm-26 1zm17 1zm9 3zm10 0zm-23 3zm15 0zm4 4zm-11 0zm1 4zm-22 0zm22 4zm-12 2zm7 1zm-5 0zm-5 0zm32 2zm-10 1zm-3 1zm-17 2zm20 1zm-25 2zm30 2zm-4 1zm-10 2zm-11 0zm8 0zm19 2zm3 3zm-38 1zm31 1zm-26 1zm-5 1zm5 0zm27 0zm-21 0zm23 1zm-13 0zm15 1zm-6 2zm-6 1zm13 1zm-19 0zm8 0zm3 1zm-25 1zm32 1zm-27 1zm22 0zm-12 1zm10 0zm-17 2zm25 0zm-5 1zm-13 1zm14 1zm-28 1zm25 0zm1 0zm-7 0zm-16 0zm-8 0zm23 1zm-2 0zm7 0zm6 1zm-28 0zm13 1zm-1 0zm14 1zm-19 0zm18 0zm-14 1zm12 0zm-22 1zm29 0zm1 0zm-3 0zm-19 1zm11 0zm-27 0zm1 1zm25 0zm6 1zm-30 0zm26 1zm-23 0zm28 0zm-23 1zm21 1zm-25 0zm5 1zm25 1zm-32 0zm34 0zm-1 1zm-27 0zm19 0zm8 1zm-17 0zm12 0zm-29 0zm14 0zm-4 1zm6 1zm1 0zm-3 0zm-16 0zm26 1zm-18 0zm9 0zm-8 0zm-10 1zm9 1zm21 0zm6 0zm-17 1zm4 0zm-23 0zm17 0zm-14 0zm35 1zm-20 0zm-18 0zm38 0zm-5 0zm3 1zm-26 0zm-5 0zm24 0zm-1 1zm-10 0zm18 0zm-28 0zm16 0zm8 1zm-25 0zm2 0zm10 0zm-10 0zm-1 0zm28 1zm-20 0zm2 1zm-10 0zm10 0zm19 0zm-15 1zm13 0zm-26 0zm-7 0zm19 1zm3 0zm-1 0zm-13 0zm-4 1zm8 0zm5 0zm16 0zm1 0zm-32 1zm4 0zm8 0zm2 1zm2 0zm15 1zm-14 1zm-16 0zm8 0zm23 1zm-7 0zm-25 0zm1 0zm-2 1zm29 0zm-11 0zm-7 0zm7 0zm-13 2zm20 0zm-17 0zm20 1zm-25 0zm31 0zm-5 1zm-29 0zm25 0zm-8 0zm2 0zm17 0zm-36 1zm33 1zm-31 1zm7 0zm18 0zm-21 1zm-3 0zm28 0zm-29 0zm12 0zm-10 1zm26 0zm-3 0zm-20 0zm16 0zm-26 1zm9 0zm24 1zm3 0zm-19 0zm-4 1zm20 0zm-17 0zm-15 0zm9 0zm8 0zm-17 0zm25 0zm-6 0zm-9 0zm15 0zm6 1zm7 0zm0 0zm-28 0zm8 1zm-4 0zm15 0zm-30 0zm14 1zm25 0zm-21 0zm-12 1zm27 0zm5 0zm-23 0zm12 0zm-26 1zm37 0zm-23 0zm-2 0zm1 0zm0 0zm14 0zm-5 1zm-9 0zm12 0zm11 0zm-37 1zm16 0zm-9 0zm25 0zm-31 1zm1 0zm37 0zm-26 0zm-10 1zm34 0zm-20 1zm-12 0zm19 0zm-21 1zm31 0zm-28 0zm-3 0zm26 0zm-16 0zm-1 0zm14 0zm4 1zm-15 0zm-9 0zm33 0zm-37 2zm8 0zm29 0zm-39 0zm0 0zm2 1zm36 0zm-17 0zm8 0zm-25 1zm21 0zm-21 0zm11 0zm-3 0zm-8 0zm27 1zm-15 0zm7 0zm8 1zm-12 0zm2 0zm-9 0zm17 0zm-10 1zm18 0zm-25 0zm21 0zm-29 0zm3 1zm30 0zm-25 1zm23 0zm-1 0zm-10 0zm12 0zm-5 0zm1 0zm2 1zm2 0zm2 0zm-33 0zm8 0zm-10 0zm0 0zm20 1zm5 0zm8 0zm-15 0zm1 0zm-6 1zm-9 0zm32 1zm-4 0zm-8 0zm-7 0zm5 0zm-24 0zm13 1zm8 0zm7 0zm-18 0zm17 1zm-27 0zm33 0zm-17 0zm7 0zm-5 1zm7 0zm-26 0zm13 1zm-5 0zm-7 1zm28 0zm8 0zm-33 0zm20 0zm9 0zm-7 0zm11 1zm-11 0zm-6 0zm-5 0zm16 0zm8 0zm-24 0zm1 0zm8 0zm-10 1zm-6 0zm-7 0zm26 0zm-3 0zm15 0zm-36 0zm25 0zm-11 1zm16 0zm-20 1zm10 0zm-13 1zm-6 2zm4 0zm25 0zm-27 0zm20 1zm9 0zm-9 1zm-26 0zm39 0zm-30 0zm-2 0zm25 0zm-25 0zm26 0zm-27 0zm6 1zm18 0zm-29 0zm11 1zm-11 0zm4 0zm25 0zm1 1zm6 0zm-27 0zm15 1zm-10 0zm8 0zm-2 0zm16 0zm-33 1zm12 0zm-14 0zm7 1zm-3 0zm0 0zm21 0zm-4 0zm-20 0zm34 1zm-26 0zm22 0zm-24 0zm-6 1zm31 0zm-8 0zm10 0zm-24 0zm2 0zm15 0zm-12 1zm17 0zm-10 0zm-14 1zm7 1zm10 0zm-22 0zm-3 0zm10 0zm-9 0zm5 0zm21 1zm6 0zm-2 0zm-13 0zm1 0zm13 0zm-22 2zm-2 0zm10 0zm5 0zm-15 0zm22 0zm-11 0zm8 0zm-5 1zm15 0zm-4 0zm-12 0zm11 0zm-26 1zm-3 0zm-4 0zm11 0zm4 1zm17 0zm0 0zm1 0zm-15 1zm-9 0zm1 0zm12 1zm-9 0zm-10 0zm11 0zm-14 1zm30 0zm-26 1zm31 0zm-12 0zm-2 0zm-5 0zm-11 1zm29 0zm-17 0zm-18 0zm16 0zm-16 0zm6 0zm-3 0zm-3 1zm23 0zm-14 0zm16 0zm-2 1zm-11 0zm12 0zm8 0zm-18 0zm17 1zm0 1zm3 0zm2 0zm-19 0zm-10 1zm3 0zm14 0zm9 1zm-15 0zm12 1zm-8 0zm-8 0zm-8 1zm24 0zm7 0zm-9 0zm-26 1zm-1 1zm38 0zm-29 1zm22 1zm-28 0zm26 0zm6 0zm0 1zm-18 0zm21 1zm-14 0zm-13 0zm-7 1zm33 0zm-13 0zm-9 1zm5 0zm13 0zm-22 0zm26 0zm-16 1zm-14 0zm9 0zm-13 0zm30 2zm-30 1zm25 0zm-28 0zm3 0zm22 0zm-26 1zm4 1zm3 0zm29 0zm0 0zm-31 1zm2 0zm-1 1zm33 0zm-4 1zm1 1zm-21 0zm8 0zm3 0zm12 1zm1 2zm-17 0zm5 0zm5 1zm-10 1zm-3 0zm-2 0zm14 0zm2 1zm-3 0zm-5 1zm-6 1zm2 0zm-12 1zm10 0zm9 0zm8 1zm2 0zm-4 0zm0 1zm-19 0zm13 1zm-9 1zm16 0zm-32 1zm31 1zm-10 0zm-10 1zm12 0zm-6 1zm-19 0zm6 0zm7 1zm13 0zm-11 1zm-16 1zm1 0zm13 0zm-13 0zm1 1zm1 2zm27 0zm-28 2zm6 0zm30 0zm-19 2zm-19 1zm3 1zm26 1zm-11 1zm13 1zm6 1zm-25 1zm26 0zm-33 1zm4 1zm3 1zm15 5zm-24 0zm20 2zm-13 0zm18 1zm-26 1zm26 1zm-25 0zm16 1zm17 0zm-29 3zm-4 1zm17 3zm1 2zm6 2zm-13 2zm18 3zm7 1zm-30 2zm-8 0zm32 1zm6 2zm-14 6zm43-2zm-5-6zm-6-1zm17 0zm-1-9zm1-1zm-16-6zm18-1zm-12-7zm-4-1zm4-1zm8-3zm7-1zm-22 0zm22-2zm-1-3zm-12-2zm2-5zm8-2zm-36-6zm27-3zm-1 0zm4-5zm4-1zm-9 0zm8-1zm-4-1zm-10 0zm-19-1zm37-1zm0 0zm-1-2zm-35-1zm0 0zm24-2zm4-2zm6-2zm-2-1zm-31-1zm32-1zm-34-1zm37 0zm-35-1zm23-2zm-24-1zm23-2zm-22-1zm24 0zm-1 0zm-8 0zm22-1zm-39-1zm2 0zm18 0zm-18-6zm-1 0zm1-5zm32 0zm-5-1zm3 0zm-31-1zm1-1zm-2 0zm24-2zm-24-2zm2 0zm34 0zm3 0zm-7 0zm-32-2zm35 0zm-34-4zm35 0zm-7-1zm-29-4zm22-1zm-21-2zm33-4zm-33-1zm0 0zm0 0zm32-1zm-32-2zm-1 0zm2-2zm18 0zm2-3zm-21-2zm19-3zm-19-2zm1-2zm0-2zm19 0zm-21-1zm29 0zm-9-2zm2-4zm-20-1zm-1-2zm-1-2zm2-3zm15-2zm-17-2zm0-1zm2 0zm21-1zm-22-13zm-1-8zm2-1zm0-9zm0-4zm-1-6zm1-6zm0-6zm36-14zm-37-4zm1-3zm-2-8zm27-1zm-4-5zm-2-20zm26 72zm14 30zm-5 6zm-1 4zm0 1zm-3 8zm-9 7zm-3 9zm15 1zm-11 3zm-3 1zm21 4zm-21 12zm21 3zm-7 0zm10 2zm-19 2zm3 2zm-4 0zm-3 1zm4 3zm11 0zm-10 0zm-6 3zm0 7zm3 10zm17 1zm-1 0zm6 1zm-22 2zm21 0zm-18 8zm6 1zm-13 0zm10 1zm4 6zm1 4zm-2 2zm-9 2zm0 1zm6 1zm-10 3zm5 2zm4 4zm6 3zm0 4zm-15 1zm18 1zm3 0zm3 1zm-9 2zm-12 3zm18 0zm-1 1zm3 2zm-17 0zm20 1zm-16 2zm-10 3zm24 14zm-18 0zm12 0zm-11 1zm5 3zm1 1zm-5 6zm43 4zm21-4zm-32-3zm2-3zm1 0zm0-3zm1-1zm3-1zm32 0zm-4-1zm0-1zm-12-3zm0 0zm5-3zm-16 0zm-3-1zm-2 0zm26-5zm-28-2zm-3-3zm37 0zm-25-1zm-10-1zm-2-1zm20 0zm15-1zm-19 0zm14-2zm-13-2zm16 0zm-2-1zm0-3zm-28 0zm26 0zm-20-1zm3 0zm22-2zm-11 0zm-13 0zm27-1zm-11-1zm-25-1zm22-2zm6-1zm2-2zm3-1zm-35-1zm15-1zm16-2zm-16 0zm11-1zm8 0zm-12-1zm-16 0zm12-1zm9 0zm0-1zm-21 0zm14-1zm9-1zm-20-2zm16 0zm-11-3zm-6-3zm-3 0zm17 0zm11-3zm0-1zm-5-2zm8-1zm-18-2zm-12-4zm21-1zm-2-5zm-17-2zm16 0zm-20 0zm11 0zm10-2zm6-1zm-24 0zm20-1zm-8 0zm-7-1zm1-1zm-2-3zm-4-1zm5-2zm3-2zm13-1zm5 0zm-2-1zm-3-1zm6-4zm-24-1zm21-1zm-24-1zm27-11zm-15-3zm0-14zm-4-11zm-11-6zm4-3zm18-15zm-20-4zm17-5zm-18-16zm18-56zm48-94zm-2 37zm-26 31zm29 12zm5 5zm-10 21zm7 4zm-1 8zm-6 14zm10 1zm-10 1zm6 4zm3 0zm-7 0zm0 4zm8 11zm-4 7zm5 0zm-11 3zm2 0zm-1 1zm-5 0zm13 2zm-11 1zm12 3zm-2 0zm-8 0zm-2 3zm2 4zm6 2zm-9 1zm3 2zm-1 2zm9 0zm-4 1zm5 2zm0 5zm2 1zm-7 1zm-3 0zm4 3zm-6 0zm12 2zm-5 1zm-8 1zm11 1zm-7 3zm3 2zm5 1zm-35 2zm0 1zm23 0zm-1 0zm5 0zm3 1zm2 6zm-9 0zm2 0zm5 1zm-4 0zm-5 2zm-16 1zm31 0zm-1 0zm-4 0zm-6 1zm2 0zm-4 3zm8 1zm5 4zm-7 2zm4 1zm-27 1zm20 1zm9 0zm-12 0zm-22 1zm34 0zm-10 1zm-22 1zm22 1zm7 1zm-10 0zm12 1zm-8 1zm2 0zm1 1zm-6 1zm-23 1zm30 0zm-27 1zm20 0zm-1 0zm3 1zm-20 2zm24 2zm-5 0zm3 0zm-4 0zm11 1zm-4 0zm-1 3zm-3 1zm3 0zm7 1zm-5 0zm1 2zm0 0zm-26 1zm20 0zm-3 1zm0 0zm12 0zm-3 1zm2 2zm-30 1zm23 1zm-5 0zm14 1zm-39 1zm33 0zm-33 2zm35 0zm-10 0zm9 1zm-2 0zm-1 0zm-1 5zm9 1zm-12 5zm10 1zm-30 3zm27 0zm2 0zm-11 0zm13 3zm-2 0zm-9 1zm-26 1zm29 1zm-27 1zm33 3zm-6 0zm-5 1zm9 0zm-2 2zm7 1zm0 0zm0 0zm-33 1zm1 3zm20 1zm9 0zm-5 0zm-21 1zm15 0zm-19 2zm33 0zm-14 1zm-18 1zm23 0zm1 3zm-24 2zm19 2zm9 1zm-4 4zm-5 0zm-23 4zm26 1zm-22 1zm0 2zm24 2zm6 2zm0 0zm-35 4zm3 4zm-2 1zm29 0zm-32 2zm28 0zm-2 4zm-24 1zm7 2zm44-3zm-7-3zm7-2zm13-1zm-18-1zm17 0zm-8 0zm-4-4zm1-6zm10 0zm-15 0zm-6-3zm25-2zm-22-2zm15-2zm-6 0zm17 0zm-31-1zm19-1zm12-1zm-22-3zm2-1zm1 0zm8 0zm-14 0zm-3-1zm-2-2zm6-1zm-3 0zm26-5zm-13 0zm5 0zm-8-1zm-8 0zm20-1zm5 0zm-14-1zm-4 0zm11-1zm-4-1zm3 0zm-15-1zm18 0zm-13-2zm-1-1zm3 0zm18 0zm-30 0zm7 0zm14-1zm-6-1zm6 0zm-7-1zm8 0zm-17-2zm-8 0zm16-1zm-4 0zm11 0zm-8-1zm1 0zm16-2zm-10 0zm3-1zm3 0zm-13 0zm-1 0zm12-1zm2 0zm1-1zm-24-1zm17 0zm-11-1zm-2 0zm-9-1zm31-1zm-29 0zm7 0zm4 0zm-6 0zm22 0zm-9-1zm-11 0zm12 0zm-18-1zm19 0zm-5-2zm-4-1zm10-3zm1 0zm-17 0zm18-2zm-26-1zm29-1zm-16-1zm11-2zm-16 0zm18-1zm-5-1zm0-1zm-8 0zm17 0zm-5-1zm-8 0zm6 0zm10-1zm-28-2zm16 0zm-8 0zm5 0zm11-1zm0 0zm-17-1zm2-1zm-7 0zm13-2zm1 0zm-17-1zm0-2zm12 0zm-1-1zm-5 0zm-2 0zm-4-1zm9 0zm11-1zm3-1zm0 0zm-11-1zm-9-1zm23 0zm-6 0zm-8-2zm3-1zm8 0zm4-1zm-9 0zm-17 0zm3-1zm3 0zm-2 0zm12 0zm-13 0zm3 0zm3-1zm-3-1zm-10 0zm30-1zm-6 0zm-10 0zm7-1zm-12 0zm2 0zm-6-2zm27 0zm-15 0zm2 0zm1-1zm-20 0zm7-1zm15-1zm11 0zm-9 0zm-7 0zm-13-1zm-2-1zm0 0zm6-1zm20-1zm-18 0zm13-1zm-15 0zm14 0zm-12 0zm15-1zm-7 0zm-17-1zm9 0zm-3 0zm-1-2zm22 0zm-8 0zm8-1zm5 0zm-11 0zm11-1zm-12 0zm-4 0zm12-1zm-16-1zm-4 0zm13-2zm-17 0zm1-1zm2-1zm21-1zm-22 0zm0-2zm6 0zm16-1zm-10 0zm-14 0zm-1 0zm-3 0zm3 0zm11-2zm-15-1zm9 0zm20 0zm2-2zm-16-1zm-8-1zm4-2zm3 0zm-7-1zm18-2zm7 0zm-25 0zm5-2zm18 0zm-31 0zm26-1zm-20 0zm-5-1zm-1-1zm32 0zm-12 0zm9-1zm5 0zm-7-1zm-27 0zm23 0zm11-1zm-28-1zm-3-1zm24 0zm4-1zm-30 0zm20 0zm7-1zm-12-1zm8 0zm-11-1zm9 0zm-16-1zm14 0zm-6 0zm14-1zm-25-1zm9 0zm-1-1zm-3 0zm-3-2zm16 0zm-20 0zm17-1zm4 0zm-2 0zm2 0zm2-1zm5 0zm-10 0zm-19-1zm31 0zm-14-1zm9 0zm2-1zm-12 0zm4-1zm2-1zm-15-1zm9 0zm2-1zm-16-2zm13 0zm-15-4zm29-1zm-24-1zm10-1zm-9-1zm-6 0zm22-1zm0-3zm7 0zm-16-1zm10-3zm-8 0zm-1 0zm-11-2zm29 0zm1-2zm-2 0zm-30-1zm14-3zm-3-1zm-5-2zm6 0zm-5-2zm16-1zm-16-4zm-8-2zm25 0zm-14-3zm10-1zm7 0zm-1-5zm-4-2zm-14-2zm18-7zm3-3zm-6-3zm-4-2zm-19-8zm29-18zm-15-1zm11 0zm-19-2zm27-1zm-10-4zm0-5zm10-4zm-27-6zm15-7zm-22-18zm30-1zm0-2zm-2-9zm-1-6zm4-2zm39-34zm-5 13zm-3 2zm3 54zm6 12zm1 10zm-18 2zm1 14zm3 6zm10 7zm-7 5zm-7 2zm20 1zm-18 8zm1 5zm3 1zm7 7zm2 3zm-10 1zm19 1zm-27 3zm21 0zm-18 1zm18 2zm-3 5zm-12 2zm17 0zm-7 1zm11 2zm-1 3zm1 0zm-4 5zm-3 2zm-21 6zm7 0zm-4 0zm10 2zm9 0zm-9 2zm12 2zm-19 0zm-3 0zm10 3zm2 1zm-16 1zm5 0zm20 1zm-5 3zm-17 1zm20 1zm-5 0zm9 2zm-9 1zm-16 1zm11 0zm-5 1zm7 0zm-5 1zm17 0zm-21 0zm10 0zm-2 1zm2 0zm-5 1zm3 0zm-11 2zm14 0zm-2 1zm-11 1zm24 3zm1 0zm-5 1zm-23 1zm29 1zm-14 1zm7 0zm4 0zm-18 1zm7 1zm-6 1zm-7 1zm3 2zm7 0zm16 0zm-22 0zm4 1zm7 1zm3 1zm-8 0zm-2 1zm-8 0zm27 1zm-26 0zm22 0zm-8 1zm-15 0zm0 0zm12 0zm5 0zm-15 1zm5 0zm20 2zm-21 0zm13 1zm0 0zm-5 1zm12 0zm-3 0zm-11 1zm10 1zm-8 1zm-10 0zm14 0zm-16 1zm6 0zm4 0zm-14 1zm20 1zm-12 0zm13 0zm-18 0zm1 1zm23 0zm-9 0zm10 0zm-11 1zm-1 0zm11 1zm1 0zm-18 0zm12 0zm-3 1zm-2 1zm6 0zm-4 0zm7 0zm2 0zm-22 1zm7 0zm-9 0zm12 0zm4 1zm-16 0zm8 0zm-9 0zm1 0zm3 1zm1 0zm-9 0zm8 0zm15 0zm1 1zm-5 0zm-10 0zm12 0zm1 0zm-12 0zm-3 1zm2 0zm8 0zm-4 0zm13 0zm0 0zm3 1zm-16 1zm4 0zm4 0zm-2 0zm1 1zm8 0zm-16 0zm16 0zm-11 0zm-8 0zm19 0zm-10 1zm-6 0zm14 0zm1 0zm-25 0zm6 0zm6 0zm-9 0zm-5 1zm24 0zm-9 1zm-5 0zm-5 0zm3 0zm16 0zm0 0zm5 1zm-25 0zm20 0zm-7 0zm-7 1zm11 0zm-21 0zm30 0zm-2 1zm-5 0zm-22 0zm26 0zm2 1zm-6 0zm-6 0zm-16 0zm1 0zm13 0zm-10 1zm-1 0zm11 0zm8 0zm1 0zm5 0zm-20 1zm21 1zm-21 0zm17 0zm4 0zm-6 0zm-12 1zm7 0zm-13 0zm14 0zm-6 1zm-2 0zm2 0zm-3 0zm15 1zm-6 0zm-14 0zm-2 0zm26 0zm-27 0zm10 1zm-11 0zm25 0zm-1 0zm-1 0zm-12 0zm8 1zm-20 0zm15 0zm-15 0zm24 0zm-14 0zm4 0zm4 1zm-11 0zm22 0zm-4 0zm-26 0zm19 0zm4 0zm5 1zm-20 0zm0 0zm-1 0zm-2 0zm4 0zm-5 0zm9 0zm2 0zm-15 1zm12 0zm-5 1zm1 0zm17 0zm-19 0zm-4 0zm14 0zm10 0zm-14 0zm11 0zm6 0zm-22 1zm9 0zm-15 0zm20 0zm-3 1zm0 0zm11 0zm-18 0zm5 1zm10 0zm-10 0zm-4 0zm-9 0zm12 1zm9 0zm-1 0zm-14 1zm-2 0zm4 0zm10 0zm2 0zm-1 0zm-9 0zm-6 0zm5 0zm10 0zm3 0zm2 0zm-25 0zm19 1zm-14 0zm21 0zm-26 0zm27 0zm0 0zm-13 0zm-8 0zm18 0zm-25 1zm5 0zm6 0zm-7 0zm23 0zm-25 0zm15 0zm-11 0zm-6 1zm27 0zm-26 0zm17 0zm-17 0zm22 0zm-6 0zm4 0zm-9 0zm2 0zm7 1zm1 0zm2 0zm-13 0zm3 0zm-6 0zm13 0zm-19 0zm9 0zm11 0zm0 0zm7 0zm-17 0zm-8 1zm17 0zm-9 0zm-7 0zm-1 0zm19 0zm-19 0zm22 0zm-11 0zm5 0zm7 0zm-10 0zm-12 0zm6 1zm-5 0zm17 0zm-6 0zm-1 0zm0 0zm-9 0zm13 1zm-11 0zm15 0zm0 0zm-8 0zm0 0zm-17 0zm15 0zm1 0zm-7 0zm11 0zm-4 0zm-9 1zm0 0zm14 0zm8 0zm-27 0zm0 0zm2 0zm14 0zm7 1zm-10 0zm1 0zm-4 0zm1 0zm17 0zm-19 0zm17 0zm-6 1zm-6 0zm5 0zm-5 0zm8 0zm-18 0zm20 0zm-17 0zm12 0zm-16 0zm24 1zm-9 0zm8 0zm-4 0zm-23 0zm25 0zm-9 0zm1 0zm-6 1zm12 0zm-3 0zm-16 0zm4 0zm11 0zm-18 0zm-1 0zm28 0zm-12 0zm-6 0zm15 0zm0 0zm-25 1zm2 0zm0 0zm-1 0zm19 0zm2 1zm-3 0zm8 0zm-14 0zm-11 0zm13 0zm0 0zm-15 0zm10 0zm7 0zm-8 0zm-8 0zm12 0zm8 0zm-9 1zm9 0zm2 0zm-12 0zm3 1zm15 0zm-9 0zm-18 0zm12 0zm0 0zm15 0zm-21 0zm6 0zm-8 0zm19 0zm-3 1zm-10 0zm-12 0zm9 0zm12 0zm-5 0zm-15 0zm-1 0zm11 0zm0 0zm-8 0zm-1 0zm14 1zm-16 0zm5 0zm17 0zm1 0zm-9 0zm-10 0zm11 0zm-3 0zm11 1zm0 0zm-18 0zm18 0zm-7 0zm-15 0zm26 0zm-12 0zm10 0zm-20 0zm-5 0zm13 0zm-1 0zm6 1zm6 0zm-6 0zm1 0zm0 0zm3 0zm-18 0zm8 0zm7 0zm3 0zm-9 0zm0 0zm-4 0zm1 1zm-4 0zm3 0zm7 0zm-9 0zm5 0zm14 0zm-2 0zm2 0zm-8 0zm-16 0zm10 0zm0 0zm-8 1zm17 0zm-8 0zm1 0zm9 0zm2 0zm-5 0zm-5 0zm-11 1zm8 0zm6 0zm-11 0zm5 0zm-11 1zm22 0zm-21 0zm9 0zm14 0zm3 0zm-1 0zm-2 0zm-11 0zm7 0zm2 0zm-6 0zm2 0zm-12 1zm20 0zm-7 0zm-18 1zm13 0zm3 0zm-3 0zm-8 0zm-7 0zm11 0zm-7 0zm13 0zm1 0zm8 0zm-21 0zm16 0zm-9 0zm0 0zm-9 0zm-3 0zm3 0zm4 1zm-5 0zm11 0zm-4 0zm-8 0zm21 0zm-7 1zm-15 0zm19 0zm-5 0zm-2 0zm13 0zm-25 0zm27 1zm-17 0zm7 0zm10 0zm-11 0zm-15 0zm22 0zm-3 0zm-10 1zm-8 0zm22 0zm-25 0zm27 0zm-3 0zm2 0zm-20 0zm19 1zm-7 0zm-10 0zm7 0zm15 0zm-10 0zm-2 0zm6 0zm-10 0zm16 0zm-19 0zm-7 0zm20 1zm5 0zm-21 0zm11 0zm-16 0zm11 0zm6 0zm10 0zm-19 1zm18 0zm-11 0zm-2 0zm7 0zm-8 0zm15 0zm-10 0zm-1 0zm-18 0zm16 0zm-4 0zm-11 0zm13 0zm-8 0zm9 0zm-8 0zm5 1zm0 0zm7 0zm-1 0zm1 0zm0 0zm-10 0zm-5 0zm20 0zm-22 0zm12 0zm-14 0zm21 0zm-18 0zm25 0zm-27 0zm11 0zm6 0zm-14 1zm19 0zm5 0zm-5 0zm-20 0zm11 0zm15 0zm-25 0zm7 0zm11 0zm-13 0zm19 0zm-11 1zm1 0zm9 0zm-23 0zm5 0zm7 0zm-7 0zm4 0zm-3 0zm-8 0zm7 0zm10 0zm1 1zm-4 0zm-12 0zm-2 0zm17 0zm10 0zm-28 0zm18 0zm7 0zm-13 0zm-1 1zm12 0zm-14 0zm7 0zm5 0zm-3 0zm-2 0zm4 0zm0 0zm-17 0zm3 1zm6 0zm-13 0zm26 0zm-6 0zm-18 0zm0 0zm-2 0zm25 0zm-2 0zm-20 0zm-2 1zm13 0zm-1 0zm7 0zm-12 0zm-6 0zm-2 0zm15 0zm13 0zm-18 0zm-7 1zm9 0zm3 0zm9 0zm-21 0zm23 0zm3 0zm-16 0zm15 0zm-24 1zm9 0zm-8 0zm-5 0zm16 0zm-5 0zm-11 0zm1 1zm8 0zm6 0zm-13 0zm19 0zm-15 0zm-4 0zm21 0zm-9 0zm-13 0zm16 0zm-14 1zm-3 0zm12 0zm-9 0zm24 0zm-11 0zm-4 0zm-6 0zm23 0zm-24 0zm7 0zm10 0zm-5 0zm7 0zm-6 0zm-8 0zm5 1zm-6 0zm-1 0zm17 0zm-25 0zm29 0zm-12 0zm10 0zm-10 0zm6 0zm-19 0zm18 0zm-13 1zm14 0zm-17 0zm-4 0zm9 0zm17 0zm0 0zm0 1zm-18 0zm13 0zm-15 0zm0 0zm-3 0zm10 0zm13 0zm-16 0zm3 0zm6 0zm1 0zm-21 1zm19 0zm-1 0zm-11 0zm-1 0zm4 0zm15 0zm-10 0zm8 1zm3 0zm-23 0zm8 0zm-5 0zm19 0zm-14 0zm-9 0zm24 1zm-4 0zm-2 0zm-4 0zm-9 1zm-2 0zm20 0zm-8 0zm-1 0zm-16 0zm13 0zm15 1zm-16 0zm14 0zm-19 0zm3 0zm-9 0zm6 0zm4 0zm-12 0zm4 0zm1 0zm11 0zm13 0zm-12 1zm-6 0zm11 0zm5 0zm-8 0zm-4 0zm3 0zm-2 0zm-9 1zm-1 0zm-6 0zm15 0zm-2 0zm0 0zm0 0zm8 0zm6 0zm-1 0zm1 0zm-4 0zm-21 0zm24 0zm2 0zm-20 0zm16 0zm-19 0zm14 0zm-3 1zm7 0zm-19 0zm-4 0zm19 0zm-13 0zm8 0zm14 1zm-3 0zm-22 0zm3 0zm22 0zm-17 0zm-9 0zm-1 0zm-1 0zm10 0zm3 0zm3 0zm-2 0zm5 1zm8 0zm-7 0zm6 0zm-10 0zm-7 0zm-2 0zm-3 0zm6 0zm-10 0zm14 0zm5 1zm-4 0zm-8 0zm13 0zm-16 0zm15 0zm-14 0zm2 0zm20 0zm-16 0zm15 0zm-13 0zm-8 0zm13 0zm-8 0zm8 1zm11 0zm-4 0zm-23 0zm3 0zm17 0zm4 0zm-1 0zm-2 0zm6 0zm-30 0zm25 0zm-5 0zm-9 1zm16 0zm-22 0zm0 0zm19 0zm4 0zm-8 0zm2 0zm-13 0zm15 0zm-13 0zm-2 1zm7 0zm2 0zm9 0zm-3 0zm-2 0zm-17 0zm1 0zm10 0zm-3 0zm-6 0zm8 1zm7 0zm-17 0zm21 0zm-19 0zm18 0zm-18 0zm4 0zm-9 1zm18 0zm-6 0zm15 0zm-23 0zm11 0zm-2 0zm6 0zm3 0zm-7 0zm-16 0zm8 1zm-1 0zm17 0zm-20 0zm-2 0zm9 0zm-2 0zm10 0zm6 0zm-25 0zm21 0zm-21 0zm4 0zm-4 0zm29 0zm-23 0zm13 0zm4 1zm-9 0zm2 0zm-2 0zm12 0zm-23 0zm22 0zm3 0zm-24 0zm20 0zm5 0zm-10 0zm-2 0zm-11 0zm-7 1zm13 0zm15 0zm-10 0zm4 0zm-20 0zm13 0zm12 0zm-23 0zm9 0zm4 0zm-14 0zm-1 1zm24 0zm-13 0zm5 0zm-16 0zm21 0zm-2 0zm-6 0zm9 0zm-15 0zm3 0zm4 0zm2 0zm-5 1zm-8 0zm12 0zm-5 0zm-9 0zm27 0zm-21 0zm19 0zm-22 0zm23 0zm0 0zm-6 1zm-6 0zm-10 0zm4 0zm-4 0zm10 0zm2 0zm-14 0zm2 0zm12 0zm-6 0zm-2 1zm18 0zm-23 0zm-3 0zm6 0zm-5 0zm12 0zm5 0zm-17 0zm11 0zm2 0zm-11 0zm9 0zm-6 1zm-2 0zm12 0zm-8 0zm2 0zm-1 0zm3 0zm11 0zm-19 0zm5 1zm5 0zm13 0zm-22 0zm12 0zm8 0zm2 0zm-20 0zm6 0zm-3 0zm-5 1zm16 0zm-18 0zm16 0zm3 0zm-17 0zm20 0zm-25 0zm10 1zm-6 0zm17 0zm-14 0zm-3 0zm16 0zm2 0zm-2 0zm1 0zm-7 0zm12 0zm-6 0zm-19 0zm20 1zm-16 0zm18 0zm-8 0zm10 0zm-22 0zm8 0zm-6 0zm4 0zm10 0zm-6 0zm1 0zm8 0zm5 0zm-10 1zm-4 0zm-13 0zm9 0zm-10 0zm1 0zm23 0zm-10 0zm14 0zm-2 0zm-14 0zm-6 0zm10 0zm-1 0zm-17 0zm22 1zm-8 0zm-13 0zm9 0zm13 0zm4 0zm-25 0zm23 0zm0 0zm-3 0zm-13 0zm0 0zm8 0zm4 1zm-15 0zm8 0zm-5 0zm3 0zm-9 0zm8 0zm-8 0zm4 0zm-3 0zm19 0zm-12 0zm-3 0zm19 1zm-4 0zm2 0zm1 0zm-18 0zm11 0zm8 0zm-13 0zm8 0zm-14 0zm4 1zm-8 0zm20 0zm-20 0zm-3 0zm23 0zm-18 0zm18 0zm-15 0zm12 0zm-20 0zm4 0zm4 0zm1 0zm-1 0zm21 1zm-11 0zm11 0zm-29 0zm19 0zm-7 0zm16 0zm-9 0zm-17 0zm9 0zm1 0zm-7 0zm2 0zm-4 1zm9 0zm4 0zm-9 0zm16 0zm-19 0zm22 0zm-5 0zm-10 0zm-5 0zm11 1zm4 0zm-3 0zm-12 0zm7 0zm-8 0zm-6 0zm9 0zm9 0zm9 0zm-20 0zm3 1zm13 0zm-4 0zm-2 0zm11 0zm-25 0zm7 0zm0 1zm8 0zm7 0zm-18 0zm20 0zm-7 0zm3 0zm2 0zm-2 0zm-19 1zm23 0zm-9 0zm-2 0zm9 0zm0 0zm-7 0zm2 0zm-11 1zm-6 0zm15 0zm-12 0zm8 0zm-8 0zm6 0zm18 0zm-4 0zm-3 0zm-8 0zm12 0zm-1 1zm-11 0zm8 0zm-18 0zm6 0zm-4 0zm-4 0zm21 0zm-21 0zm6 1zm-5 0zm18 0zm2 0zm4 0zm-5 0zm-4 0zm-13 0zm13 0zm-15 0zm9 0zm-9 0zm-2 0zm13 0zm2 0zm4 1zm-3 0zm-12 0zm15 0zm0 0zm-13 0zm-5 0zm21 0zm-13 0zm18 1zm-11 0zm8 0zm-16 0zm5 0zm-1 1zm13 0zm-20 0zm17 0zm-2 0zm-14 0zm0 0zm20 0zm-27 1zm6 0zm16 0zm2 0zm2 0zm-6 0zm-8 0zm15 0zm-4 0zm-11 1zm3 0zm4 0zm10 0zm-12 0zm-2 0zm-15 0zm29 0zm-25 0zm14 0zm-5 0zm8 0zm5 0zm-25 0zm19 0zm-6 1zm-9 0zm10 0zm-13 0zm4 0zm15 0zm3 0zm-16 0zm-1 0zm6 1zm7 0zm3 0zm0 0zm0 0zm3 0zm-12 0zm7 1zm-4 0zm9 0zm2 0zm-24 0zm20 0zm-20 0zm11 0zm-5 0zm0 0zm3 1zm3 0zm9 0zm-24 0zm2 0zm14 0zm9 0zm-10 0zm8 0zm-17 0zm6 0zm-9 0zm19 0zm0 1zm-13 0zm-2 0zm-5 0zm10 0zm-10 0zm12 0zm-13 0zm14 0zm1 0zm11 1zm-14 0zm10 0zm-5 0zm-6 0zm-2 0zm5 0zm4 0zm8 0zm-27 1zm1 0zm17 0zm-9 0zm5 0zm-9 0zm9 0zm3 0zm4 0zm-14 1zm-3 0zm21 0zm-11 0zm5 0zm-11 0zm-1 0zm-6 0zm26 0zm-3 0zm-9 1zm-7 0zm2 0zm-7 0zm27 0zm18 0zm-18 0zm0-1zm9 0zm0 0zm-10 0zm5 0zm13 0zm-10 0zm6 0zm1-1zm-8 0zm6 0zm4 0zm-9 0zm10 0zm-17-1zm8 0zm1 0zm4 0zm4 0zm-12 0zm13-1zm-6 0zm-6 0zm-3 0zm1 0zm-1 0zm-3-1zm10 0zm7 0zm1 0zm-14 0zm5-1zm-9 0zm12 0zm-6 0zm7 0zm-10 0zm6 0zm10 0zm-16 0zm9 0zm5 0zm0 0zm-9 0zm1 0zm-6-1zm15 0zm-3 0zm-6 0zm5-1zm4 0zm-2 0zm-15 0zm4 0zm11 0zm2-1zm-11 0zm-1 0zm8 0zm1 0zm1 0zm-5 0zm-4 0zm6 0zm2 0zm-9 0zm2-1zm11 0zm-10 0zm-10 0zm8 0zm-1 0zm0 0zm3-1zm4 0zm4 0zm1 0zm-11 0zm-8 0zm12-1zm0 0zm6 0zm-18 0zm18 0zm-7 0zm4-1zm-10 0zm9 0zm-10 0zm8 0zm5 0zm-8 0zm-6-1zm13 0zm-6 0zm-9 0zm3 0zm7 0zm-3 0zm9 0zm-13 0zm-3-1zm0 0zm15 0zm-9 0zm10 0zm2 0zm-4 0zm-13-1zm8 0zm-1 0zm-7 0zm-2 0zm15 0zm4 0zm-13-1zm-2 0zm2 0zm7 0zm4 0zm-16 0zm2 0zm2-1zm-1 0zm-4 0zm4 0zm6 0zm-4 0zm1 0zm-3 0zm2 0zm-5 0zm0-1zm16 0zm-8 0zm-9 0zm11 0zm4 0zm-11 0zm10 0zm-1 0zm-2 0zm5-1zm-3 0zm-6 0zm11 0zm-8 0zm-6-1zm6 0zm5 0zm3 0zm-15 0zm5 0zm7-1zm-11 0zm-3 0zm12 0zm-9 0zm2 0zm5 0zm-11 0zm8 0zm7-1zm-8 0zm-5 0zm7 0zm-7 0zm6 0zm4-1zm-11 0zm5 0zm14 0zm-1 0zm-7-1zm2 0zm3 0zm-10 0zm-6 0zm7 0zm11 0zm0 0zm-6-1zm-10 0zm0 0zm8 0zm7 0zm-17 0zm6 0zm10 0zm-5 0zm-8 0zm5 0zm10 0zm-17-1zm13 0zm4 0zm-17 0zm4 0zm-5 0zm17 0zm-1 0zm-13 0zm11 0zm-3 0zm1 0zm-10-1zm8 0zm0 0zm1 0zm4 0zm-8 0zm11 0zm-14 0zm0-1zm9 0zm-6 0zm-2 0zm-3 0zm3 0zm12-1zm-18 0zm3 0zm5 0zm11 0zm-9 0zm-6 0zm13-1zm-5 0zm-11 0zm11 0zm-11 0zm9 0zm-2-1zm4 0zm6 0zm-7 0zm5 0zm2 0zm-7 0zm-10-1zm3 0zm0 0zm8 0zm-10 0zm14 0zm-3-1zm-6 0zm7 0zm-13 0zm9 0zm-6 0zm10 0zm0 0zm4 0zm-3 0zm-7 0zm8-1zm-8 0zm3 0zm5 0zm0 0zm-2 0zm4 0zm-1 0zm-14 0zm8 0zm-2-1zm2 0zm7 0zm-7 0zm-5 0zm8-1zm1 0zm-13 0zm7 0zm6 0zm-5 0zm-2 0zm1-1zm-5 0zm10 0zm-11 0zm7 0zm4 0zm2 0zm-14 0zm14-1zm-14 0zm10 0zm-2 0zm1 0zm-2 0zm0 0zm-9-1zm18 0zm-9-1zm8 0zm-8 0zm-5 0zm6 0zm7 0zm-12 0zm1 0zm-1 0zm8-1zm-6 0zm2 0zm9 0zm-18 0zm11 0zm0 0zm2-1zm4 0zm-5 0zm5 0zm-9 0zm3 0zm7 0zm-4 0zm-5-1zm-5 0zm14 0zm-10 0zm11 0zm-3-1zm-8 0zm2 0zm-8 0zm-2-1zm4 0zm6 0zm-9 0zm9 0zm-7 0zm10 0zm3 0zm-2 0zm-2 0zm-5 0zm2-1zm5 0zm5 0zm-2 0zm-10 0zm-1 0zm4 0zm-6 0zm11 0zm-8 0zm-3 0zm13-1zm1 0zm-11 0zm10 0zm-5 0zm3 0zm1 0zm-2 0zm1 0zm-7-1zm6 0zm-12 0zm14 0zm-8 0zm11 0zm-19-1zm10 0zm1 0zm3 0zm-2 0zm-9 0zm7 0zm-8 0zm4 0zm0-1zm-5 0zm11 0zm6-1zm-17 0zm17 0zm-1 0zm-10-1zm4 0zm-6 0zm1 0zm1 0zm-7 0zm6 0zm1 0zm-6 0zm18 0zm-16 0zm13-1zm-1 0zm2 0zm-4 0zm-13 0zm13 0zm3 0zm-15 0zm14 0zm-3-1zm-4 0zm7 0zm-1 0zm1 0zm-14 0zm16 0zm-6 0zm0 0zm5 0zm-12 0zm9-1zm-3 0zm6 0zm-2 0zm0 0zm4 0zm-7 0zm8 0zm-5-1zm-6 0zm-1 0zm11 0zm-3 0zm-1 0zm-3 0zm-6 0zm-4 0zm3 0zm5 0zm5 0zm-2-1zm1 0zm6 0zm-8 0zm-5 0zm0 0zm-5 0zm14-1zm-2 0zm-2 0zm1 0zm-7-1zm10 0zm-1 0zm-10 0zm1 0zm0 0zm-5-1zm7 0zm3 0zm5 0zm-12 0zm13 0zm-9 0zm-2 0zm5-1zm2 0zm-6 0zm4-1zm9 0zm-19 0zm12 0zm1 0zm-8 0zm8 0zm-7 0zm11 0zm-17 0zm13 0zm5 0zm-4-1zm3 0zm-2 0zm-8 0zm-1 0zm4 0zm28 0zm-25-1zm-6 0zm7 0zm-14 0zm18 0zm-13-1zm13 0zm-17 0zm15-1zm-14 0zm12 0zm-9 0zm33 0zm-26-1zm0 0zm-1 0zm-5 0zm13 0zm-5 0zm5-1zm-13 0zm3 0zm2-1zm-5 0zm1 0zm13 0zm-18 0zm11 0zm23 0zm-28-1zm-5 0zm3 0zm0 0zm3 0zm1 0zm6 0zm-6-1zm-10 0zm7 0zm8 0zm-1 0zm-2 0zm-6 0zm-5 0zm4 0zm3 0zm-4 0zm-2 0zm8 0zm-5 0zm7-1zm5-1zm-6 0zm4 0zm-5-1zm2 0zm-9 0zm9 0zm-6 0zm-2 0zm9-1zm-13 0zm17 0zm2 0zm-17 0zm16-1zm-14 0zm11 0zm-11 0zm4 0zm3 0zm-5 0zm10-1zm-4 0zm-10-1zm2 0zm9 0zm-9 0zm5 0zm-7 0zm1 0zm8 0zm5-1zm-3 0zm-3 0zm-10 0zm14 0zm-2-1zm-2 0zm-7 0zm7 0zm-1 0zm-5 0zm13 0zm-8-1zm-5 0zm-1 0zm4 0zm4 0zm-4-1zm3 0zm4 0zm-12 0zm1 0zm-3 0zm13 0zm-11-1zm18 0zm-9 0zm-5 0zm11 0zm-10-1zm10 0zm-17 0zm13 0zm-8 0zm-3 0zm4 0zm12 0zm-15-1zm8 0zm-9 0zm4 0zm5 0zm26 0zm-31-1zm13 0zm-13 0zm8 0zm-2 0zm0 0zm6 0zm-10 0zm9-1zm-3 0zm0 0zm-11 0zm11 0zm-7 0zm-4 0zm6 0zm3 0zm-12-1zm11 0zm0 0zm8 0zm0 0zm-8 0zm4-1zm4 0zm-7 0zm-1 0zm7 0zm-3 0zm-14 0zm17 0zm-9-1zm2 0zm1 0zm-7-1zm7 0zm5 0zm-10 0zm4 0zm-4 0zm2-1zm2 0zm-6 0zm0 0zm-4 0zm16 0zm-16-1zm16 0zm-14 0zm13-1zm-7 0zm8 0zm-6 0zm0 0zm5 0zm-15 0zm17-1zm-6 0zm6 0zm-5 0zm6-1zm-19 0zm4 0zm4 0zm7 0zm-1 0zm1-1zm0 0zm-11 0zm-2 0zm1-1zm13 0zm-10 0zm8 0zm-14 0zm2 0zm3 0zm13 0zm-7-1zm-9 0zm7 0zm-4 0zm-1 0zm-2-1zm10 0zm3 0zm-15 0zm16 0zm0-1zm-14 0zm1 0zm12 0zm3 0zm-6 0zm-10 0zm7-1zm-1 0zm0 0zm11 0zm-7 0zm-2 0zm-5-1zm6 0zm6 0zm-1-1zm3 0zm-16 0zm4-1zm-6 0zm14 0zm-10 0zm6 0zm-1 0zm9 0zm-11 0zm31 0zm-28-1zm0 0zm-7 0zm3 0zm1 0zm8-1zm-3 0zm-12 0zm11 0zm4-1zm-15 0zm0 0zm-1 0zm11 0zm3-1zm-2 0zm4 0zm-1 0zm-3-1zm-11 0zm17 0zm-9 0zm0-1zm1 0zm-8 0zm3-1zm7 0zm-5 0zm12-1zm20 0zm-5 0zm-26-1zm3 0zm4 0zm-11 0zm-2-1zm5 0zm-3 0zm7-1zm0 0zm-10-1zm1 0zm14 0zm-7-1zm9-1zm-17 0zm9 0zm7 0zm-13 0zm9-1zm-4 0zm-9 0zm16-1zm-7 0zm6 0zm-10 0zm1-1zm-2 0zm6-1zm-2-1zm8-1zm3 0zm-18-1zm6 0zm-3-1zm8 0zm0 0zm3 0zm-15-1zm7 0zm12-1zm17 0zm-31-1zm-5 0zm11-2zm-5 0zm-3 0zm2-1zm7 0zm-8-1zm-4 0zm15 0zm-2-1zm26 0zm-21-1zm-2 0zm-12 0zm9-1zm23 0zm-32-1zm14-1zm-14-1zm11-2zm-14-1zm5 0zm28 0zm-20-1zm-13-1zm18-2zm-7 0zm22-2zm-16-1zm-14 0zm5-1zm4 0zm-5 0zm8-1zm-8-2zm10-3zm-11 0zm5-1zm-3 0zm3 0zm3 0zm1 0zm-9 0zm32 0zm-31-2zm2 0zm-1 0zm25 0zm-20-1zm24 0zm-31-1zm-1 0zm2-1zm-6 0zm4 0zm33 0zm-3-1zm0 0zm-31-2zm12 0zm18 0zm3 0zm0 0zm-33-1zm-1-1zm0 0zm1-2zm30 0zm-29-1zm9-1zm-8-1zm27 0zm-26-1zm29 0zm-19-1zm0-2zm-4 0zm2-2zm2 0zm-11-1zm29-1zm-18-1zm21-1zm-2-2zm0-1zm0 0zm-30-1zm27-2zm-25-1zm9-2zm-13 0zm9-1zm23-2zm-3 0zm-24-1zm28-1zm-4-1zm-29-3zm34 0zm-22-1zm-4-2zm22 0zm-27-2zm6-3zm-6-1zm10 0zm21 0zm-37-1zm12 0zm25 0zm-5-1zm1-1zm4 0zm-5-1zm-23-1zm23-1zm5 0zm-20-1zm-7-3zm-4-2zm26-1zm4-1zm-2-1zm-2 0zm3-7zm-27-2zm29-1zm-2-2zm-35-2zm35-4zm-21-1zm19 0zm-19-2zm18 0zm-34-1zm13-1zm25 0zm-3 0zm2-2zm2-1zm-3-3zm-17-1zm16 0zm1 0zm-1-1zm1-1zm-30-10zm29-1zm-35-3zm11-4zm27-1zm-2 0zm-1-2zm1-2zm-33-3zm36 0zm-5-1zm1-4zm0-2zm-35-1zm39-4zm-3-4zm-2-1zm4 0zm-3-6zm-23-6zm23 0zm-17-4zm19-1zm-2-4zm-20-4zm23-3zm-23-2zm22-2zm-2-9zm4-17zm-38-2zm37-8zm-24-1zm0-7zm22-2zm-1-7zm-34-1zm5-3zm29-11zm20-40zm2 9zm19 7zm2 23zm-1 6zm-17 1zm19 1zm-14 3zm-13 1zm-10 1zm2 1zm4 4zm22 3zm1 3zm-2 0zm-11 4zm13 1zm-21 2zm26 4zm-31 1zm-4 0zm5 2zm25 0zm0 1zm2 2zm-29 1zm33 0zm-26 5zm-5 2zm11 1zm19 0zm-23 1zm18 0zm-23 4zm4 3zm26 0zm-35 3zm8 0zm20 0zm-24 3zm17 1zm14 1zm-36 1zm9 0zm21 1zm-2 1zm-25 2zm-1 1zm13 1zm21 2zm-34 0zm2 3zm31 0zm-32 0zm23 0zm-23 1zm17 1zm-1 1zm7 0zm8 1zm-1 1zm-32 0zm6 3zm4 1zm22 0zm-34 3zm12 0zm13 0zm-12 1zm2 0zm8 2zm3 0zm3 0zm-27 6zm28 1zm1 0zm-17 0zm12 1zm-8 2zm-13 0zm33 0zm-23 2zm-9 0zm0 2zm20 0zm-25 0zm12 1zm-3 1zm24 2zm-12 0zm-1 0zm-10 1zm1 2zm12 0zm-13 0zm7 1zm-6 2zm23 0zm-28 0zm29 1zm-14 0zm-12 1zm19 0zm-25 0zm13 0zm-18 0zm30 0zm3 1zm-22 0zm-7 0zm34 0zm-21 1zm-2 0zm-5 0zm24 1zm3 1zm-17 0zm19 0zm-2 1zm-26 1zm-11 0zm35 1zm-23 0zm-10 0zm21 0zm2 1zm4 0zm-6 0zm-3 1zm17 0zm-10 1zm-15 0zm23 0zm4 1zm-35 0zm20 0zm-6 0zm-14 1zm3 0zm9 0zm2 1zm4 0zm9 0zm-20 1zm-5 2zm8 0zm9 0zm-3 1zm-12 0zm29 0zm-25 1zm27 0zm0 0zm-23 0zm6 0zm9 1zm-30 0zm33 1zm-19 1zm-7 0zm4 0zm18 1zm-12 0zm12 0zm-5 0zm-3 1zm15 0zm-30 0zm16 0zm-14 1zm16 0zm-24 0zm16 1zm-1 0zm-14 1zm25 0zm-22 1zm6 0zm6 0zm-8 0zm-3 1zm32 0zm-33 2zm15 0zm14 0zm-11 0zm12 0zm-16 0zm19 0zm-35 0zm18 1zm10 0zm-28 1zm31 0zm-20 1zm-4 0zm8 0zm-10 0zm-1 0zm1 1zm9 0zm10 1zm4 0zm-19 1zm13 0zm-21 1zm-4 0zm21 0zm-6 1zm-4 0zm18 0zm0 0zm1 1zm9 0zm-26 0zm0 0zm4 1zm-16 0zm33 1zm-11 0zm-9 1zm-11 0zm1 0zm12 1zm-5 0zm5 1zm8 0zm13 0zm-35 1zm23 0zm12 0zm2 1zm-19 1zm4 0zm4 1zm-14 0zm8 1zm1 0zm-16 1zm3 0zm14 0zm2 0zm-7 0zm-13 0zm25 0zm-9 1zm-8 0zm-2 0zm-10 1zm2 0zm9 0zm-3 0zm28 1zm-29 0zm2 0zm-4 0zm-4 1zm19 0zm10 1zm3 0zm-29 0zm-6 0zm6 1zm31 0zm-3 0zm-12 0zm14 0zm-33 1zm27 0zm-4 1zm-6 0zm-10 0zm11 0zm16 1zm-11 0zm-1 0zm-9 1zm-8 0zm-3 0zm26 1zm-11 0zm10 0zm-17 1zm-3 0zm10 0zm-3 1zm-3 0zm-1 0zm6 1zm20 0zm-4 0zm-12 0zm-11 0zm14 1zm-6 0zm18 0zm-17 1zm-9 0zm-3 0zm22 0zm2 1zm-26 0zm16 0zm-11 0zm-4 0zm22 1zm-3 1zm9 0zm-18 1zm-3 0zm5 1zm19 0zm-10 0zm8 0zm-6 1zm0 0zm-20 1zm-9 1zm37 0zm-39 0zm25 0zm-25 1zm38 0zm-38 0zm28 0zm-3 0zm-24 1zm6 0zm10 0zm-4 1zm16 1zm-1 0zm-8 0zm-11 0zm20 0zm-29 0zm37 0zm-33 1zm-1 0zm13 0zm-4 0zm-6 1zm22 0zm9 0zm-25 0zm3 0zm-13 0zm34 0zm-32 1zm35 0zm-36 1zm24 0zm-7 1zm13 0zm6 0zm-21 0zm-14 1zm-3 0zm18 0zm-16 0zm28 1zm-9 0zm0 0zm2 0zm-7 0zm-7 2zm7 0zm-4 1zm6 0zm-19 0zm12 1zm-11 0zm20 0zm8 0zm10 1zm-4 0zm-31 1zm31 0zm-28 0zm-4 0zm2 1zm34 0zm-32 0zm1 1zm-4 0zm27 0zm-25 1zm4 0zm20 1zm-4 1zm3 0zm6 0zm-4 0zm-11 1zm1 0zm-4 0zm-13 0zm34 1zm-34 0zm19 1zm12 0zm-2 0zm-33 1zm6 0zm13 0zm-10 0zm-6 0zm-1 0zm9 0zm7 0zm-15 0zm22 0zm-14 1zm-2 1zm-5 0zm13 1zm17 0zm2 0zm-15 0zm-13 1zm14 1zm17 0zm-3 0zm-15 0zm2 1zm3 0zm-1 1zm-23 0zm27 0zm-23 0zm30 1zm-30 0zm25 0zm-1 0zm-1 0zm-21 0zm23 2zm-24 0zm27 0zm-15 0zm-12 1zm30 0zm-37 0zm38 0zm-18 1zm-8 0zm-11 0zm15 0zm-14 1zm1 0zm11 0zm-13 1zm18 0zm-4 0zm21 0zm-35 0zm8 1zm25 0zm-5 1zm-8 0zm7 0zm-8 1zm-11 0zm16 1zm-2 0zm-19 1zm31 0zm-3 1zm-8 0zm-9 0zm-4 1zm16 0zm-24 0zm4 0zm29 0zm3 0zm-8 1zm-17 0zm-4 0zm20 1zm-20 0zm8 0zm8 1zm4 1zm-18 1zm27 0zm-29 0zm15 1zm-16 0zm4 2zm18 0zm-1 1zm6 0zm-7 0zm-29 0zm24 0zm7 1zm-3 0zm1 0zm-8 1zm6 0zm-21 1zm-3 0zm18 0zm2 1zm14 0zm-14 1zm-8 1zm3 0zm-1 1zm-6 0zm22 1zm-16 0zm-8 1zm-5 0zm-2 1zm10 1zm-1 1zm-9 0zm36 1zm-9 0zm-22 1zm3 0zm7 0zm16 1zm-8 1zm-5 0zm5 0zm-11 1zm4 0zm2 0zm-3 1zm21 3zm-5 0zm1 0zm-18 1zm15 1zm-20 2zm22 1zm-5 0zm-20 1zm23 0zm-13 1zm14 1zm-17 1zm-12 0zm21 0zm2 0zm4 1zm-20 3zm4 1zm18 1zm-32 0zm27 0zm-19 6zm13 0zm6 1zm-27 0zm25 0zm-25 1zm28 0zm-26 0zm-2 1zm28 1zm9 0zm-35 1zm7 1zm23 0zm-20 0zm-7 0zm-4 1zm26 2zm7 0zm-19 3zm-11 2zm9 3zm-12 0zm19 1zm4 1zm-2 1zm-8 5zm-2 2zm22 1zm-23 2zm10 1zm-12 0zm22 1zm-26 0zm3 0zm25 5zm-8 2zm2 0zm-5 3zm6 2zm-17 1zm-8 2zm14 3zm-15 1zm10 4zm13 5zm-2 2zm-3 2zm-11 3zm17 2zm-14 0zm15 9zm38-17zm-25-19zm2-9zm0-1zm25-1zm-27-6zm34 0zm-31-6zm-1-15zm1 0zm-3-16zm3-1zm1 0zm-1 0zm-2-2zm25-9zm-23-1zm-2-1zm2-3zm23-7zm-23-4zm-1-3zm1-2zm-2-15zm3-2zm-3-2zm2-10zm-2-6zm2-2zm-3-5zm3-3zm-2 0zm0-4zm3-4zm-3-2zm2-13zm1-1zm-2-4zm0-3zm-1-1zm2-4zm-3-1zm0 0zm4-7zm-2-1zm2-3zm-3-2zm-1-1zm3 0zm0-11zm1 0zm-3-2zm34 0zm-35-12zm2-1zm0-2zm0-6zm-2-2zm3-4zm-1 0zm-1-6zm0-1zm-1-4zm1-5zm2-3zm1-1zm-2-8zm1-18zm-2-9zm3-1zm0-64zm-4-16z" stroke="#000" stroke-width="2.48" stroke-opacity="0.8"/></g>
<path d="M404.7 205.7V288.1" stroke="#7a62e0" stroke-width=".6" fill="none"/>
<path d="M314.6 175V306.3H430.5" stroke="#333" stroke-width=".8" fill="none"/>
<path d="M312.2 300.8H314.6M312.2 269.1H314.6M312.2 237.4H314.6M312.2 205.7H314.6M324.3 306.3V308.6M340.3 306.3V308.6M356.3 306.3V308.6M372.4 306.3V308.6M388.6 306.3V308.6M404.7 306.3V308.6M421.0 306.3V308.6" stroke="#333" stroke-width=".7" fill="none"/>
<g font-size="9.6" fill="#111" text-anchor="end" stroke="#111" stroke-width=".18">
<text x="311.4" y="304.3">0</text>
<text x="311.4" y="272.6">1</text>
<text x="311.4" y="240.9">2</text>
<text x="311.4" y="209.2">3</text>
</g>
<text x="300.3" y="226" font-size="9" text-anchor="middle" fill="#111" stroke="#111" stroke-width=".18" transform="rotate(-90 300.3 226)">Expression level</text>
<text x="326.5" y="312.0" font-size="5.6" text-anchor="end" fill="#222" stroke="#222" stroke-width=".12" transform="rotate(-45 326.5 312.0)">T cells</text>
<text x="342.5" y="312.0" font-size="5.6" text-anchor="end" fill="#222" stroke="#222" stroke-width=".12" transform="rotate(-45 342.5 312.0)">B cells</text>
<text x="358.5" y="312.0" font-size="5.6" text-anchor="end" fill="#222" stroke="#222" stroke-width=".12" transform="rotate(-45 358.5 312.0)">TAMs</text>
<text x="374.6" y="312.0" font-size="5.6" text-anchor="end" fill="#222" stroke="#222" stroke-width=".12" transform="rotate(-45 374.6 312.0)">unclassified</text>
<text x="390.8" y="312.0" font-size="5.6" text-anchor="end" fill="#222" stroke="#222" stroke-width=".12" transform="rotate(-45 390.8 312.0)">Malignant cells</text>
<text x="406.9" y="312.0" font-size="5.6" text-anchor="end" fill="#222" stroke="#222" stroke-width=".12" transform="rotate(-45 406.9 312.0)">TECs</text>
<text x="423.2" y="312.0" font-size="5.6" text-anchor="end" fill="#222" stroke="#222" stroke-width=".12" transform="rotate(-45 423.2 312.0)">CAFs</text>
<text x="368.2" y="346.6" font-size="8.7" text-anchor="middle" fill="#111" stroke="#111" stroke-width=".18">Identity</text>
<rect x="435.6" y="226.6" width="9" height="9.4" fill="#F8766D" stroke="#555" stroke-width=".5"/>
<text x="448.3" y="234.2" font-size="7.95" fill="#111" stroke="#111" stroke-width=".18">T cells</text>
<rect x="435.6" y="238.3" width="9" height="9.4" fill="#C49A00" stroke="#555" stroke-width=".5"/>
<text x="448.3" y="245.9" font-size="7.95" fill="#111" stroke="#111" stroke-width=".18">B cells</text>
<rect x="435.6" y="249.5" width="9" height="9.4" fill="#53B400" stroke="#555" stroke-width=".5"/>
<text x="448.3" y="257.1" font-size="7.95" fill="#111" stroke="#111" stroke-width=".18">TAMs</text>
<rect x="435.6" y="260.7" width="9" height="9.4" fill="#00C094" stroke="#555" stroke-width=".5"/>
<text x="448.3" y="268.3" font-size="7.95" fill="#111" stroke="#111" stroke-width=".18">Unclassified</text>
<rect x="435.6" y="272.1" width="9" height="9.4" fill="#00B6EB" stroke="#555" stroke-width=".5"/>
<text x="448.3" y="279.7" font-size="7.95" fill="#111" stroke="#111" stroke-width=".18">Malignant cells</text>
<rect x="435.6" y="283.8" width="9" height="9.4" fill="#A58AFF" stroke="#555" stroke-width=".5"/>
<text x="448.3" y="291.4" font-size="7.95" fill="#111" stroke="#111" stroke-width=".18">TECs</text>
<rect x="435.6" y="295.5" width="9" height="9.4" fill="#FB61D7" stroke="#555" stroke-width=".5"/>
<text x="448.3" y="303.1" font-size="7.95" fill="#111" stroke="#111" stroke-width=".18">CAFs</text>
<text x="5" y="370.8" font-size="18.4" font-weight="bold">d</text>
<text x="90.5" y="378" font-size="10.4" text-anchor="middle" fill="#111" stroke="#111" stroke-width=".18">TECs (n=2338)</text>
<text x="14.3" y="471" font-size="9" text-anchor="middle" fill="#111" stroke="#111" stroke-width=".18" transform="rotate(-90 14.3 471)">Top enriched genes (n=100)</text>
<path d="M17.5 398V540.5" stroke="#555" stroke-width=".7" fill="none"/>
<rect x="21.0" y="391.3" width="23.1" height="2.6" fill="#F8766D"/>
<rect x="44.1" y="391.3" width="22.9" height="2.6" fill="#E38900"/>
<rect x="67.0" y="391.3" width="12.5" height="2.6" fill="#C49A00"/>
<rect x="79.5" y="391.3" width="12.1" height="2.6" fill="#99A800"/>
<rect x="91.6" y="391.3" width="11.9" height="2.6" fill="#53B400"/>
<rect x="103.5" y="391.3" width="11.6" height="2.6" fill="#00BC56"/>
<rect x="115.1" y="391.3" width="9.7" height="2.6" fill="#00C094"/>
<rect x="124.8" y="391.3" width="8.4" height="2.6" fill="#00BFC4"/>
<rect x="133.2" y="391.3" width="6.9" height="2.6" fill="#00B6EB"/>
<rect x="140.1" y="391.3" width="4.8" height="2.6" fill="#06A4FF"/>
<rect x="144.9" y="391.3" width="4.6" height="2.6" fill="#A58AFF"/>
<rect x="149.5" y="391.3" width="3.7" height="2.6" fill="#DF70F8"/>
<rect x="153.2" y="391.3" width="3.0" height="2.6" fill="#FB61D7"/>
<rect x="156.2" y="391.3" width="3.1" height="2.6" fill="#FF66A8"/>
<g font-size="3" fill="#444">
<text x="31.5" y="390" transform="rotate(-45 31.5 390)">c1</text>
<text x="54.5" y="390" transform="rotate(-45 54.5 390)">c2</text>
<text x="72.2" y="390" transform="rotate(-45 72.2 390)">c3</text>
<text x="84.5" y="390" transform="rotate(-45 84.5 390)">c4</text>
<text x="96.5" y="390" transform="rotate(-45 96.5 390)">c5</text>
<text x="108.3" y="390" transform="rotate(-45 108.3 390)">c6</text>
<text x="118.9" y="390" transform="rotate(-45 118.9 390)">c7</text>
<text x="128.0" y="390" transform="rotate(-45 128.0 390)">c8</text>
<text x="135.6" y="390" transform="rotate(-45 135.6 390)">c9</text>
<text x="141.5" y="390" transform="rotate(-45 141.5 390)">c10</text>
<text x="146.2" y="390" transform="rotate(-45 146.2 390)">c11</text>
<text x="150.3" y="390" transform="rotate(-45 150.3 390)">c12</text>
<text x="153.7" y="390" transform="rotate(-45 153.7 390)">c13</text>
<text x="156.8" y="390" transform="rotate(-45 156.8 390)">c14</text>
</g>
<rect x="21" y="396.5" width="138.3" height="146.0" fill="#441348"/>
<path d="M21.0 397.2h3.3M24.3 397.2h3.3M34.2 397.2h3.3M24.3 398.7h3.3M21.0 400.2h3.3M24.3 404.5h3.3M34.2 404.5h3.3M30.9 407.5h3.3M34.2 407.5h3.3M37.5 407.5h3.3M24.3 411.8h3.3M30.9 411.8h3.3M40.8 411.8h3.3M63.7 411.8h3.3M44.1 416.2h3.3M60.5 416.2h3.3M63.7 417.7h3.3M50.6 419.1h3.3M53.9 419.1h3.3M21.0 422.1h3.3M37.5 422.1h3.3M57.2 422.1h3.3M79.5 429.4h3.0M88.6 433.7h3.0M82.5 435.2h3.0M79.5 436.7h3.0M82.5 436.7h3.0M76.4 444.0h3.1M79.5 444.0h3.0M73.2 446.9h3.1M109.3 464.4h2.9M115.1 474.6h3.2M115.1 480.5h3.2M118.3 480.5h3.2M121.6 480.5h3.2M142.5 506.7h2.4M156.2 533.0h3.1" stroke="#786030" stroke-width="1.51" fill="none"/>
<path d="M27.6 397.2h3.3M37.5 398.7h3.3M37.5 404.5h3.3M97.5 404.5h3.0M27.6 407.5h3.3M97.5 407.5h3.0M37.5 419.1h3.3M34.2 422.1h3.3M156.2 422.1h3.1M118.3 423.5h3.2M50.6 425.0h3.3M57.2 444.0h3.3M115.1 444.0h3.2M133.2 444.0h3.4M124.8 446.9h2.8M37.5 448.3h3.3M63.7 465.9h3.3M97.5 493.6h3.0M109.3 493.6h2.9M140.1 493.6h2.4M70.1 495.1h3.1M109.3 498.0h2.9M34.2 512.6h3.3M34.2 522.8h3.3M40.8 522.8h3.3M30.9 528.6h3.3" stroke="#603c30" stroke-width="1.51" fill="none"/>
<path d="M30.9 397.2h3.3M40.8 398.7h3.3M40.8 400.2h3.3M40.8 407.5h3.3M50.6 413.3h3.3M60.5 417.7h3.3M67.0 446.9h3.1M97.5 449.8h3.0M118.3 477.5h3.2" stroke="#846030" stroke-width="1.51" fill="none"/>
<path d="M37.5 397.2h3.3M40.8 397.2h3.3M34.2 403.1h3.3M40.8 403.1h3.3M27.6 406.0h3.3M21.0 411.8h3.3M30.9 417.7h3.3M53.9 417.7h3.3M88.6 426.4h3.0M79.5 427.9h3.0M85.5 427.9h3.0M79.5 430.8h3.0M136.6 439.6h3.5M133.2 442.5h3.4M76.4 445.4h3.1M70.1 446.9h3.1" stroke="#6c543c" stroke-width="1.51" fill="none"/>
<path d="M44.1 397.2h3.3M88.6 397.2h3.0M91.6 397.2h3.0M127.6 397.2h2.8M76.4 400.2h3.1M97.5 400.2h3.0M73.2 401.6h3.1M88.6 401.6h3.0M124.8 401.6h2.8M124.8 403.1h2.8M142.5 403.1h2.4M118.3 407.5h3.2M82.5 408.9h3.0M136.6 410.4h3.5M79.5 413.3h3.0M91.6 413.3h3.0M124.8 413.3h2.8M133.2 413.3h3.4M94.6 414.8h3.0M103.5 417.7h2.9M121.6 417.7h3.2M73.2 420.6h3.1M106.4 420.6h2.9M130.4 420.6h2.8M133.2 420.6h3.4M136.6 420.6h3.5M140.1 420.6h2.4M144.9 420.6h4.6M63.7 423.5h3.3M124.8 423.5h2.8M30.9 426.4h3.3M103.5 426.4h2.9M127.6 426.4h2.8M153.2 426.4h3.0M34.2 427.9h3.3M63.7 429.4h3.3M136.6 430.8h3.5M142.5 430.8h2.4M144.9 430.8h4.6M30.9 432.3h3.3M60.5 432.3h3.3M100.5 433.7h3.0M103.5 433.7h2.9M115.1 433.7h3.2M50.6 435.2h3.3M57.2 439.6h3.3M63.7 439.6h3.3M109.3 439.6h2.9M112.2 439.6h2.9M156.2 439.6h3.1M50.6 441.0h3.3M97.5 441.0h3.0M149.5 441.0h3.7M24.3 442.5h3.3M100.5 442.5h3.0M24.3 445.4h3.3M37.5 445.4h3.3M94.6 445.4h3.0M121.6 445.4h3.2M140.1 445.4h2.4M27.6 446.9h3.3M63.7 446.9h3.3M73.2 448.3h3.1M34.2 449.8h3.3M109.3 449.8h2.9M130.4 449.8h2.8M149.5 449.8h3.7M34.2 452.7h3.3M44.1 452.7h3.3M106.4 454.2h2.9M50.6 455.6h3.3M63.7 458.6h3.3M67.0 458.6h3.1M76.4 458.6h3.1M97.5 458.6h3.0M50.6 460.0h3.3M130.4 460.0h2.8M47.4 462.9h3.3M115.1 462.9h3.2M153.2 464.4h3.0M94.6 468.8h3.0M97.5 468.8h3.0M140.1 470.2h2.4M82.5 471.7h3.0M153.2 474.6h3.0M21.0 477.5h3.3M40.8 477.5h3.3M73.2 477.5h3.1M30.9 479.0h3.3M50.6 479.0h3.3M82.5 479.0h3.0M100.5 479.0h3.0M142.5 479.0h2.4M91.6 481.9h3.0M153.2 481.9h3.0M153.2 483.4h3.0M21.0 486.3h3.3M44.1 486.3h3.3M97.5 486.3h3.0M53.9 487.8h3.3M76.4 487.8h3.1M109.3 487.8h2.9M63.7 492.1h3.3M88.6 492.1h3.0M124.8 492.1h2.8M140.1 492.1h2.4M144.9 492.1h4.6M153.2 492.1h3.0M115.1 495.1h3.2M76.4 498.0h3.1M27.6 503.8h3.3M57.2 503.8h3.3M63.7 503.8h3.3M70.1 503.8h3.1M79.5 503.8h3.0M144.9 503.8h4.6M156.2 503.8h3.1M21.0 505.3h3.3M70.1 505.3h3.1M88.6 505.3h3.0M97.5 505.3h3.0M109.3 505.3h2.9M115.1 505.3h3.2M118.3 505.3h3.2M124.8 505.3h2.8M124.8 514.0h2.8M57.2 518.4h3.3M109.3 518.4h2.9M124.8 518.4h2.8M133.2 518.4h3.4M136.6 518.4h3.5M156.2 518.4h3.1" stroke="#48183c" stroke-width="1.51" fill="none"/>
<path d="M47.4 397.2h3.3M50.6 397.2h3.3M57.2 397.2h3.3M60.5 397.2h3.3M63.7 397.2h3.3M79.5 397.2h3.0M112.2 397.2h2.9M121.6 397.2h3.2M142.5 397.2h2.4M156.2 397.2h3.1M47.4 398.7h3.3M50.6 398.7h3.3M57.2 398.7h3.3M127.6 398.7h2.8M130.4 398.7h2.8M142.5 398.7h2.4M47.4 400.2h3.3M53.9 400.2h3.3M60.5 400.2h3.3M63.7 400.2h3.3M67.0 400.2h3.1M88.6 400.2h3.0M91.6 400.2h3.0M118.3 400.2h3.2M124.8 400.2h2.8M50.6 401.6h3.3M53.9 401.6h3.3M76.4 401.6h3.1M94.6 401.6h3.0M100.5 401.6h3.0M44.1 403.1h3.3M85.5 403.1h3.0M97.5 403.1h3.0M50.6 404.5h3.3M53.9 404.5h3.3M57.2 404.5h3.3M60.5 404.5h3.3M94.6 404.5h3.0M47.4 406.0h3.3M57.2 406.0h3.3M63.7 406.0h3.3M133.2 406.0h3.4M149.5 406.0h3.7M44.1 407.5h3.3M47.4 407.5h3.3M57.2 407.5h3.3M60.5 407.5h3.3M94.6 407.5h3.0M109.3 407.5h2.9M115.1 407.5h3.2M133.2 407.5h3.4M142.5 407.5h2.4M53.9 408.9h3.3M60.5 408.9h3.3M63.7 408.9h3.3M88.6 408.9h3.0M103.5 408.9h2.9M130.4 408.9h2.8M50.6 410.4h3.3M67.0 411.8h3.1M73.2 411.8h3.1M91.6 411.8h3.0M121.6 411.8h3.2M156.2 411.8h3.1M67.0 413.3h3.1M112.2 413.3h2.9M118.3 413.3h3.2M121.6 413.3h3.2M140.1 413.3h2.4M79.5 414.8h3.0M115.1 414.8h3.2M73.2 416.2h3.1M130.4 416.2h2.8M70.1 417.7h3.1M85.5 417.7h3.0M88.6 417.7h3.0M112.2 417.7h2.9M127.6 417.7h2.8M133.2 417.7h3.4M142.5 417.7h2.4M144.9 417.7h4.6M156.2 417.7h3.1M88.6 419.1h3.0M97.5 420.6h3.0M124.8 420.6h2.8M153.2 420.6h3.0M88.6 422.1h3.0M100.5 422.1h3.0M106.4 422.1h2.9M115.1 422.1h3.2M118.3 422.1h3.2M121.6 422.1h3.2M127.6 422.1h2.8M130.4 422.1h2.8M153.2 422.1h3.0M53.9 423.5h3.3M60.5 423.5h3.3M82.5 423.5h3.0M88.6 423.5h3.0M91.6 423.5h3.0M94.6 423.5h3.0M109.3 423.5h2.9M115.1 423.5h3.2M153.2 423.5h3.0M30.9 425.0h3.3M53.9 425.0h3.3M60.5 425.0h3.3M85.5 425.0h3.0M121.6 425.0h3.2M136.6 425.0h3.5M144.9 425.0h4.6M21.0 426.4h3.3M37.5 426.4h3.3M63.7 426.4h3.3M124.8 426.4h2.8M30.9 427.9h3.3M47.4 427.9h3.3M97.5 427.9h3.0M149.5 427.9h3.7M37.5 429.4h3.3M115.1 429.4h3.2M130.4 429.4h2.8M136.6 429.4h3.5M144.9 429.4h4.6M153.2 429.4h3.0M40.8 430.8h3.3M50.6 430.8h3.3M97.5 430.8h3.0M153.2 430.8h3.0M121.6 432.3h3.2M124.8 432.3h2.8M21.0 433.7h3.3M24.3 433.7h3.3M40.8 433.7h3.3M53.9 433.7h3.3M94.6 433.7h3.0M106.4 433.7h2.9M124.8 433.7h2.8M140.1 433.7h2.4M21.0 435.2h3.3M53.9 435.2h3.3M60.5 435.2h3.3M97.5 435.2h3.0M121.6 435.2h3.2M124.8 435.2h2.8M144.9 435.2h4.6M30.9 436.7h3.3M40.8 436.7h3.3M53.9 436.7h3.3M121.6 436.7h3.2M142.5 436.7h2.4M34.2 438.1h3.3M44.1 438.1h3.3M112.2 438.1h2.9M124.8 438.1h2.8M127.6 438.1h2.8M21.0 439.6h3.3M27.6 439.6h3.3M30.9 439.6h3.3M47.4 439.6h3.3M60.5 439.6h3.3M103.5 439.6h2.9M124.8 439.6h2.8M142.5 439.6h2.4M149.5 439.6h3.7M21.0 441.0h3.3M27.6 441.0h3.3M57.2 441.0h3.3M103.5 441.0h2.9M106.4 441.0h2.9M121.6 441.0h3.2M124.8 441.0h2.8M34.2 442.5h3.3M130.4 444.0h2.8M100.5 445.4h3.0M153.2 445.4h3.0M47.4 446.9h3.3M50.6 446.9h3.3M53.9 446.9h3.3M103.5 446.9h2.9M136.6 446.9h3.5M44.1 448.3h3.3M47.4 448.3h3.3M53.9 448.3h3.3M63.7 448.3h3.3M70.1 448.3h3.1M88.6 448.3h3.0M115.1 448.3h3.2M127.6 448.3h2.8M130.4 448.3h2.8M140.1 448.3h2.4M142.5 448.3h2.4M30.9 449.8h3.3M50.6 449.8h3.3M73.2 449.8h3.1M79.5 449.8h3.0M85.5 449.8h3.0M88.6 449.8h3.0M103.5 449.8h2.9M153.2 449.8h3.0M156.2 449.8h3.1M27.6 451.2h3.3M63.7 451.2h3.3M24.3 452.7h3.3M27.6 452.7h3.3M40.8 452.7h3.3M106.4 452.7h2.9M112.2 452.7h2.9M40.8 454.2h3.3M57.2 454.2h3.3M103.5 454.2h2.9M109.3 454.2h2.9M40.8 455.6h3.3M53.9 457.1h3.3M40.8 458.6h3.3M50.6 458.6h3.3M53.9 458.6h3.3M60.5 458.6h3.3M91.6 458.6h3.0M133.2 458.6h3.4M40.8 460.0h3.3M53.9 460.0h3.3M60.5 460.0h3.3M63.7 460.0h3.3M70.1 460.0h3.1M73.2 460.0h3.1M121.6 460.0h3.2M144.9 460.0h4.6M57.2 461.5h3.3M100.5 461.5h3.0M118.3 461.5h3.2M127.6 461.5h2.8M144.9 461.5h4.6M153.2 461.5h3.0M156.2 461.5h3.1M94.6 462.9h3.0M97.5 462.9h3.0M136.6 462.9h3.5M73.2 464.4h3.1M82.5 465.9h3.0M130.4 465.9h2.8M37.5 467.3h3.3M85.5 467.3h3.0M121.6 467.3h3.2M130.4 467.3h2.8M142.5 467.3h2.4M91.6 468.8h3.0M100.5 468.8h3.0M127.6 468.8h2.8M130.4 468.8h2.8M133.2 468.8h3.4M144.9 468.8h4.6M24.3 470.2h3.3M27.6 470.2h3.3M34.2 470.2h3.3M67.0 470.2h3.1M70.1 470.2h3.1M88.6 470.2h3.0M156.2 470.2h3.1M60.5 471.7h3.3M70.1 471.7h3.1M136.6 471.7h3.5M133.2 473.2h3.4M136.6 473.2h3.5M130.4 474.6h2.8M136.6 474.6h3.5M142.5 474.6h2.4M156.2 474.6h3.1M67.0 476.1h3.1M91.6 476.1h3.0M156.2 476.1h3.1M27.6 477.5h3.3M37.5 477.5h3.3M44.1 477.5h3.3M67.0 477.5h3.1M106.4 477.5h2.9M124.8 477.5h2.8M133.2 477.5h3.4M149.5 477.5h3.7M34.2 479.0h3.3M37.5 479.0h3.3M53.9 479.0h3.3M140.1 479.0h2.4M156.2 479.0h3.1M24.3 480.5h3.3M40.8 480.5h3.3M53.9 480.5h3.3M63.7 480.5h3.3M88.6 480.5h3.0M97.5 480.5h3.0M106.4 480.5h2.9M112.2 480.5h2.9M124.8 480.5h2.8M149.5 480.5h3.7M57.2 481.9h3.3M73.2 481.9h3.1M124.8 481.9h2.8M140.1 481.9h2.4M144.9 483.4h4.6M149.5 484.8h3.7M30.9 486.3h3.3M34.2 486.3h3.3M50.6 486.3h3.3M70.1 486.3h3.1M73.2 486.3h3.1M85.5 486.3h3.0M112.2 486.3h2.9M121.6 486.3h3.2M140.1 486.3h2.4M149.5 486.3h3.7M156.2 486.3h3.1M50.6 487.8h3.3M60.5 487.8h3.3M106.4 487.8h2.9M112.2 487.8h2.9M121.6 487.8h3.2M37.5 489.2h3.3M76.4 489.2h3.1M85.5 489.2h3.0M88.6 489.2h3.0M100.5 489.2h3.0M118.3 489.2h3.2M142.5 489.2h2.4M144.9 489.2h4.6M149.5 489.2h3.7M142.5 490.7h2.4M37.5 492.1h3.3M50.6 492.1h3.3M53.9 492.1h3.3M57.2 492.1h3.3M60.5 492.1h3.3M67.0 492.1h3.1M70.1 492.1h3.1M73.2 492.1h3.1M85.5 492.1h3.0M94.6 492.1h3.0M103.5 492.1h2.9M118.3 492.1h3.2M127.6 492.1h2.8M156.2 492.1h3.1M44.1 493.6h3.3M76.4 493.6h3.1M79.5 493.6h3.0M103.5 493.6h2.9M112.2 493.6h2.9M118.3 493.6h3.2M142.5 493.6h2.4M24.3 495.1h3.3M30.9 495.1h3.3M47.4 495.1h3.3M53.9 495.1h3.3M57.2 495.1h3.3M63.7 495.1h3.3M73.2 495.1h3.1M91.6 495.1h3.0M94.6 495.1h3.0M100.5 495.1h3.0M106.4 495.1h2.9M109.3 495.1h2.9M149.5 495.1h3.7M30.9 496.5h3.3M40.8 496.5h3.3M50.6 496.5h3.3M67.0 496.5h3.1M85.5 496.5h3.0M115.1 496.5h3.2M127.6 496.5h2.8M130.4 496.5h2.8M142.5 496.5h2.4M144.9 496.5h4.6M156.2 496.5h3.1M21.0 498.0h3.3M47.4 498.0h3.3M57.2 498.0h3.3M70.1 498.0h3.1M79.5 498.0h3.0M88.6 498.0h3.0M118.3 498.0h3.2M121.6 498.0h3.2M130.4 498.0h2.8M156.2 498.0h3.1M53.9 503.8h3.3M76.4 503.8h3.1M94.6 503.8h3.0M97.5 503.8h3.0M100.5 503.8h3.0M103.5 503.8h2.9M118.3 503.8h3.2M133.2 503.8h3.4M136.6 503.8h3.5M30.9 505.3h3.3M53.9 505.3h3.3M94.6 505.3h3.0M100.5 505.3h3.0M144.9 505.3h4.6M149.5 505.3h3.7M73.2 506.7h3.1M112.2 511.1h2.9M21.0 512.6h3.3M40.8 512.6h3.3M60.5 512.6h3.3M85.5 512.6h3.0M97.5 512.6h3.0M118.3 512.6h3.2M127.6 512.6h2.8M37.5 514.0h3.3M50.6 514.0h3.3M67.0 514.0h3.1M70.1 514.0h3.1M79.5 514.0h3.0M88.6 514.0h3.0M100.5 514.0h3.0M106.4 514.0h2.9M109.3 514.0h2.9M115.1 514.0h3.2M140.1 514.0h2.4M24.3 518.4h3.3M27.6 518.4h3.3M37.5 518.4h3.3M60.5 518.4h3.3M73.2 518.4h3.1M100.5 518.4h3.0M112.2 518.4h2.9M115.1 518.4h3.2M127.6 518.4h2.8M130.4 518.4h2.8M37.5 522.8h3.3M44.1 522.8h3.3M47.4 522.8h3.3M97.5 522.8h3.0M97.5 524.2h3.0M63.7 528.6h3.3M79.5 528.6h3.0M88.6 528.6h3.0M112.2 528.6h2.9M142.5 528.6h2.4" stroke="#48243c" stroke-width="1.51" fill="none"/>
<path d="M53.9 397.2h3.3M44.1 401.6h3.3M47.4 401.6h3.3M57.2 401.6h3.3M136.6 401.6h3.5M63.7 403.1h3.3M70.1 403.1h3.1M118.3 403.1h3.2M53.9 406.0h3.3M47.4 408.9h3.3M50.6 408.9h3.3M67.0 408.9h3.1M100.5 408.9h3.0M44.1 410.4h3.3M57.2 410.4h3.3M100.5 410.4h3.0M142.5 410.4h2.4M94.6 413.3h3.0M136.6 413.3h3.5M144.9 413.3h4.6M112.2 414.8h2.9M121.6 414.8h3.2M130.4 414.8h2.8M144.9 414.8h4.6M153.2 414.8h3.0M109.3 420.6h2.9M115.1 420.6h3.2M142.5 420.6h2.4M156.2 420.6h3.1M133.2 426.4h3.4M136.6 426.4h3.5M27.6 427.9h3.3M63.7 427.9h3.3M94.6 427.9h3.0M106.4 427.9h2.9M136.6 427.9h3.5M144.9 427.9h4.6M153.2 427.9h3.0M109.3 429.4h2.9M140.1 429.4h2.4M112.2 430.8h2.9M121.6 430.8h3.2M21.0 432.3h3.3M94.6 432.3h3.0M97.5 432.3h3.0M130.4 432.3h2.8M140.1 432.3h2.4M24.3 439.6h3.3M40.8 439.6h3.3M94.6 439.6h3.0M63.7 441.0h3.3M115.1 441.0h3.2M103.5 442.5h2.9M112.2 442.5h2.9M115.1 442.5h3.2M124.8 442.5h2.8M91.6 445.4h3.0M103.5 445.4h2.9M106.4 445.4h2.9M21.0 452.7h3.3M115.1 452.7h3.2M118.3 452.7h3.2M144.9 452.7h4.6M30.9 454.2h3.3M50.6 454.2h3.3M70.1 454.2h3.1M37.5 455.6h3.3M103.5 457.1h2.9M127.6 457.1h2.8M37.5 458.6h3.3M94.6 458.6h3.0M34.2 460.0h3.3M100.5 460.0h3.0M127.6 460.0h2.8M142.5 460.0h2.4M91.6 462.9h3.0M82.5 464.4h3.0M130.4 464.4h2.8M47.4 468.8h3.3M60.5 468.8h3.3M67.0 468.8h3.1M136.6 468.8h3.5M140.1 468.8h2.4M76.4 470.2h3.1M82.5 470.2h3.0M21.0 471.7h3.3M153.2 473.2h3.0M44.1 479.0h3.3M70.1 479.0h3.1M76.4 479.0h3.1M85.5 479.0h3.0M97.5 479.0h3.0M103.5 479.0h2.9M106.4 479.0h2.9M112.2 479.0h2.9M88.6 486.3h3.0M21.0 487.8h3.3M57.2 487.8h3.3M76.4 496.5h3.1M37.5 503.8h3.3M50.6 503.8h3.3M73.2 503.8h3.1M149.5 503.8h3.7M34.2 505.3h3.3M60.5 514.0h3.3M153.2 518.4h3.0" stroke="#54243c" stroke-width="1.51" fill="none"/>
<path d="M67.0 397.2h3.1M70.1 397.2h3.1M76.4 397.2h3.1M133.2 397.2h3.4M136.6 397.2h3.5M73.2 398.7h3.1M24.3 400.2h3.3M73.2 400.2h3.1M109.3 400.2h2.9M37.5 401.6h3.3M85.5 401.6h3.0M97.5 401.6h3.0M133.2 401.6h3.4M79.5 403.1h3.0M88.6 403.1h3.0M91.6 403.1h3.0M121.6 403.1h3.2M140.1 403.1h2.4M82.5 406.0h3.0M85.5 406.0h3.0M88.6 407.5h3.0M149.5 407.5h3.7M37.5 408.9h3.3M79.5 408.9h3.0M97.5 408.9h3.0M112.2 408.9h2.9M140.1 408.9h2.4M153.2 408.9h3.0M79.5 410.4h3.0M94.6 410.4h3.0M97.5 410.4h3.0M109.3 410.4h2.9M112.2 410.4h2.9M130.4 410.4h2.8M21.0 413.3h3.3M27.6 413.3h3.3M34.2 413.3h3.3M100.5 413.3h3.0M24.3 414.8h3.3M40.8 414.8h3.3M73.2 414.8h3.1M82.5 414.8h3.0M142.5 414.8h2.4M40.8 416.2h3.3M76.4 416.2h3.1M91.6 416.2h3.0M97.5 416.2h3.0M149.5 416.2h3.7M153.2 416.2h3.0M91.6 417.7h3.0M94.6 417.7h3.0M100.5 417.7h3.0M115.1 417.7h3.2M140.1 417.7h2.4M30.9 419.1h3.3M94.6 419.1h3.0M30.9 420.6h3.3M91.6 420.6h3.0M100.5 420.6h3.0M103.5 420.6h2.9M149.5 420.6h3.7M103.5 422.1h2.9M140.1 422.1h2.4M21.0 423.5h3.3M30.9 423.5h3.3M133.2 423.5h3.4M79.5 425.0h3.0M127.6 425.0h2.8M140.1 425.0h2.4M47.4 426.4h3.3M50.6 426.4h3.3M85.5 426.4h3.0M91.6 426.4h3.0M94.6 426.4h3.0M112.2 426.4h2.9M121.6 426.4h3.2M24.3 427.9h3.3M53.9 427.9h3.3M142.5 427.9h2.4M44.1 429.4h3.3M112.2 429.4h2.9M21.0 430.8h3.3M44.1 430.8h3.3M47.4 430.8h3.3M57.2 430.8h3.3M88.6 430.8h3.0M91.6 430.8h3.0M127.6 430.8h2.8M156.2 430.8h3.1M24.3 432.3h3.3M34.2 432.3h3.3M37.5 432.3h3.3M40.8 432.3h3.3M85.5 432.3h3.0M127.6 432.3h2.8M153.2 432.3h3.0M50.6 433.7h3.3M57.2 433.7h3.3M63.7 433.7h3.3M79.5 433.7h3.0M109.3 433.7h2.9M118.3 433.7h3.2M127.6 433.7h2.8M149.5 433.7h3.7M34.2 435.2h3.3M79.5 435.2h3.0M37.5 438.1h3.3M91.6 438.1h3.0M100.5 438.1h3.0M115.1 438.1h3.2M140.1 438.1h2.4M91.6 439.6h3.0M130.4 439.6h2.8M144.9 439.6h4.6M24.3 441.0h3.3M37.5 441.0h3.3M91.6 441.0h3.0M100.5 441.0h3.0M140.1 441.0h2.4M142.5 441.0h2.4M144.9 441.0h4.6M27.6 442.5h3.3M50.6 442.5h3.3M153.2 442.5h3.0M53.9 444.0h3.3M30.9 445.4h3.3M50.6 445.4h3.3M97.5 445.4h3.0M124.8 445.4h2.8M127.6 445.4h2.8M136.6 445.4h3.5M156.2 445.4h3.1M37.5 446.9h3.3M57.2 446.9h3.3M27.6 449.8h3.3M47.4 449.8h3.3M57.2 449.8h3.3M70.1 449.8h3.1M118.3 449.8h3.2M127.6 449.8h2.8M136.6 449.8h3.5M140.1 449.8h2.4M142.5 449.8h2.4M40.8 451.2h3.3M50.6 451.2h3.3M70.1 452.7h3.1M88.6 452.7h3.0M121.6 452.7h3.2M127.6 452.7h2.8M142.5 452.7h2.4M149.5 452.7h3.7M153.2 452.7h3.0M156.2 452.7h3.1M53.9 454.2h3.3M60.5 454.2h3.3M73.2 454.2h3.1M82.5 454.2h3.0M88.6 454.2h3.0M115.1 454.2h3.2M124.8 454.2h2.8M133.2 454.2h3.4M144.9 454.2h4.6M27.6 457.1h3.3M37.5 457.1h3.3M60.5 457.1h3.3M63.7 457.1h3.3M70.1 457.1h3.1M85.5 457.1h3.0M112.2 457.1h2.9M136.6 457.1h3.5M153.2 457.1h3.0M21.0 458.6h3.3M44.1 458.6h3.3M47.4 458.6h3.3M82.5 458.6h3.0M85.5 458.6h3.0M118.3 458.6h3.2M127.6 458.6h2.8M144.9 458.6h4.6M44.1 460.0h3.3M76.4 460.0h3.1M82.5 460.0h3.0M85.5 460.0h3.0M88.6 460.0h3.0M124.8 460.0h2.8M136.6 460.0h3.5M34.2 461.5h3.3M79.5 461.5h3.0M85.5 461.5h3.0M149.5 461.5h3.7M21.0 462.9h3.3M24.3 462.9h3.3M30.9 462.9h3.3M37.5 462.9h3.3M63.7 462.9h3.3M67.0 462.9h3.1M82.5 462.9h3.0M118.3 462.9h3.2M124.8 462.9h2.8M133.2 462.9h3.4M144.9 462.9h4.6M149.5 462.9h3.7M153.2 462.9h3.0M50.6 465.9h3.3M97.5 465.9h3.0M136.6 465.9h3.5M57.2 467.3h3.3M156.2 467.3h3.1M24.3 468.8h3.3M30.9 468.8h3.3M149.5 468.8h3.7M21.0 470.2h3.3M30.9 470.2h3.3M91.6 470.2h3.0M115.1 470.2h3.2M127.6 470.2h2.8M144.9 470.2h4.6M149.5 470.2h3.7M30.9 471.7h3.3M50.6 471.7h3.3M76.4 471.7h3.1M97.5 471.7h3.0M127.6 471.7h2.8M63.7 477.5h3.3M76.4 477.5h3.1M82.5 477.5h3.0M88.6 477.5h3.0M100.5 477.5h3.0M103.5 477.5h2.9M109.3 477.5h2.9M136.6 477.5h3.5M142.5 477.5h2.4M144.9 477.5h4.6M21.0 479.0h3.3M27.6 479.0h3.3M47.4 479.0h3.3M47.4 480.5h3.3M67.0 480.5h3.1M82.5 480.5h3.0M85.5 480.5h3.0M130.4 481.9h2.8M136.6 481.9h3.5M133.2 483.4h3.4M27.6 486.3h3.3M53.9 486.3h3.3M67.0 486.3h3.1M106.4 486.3h2.9M142.5 486.3h2.4M24.3 487.8h3.3M27.6 487.8h3.3M47.4 487.8h3.3M73.2 487.8h3.1M115.1 487.8h3.2M133.2 487.8h3.4M140.1 487.8h2.4M149.5 487.8h3.7M63.7 489.2h3.3M91.6 492.1h3.0M100.5 492.1h3.0M106.4 492.1h2.9M88.6 493.6h3.0M34.2 495.1h3.3M82.5 495.1h3.0M60.5 496.5h3.3M70.1 496.5h3.1M73.2 496.5h3.1M94.6 496.5h3.0M142.5 498.0h2.4M47.4 503.8h3.3M82.5 503.8h3.0M85.5 503.8h3.0M91.6 503.8h3.0M106.4 503.8h2.9M112.2 503.8h2.9M127.6 503.8h2.8M130.4 503.8h2.8M24.3 505.3h3.3M40.8 505.3h3.3M63.7 505.3h3.3M103.5 512.6h2.9M124.8 512.6h2.8M140.1 512.6h2.4M153.2 512.6h3.0M57.2 514.0h3.3M73.2 514.0h3.1M133.2 514.0h3.4M136.6 514.0h3.5M40.8 518.4h3.3M47.4 518.4h3.3M50.6 518.4h3.3M91.6 518.4h3.0M94.6 518.4h3.0M118.3 518.4h3.2M121.6 518.4h3.2M149.5 518.4h3.7M53.9 522.8h3.3M100.5 528.6h3.0M109.3 528.6h2.9M140.1 528.6h2.4M149.5 528.6h3.7" stroke="#603c3c" stroke-width="1.51" fill="none"/>
<path d="M73.2 397.2h3.1M82.5 397.2h3.0M106.4 397.2h2.9M124.8 397.2h2.8M130.4 397.2h2.8M140.1 397.2h2.4M149.5 397.2h3.7M103.5 398.7h2.9M124.8 398.7h2.8M153.2 398.7h3.0M79.5 400.2h3.0M85.5 400.2h3.0M127.6 400.2h2.8M144.9 400.2h4.6M149.5 400.2h3.7M153.2 400.2h3.0M156.2 400.2h3.1M73.2 403.1h3.1M70.1 404.5h3.1M88.6 404.5h3.0M127.6 404.5h2.8M149.5 404.5h3.7M76.4 407.5h3.1M82.5 407.5h3.0M91.6 407.5h3.0M100.5 407.5h3.0M103.5 407.5h2.9M136.6 407.5h3.5M140.1 407.5h2.4M73.2 408.9h3.1M91.6 408.9h3.0M109.3 408.9h2.9M124.8 408.9h2.8M133.2 408.9h3.4M149.5 408.9h3.7M82.5 410.4h3.0M153.2 410.4h3.0M94.6 411.8h3.0M97.5 411.8h3.0M103.5 411.8h2.9M106.4 411.8h2.9M127.6 411.8h2.8M76.4 413.3h3.1M103.5 413.3h2.9M115.1 413.3h3.2M130.4 413.3h2.8M142.5 413.3h2.4M149.5 413.3h3.7M156.2 413.3h3.1M109.3 414.8h2.9M124.8 414.8h2.8M103.5 416.2h2.9M106.4 416.2h2.9M112.2 416.2h2.9M115.1 416.2h3.2M121.6 416.2h3.2M127.6 416.2h2.8M156.2 416.2h3.1M82.5 417.7h3.0M97.5 417.7h3.0M109.3 417.7h2.9M73.2 419.1h3.1M100.5 419.1h3.0M109.3 419.1h2.9M124.8 419.1h2.8M94.6 420.6h3.0M118.3 420.6h3.2M73.2 422.1h3.1M76.4 422.1h3.1M79.5 422.1h3.0M124.8 422.1h2.8M142.5 422.1h2.4M144.9 422.1h4.6M50.6 423.5h3.3M97.5 423.5h3.0M100.5 423.5h3.0M127.6 423.5h2.8M130.4 423.5h2.8M136.6 423.5h3.5M144.9 423.5h4.6M27.6 425.0h3.3M34.2 425.0h3.3M37.5 425.0h3.3M40.8 425.0h3.3M44.1 425.0h3.3M47.4 425.0h3.3M63.7 425.0h3.3M97.5 425.0h3.0M100.5 425.0h3.0M109.3 425.0h2.9M142.5 425.0h2.4M153.2 425.0h3.0M44.1 427.9h3.3M103.5 427.9h2.9M130.4 427.9h2.8M140.1 427.9h2.4M24.3 429.4h3.3M27.6 429.4h3.3M30.9 429.4h3.3M40.8 429.4h3.3M50.6 429.4h3.3M53.9 429.4h3.3M57.2 429.4h3.3M124.8 429.4h2.8M156.2 429.4h3.1M24.3 430.8h3.3M118.3 430.8h3.2M91.6 433.7h3.0M121.6 433.7h3.2M133.2 433.7h3.4M27.6 435.2h3.3M37.5 435.2h3.3M100.5 435.2h3.0M136.6 435.2h3.5M140.1 435.2h2.4M142.5 435.2h2.4M37.5 436.7h3.3M60.5 436.7h3.3M156.2 436.7h3.1M21.0 438.1h3.3M40.8 438.1h3.3M57.2 438.1h3.3M60.5 438.1h3.3M97.5 438.1h3.0M103.5 438.1h2.9M106.4 438.1h2.9M121.6 438.1h3.2M133.2 438.1h3.4M149.5 438.1h3.7M153.2 438.1h3.0M156.2 438.1h3.1M34.2 439.6h3.3M44.1 439.6h3.3M97.5 439.6h3.0M115.1 439.6h3.2M44.1 441.0h3.3M47.4 441.0h3.3M94.6 441.0h3.0M130.4 441.0h2.8M47.4 442.5h3.3M118.3 442.5h3.2M144.9 442.5h4.6M50.6 444.0h3.3M91.6 444.0h3.0M121.6 444.0h3.2M124.8 444.0h2.8M130.4 445.4h2.8M40.8 446.9h3.3M60.5 446.9h3.3M97.5 446.9h3.0M100.5 446.9h3.0M106.4 446.9h2.9M109.3 446.9h2.9M121.6 446.9h3.2M133.2 446.9h3.4M144.9 446.9h4.6M149.5 446.9h3.7M153.2 446.9h3.0M21.0 448.3h3.3M34.2 448.3h3.3M40.8 448.3h3.3M50.6 448.3h3.3M57.2 448.3h3.3M67.0 448.3h3.1M76.4 448.3h3.1M133.2 448.3h3.4M60.5 449.8h3.3M67.0 449.8h3.1M76.4 449.8h3.1M115.1 449.8h3.2M124.8 449.8h2.8M133.2 449.8h3.4M37.5 451.2h3.3M106.4 451.2h2.9M115.1 451.2h3.2M133.2 451.2h3.4M50.6 452.7h3.3M67.0 452.7h3.1M85.5 452.7h3.0M103.5 452.7h2.9M136.6 455.6h3.5M73.2 458.6h3.1M88.6 458.6h3.0M121.6 458.6h3.2M130.4 458.6h2.8M142.5 458.6h2.4M149.5 458.6h3.7M30.9 460.0h3.3M94.6 460.0h3.0M140.1 460.0h2.4M47.4 461.5h3.3M53.9 461.5h3.3M63.7 461.5h3.3M67.0 461.5h3.1M73.2 461.5h3.1M94.6 461.5h3.0M97.5 461.5h3.0M130.4 461.5h2.8M133.2 461.5h3.4M136.6 461.5h3.5M30.9 465.9h3.3M34.2 465.9h3.3M44.1 465.9h3.3M57.2 465.9h3.3M70.1 465.9h3.1M76.4 465.9h3.1M91.6 465.9h3.0M142.5 465.9h2.4M153.2 465.9h3.0M21.0 467.3h3.3M27.6 467.3h3.3M30.9 467.3h3.3M44.1 467.3h3.3M73.2 467.3h3.1M115.1 467.3h3.2M34.2 468.8h3.3M40.8 470.2h3.3M50.6 470.2h3.3M124.8 470.2h2.8M142.5 473.2h2.4M144.9 473.2h4.6M124.8 474.6h2.8M144.9 474.6h4.6M149.5 474.6h3.7M53.9 476.1h3.3M73.2 476.1h3.1M97.5 476.1h3.0M127.6 477.5h2.8M79.5 479.0h3.0M127.6 479.0h2.8M133.2 479.0h3.4M136.6 479.0h3.5M144.9 479.0h4.6M153.2 479.0h3.0M27.6 480.5h3.3M34.2 480.5h3.3M50.6 480.5h3.3M57.2 480.5h3.3M70.1 480.5h3.1M76.4 480.5h3.1M79.5 480.5h3.0M127.6 480.5h2.8M144.9 480.5h4.6M34.2 481.9h3.3M44.1 481.9h3.3M50.6 481.9h3.3M85.5 481.9h3.0M94.6 481.9h3.0M97.5 481.9h3.0M100.5 481.9h3.0M106.4 481.9h2.9M149.5 481.9h3.7M156.2 481.9h3.1M140.1 484.8h2.4M142.5 484.8h2.4M47.4 486.3h3.3M60.5 486.3h3.3M63.7 486.3h3.3M76.4 486.3h3.1M100.5 486.3h3.0M103.5 486.3h2.9M133.2 486.3h3.4M30.9 487.8h3.3M34.2 487.8h3.3M63.7 487.8h3.3M85.5 487.8h3.0M91.6 487.8h3.0M97.5 487.8h3.0M100.5 487.8h3.0M103.5 487.8h2.9M21.0 489.2h3.3M27.6 489.2h3.3M30.9 489.2h3.3M34.2 489.2h3.3M47.4 489.2h3.3M103.5 489.2h2.9M153.2 489.2h3.0M156.2 489.2h3.1M67.0 490.7h3.1M133.2 490.7h3.4M40.8 492.1h3.3M47.4 492.1h3.3M142.5 492.1h2.4M21.0 493.6h3.3M27.6 493.6h3.3M57.2 493.6h3.3M73.2 493.6h3.1M85.5 493.6h3.0M91.6 493.6h3.0M100.5 493.6h3.0M106.4 493.6h2.9M149.5 493.6h3.7M153.2 493.6h3.0M21.0 495.1h3.3M27.6 495.1h3.3M37.5 495.1h3.3M40.8 495.1h3.3M67.0 495.1h3.1M79.5 495.1h3.0M103.5 495.1h2.9M118.3 495.1h3.2M144.9 495.1h4.6M44.1 496.5h3.3M82.5 496.5h3.0M103.5 496.5h2.9M109.3 496.5h2.9M140.1 496.5h2.4M34.2 498.0h3.3M44.1 498.0h3.3M50.6 498.0h3.3M60.5 498.0h3.3M67.0 498.0h3.1M124.8 498.0h2.8M140.1 498.0h2.4M144.9 498.0h4.6M30.9 503.8h3.3M44.1 503.8h3.3M124.8 503.8h2.8M27.6 505.3h3.3M50.6 505.3h3.3M57.2 505.3h3.3M85.5 505.3h3.0M103.5 505.3h2.9M127.6 505.3h2.8M133.2 505.3h3.4M47.4 506.7h3.3M67.0 506.7h3.1M88.6 506.7h3.0M27.6 511.1h3.3M130.4 511.1h2.8M30.9 512.6h3.3M76.4 512.6h3.1M109.3 512.6h2.9M121.6 512.6h3.2M130.4 512.6h2.8M136.6 512.6h3.5M30.9 514.0h3.3M47.4 514.0h3.3M91.6 514.0h3.0M112.2 514.0h2.9M118.3 514.0h3.2M60.5 515.5h3.3M112.2 515.5h2.9M140.1 515.5h2.4M34.2 518.4h3.3M82.5 518.4h3.0M88.6 518.4h3.0M24.3 522.8h3.3M27.6 522.8h3.3M63.7 522.8h3.3M91.6 522.8h3.0M103.5 522.8h2.9M109.3 522.8h2.9M112.2 522.8h2.9M118.3 522.8h3.2M124.8 522.8h2.8M130.4 522.8h2.8M136.6 522.8h3.5M53.9 527.2h3.3M85.5 527.2h3.0M27.6 528.6h3.3M47.4 528.6h3.3M53.9 528.6h3.3M57.2 528.6h3.3M76.4 528.6h3.1M82.5 528.6h3.0M103.5 528.6h2.9M124.8 528.6h2.8M156.2 528.6h3.1" stroke="#3c183c" stroke-width="1.51" fill="none"/>
<path d="M85.5 397.2h3.0M94.6 397.2h3.0M121.6 398.7h3.2M130.4 400.2h2.8M144.9 408.9h4.6M76.4 411.8h3.1M109.3 411.8h2.9M118.3 411.8h3.2M149.5 411.8h3.7M79.5 416.2h3.0M100.5 416.2h3.0M140.1 416.2h2.4M73.2 417.7h3.1M34.2 423.5h3.3M44.1 423.5h3.3M156.2 425.0h3.1M97.5 429.4h3.0M121.6 429.4h3.2M142.5 429.4h2.4M149.5 430.8h3.7M91.6 432.3h3.0M97.5 433.7h3.0M106.4 436.7h2.9M50.6 438.1h3.3M53.9 438.1h3.3M118.3 438.1h3.2M37.5 439.6h3.3M118.3 441.0h3.2M133.2 445.4h3.4M21.0 446.9h3.3M94.6 446.9h3.0M118.3 446.9h3.2M140.1 446.9h2.4M85.5 448.3h3.0M118.3 448.3h3.2M144.9 448.3h4.6M124.8 452.7h2.8M127.6 455.6h2.8M30.9 458.6h3.3M142.5 461.5h2.4M40.8 462.9h3.3M124.8 464.4h2.8M100.5 465.9h3.0M82.5 467.3h3.0M124.8 467.3h2.8M142.5 468.8h2.4M53.9 470.2h3.3M57.2 470.2h3.3M60.5 470.2h3.3M94.6 470.2h3.0M153.2 470.2h3.0M130.4 473.2h2.8M156.2 473.2h3.1M24.3 477.5h3.3M34.2 477.5h3.3M47.4 477.5h3.3M53.9 477.5h3.3M140.1 477.5h2.4M88.6 479.0h3.0M136.6 480.5h3.5M53.9 481.9h3.3M91.6 486.3h3.0M94.6 486.3h3.0M44.1 487.8h3.3M133.2 489.2h3.4M27.6 490.7h3.3M57.2 490.7h3.3M100.5 490.7h3.0M79.5 492.1h3.0M121.6 492.1h3.2M97.5 495.1h3.0M156.2 495.1h3.1M63.7 496.5h3.3M112.2 496.5h2.9M24.3 498.0h3.3M40.8 498.0h3.3M91.6 505.3h3.0M30.9 511.1h3.3M70.1 511.1h3.1M53.9 514.0h3.3M121.6 514.0h3.2M142.5 514.0h2.4M21.0 517.0h3.3M103.5 518.4h2.9" stroke="#3c0c3c" stroke-width="1.51" fill="none"/>
<path d="M97.5 397.2h3.0M100.5 397.2h3.0M115.1 397.2h3.2M67.0 398.7h3.1M70.1 398.7h3.1M79.5 398.7h3.0M85.5 398.7h3.0M97.5 398.7h3.0M100.5 398.7h3.0M149.5 398.7h3.7M44.1 400.2h3.3M50.6 400.2h3.3M57.2 400.2h3.3M82.5 400.2h3.0M94.6 400.2h3.0M103.5 400.2h2.9M106.4 400.2h2.9M133.2 400.2h3.4M136.6 400.2h3.5M142.5 400.2h2.4M63.7 401.6h3.3M82.5 401.6h3.0M103.5 401.6h2.9M115.1 401.6h3.2M142.5 401.6h2.4M47.4 403.1h3.3M50.6 403.1h3.3M76.4 403.1h3.1M82.5 403.1h3.0M115.1 403.1h3.2M130.4 403.1h2.8M76.4 404.5h3.1M79.5 404.5h3.0M136.6 404.5h3.5M142.5 404.5h2.4M60.5 406.0h3.3M67.0 406.0h3.1M94.6 406.0h3.0M103.5 406.0h2.9M73.2 407.5h3.1M85.5 407.5h3.0M124.8 407.5h2.8M153.2 407.5h3.0M156.2 407.5h3.1M44.1 408.9h3.3M57.2 408.9h3.3M94.6 408.9h3.0M106.4 408.9h2.9M115.1 408.9h3.2M121.6 408.9h3.2M127.6 408.9h2.8M53.9 410.4h3.3M60.5 410.4h3.3M67.0 410.4h3.1M91.6 410.4h3.0M103.5 410.4h2.9M118.3 410.4h3.2M133.2 410.4h3.4M82.5 411.8h3.0M88.6 411.8h3.0M130.4 411.8h2.8M136.6 411.8h3.5M140.1 411.8h2.4M144.9 411.8h4.6M70.1 413.3h3.1M73.2 413.3h3.1M82.5 413.3h3.0M97.5 413.3h3.0M127.6 413.3h2.8M153.2 413.3h3.0M76.4 414.8h3.1M100.5 414.8h3.0M103.5 414.8h2.9M118.3 414.8h3.2M149.5 414.8h3.7M67.0 416.2h3.1M70.1 416.2h3.1M85.5 416.2h3.0M88.6 416.2h3.0M94.6 416.2h3.0M118.3 416.2h3.2M124.8 417.7h2.8M136.6 417.7h3.5M149.5 417.7h3.7M153.2 417.7h3.0M67.0 419.1h3.1M112.2 419.1h2.9M121.6 419.1h3.2M140.1 419.1h2.4M67.0 420.6h3.1M76.4 420.6h3.1M79.5 420.6h3.0M82.5 420.6h3.0M112.2 420.6h2.9M127.6 420.6h2.8M70.1 422.1h3.1M82.5 422.1h3.0M97.5 422.1h3.0M136.6 422.1h3.5M27.6 423.5h3.3M40.8 423.5h3.3M57.2 423.5h3.3M79.5 423.5h3.0M112.2 423.5h2.9M142.5 423.5h2.4M21.0 425.0h3.3M82.5 425.0h3.0M94.6 425.0h3.0M106.4 425.0h2.9M130.4 425.0h2.8M133.2 425.0h3.4M40.8 426.4h3.3M109.3 426.4h2.9M130.4 426.4h2.8M21.0 427.9h3.3M37.5 427.9h3.3M40.8 427.9h3.3M112.2 427.9h2.9M156.2 427.9h3.1M21.0 429.4h3.3M47.4 429.4h3.3M60.5 429.4h3.3M100.5 429.4h3.0M103.5 429.4h2.9M106.4 429.4h2.9M133.2 429.4h3.4M149.5 429.4h3.7M53.9 430.8h3.3M60.5 430.8h3.3M63.7 430.8h3.3M106.4 430.8h2.9M109.3 430.8h2.9M124.8 430.8h2.8M140.1 430.8h2.4M57.2 432.3h3.3M100.5 432.3h3.0M103.5 432.3h2.9M112.2 432.3h2.9M115.1 432.3h3.2M149.5 432.3h3.7M27.6 433.7h3.3M30.9 433.7h3.3M44.1 433.7h3.3M60.5 433.7h3.3M136.6 433.7h3.5M142.5 433.7h2.4M144.9 433.7h4.6M153.2 433.7h3.0M57.2 435.2h3.3M149.5 435.2h3.7M50.6 436.7h3.3M112.2 436.7h2.9M115.1 436.7h3.2M24.3 438.1h3.3M47.4 438.1h3.3M94.6 438.1h3.0M109.3 438.1h2.9M144.9 438.1h4.6M50.6 439.6h3.3M53.9 439.6h3.3M100.5 439.6h3.0M121.6 439.6h3.2M140.1 439.6h2.4M153.2 439.6h3.0M34.2 441.0h3.3M53.9 441.0h3.3M112.2 441.0h2.9M127.6 441.0h2.8M153.2 441.0h3.0M57.2 442.5h3.3M63.7 442.5h3.3M121.6 442.5h3.2M127.6 442.5h2.8M140.1 442.5h2.4M149.5 442.5h3.7M34.2 445.4h3.3M47.4 445.4h3.3M53.9 445.4h3.3M63.7 445.4h3.3M109.3 445.4h2.9M112.2 445.4h2.9M115.1 445.4h3.2M118.3 445.4h3.2M24.3 446.9h3.3M30.9 446.9h3.3M127.6 446.9h2.8M130.4 446.9h2.8M156.2 446.9h3.1M24.3 448.3h3.3M82.5 448.3h3.0M106.4 448.3h2.9M109.3 448.3h2.9M136.6 448.3h3.5M149.5 448.3h3.7M21.0 449.8h3.3M24.3 449.8h3.3M40.8 449.8h3.3M44.1 449.8h3.3M63.7 449.8h3.3M106.4 449.8h2.9M121.6 451.2h3.2M47.4 452.7h3.3M57.2 452.7h3.3M63.7 452.7h3.3M73.2 452.7h3.1M76.4 452.7h3.1M82.5 452.7h3.0M136.6 452.7h3.5M140.1 452.7h2.4M24.3 454.2h3.3M34.2 454.2h3.3M76.4 454.2h3.1M79.5 454.2h3.0M112.2 454.2h2.9M118.3 454.2h3.2M149.5 454.2h3.7M153.2 454.2h3.0M156.2 454.2h3.1M130.4 455.6h2.8M21.0 457.1h3.3M79.5 457.1h3.0M88.6 457.1h3.0M144.9 457.1h4.6M24.3 458.6h3.3M27.6 458.6h3.3M34.2 458.6h3.3M70.1 458.6h3.1M79.5 458.6h3.0M115.1 458.6h3.2M124.8 458.6h2.8M136.6 458.6h3.5M140.1 458.6h2.4M153.2 458.6h3.0M21.0 460.0h3.3M37.5 460.0h3.3M47.4 460.0h3.3M67.0 460.0h3.1M79.5 460.0h3.0M91.6 460.0h3.0M115.1 460.0h3.2M118.3 460.0h3.2M133.2 460.0h3.4M149.5 460.0h3.7M153.2 460.0h3.0M156.2 460.0h3.1M21.0 461.5h3.3M24.3 461.5h3.3M44.1 461.5h3.3M60.5 461.5h3.3M70.1 461.5h3.1M76.4 461.5h3.1M88.6 461.5h3.0M91.6 461.5h3.0M121.6 461.5h3.2M124.8 461.5h2.8M50.6 462.9h3.3M53.9 462.9h3.3M73.2 462.9h3.1M21.0 465.9h3.3M67.0 467.3h3.1M118.3 467.3h3.2M21.0 468.8h3.3M40.8 468.8h3.3M44.1 468.8h3.3M50.6 468.8h3.3M70.1 468.8h3.1M76.4 468.8h3.1M79.5 468.8h3.0M85.5 468.8h3.0M37.5 470.2h3.3M63.7 470.2h3.3M118.3 470.2h3.2M121.6 470.2h3.2M130.4 470.2h2.8M136.6 470.2h3.5M142.5 470.2h2.4M47.4 471.7h3.3M63.7 471.7h3.3M79.5 471.7h3.0M94.6 471.7h3.0M118.3 471.7h3.2M130.4 471.7h2.8M142.5 471.7h2.4M124.8 473.2h2.8M127.6 473.2h2.8M149.5 473.2h3.7M127.6 474.6h2.8M133.2 474.6h3.4M57.2 476.1h3.3M30.9 477.5h3.3M50.6 477.5h3.3M57.2 477.5h3.3M60.5 477.5h3.3M79.5 477.5h3.0M91.6 477.5h3.0M153.2 477.5h3.0M156.2 477.5h3.1M24.3 479.0h3.3M40.8 479.0h3.3M67.0 479.0h3.1M91.6 479.0h3.0M94.6 479.0h3.0M109.3 479.0h2.9M124.8 479.0h2.8M130.4 479.0h2.8M149.5 479.0h3.7M21.0 480.5h3.3M37.5 480.5h3.3M44.1 480.5h3.3M91.6 480.5h3.0M109.3 480.5h2.9M140.1 480.5h2.4M156.2 480.5h3.1M136.6 483.4h3.5M142.5 483.4h2.4M149.5 483.4h3.7M156.2 483.4h3.1M37.5 486.3h3.3M40.8 486.3h3.3M57.2 486.3h3.3M115.1 486.3h3.2M136.6 486.3h3.5M153.2 486.3h3.0M67.0 487.8h3.1M79.5 487.8h3.0M82.5 487.8h3.0M94.6 487.8h3.0M118.3 487.8h3.2M136.6 487.8h3.5M142.5 487.8h2.4M144.9 487.8h4.6M50.6 489.2h3.3M70.1 489.2h3.1M79.5 489.2h3.0M97.5 489.2h3.0M112.2 489.2h2.9M156.2 490.7h3.1M21.0 492.1h3.3M24.3 492.1h3.3M27.6 492.1h3.3M34.2 492.1h3.3M44.1 492.1h3.3M97.5 492.1h3.0M109.3 492.1h2.9M130.4 492.1h2.8M82.5 493.6h3.0M127.6 493.6h2.8M144.9 493.6h4.6M44.1 495.1h3.3M50.6 495.1h3.3M76.4 495.1h3.1M88.6 495.1h3.0M112.2 495.1h2.9M121.6 495.1h3.2M127.6 495.1h2.8M140.1 495.1h2.4M21.0 496.5h3.3M24.3 496.5h3.3M27.6 496.5h3.3M47.4 496.5h3.3M53.9 496.5h3.3M57.2 496.5h3.3M88.6 496.5h3.0M91.6 496.5h3.0M97.5 496.5h3.0M100.5 496.5h3.0M106.4 496.5h2.9M118.3 496.5h3.2M124.8 496.5h2.8M153.2 496.5h3.0M30.9 498.0h3.3M37.5 498.0h3.3M63.7 498.0h3.3M73.2 498.0h3.1M82.5 498.0h3.0M94.6 498.0h3.0M103.5 498.0h2.9M153.2 498.0h3.0M21.0 503.8h3.3M34.2 503.8h3.3M40.8 503.8h3.3M67.0 503.8h3.1M115.1 503.8h3.2M121.6 503.8h3.2M47.4 505.3h3.3M60.5 505.3h3.3M73.2 505.3h3.1M76.4 505.3h3.1M82.5 505.3h3.0M106.4 505.3h2.9M112.2 505.3h2.9M121.6 505.3h3.2M130.4 505.3h2.8M136.6 505.3h3.5M156.2 505.3h3.1M118.3 511.1h3.2M57.2 512.6h3.3M73.2 512.6h3.1M27.6 514.0h3.3M34.2 514.0h3.3M44.1 514.0h3.3M85.5 514.0h3.0M94.6 514.0h3.0M103.5 514.0h2.9M127.6 514.0h2.8M156.2 514.0h3.1M30.9 518.4h3.3M44.1 518.4h3.3M53.9 518.4h3.3M76.4 518.4h3.1M85.5 518.4h3.0M140.1 518.4h2.4M142.5 518.4h2.4M106.4 522.8h2.9M121.6 522.8h3.2M50.6 528.6h3.3M106.4 528.6h2.9M115.1 528.6h3.2M130.4 528.6h2.8" stroke="#54303c" stroke-width="1.51" fill="none"/>
<path d="M103.5 397.2h2.9M127.6 429.4h2.8" stroke="#481854" stroke-width="1.51" fill="none"/>
<path d="M109.3 397.2h2.9M144.9 398.7h4.6M156.2 398.7h3.1M40.8 404.5h3.3M115.1 404.5h3.2M121.6 404.5h3.2M153.2 404.5h3.0M70.1 407.5h3.1M121.6 407.5h3.2M127.6 407.5h2.8M70.1 411.8h3.1M82.5 416.2h3.0M112.2 422.1h2.9M91.6 425.0h3.0M40.8 435.2h3.3M115.1 435.2h3.2M121.6 448.3h3.2M44.1 451.2h3.3M67.0 451.2h3.1M127.6 451.2h2.8M60.5 465.9h3.3M94.6 465.9h3.0M118.3 465.9h3.2M144.9 465.9h4.6M149.5 465.9h3.7M53.9 467.3h3.3M103.5 476.1h2.9M136.6 476.1h3.5M30.9 480.5h3.3M130.4 480.5h2.8M37.5 481.9h3.3M60.5 481.9h3.3M63.7 481.9h3.3M103.5 481.9h2.9M156.2 484.8h3.1M24.3 489.2h3.3M40.8 489.2h3.3M136.6 490.7h3.5M153.2 490.7h3.0M53.9 498.0h3.3M27.6 506.7h3.3M57.2 506.7h3.3M76.4 506.7h3.1M91.6 506.7h3.0M118.3 506.7h3.2M133.2 506.7h3.4M73.2 511.1h3.1M85.5 511.1h3.0M88.6 511.1h3.0M97.5 511.1h3.0M121.6 511.1h3.2M153.2 511.1h3.0M156.2 511.1h3.1M149.5 512.6h3.7M156.2 512.6h3.1M37.5 515.5h3.3M109.3 515.5h2.9M136.6 515.5h3.5M27.6 521.3h3.3M60.5 521.3h3.3M115.1 521.3h3.2M121.6 521.3h3.2M142.5 521.3h2.4M34.2 527.2h3.3M37.5 527.2h3.3M88.6 527.2h3.0M106.4 527.2h2.9M130.4 527.2h2.8M21.0 528.6h3.3M40.8 528.6h3.3M44.1 528.6h3.3M60.5 528.6h3.3" stroke="#543c30" stroke-width="1.51" fill="none"/>
<path d="M118.3 397.2h3.2M76.4 398.7h3.1M112.2 398.7h2.9M133.2 398.7h3.4M140.1 398.7h2.4M73.2 404.5h3.1M91.6 404.5h3.0M118.3 404.5h3.2M106.4 407.5h2.9M112.2 407.5h2.9M115.1 411.8h3.2M136.6 416.2h3.5M144.9 416.2h4.6M115.1 419.1h3.2M149.5 422.1h3.7M115.1 425.0h3.2M130.4 435.2h2.8M24.3 436.7h3.3M27.6 436.7h3.3M153.2 436.7h3.0M21.0 444.0h3.3M103.5 448.3h2.9M57.2 451.2h3.3M82.5 451.2h3.0M37.5 465.9h3.3M115.1 465.9h3.2M144.9 467.3h4.6M85.5 476.1h3.0M60.5 480.5h3.3M67.0 481.9h3.1M144.9 481.9h4.6M144.9 484.8h4.6M91.6 489.2h3.0M94.6 489.2h3.0M136.6 489.2h3.5M144.9 490.7h4.6M130.4 493.6h2.8M106.4 498.0h2.9M149.5 498.0h3.7M24.3 515.5h3.3M79.5 521.3h3.0M73.2 522.8h3.1M94.6 522.8h3.0M149.5 522.8h3.7M34.2 528.6h3.3M73.2 528.6h3.1M118.3 528.6h3.2M144.9 528.6h4.6" stroke="#300c3c" stroke-width="1.51" fill="none"/>
<path d="M144.9 397.2h4.6M70.1 400.2h3.1M156.2 403.1h3.1M88.6 406.0h3.0M79.5 407.5h3.0M130.4 407.5h2.8M136.6 408.9h3.5M133.2 411.8h3.4M88.6 413.3h3.0M136.6 414.8h3.5M149.5 419.1h3.7M85.5 420.6h3.0M67.0 422.1h3.1M149.5 423.5h3.7M34.2 430.8h3.3M115.1 430.8h3.2M106.4 432.3h2.9M127.6 436.7h2.8M127.6 439.6h2.8M121.6 449.8h3.2M144.9 449.8h4.6M79.5 452.7h3.0M133.2 452.7h3.4M142.5 454.2h2.4M57.2 458.6h3.3M40.8 461.5h3.3M127.6 467.3h2.8M112.2 477.5h2.9M91.6 498.0h3.0M115.1 498.0h3.2M67.0 505.3h3.1M153.2 505.3h3.0M156.2 506.7h3.1M24.3 512.6h3.3M127.6 515.5h2.8M112.2 521.3h2.9" stroke="#6c3c48" stroke-width="1.51" fill="none"/>
<path d="M153.2 397.2h3.0M106.4 398.7h2.9M115.1 398.7h3.2M63.7 404.5h3.3M50.6 407.5h3.3M79.5 417.7h3.0M106.4 423.5h2.9M88.6 425.0h3.0M144.9 436.7h4.6M34.2 444.0h3.3M144.9 444.0h4.6M34.2 446.9h3.3M115.1 446.9h3.2M118.3 451.2h3.2M88.6 465.9h3.0M127.6 465.9h2.8M60.5 467.3h3.3M103.5 480.5h2.9M60.5 506.7h3.3M50.6 512.6h3.3M91.6 512.6h3.0M21.0 514.0h3.3M133.2 522.8h3.4" stroke="#48303c" stroke-width="1.51" fill="none"/>
<path d="M21.0 398.7h3.3M27.6 404.5h3.3M30.9 404.5h3.3M21.0 407.5h3.3M24.3 407.5h3.3M27.6 411.8h3.3M34.2 411.8h3.3M37.5 411.8h3.3M44.1 411.8h3.3M60.5 411.8h3.3M24.3 417.7h3.3M37.5 417.7h3.3M21.0 419.1h3.3M24.3 419.1h3.3M40.8 422.1h3.3M136.6 444.0h3.5M149.5 521.3h3.7M153.2 528.6h3.0" stroke="#6c5430" stroke-width="1.51" fill="none"/>
<path d="M27.6 398.7h3.3M34.2 400.2h3.3M21.0 404.5h3.3M27.6 419.1h3.3M24.3 422.1h3.3M30.9 422.1h3.3M85.5 435.2h3.0M67.0 444.0h3.1M73.2 444.0h3.1M76.4 446.9h3.1" stroke="#6c4830" stroke-width="1.51" fill="none"/>
<path d="M30.9 398.7h3.3M27.6 400.2h3.3M50.6 411.8h3.3M53.9 411.8h3.3M57.2 411.8h3.3M21.0 416.2h3.3M24.3 416.2h3.3M27.6 416.2h3.3M30.9 416.2h3.3M34.2 416.2h3.3M40.8 419.1h3.3M82.5 429.4h3.0M82.5 433.7h3.0M85.5 436.7h3.0" stroke="#785430" stroke-width="1.51" fill="none"/>
<path d="M34.2 398.7h3.3M34.2 419.1h3.3M88.6 435.2h3.0M88.6 436.7h3.0M144.9 512.6h4.6M144.9 515.5h4.6M153.2 522.8h3.0" stroke="#604830" stroke-width="1.51" fill="none"/>
<path d="M44.1 398.7h3.3M53.9 398.7h3.3M60.5 398.7h3.3M63.7 398.7h3.3M94.6 398.7h3.0M44.1 404.5h3.3M140.1 404.5h2.4M76.4 419.1h3.1M82.5 419.1h3.0M97.5 419.1h3.0M118.3 419.1h3.2M127.6 419.1h2.8M130.4 419.1h2.8M156.2 419.1h3.1M57.2 425.0h3.3M57.2 436.7h3.3M63.7 436.7h3.3M94.6 436.7h3.0M109.3 436.7h2.9M37.5 444.0h3.3M103.5 444.0h2.9M109.3 444.0h2.9M112.2 444.0h2.9M127.6 444.0h2.8M91.6 446.9h3.0M112.2 448.3h2.9M34.2 451.2h3.3M70.1 451.2h3.1M153.2 451.2h3.0M136.6 464.4h3.5M47.4 465.9h3.3M133.2 465.9h3.4M140.1 465.9h2.4M156.2 465.9h3.1M94.6 467.3h3.0M136.6 467.3h3.5M140.1 467.3h2.4M27.6 476.1h3.3M63.7 476.1h3.3M70.1 476.1h3.1M100.5 476.1h3.0M142.5 476.1h2.4M144.9 476.1h4.6M40.8 481.9h3.3M112.2 481.9h2.9M133.2 481.9h3.4M140.1 490.7h2.4M60.5 493.6h3.3M70.1 493.6h3.1M53.9 506.7h3.3M82.5 506.7h3.0M106.4 506.7h2.9M109.3 506.7h2.9M136.6 506.7h3.5M153.2 506.7h3.0M67.0 511.1h3.1M94.6 511.1h3.0M133.2 511.1h3.4M149.5 511.1h3.7M79.5 512.6h3.0M40.8 515.5h3.3M70.1 515.5h3.1M76.4 515.5h3.1M82.5 515.5h3.0M100.5 515.5h3.0M106.4 515.5h2.9M121.6 515.5h3.2M142.5 515.5h2.4M40.8 517.0h3.3M70.1 521.3h3.1M88.6 521.3h3.0M94.6 521.3h3.0M97.5 521.3h3.0M50.6 522.8h3.3M47.4 525.7h3.3M21.0 527.2h3.3M24.3 527.2h3.3M40.8 527.2h3.3M47.4 527.2h3.3M57.2 527.2h3.3M140.1 527.2h2.4M144.9 527.2h4.6M121.6 528.6h3.2M136.6 528.6h3.5" stroke="#482430" stroke-width="1.51" fill="none"/>
<path d="M82.5 398.7h3.0M91.6 398.7h3.0M100.5 404.5h3.0M106.4 404.5h2.9M24.3 423.5h3.3M124.8 425.0h2.8M44.1 435.2h3.3M106.4 435.2h2.9M133.2 435.2h3.4M124.8 436.7h2.8M136.6 436.7h3.5M24.3 444.0h3.3M112.2 446.9h2.9M30.9 448.3h3.3M79.5 448.3h3.0M153.2 448.3h3.0M30.9 451.2h3.3M103.5 451.2h2.9M136.6 451.2h3.5M115.1 455.6h3.2M50.6 467.3h3.3M76.4 467.3h3.1M133.2 467.3h3.4M30.9 476.1h3.3M37.5 476.1h3.3M44.1 476.1h3.3M153.2 476.1h3.0M82.5 481.9h3.0M60.5 489.2h3.3M24.3 493.6h3.3M94.6 493.6h3.0M115.1 493.6h3.2M24.3 506.7h3.3M30.9 506.7h3.3M40.8 506.7h3.3M70.1 506.7h3.1M127.6 506.7h2.8M37.5 511.1h3.3M47.4 511.1h3.3M53.9 511.1h3.3M60.5 511.1h3.3M91.6 511.1h3.0M136.6 511.1h3.5M73.2 515.5h3.1M94.6 515.5h3.0M130.4 515.5h2.8M40.8 521.3h3.3M67.0 521.3h3.1M100.5 521.3h3.0M136.6 521.3h3.5M88.6 522.8h3.0M100.5 522.8h3.0M115.1 522.8h3.2M144.9 522.8h4.6M27.6 527.2h3.3M70.1 527.2h3.1M79.5 527.2h3.0M82.5 527.2h3.0M121.6 527.2h3.2M133.2 527.2h3.4M24.3 528.6h3.3M70.1 528.6h3.1M91.6 528.6h3.0" stroke="#483030" stroke-width="1.51" fill="none"/>
<path d="M88.6 398.7h3.0M130.4 404.5h2.8M103.5 419.1h2.9M47.4 435.2h3.3M118.3 435.2h3.2M127.6 435.2h2.8M60.5 444.0h3.3M106.4 444.0h2.9M156.2 444.0h3.1M130.4 451.2h2.8M156.2 451.2h3.1M60.5 455.6h3.3M30.9 464.4h3.3M40.8 464.4h3.3M60.5 464.4h3.3M24.3 465.9h3.3M53.9 465.9h3.3M34.2 467.3h3.3M153.2 467.3h3.0M24.3 476.1h3.3M47.4 476.1h3.3M106.4 476.1h2.9M124.8 476.1h2.8M149.5 476.1h3.7M21.0 481.9h3.3M88.6 481.9h3.0M50.6 483.4h3.3M133.2 484.8h3.4M136.6 484.8h3.5M53.9 489.2h3.3M57.2 489.2h3.3M106.4 489.2h2.9M115.1 489.2h3.2M149.5 490.7h3.7M34.2 506.7h3.3M63.7 506.7h3.3M79.5 506.7h3.0M97.5 506.7h3.0M103.5 506.7h2.9M112.2 506.7h2.9M100.5 508.2h3.0M34.2 511.1h3.3M76.4 511.1h3.1M82.5 511.1h3.0M103.5 511.1h2.9M144.9 511.1h4.6M63.7 512.6h3.3M21.0 515.5h3.3M85.5 515.5h3.0M91.6 515.5h3.0M142.5 517.0h2.4M47.4 521.3h3.3M91.6 521.3h3.0M109.3 521.3h2.9M127.6 521.3h2.8M30.9 522.8h3.3M76.4 522.8h3.1M79.5 522.8h3.0M156.2 522.8h3.1M76.4 524.2h3.1M88.6 525.7h3.0M130.4 525.7h2.8M136.6 525.7h3.5M63.7 527.2h3.3M97.5 527.2h3.0M103.5 527.2h2.9M109.3 527.2h2.9M112.2 527.2h2.9M115.1 527.2h3.2M67.0 528.6h3.1M133.2 528.6h3.4" stroke="#3c1830" stroke-width="1.51" fill="none"/>
<path d="M109.3 398.7h2.9M67.0 404.5h3.1M82.5 404.5h3.0M103.5 404.5h2.9M112.2 404.5h2.9M124.8 404.5h2.8M156.2 404.5h3.1M79.5 411.8h3.0M85.5 411.8h3.0M112.2 411.8h2.9M142.5 416.2h2.4M70.1 419.1h3.1M85.5 419.1h3.0M91.6 419.1h3.0M106.4 419.1h2.9M142.5 419.1h2.4M144.9 419.1h4.6M153.2 419.1h3.0M85.5 422.1h3.0M37.5 423.5h3.3M47.4 423.5h3.3M103.5 423.5h2.9M112.2 425.0h2.9M24.3 435.2h3.3M91.6 435.2h3.0M103.5 435.2h2.9M156.2 435.2h3.1M133.2 436.7h3.4M149.5 436.7h3.7M27.6 444.0h3.3M63.7 444.0h3.3M97.5 444.0h3.0M100.5 444.0h3.0M118.3 444.0h3.2M142.5 444.0h2.4M27.6 448.3h3.3M60.5 451.2h3.3M85.5 451.2h3.0M109.3 451.2h2.9M142.5 451.2h2.4M144.9 451.2h4.6M37.5 461.5h3.3M50.6 461.5h3.3M73.2 465.9h3.1M121.6 465.9h3.2M124.8 465.9h2.8M88.6 467.3h3.0M91.6 467.3h3.0M149.5 467.3h3.7M34.2 476.1h3.3M60.5 476.1h3.3M88.6 476.1h3.0M133.2 476.1h3.4M24.3 481.9h3.3M27.6 481.9h3.3M47.4 481.9h3.3M70.1 481.9h3.1M142.5 481.9h2.4M73.2 489.2h3.1M121.6 489.2h3.2M30.9 493.6h3.3M37.5 493.6h3.3M47.4 493.6h3.3M50.6 493.6h3.3M63.7 493.6h3.3M124.8 493.6h2.8M21.0 506.7h3.3M37.5 506.7h3.3M94.6 506.7h3.0M100.5 506.7h3.0M149.5 506.7h3.7M40.8 511.1h3.3M57.2 511.1h3.3M79.5 511.1h3.0M106.4 511.1h2.9M109.3 511.1h2.9M44.1 512.6h3.3M82.5 512.6h3.0M27.6 515.5h3.3M30.9 515.5h3.3M50.6 515.5h3.3M53.9 515.5h3.3M67.0 515.5h3.1M97.5 515.5h3.0M133.2 515.5h3.4M149.5 515.5h3.7M21.0 521.3h3.3M44.1 521.3h3.3M50.6 521.3h3.3M73.2 521.3h3.1M82.5 521.3h3.0M133.2 521.3h3.4M21.0 522.8h3.3M60.5 522.8h3.3M67.0 522.8h3.1M82.5 522.8h3.0M85.5 522.8h3.0M76.4 527.2h3.1M156.2 527.2h3.1" stroke="#543030" stroke-width="1.51" fill="none"/>
<path d="M118.3 398.7h3.2M140.1 410.4h2.4M153.2 411.8h3.0M140.1 414.8h2.4M76.4 417.7h3.1M106.4 417.7h2.9M70.1 420.6h3.1M94.6 422.1h3.0M130.4 436.7h2.8M142.5 438.1h2.4M40.8 441.0h3.3M130.4 442.5h2.8M30.9 444.0h3.3M44.1 445.4h3.3M82.5 449.8h3.0M24.3 457.1h3.3M153.2 471.7h3.0M21.0 476.1h3.3M130.4 476.1h2.8M60.5 479.0h3.3M73.2 480.5h3.1M109.3 486.3h2.9M82.5 489.2h3.0M82.5 492.1h3.0M60.5 495.1h3.3M85.5 495.1h3.0M112.2 498.0h2.9M127.6 498.0h2.8M82.5 514.0h3.0M30.9 521.3h3.3M63.7 521.3h3.3M103.5 521.3h2.9M67.0 527.2h3.1" stroke="#603048" stroke-width="1.51" fill="none"/>
<path d="M136.6 398.7h3.5M100.5 403.1h3.0M144.9 403.1h4.6M85.5 404.5h3.0M109.3 406.0h2.9M67.0 407.5h3.1M100.5 411.8h3.0M124.8 416.2h2.8M121.6 420.6h3.2M109.3 422.1h2.9M34.2 426.4h3.3M100.5 427.9h3.0M30.9 430.8h3.3M156.2 432.3h3.1M63.7 435.2h3.3M34.2 436.7h3.3M47.4 444.0h3.3M37.5 449.8h3.3M79.5 451.2h3.0M124.8 451.2h2.8M127.6 454.2h2.8M115.1 457.1h3.2M140.1 457.1h2.4M57.2 460.0h3.3M88.6 462.9h3.0M130.4 462.9h2.8M121.6 471.7h3.2M153.2 480.5h3.0M40.8 487.8h3.3M149.5 496.5h3.7M88.6 503.8h3.0M127.6 511.1h2.8M53.9 512.6h3.3M67.0 512.6h3.1M106.4 512.6h2.9M142.5 512.6h2.4M127.6 528.6h2.8" stroke="#602454" stroke-width="1.51" fill="none"/>
<path d="M30.9 400.2h3.3M21.0 401.6h3.3M27.6 401.6h3.3M30.9 401.6h3.3M21.0 403.1h3.3M24.3 403.1h3.3M37.5 403.1h3.3M21.0 410.4h3.3M37.5 410.4h3.3M47.4 413.3h3.3M57.2 413.3h3.3M47.4 414.8h3.3M37.5 416.2h3.3M40.8 417.7h3.3M50.6 417.7h3.3M21.0 420.6h3.3M79.5 426.4h3.0M82.5 426.4h3.0M85.5 430.8h3.0M88.6 432.3h3.0M67.0 439.6h3.1M73.2 439.6h3.1M73.2 441.0h3.1M76.4 442.5h3.1M144.9 518.4h4.6" stroke="#78543c" stroke-width="1.51" fill="none"/>
<path d="M37.5 400.2h3.3M30.9 408.9h3.3M27.6 420.6h3.3M34.2 420.6h3.3M88.6 429.4h3.0M136.6 441.0h3.5" stroke="#60483c" stroke-width="1.51" fill="none"/>
<path d="M100.5 400.2h3.0M112.2 400.2h2.9M121.6 400.2h3.2M124.8 411.8h2.8M142.5 411.8h2.4M109.3 416.2h2.9M133.2 416.2h3.4M91.6 422.1h3.0M85.5 423.5h3.0M121.6 423.5h3.2M140.1 423.5h2.4M34.2 429.4h3.3M94.6 429.4h3.0M112.2 433.7h2.9M130.4 433.7h2.8M30.9 435.2h3.3M27.6 438.1h3.3M130.4 438.1h2.8M60.5 441.0h3.3M44.1 446.9h3.3M142.5 446.9h2.4M124.8 448.3h2.8M53.9 449.8h3.3M73.2 451.2h3.1M76.4 451.2h3.1M24.3 460.0h3.3M30.9 461.5h3.3M82.5 461.5h3.0M115.1 461.5h3.2M27.6 465.9h3.3M67.0 465.9h3.1M79.5 465.9h3.0M40.8 467.3h3.3M47.4 467.3h3.3M94.6 477.5h3.0M97.5 477.5h3.0M94.6 480.5h3.0M100.5 480.5h3.0M133.2 480.5h3.4M30.9 481.9h3.3M79.5 496.5h3.0M100.5 498.0h3.0M24.3 503.8h3.3M27.6 512.6h3.3M37.5 512.6h3.3M115.1 512.6h3.2M76.4 514.0h3.1M97.5 514.0h3.0M153.2 514.0h3.0M79.5 518.4h3.0" stroke="#543c3c" stroke-width="1.51" fill="none"/>
<path d="M115.1 400.2h3.2M106.4 406.0h2.9M97.5 414.8h3.0M118.3 417.7h3.2M88.6 420.6h3.0M133.2 430.8h3.4M27.6 432.3h3.3M109.3 432.3h2.9M34.2 433.7h3.3M40.8 445.4h3.3M130.4 452.7h2.8M27.6 461.5h3.3M73.2 470.2h3.1M44.1 471.7h3.3M24.3 486.3h3.3M67.0 493.6h3.1M85.5 498.0h3.0M153.2 503.8h3.0" stroke="#783c54" stroke-width="1.51" fill="none"/>
<path d="M140.1 400.2h2.4M70.1 401.6h3.1M79.5 401.6h3.0M149.5 403.1h3.7M127.6 406.0h2.8M70.1 408.9h3.1M106.4 413.3h2.9M156.2 414.8h3.1M24.3 426.4h3.3M106.4 426.4h2.9M91.6 429.4h3.0M118.3 436.7h3.2M30.9 438.1h3.3M118.3 439.6h3.2M156.2 441.0h3.1M149.5 445.4h3.7M47.4 451.2h3.3M53.9 452.7h3.3M67.0 454.2h3.1M130.4 454.2h2.8M142.5 457.1h2.4M97.5 460.0h3.0M50.6 476.1h3.3M130.4 477.5h2.8M63.7 479.0h3.3M142.5 480.5h2.4M140.1 483.4h2.4M118.3 486.3h3.2M156.2 487.8h3.1M34.2 496.5h3.3M121.6 496.5h3.2M60.5 503.8h3.3M47.4 512.6h3.3M63.7 514.0h3.3M118.3 515.5h3.2M21.0 518.4h3.3M63.7 518.4h3.3M70.1 522.8h3.1" stroke="#6c3054" stroke-width="1.51" fill="none"/>
<path d="M24.3 401.6h3.3M34.2 401.6h3.3M27.6 403.1h3.3M21.0 406.0h3.3M30.9 406.0h3.3M37.5 406.0h3.3M24.3 408.9h3.3M27.6 408.9h3.3M27.6 410.4h3.3M34.2 410.4h3.3M30.9 413.3h3.3M37.5 413.3h3.3M60.5 413.3h3.3M30.9 414.8h3.3M63.7 414.8h3.3M37.5 420.6h3.3M44.1 420.6h3.3M133.2 441.0h3.4M70.1 442.5h3.1M73.2 442.5h3.1M70.1 445.4h3.1M73.2 445.4h3.1M100.5 454.2h3.0M100.5 457.1h3.0M121.6 473.2h3.2" stroke="#84603c" stroke-width="1.51" fill="none"/>
<path d="M40.8 401.6h3.3M34.2 406.0h3.3M21.0 408.9h3.3M24.3 410.4h3.3M30.9 410.4h3.3M40.8 410.4h3.3M24.3 413.3h3.3M40.8 413.3h3.3M21.0 414.8h3.3M37.5 414.8h3.3M21.0 417.7h3.3M34.2 417.7h3.3M24.3 420.6h3.3M27.6 422.1h3.3M82.5 427.9h3.0M88.6 427.9h3.0M85.5 429.4h3.0M85.5 433.7h3.0M76.4 439.6h3.1M133.2 439.6h3.4M67.0 441.0h3.1M70.1 441.0h3.1M67.0 445.4h3.1M144.9 514.0h4.6M149.5 514.0h3.7" stroke="#6c483c" stroke-width="1.51" fill="none"/>
<path d="M60.5 401.6h3.3M121.6 401.6h3.2M149.5 401.6h3.7M53.9 403.1h3.3M57.2 403.1h3.3M60.5 403.1h3.3M44.1 406.0h3.3M50.6 406.0h3.3M97.5 406.0h3.0M130.4 406.0h2.8M136.6 406.0h3.5M47.4 410.4h3.3M63.7 410.4h3.3M67.0 417.7h3.1M136.6 419.1h3.5M103.5 425.0h2.9M57.2 426.4h3.3M60.5 426.4h3.3M144.9 426.4h4.6M91.6 427.9h3.0M50.6 432.3h3.3M53.9 432.3h3.3M21.0 436.7h3.3M156.2 442.5h3.1M53.9 451.2h3.3M140.1 451.2h2.4M21.0 454.2h3.3M27.6 454.2h3.3M106.4 455.6h2.9M47.4 457.1h3.3M82.5 457.1h3.0M70.1 462.9h3.1M76.4 462.9h3.1M142.5 462.9h2.4M67.0 464.4h3.1M97.5 467.3h3.0M53.9 468.8h3.3M27.6 471.7h3.3M37.5 471.7h3.3M85.5 471.7h3.0M144.9 471.7h4.6M156.2 471.7h3.1M79.5 476.1h3.0M94.6 476.1h3.0M37.5 487.8h3.3M140.1 489.2h2.4M100.5 512.6h3.0M63.7 515.5h3.3M153.2 515.5h3.0M76.4 521.3h3.1M142.5 522.8h2.4M30.9 527.2h3.3" stroke="#542448" stroke-width="1.51" fill="none"/>
<path d="M67.0 401.6h3.1M140.1 401.6h2.4M156.2 401.6h3.1M112.2 403.1h2.9M133.2 403.1h3.4M153.2 403.1h3.0M70.1 406.0h3.1M112.2 406.0h2.9M118.3 406.0h3.2M140.1 406.0h2.4M118.3 408.9h3.2M70.1 410.4h3.1M88.6 410.4h3.0M115.1 410.4h3.2M144.9 410.4h4.6M149.5 410.4h3.7M109.3 413.3h2.9M53.9 426.4h3.3M149.5 426.4h3.7M156.2 426.4h3.1M133.2 427.9h3.4M94.6 430.8h3.0M63.7 432.3h3.3M136.6 432.3h3.5M106.4 439.6h2.9M30.9 441.0h3.3M21.0 442.5h3.3M30.9 442.5h3.3M53.9 442.5h3.3M106.4 442.5h2.9M109.3 452.7h2.9M85.5 454.2h3.0M34.2 457.1h3.3M118.3 457.1h3.2M156.2 458.6h3.1M63.7 468.8h3.3M124.8 468.8h2.8M85.5 470.2h3.0M53.9 471.7h3.3M115.1 471.7h3.2M153.2 487.8h3.0M30.9 492.1h3.3M76.4 492.1h3.1M112.2 492.1h2.9M67.0 518.4h3.1M97.5 518.4h3.0" stroke="#60303c" stroke-width="1.51" fill="none"/>
<path d="M91.6 401.6h3.0M109.3 401.6h2.9M118.3 401.6h3.2M127.6 401.6h2.8M144.9 401.6h4.6M67.0 403.1h3.1M106.4 403.1h2.9M109.3 403.1h2.9M136.6 403.1h3.5M73.2 406.0h3.1M76.4 406.0h3.1M79.5 406.0h3.0M91.6 406.0h3.0M100.5 406.0h3.0M76.4 410.4h3.1M127.6 410.4h2.8M67.0 414.8h3.1M70.1 414.8h3.1M91.6 414.8h3.0M106.4 414.8h2.9M97.5 426.4h3.0M115.1 426.4h3.2M140.1 426.4h2.4M118.3 429.4h3.2M133.2 432.3h3.4M37.5 442.5h3.3M44.1 442.5h3.3M60.5 442.5h3.3M94.6 442.5h3.0M109.3 442.5h2.9M94.6 444.0h3.0M57.2 445.4h3.3M60.5 445.4h3.3M142.5 445.4h2.4M112.2 451.2h2.9M37.5 452.7h3.3M37.5 454.2h3.3M44.1 454.2h3.3M47.4 454.2h3.3M63.7 454.2h3.3M121.6 454.2h3.2M136.6 454.2h3.5M57.2 457.1h3.3M67.0 457.1h3.1M73.2 457.1h3.1M106.4 457.1h2.9M121.6 457.1h3.2M130.4 457.1h2.8M149.5 457.1h3.7M140.1 461.5h2.4M34.2 462.9h3.3M44.1 462.9h3.3M60.5 462.9h3.3M100.5 462.9h3.0M121.6 462.9h3.2M127.6 462.9h2.8M140.1 462.9h2.4M156.2 462.9h3.1M50.6 464.4h3.3M85.5 465.9h3.0M82.5 468.8h3.0M115.1 468.8h3.2M118.3 468.8h3.2M121.6 468.8h3.2M153.2 468.8h3.0M156.2 468.8h3.1M24.3 471.7h3.3M73.2 471.7h3.1M88.6 471.7h3.0M91.6 471.7h3.0M100.5 471.7h3.0M133.2 471.7h3.4M149.5 471.7h3.7M112.2 476.1h2.9M124.8 515.5h2.8M124.8 521.3h2.8M140.1 522.8h2.4" stroke="#481848" stroke-width="1.51" fill="none"/>
<path d="M106.4 401.6h2.9M133.2 404.5h3.4M149.5 451.2h3.7M85.5 477.5h3.0M124.8 495.1h2.8" stroke="#602448" stroke-width="1.51" fill="none"/>
<path d="M112.2 401.6h2.9M156.2 408.9h3.1M124.8 410.4h2.8M27.6 430.8h3.3M109.3 441.0h2.9M60.5 452.7h3.3M30.9 457.1h3.3M109.3 457.1h2.9M40.8 465.9h3.3M40.8 471.7h3.3M57.2 479.0h3.3M40.8 493.6h3.3M142.5 495.1h2.4M106.4 518.4h2.9" stroke="#6c3c54" stroke-width="1.51" fill="none"/>
<path d="M130.4 401.6h2.8M121.6 410.4h3.2M100.5 430.8h3.0M44.1 432.3h3.3M40.8 442.5h3.3M70.1 477.5h3.1" stroke="#6c3060" stroke-width="1.51" fill="none"/>
<path d="M153.2 401.6h3.0M115.1 406.0h3.2M121.6 406.0h3.2M142.5 406.0h2.4M153.2 406.0h3.0M133.2 414.8h3.4M27.6 426.4h3.3M44.1 426.4h3.3M100.5 426.4h3.0M57.2 427.9h3.3M109.3 427.9h2.9M124.8 427.9h2.8M103.5 430.8h2.9M142.5 432.3h2.4M30.9 452.7h3.3M27.6 468.8h3.3M124.8 471.7h2.8" stroke="#482448" stroke-width="1.51" fill="none"/>
<path d="M30.9 403.1h3.3M40.8 406.0h3.3M73.2 410.4h3.1M40.8 457.1h3.3M85.5 462.9h3.0" stroke="#6c3c3c" stroke-width="1.51" fill="none"/>
<path d="M94.6 403.1h3.0M85.5 410.4h3.0M100.5 470.2h3.0" stroke="#6c2460" stroke-width="1.51" fill="none"/>
<path d="M103.5 403.1h2.9M76.4 408.9h3.1M127.6 414.8h2.8M37.5 430.8h3.3M44.1 457.1h3.3M79.5 462.9h3.0M34.2 471.7h3.3M88.6 487.8h3.0M149.5 492.1h3.7" stroke="#602460" stroke-width="1.51" fill="none"/>
<path d="M127.6 403.1h2.8M109.3 404.5h2.9M144.9 407.5h4.6M85.5 408.9h3.0M156.2 410.4h3.1M156.2 423.5h3.1M142.5 426.4h2.4M130.4 430.8h2.8M47.4 433.7h3.3M94.6 435.2h3.0M109.3 435.2h2.9M153.2 435.2h3.0M47.4 436.7h3.3M63.7 438.1h3.3M149.5 444.0h3.7M27.6 445.4h3.3M57.2 468.8h3.3M47.4 470.2h3.3M79.5 470.2h3.0M97.5 470.2h3.0M133.2 470.2h3.4M140.1 473.2h2.4M76.4 476.1h3.1M73.2 479.0h3.1M153.2 484.8h3.0M37.5 496.5h3.3M27.6 498.0h3.3M109.3 503.8h2.9M37.5 505.3h3.3M112.2 512.6h2.9M40.8 514.0h3.3M130.4 514.0h2.8M88.6 515.5h3.0M37.5 528.6h3.3M85.5 528.6h3.0M97.5 528.6h3.0" stroke="#541854" stroke-width="1.51" fill="none"/>
<path d="M47.4 404.5h3.3M144.9 404.5h4.6M53.9 407.5h3.3M133.2 419.1h3.4M97.5 436.7h3.0M40.8 444.0h3.3M44.1 444.0h3.3M60.5 448.3h3.3M24.3 451.2h3.3M76.4 455.6h3.1M118.3 455.6h3.2M27.6 464.4h3.3M37.5 464.4h3.3M53.9 464.4h3.3M76.4 464.4h3.1M94.6 464.4h3.0M97.5 464.4h3.0M118.3 464.4h3.2M121.6 464.4h3.2M127.6 464.4h2.8M133.2 464.4h3.4M140.1 464.4h2.4M144.9 464.4h4.6M156.2 464.4h3.1M109.3 476.1h2.9M140.1 476.1h2.4M109.3 481.9h2.9M127.6 481.9h2.8M27.6 483.4h3.3M44.1 489.2h3.3M67.0 489.2h3.1M109.3 489.2h2.9M34.2 493.6h3.3M50.6 506.7h3.3M115.1 506.7h3.2M124.8 506.7h2.8M130.4 506.7h2.8M24.3 511.1h3.3M94.6 512.6h3.0M133.2 512.6h3.4M57.2 521.3h3.3M106.4 521.3h2.9M156.2 521.3h3.1M149.5 524.2h3.7M40.8 525.7h3.3M50.6 527.2h3.3M73.2 527.2h3.1M91.6 527.2h3.0M94.6 527.2h3.0M118.3 527.2h3.2M124.8 527.2h2.8M142.5 527.2h2.4M149.5 527.2h3.7" stroke="#3c2430" stroke-width="1.51" fill="none"/>
<path d="M24.3 406.0h3.3M34.2 408.9h3.3M40.8 408.9h3.3M34.2 414.8h3.3M27.6 417.7h3.3M47.4 417.7h3.3M40.8 420.6h3.3M82.5 430.8h3.0M79.5 432.3h3.0M82.5 432.3h3.0M70.1 439.6h3.1M136.6 442.5h3.5M142.5 499.4h2.4M156.2 535.9h3.1" stroke="#78603c" stroke-width="1.51" fill="none"/>
<path d="M124.8 406.0h2.8M50.6 427.9h3.3M60.5 427.9h3.3M115.1 427.9h3.2M127.6 427.9h2.8M97.5 442.5h3.0M142.5 442.5h2.4M144.9 445.4h4.6M140.1 454.2h2.4M76.4 457.1h3.1M133.2 457.1h3.4M156.2 457.1h3.1M27.6 460.0h3.3M27.6 462.9h3.3M88.6 468.8h3.0M67.0 471.7h3.1M140.1 471.7h2.4M115.1 492.1h3.2" stroke="#3c1848" stroke-width="1.51" fill="none"/>
<path d="M144.9 406.0h4.6M156.2 406.0h3.1M142.5 408.9h2.4M118.3 432.3h3.2M21.0 445.4h3.3M112.2 449.8h2.9M79.5 486.3h3.0M70.1 487.8h3.1M44.1 511.1h3.3M70.1 518.4h3.1" stroke="#603054" stroke-width="1.51" fill="none"/>
<path d="M63.7 407.5h3.3M133.2 422.1h3.4M156.2 448.3h3.1M79.5 467.3h3.0M40.8 476.1h3.3M127.6 476.1h2.8M121.6 493.6h3.2M156.2 493.6h3.1M124.8 511.1h2.8M103.5 515.5h2.9M115.1 515.5h3.2" stroke="#3c243c" stroke-width="1.51" fill="none"/>
<path d="M106.4 410.4h2.9M88.6 414.8h3.0" stroke="#3c0c48" stroke-width="1.51" fill="none"/>
<path d="M47.4 411.8h3.3M53.9 416.2h3.3M63.7 416.2h3.3M63.7 422.1h3.3M67.0 435.2h3.1M73.2 436.7h3.1M79.5 438.1h3.0M82.5 438.1h3.0M109.3 465.9h2.9M115.1 473.2h3.2" stroke="#9c9030" stroke-width="1.51" fill="none"/>
<path d="M44.1 413.3h3.3M57.2 416.2h3.3M57.2 419.1h3.3M63.7 419.1h3.3M53.9 420.6h3.3M60.5 420.6h3.3M63.7 420.6h3.3M44.1 422.1h3.3M76.4 425.0h3.1M70.1 429.4h3.1M73.2 429.4h3.1M76.4 435.2h3.1M73.2 438.1h3.1M76.4 438.1h3.1M88.6 438.1h3.0M85.5 441.0h3.0M79.5 442.5h3.0M91.6 448.3h3.0M100.5 448.3h3.0M94.6 449.8h3.0M94.6 452.7h3.0M100.5 452.7h3.0M103.5 460.0h2.9M106.4 460.0h2.9M109.3 460.0h2.9M112.2 460.0h2.9M106.4 461.5h2.9M112.2 467.3h2.9M112.2 468.8h2.9M112.2 470.2h2.9M118.3 473.2h3.2M118.3 474.6h3.2M115.1 481.9h3.2M127.6 483.4h2.8M130.4 483.4h2.8M130.4 484.8h2.8M133.2 496.5h3.4M140.1 502.4h2.4M142.5 502.4h2.4M140.1 503.8h2.4M140.1 505.3h2.4M140.1 511.1h2.4M142.5 511.1h2.4M153.2 527.2h3.0M156.2 530.1h3.1M156.2 531.5h3.1" stroke="#907830" stroke-width="1.51" fill="none"/>
<path d="M53.9 413.3h3.3M47.4 416.2h3.3M57.2 417.7h3.3M44.1 419.1h3.3M50.6 422.1h3.3M60.5 422.1h3.3M73.2 435.2h3.1M67.0 438.1h3.1M79.5 439.6h3.0M76.4 441.0h3.1M82.5 446.9h3.0M91.6 451.2h3.0M112.2 458.6h2.9M112.2 461.5h2.9M106.4 465.9h2.9M109.3 467.3h2.9M106.4 470.2h2.9M124.8 484.8h2.8M124.8 489.2h2.8M133.2 492.1h3.4M136.6 492.1h3.5M136.6 493.6h3.5M136.6 496.5h3.5M142.5 500.9h2.4M153.2 521.3h3.0" stroke="#846c30" stroke-width="1.51" fill="none"/>
<path d="M63.7 413.3h3.3M44.1 414.8h3.3M50.6 414.8h3.3M53.9 414.8h3.3M57.2 414.8h3.3M47.4 419.1h3.3M60.5 419.1h3.3M50.6 420.6h3.3M57.2 420.6h3.3M73.2 423.5h3.1M70.1 430.8h3.1M73.2 430.8h3.1M70.1 435.2h3.1M85.5 439.6h3.0M82.5 442.5h3.0M88.6 444.0h3.0M82.5 445.4h3.0M85.5 445.4h3.0M97.5 448.3h3.0M100.5 449.8h3.0M94.6 451.2h3.0M97.5 451.2h3.0M91.6 452.7h3.0M103.5 462.9h2.9M106.4 467.3h2.9M103.5 468.8h2.9M103.5 471.7h2.9M121.6 477.5h3.2M127.6 486.3h2.8M133.2 495.1h3.4M133.2 498.0h3.4M136.6 498.0h3.5M140.1 499.4h2.4M140.1 500.9h2.4M142.5 505.3h2.4M140.1 506.7h2.4" stroke="#9c8430" stroke-width="1.51" fill="none"/>
<path d="M85.5 413.3h3.0M37.5 468.8h3.3M82.5 486.3h3.0" stroke="#6c3048" stroke-width="1.51" fill="none"/>
<path d="M27.6 414.8h3.3M60.5 414.8h3.3M67.0 442.5h3.1M97.5 454.2h3.0M109.3 471.7h2.9M142.5 503.8h2.4" stroke="#846c3c" stroke-width="1.51" fill="none"/>
<path d="M85.5 414.8h3.0M130.4 417.7h2.8M118.3 425.0h3.2M118.3 427.9h3.2M121.6 427.9h3.2M144.9 432.3h4.6M136.6 438.1h3.5M91.6 442.5h3.0M88.6 451.2h3.0M100.5 458.6h3.0M57.2 462.9h3.3M73.2 468.8h3.1M44.1 470.2h3.3M57.2 471.7h3.3M24.3 514.0h3.3M79.5 515.5h3.0" stroke="#601860" stroke-width="1.51" fill="none"/>
<path d="M50.6 416.2h3.3M47.4 422.1h3.3M88.6 446.9h3.0M100.5 451.2h3.0M103.5 465.9h2.9" stroke="#908430" stroke-width="1.51" fill="none"/>
<path d="M44.1 417.7h3.3M67.0 427.9h3.1M79.5 445.4h3.0M109.3 461.5h2.9M124.8 487.8h2.8" stroke="#906c30" stroke-width="1.51" fill="none"/>
<path d="M79.5 419.1h3.0M156.2 433.7h3.1M112.2 435.2h2.9M91.6 436.7h3.0M140.1 436.7h2.4M24.3 467.3h3.3M79.5 505.3h3.0" stroke="#541848" stroke-width="1.51" fill="none"/>
<path d="M47.4 420.6h3.3M67.0 426.4h3.1M73.2 427.9h3.1M67.0 433.7h3.1M76.4 433.7h3.1M91.6 449.8h3.0M91.6 454.2h3.0M97.5 455.6h3.0M100.5 455.6h3.0M91.6 457.1h3.0M103.5 458.6h2.9M106.4 458.6h2.9M103.5 461.5h2.9M112.2 462.9h2.9M103.5 464.4h2.9M112.2 465.9h2.9M109.3 468.8h2.9M115.1 476.1h3.2M115.1 477.5h3.2M118.3 481.9h3.2M124.8 483.4h2.8M127.6 487.8h2.8M130.4 487.8h2.8M133.2 493.6h3.4M156.2 534.5h3.1M156.2 537.4h3.1" stroke="#a89030" stroke-width="1.51" fill="none"/>
<path d="M53.9 422.1h3.3M70.1 444.0h3.1M112.2 464.4h2.9" stroke="#847830" stroke-width="1.51" fill="none"/>
<path d="M67.0 423.5h3.1M67.0 425.0h3.1M70.1 425.0h3.1M73.2 425.0h3.1M67.0 430.8h3.1M76.4 430.8h3.1M70.1 438.1h3.1M79.5 441.0h3.0M88.6 442.5h3.0M85.5 446.9h3.0M91.6 455.6h3.0M109.3 458.6h2.9M106.4 462.9h2.9M109.3 462.9h2.9M106.4 464.4h2.9M103.5 467.3h2.9M106.4 468.8h2.9M118.3 476.1h3.2M121.6 476.1h3.2M118.3 479.0h3.2M121.6 479.0h3.2M127.6 484.8h2.8M127.6 489.2h2.8" stroke="#b4a830" stroke-width="1.51" fill="none"/>
<path d="M70.1 423.5h3.1M73.2 426.4h3.1M76.4 426.4h3.1M67.0 429.4h3.1M73.2 432.3h3.1M88.6 441.0h3.0M79.5 446.9h3.0M94.6 457.1h3.0M121.6 474.6h3.2M115.1 479.0h3.2M124.8 490.7h2.8" stroke="#b49c30" stroke-width="1.51" fill="none"/>
<path d="M76.4 423.5h3.1M70.1 427.9h3.1M76.4 427.9h3.1M76.4 429.4h3.1M70.1 432.3h3.1M76.4 432.3h3.1M70.1 433.7h3.1M73.2 433.7h3.1M70.1 436.7h3.1M76.4 436.7h3.1M82.5 439.6h3.0M82.5 444.0h3.0" stroke="#c0b430" stroke-width="1.51" fill="none"/>
<path d="M24.3 425.0h3.3M153.2 495.1h3.0M97.5 498.0h3.0" stroke="#6c2454" stroke-width="1.51" fill="none"/>
<path d="M149.5 425.0h3.7M37.5 433.7h3.3M50.6 457.1h3.3M70.1 467.3h3.1M44.1 505.3h3.3M44.1 506.7h3.3" stroke="#542454" stroke-width="1.51" fill="none"/>
<path d="M70.1 426.4h3.1M67.0 432.3h3.1M67.0 436.7h3.1M88.6 445.4h3.0M94.6 448.3h3.0M97.5 452.7h3.0M94.6 454.2h3.0M94.6 455.6h3.0M97.5 457.1h3.0M103.5 470.2h2.9M109.3 470.2h2.9M106.4 471.7h2.9M121.6 481.9h3.2M124.8 486.3h2.8M130.4 486.3h2.8M130.4 489.2h2.8M136.6 495.1h3.5" stroke="#a89c30" stroke-width="1.51" fill="none"/>
<path d="M118.3 426.4h3.2M47.4 432.3h3.3" stroke="#543048" stroke-width="1.51" fill="none"/>
<path d="M44.1 436.7h3.3M140.1 444.0h2.4M153.2 444.0h3.0M21.0 451.2h3.3M47.4 455.6h3.3M112.2 455.6h2.9M142.5 455.6h2.4M21.0 464.4h3.3M44.1 464.4h3.3M47.4 464.4h3.3M57.2 464.4h3.3M70.1 464.4h3.1M85.5 464.4h3.0M88.6 464.4h3.0M91.6 464.4h3.0M100.5 464.4h3.0M115.1 464.4h3.2M149.5 464.4h3.7M100.5 467.3h3.0M79.5 481.9h3.0M63.7 483.4h3.3M112.2 483.4h2.9M97.5 490.7h3.0M106.4 490.7h2.9M85.5 506.7h3.0M57.2 509.7h3.3M79.5 509.7h3.0M34.2 515.5h3.3M44.1 515.5h3.3M47.4 515.5h3.3M156.2 515.5h3.1M30.9 517.0h3.3M73.2 517.0h3.1M79.5 517.0h3.0M97.5 517.0h3.0M24.3 521.3h3.3M34.2 521.3h3.3M53.9 521.3h3.3M85.5 521.3h3.0M118.3 521.3h3.2M130.4 521.3h2.8M140.1 521.3h2.4M144.9 521.3h4.6M127.6 522.8h2.8M53.9 524.2h3.3M60.5 524.2h3.3M100.5 524.2h3.0M44.1 527.2h3.3M60.5 527.2h3.3M100.5 527.2h3.0M136.6 527.2h3.5" stroke="#300c30" stroke-width="1.51" fill="none"/>
<path d="M100.5 436.7h3.0M103.5 436.7h2.9M70.1 455.6h3.1M79.5 455.6h3.0M109.3 455.6h2.9M24.3 464.4h3.3M34.2 464.4h3.3M63.7 464.4h3.3M79.5 464.4h3.0M53.9 493.6h3.3M121.6 506.7h3.2M144.9 506.7h4.6M118.3 508.2h3.2M130.4 509.7h2.8M21.0 511.1h3.3M50.6 511.1h3.3M63.7 511.1h3.3M100.5 511.1h3.0M115.1 511.1h3.2M88.6 512.6h3.0M57.2 515.5h3.3M57.2 522.8h3.3M37.5 525.7h3.3M73.2 525.7h3.1M127.6 527.2h2.8M94.6 528.6h3.0" stroke="#301830" stroke-width="1.51" fill="none"/>
<path d="M85.5 438.1h3.0M82.5 441.0h3.0M85.5 442.5h3.0" stroke="#c0a830" stroke-width="1.51" fill="none"/>
<path d="M88.6 439.6h3.0" stroke="#906c3c" stroke-width="1.51" fill="none"/>
<path d="M85.5 444.0h3.0" stroke="#786c30" stroke-width="1.51" fill="none"/>
<path d="M21.0 455.6h3.3M30.9 455.6h3.3M57.2 455.6h3.3M85.5 455.6h3.0M103.5 455.6h2.9M121.6 455.6h3.2M124.8 455.6h2.8M133.2 455.6h3.4M140.1 455.6h2.4M153.2 455.6h3.0M24.3 483.4h3.3M30.9 483.4h3.3M34.2 483.4h3.3M44.1 483.4h3.3M47.4 483.4h3.3M53.9 483.4h3.3M60.5 483.4h3.3M85.5 483.4h3.0M91.6 483.4h3.0M94.6 483.4h3.0M97.5 483.4h3.0M106.4 483.4h2.9M115.1 483.4h3.2M118.3 483.4h3.2M121.6 483.4h3.2M34.2 484.8h3.3M40.8 484.8h3.3M60.5 484.8h3.3M67.0 484.8h3.1M73.2 484.8h3.1M79.5 484.8h3.0M103.5 484.8h2.9M109.3 484.8h2.9M112.2 484.8h2.9M21.0 490.7h3.3M24.3 490.7h3.3M53.9 490.7h3.3M60.5 490.7h3.3M73.2 490.7h3.1M76.4 490.7h3.1M112.2 490.7h2.9M118.3 490.7h3.2M121.6 490.7h3.2M24.3 508.2h3.3M30.9 508.2h3.3M37.5 508.2h3.3M40.8 508.2h3.3M44.1 508.2h3.3M57.2 508.2h3.3M149.5 508.2h3.7M21.0 509.7h3.3M63.7 509.7h3.3M67.0 509.7h3.1M97.5 509.7h3.0M100.5 509.7h3.0M103.5 509.7h2.9M24.3 517.0h3.3M37.5 517.0h3.3M44.1 517.0h3.3M47.4 517.0h3.3M60.5 517.0h3.3M76.4 517.0h3.1M82.5 517.0h3.0M85.5 517.0h3.0M91.6 517.0h3.0M100.5 517.0h3.0M103.5 517.0h2.9M106.4 517.0h2.9M112.2 517.0h2.9M115.1 517.0h3.2M124.8 517.0h2.8M127.6 517.0h2.8M130.4 517.0h2.8M133.2 517.0h3.4M136.6 517.0h3.5M140.1 517.0h2.4M156.2 517.0h3.1M47.4 519.9h3.3M27.6 524.2h3.3M57.2 524.2h3.3M63.7 524.2h3.3M73.2 524.2h3.1M79.5 524.2h3.0M82.5 524.2h3.0M91.6 524.2h3.0M103.5 524.2h2.9M106.4 524.2h2.9M121.6 524.2h3.2M156.2 524.2h3.1M21.0 525.7h3.3M24.3 525.7h3.3M27.6 525.7h3.3M57.2 525.7h3.3M63.7 525.7h3.3M70.1 525.7h3.1M82.5 525.7h3.0M85.5 525.7h3.0M97.5 525.7h3.0M100.5 525.7h3.0M103.5 525.7h2.9M106.4 525.7h2.9M115.1 525.7h3.2M118.3 525.7h3.2M124.8 525.7h2.8M127.6 525.7h2.8M149.5 525.7h3.7" stroke="#301824" stroke-width="1.51" fill="none"/>
<path d="M24.3 455.6h3.3M53.9 455.6h3.3M63.7 455.6h3.3M67.0 455.6h3.1M73.2 455.6h3.1M149.5 455.6h3.7M21.0 483.4h3.3M37.5 483.4h3.3M40.8 483.4h3.3M67.0 483.4h3.1M70.1 483.4h3.1M76.4 483.4h3.1M79.5 483.4h3.0M82.5 483.4h3.0M88.6 483.4h3.0M100.5 483.4h3.0M103.5 483.4h2.9M24.3 484.8h3.3M30.9 484.8h3.3M37.5 484.8h3.3M50.6 484.8h3.3M53.9 484.8h3.3M57.2 484.8h3.3M63.7 484.8h3.3M70.1 484.8h3.1M76.4 484.8h3.1M85.5 484.8h3.0M97.5 484.8h3.0M100.5 484.8h3.0M115.1 484.8h3.2M118.3 484.8h3.2M30.9 490.7h3.3M34.2 490.7h3.3M37.5 490.7h3.3M40.8 490.7h3.3M47.4 490.7h3.3M50.6 490.7h3.3M79.5 490.7h3.0M88.6 490.7h3.0M91.6 490.7h3.0M94.6 490.7h3.0M109.3 490.7h2.9M115.1 490.7h3.2M21.0 508.2h3.3M27.6 508.2h3.3M34.2 508.2h3.3M50.6 508.2h3.3M67.0 508.2h3.1M70.1 508.2h3.1M73.2 508.2h3.1M79.5 508.2h3.0M91.6 508.2h3.0M103.5 508.2h2.9M106.4 508.2h2.9M112.2 508.2h2.9M127.6 508.2h2.8M156.2 508.2h3.1M24.3 509.7h3.3M27.6 509.7h3.3M40.8 509.7h3.3M47.4 509.7h3.3M50.6 509.7h3.3M60.5 509.7h3.3M73.2 509.7h3.1M76.4 509.7h3.1M82.5 509.7h3.0M88.6 509.7h3.0M106.4 509.7h2.9M124.8 509.7h2.8M136.6 509.7h3.5M144.9 509.7h4.6M149.5 509.7h3.7M153.2 509.7h3.0M156.2 509.7h3.1M27.6 517.0h3.3M34.2 517.0h3.3M50.6 517.0h3.3M57.2 517.0h3.3M63.7 517.0h3.3M70.1 517.0h3.1M88.6 517.0h3.0M118.3 517.0h3.2M121.6 517.0h3.2M24.3 519.9h3.3M30.9 519.9h3.3M57.2 519.9h3.3M76.4 519.9h3.1M21.0 524.2h3.3M24.3 524.2h3.3M34.2 524.2h3.3M37.5 524.2h3.3M40.8 524.2h3.3M44.1 524.2h3.3M47.4 524.2h3.3M50.6 524.2h3.3M70.1 524.2h3.1M88.6 524.2h3.0M94.6 524.2h3.0M118.3 524.2h3.2M124.8 524.2h2.8M130.4 524.2h2.8M136.6 524.2h3.5M140.1 524.2h2.4M44.1 525.7h3.3M76.4 525.7h3.1M79.5 525.7h3.0M91.6 525.7h3.0M112.2 525.7h2.9M133.2 525.7h3.4M140.1 525.7h2.4" stroke="#240c24" stroke-width="1.51" fill="none"/>
<path d="M27.6 455.6h3.3M144.9 455.6h4.6" stroke="#3c1824" stroke-width="1.51" fill="none"/>
<path d="M34.2 455.6h3.3M44.1 455.6h3.3M82.5 455.6h3.0M88.6 455.6h3.0M156.2 455.6h3.1M94.6 517.0h3.0M153.2 517.0h3.0M144.9 524.2h4.6" stroke="#3c2424" stroke-width="1.51" fill="none"/>
<path d="M124.8 457.1h2.8M140.1 474.6h2.4M76.4 481.9h3.1M130.4 495.1h2.8M70.1 512.6h3.1" stroke="#601854" stroke-width="1.51" fill="none"/>
<path d="M142.5 464.4h2.4" stroke="#480c48" stroke-width="1.51" fill="none"/>
<path d="M63.7 467.3h3.3" stroke="#30183c" stroke-width="1.51" fill="none"/>
<path d="M112.2 471.7h2.9" stroke="#9c843c" stroke-width="1.51" fill="none"/>
<path d="M21.0 473.2h3.3M24.3 473.2h3.3M27.6 473.2h3.3M30.9 473.2h3.3M34.2 473.2h3.3M40.8 473.2h3.3M44.1 473.2h3.3M50.6 473.2h3.3M53.9 473.2h3.3M57.2 473.2h3.3M60.5 473.2h3.3M63.7 473.2h3.3M70.1 473.2h3.1M73.2 473.2h3.1M79.5 473.2h3.0M82.5 473.2h3.0M85.5 473.2h3.0M91.6 473.2h3.0M94.6 473.2h3.0M97.5 473.2h3.0M100.5 473.2h3.0M103.5 473.2h2.9M106.4 473.2h2.9M109.3 473.2h2.9M112.2 473.2h2.9M21.0 474.6h3.3M24.3 474.6h3.3M27.6 474.6h3.3M30.9 474.6h3.3M37.5 474.6h3.3M40.8 474.6h3.3M44.1 474.6h3.3M47.4 474.6h3.3M50.6 474.6h3.3M53.9 474.6h3.3M57.2 474.6h3.3M60.5 474.6h3.3M63.7 474.6h3.3M70.1 474.6h3.1M73.2 474.6h3.1M76.4 474.6h3.1M79.5 474.6h3.0M82.5 474.6h3.0M85.5 474.6h3.0M91.6 474.6h3.0M94.6 474.6h3.0M97.5 474.6h3.0M100.5 474.6h3.0M103.5 474.6h2.9M106.4 474.6h2.9M109.3 474.6h2.9M112.2 474.6h2.9M21.0 499.4h3.3M24.3 499.4h3.3M27.6 499.4h3.3M30.9 499.4h3.3M34.2 499.4h3.3M37.5 499.4h3.3M40.8 499.4h3.3M44.1 499.4h3.3M47.4 499.4h3.3M50.6 499.4h3.3M53.9 499.4h3.3M57.2 499.4h3.3M60.5 499.4h3.3M63.7 499.4h3.3M67.0 499.4h3.1M70.1 499.4h3.1M73.2 499.4h3.1M76.4 499.4h3.1M79.5 499.4h3.0M82.5 499.4h3.0M85.5 499.4h3.0M88.6 499.4h3.0M91.6 499.4h3.0M94.6 499.4h3.0M97.5 499.4h3.0M100.5 499.4h3.0M103.5 499.4h2.9M106.4 499.4h2.9M109.3 499.4h2.9M112.2 499.4h2.9M115.1 499.4h3.2M118.3 499.4h3.2M121.6 499.4h3.2M124.8 499.4h2.8M127.6 499.4h2.8M130.4 499.4h2.8M136.6 499.4h3.5M153.2 499.4h3.0M156.2 499.4h3.1M21.0 500.9h3.3M24.3 500.9h3.3M27.6 500.9h3.3M30.9 500.9h3.3M34.2 500.9h3.3M37.5 500.9h3.3M40.8 500.9h3.3M44.1 500.9h3.3M47.4 500.9h3.3M50.6 500.9h3.3M57.2 500.9h3.3M60.5 500.9h3.3M63.7 500.9h3.3M67.0 500.9h3.1M70.1 500.9h3.1M73.2 500.9h3.1M76.4 500.9h3.1M82.5 500.9h3.0M85.5 500.9h3.0M91.6 500.9h3.0M94.6 500.9h3.0M97.5 500.9h3.0M100.5 500.9h3.0M103.5 500.9h2.9M106.4 500.9h2.9M115.1 500.9h3.2M121.6 500.9h3.2M127.6 500.9h2.8M130.4 500.9h2.8M133.2 500.9h3.4M136.6 500.9h3.5M144.9 500.9h4.6M153.2 500.9h3.0M156.2 500.9h3.1M21.0 502.4h3.3M24.3 502.4h3.3M27.6 502.4h3.3M30.9 502.4h3.3M34.2 502.4h3.3M37.5 502.4h3.3M40.8 502.4h3.3M44.1 502.4h3.3M47.4 502.4h3.3M50.6 502.4h3.3M53.9 502.4h3.3M57.2 502.4h3.3M60.5 502.4h3.3M63.7 502.4h3.3M67.0 502.4h3.1M70.1 502.4h3.1M73.2 502.4h3.1M79.5 502.4h3.0M82.5 502.4h3.0M85.5 502.4h3.0M88.6 502.4h3.0M91.6 502.4h3.0M94.6 502.4h3.0M100.5 502.4h3.0M109.3 502.4h2.9M112.2 502.4h2.9M115.1 502.4h3.2M124.8 502.4h2.8M130.4 502.4h2.8M136.6 502.4h3.5M144.9 502.4h4.6M149.5 502.4h3.7M153.2 502.4h3.0M156.2 502.4h3.1M97.5 508.2h3.0M144.9 508.2h4.6M21.0 519.9h3.3M34.2 519.9h3.3M37.5 519.9h3.3M44.1 519.9h3.3M50.6 519.9h3.3M53.9 519.9h3.3M63.7 519.9h3.3M79.5 519.9h3.0M85.5 519.9h3.0M88.6 519.9h3.0M91.6 519.9h3.0M94.6 519.9h3.0M97.5 519.9h3.0M100.5 519.9h3.0M103.5 519.9h2.9M106.4 519.9h2.9M112.2 519.9h2.9M115.1 519.9h3.2M118.3 519.9h3.2M121.6 519.9h3.2M124.8 519.9h2.8M127.6 519.9h2.8M130.4 519.9h2.8M133.2 519.9h3.4M136.6 519.9h3.5M140.1 519.9h2.4M153.2 519.9h3.0M156.2 519.9h3.1M47.4 530.1h3.3M53.9 530.1h3.3M60.5 530.1h3.3M149.5 530.1h3.7M53.9 531.5h3.3M79.5 531.5h3.0M82.5 531.5h3.0M103.5 531.5h2.9M136.6 531.5h3.5M21.0 533.0h3.3M50.6 533.0h3.3M57.2 533.0h3.3M85.5 533.0h3.0M94.6 533.0h3.0M127.6 533.0h2.8M136.6 533.0h3.5M30.9 534.5h3.3M40.8 534.5h3.3M60.5 534.5h3.3M79.5 534.5h3.0M112.2 534.5h2.9M149.5 534.5h3.7M40.8 535.9h3.3M47.4 535.9h3.3M53.9 535.9h3.3M63.7 535.9h3.3M67.0 535.9h3.1M103.5 535.9h2.9M106.4 535.9h2.9M112.2 535.9h2.9M115.1 535.9h3.2M121.6 535.9h3.2M124.8 535.9h2.8M142.5 535.9h2.4M24.3 537.4h3.3M30.9 537.4h3.3M63.7 537.4h3.3M118.3 537.4h3.2M133.2 537.4h3.4M136.6 537.4h3.5M34.2 538.9h3.3M70.1 538.9h3.1M76.4 538.9h3.1M91.6 538.9h3.0M124.8 538.9h2.8M130.4 538.9h2.8M136.6 538.9h3.5M142.5 538.9h2.4M44.1 540.3h3.3M121.6 540.3h3.2M103.5 541.8h2.9M127.6 541.8h2.8M156.2 541.8h3.1" stroke="#180c18" stroke-width="1.51" fill="none"/>
<path d="M37.5 473.2h3.3M88.6 474.6h3.0M53.9 500.9h3.3M124.8 500.9h2.8M149.5 500.9h3.7M76.4 502.4h3.1M127.6 502.4h2.8" stroke="#0c0018" stroke-width="1.51" fill="none"/>
<path d="M47.4 473.2h3.3M67.0 473.2h3.1M76.4 473.2h3.1M34.2 474.6h3.3M67.0 474.6h3.1M133.2 499.4h3.4M144.9 499.4h4.6M149.5 499.4h3.7M79.5 500.9h3.0M88.6 500.9h3.0M109.3 500.9h2.9M118.3 500.9h3.2M97.5 502.4h3.0M103.5 502.4h2.9M106.4 502.4h2.9M118.3 502.4h3.2M121.6 502.4h3.2M133.2 502.4h3.4M97.5 530.1h3.0M100.5 537.4h3.0" stroke="#0c0c18" stroke-width="1.51" fill="none"/>
<path d="M88.6 473.2h3.0M112.2 500.9h2.9M60.5 508.2h3.3M133.2 508.2h3.4M60.5 519.9h3.3M73.2 519.9h3.1" stroke="#240c18" stroke-width="1.51" fill="none"/>
<path d="M82.5 476.1h3.0M144.9 486.3h4.6M37.5 521.3h3.3" stroke="#603c48" stroke-width="1.51" fill="none"/>
<path d="M57.2 483.4h3.3M73.2 483.4h3.1M109.3 483.4h2.9M21.0 484.8h3.3M27.6 484.8h3.3M82.5 484.8h3.0M88.6 484.8h3.0M106.4 484.8h2.9M121.6 484.8h3.2M63.7 490.7h3.3M70.1 490.7h3.1M85.5 490.7h3.0M63.7 508.2h3.3M82.5 508.2h3.0M88.6 508.2h3.0M94.6 508.2h3.0M115.1 508.2h3.2M121.6 508.2h3.2M130.4 508.2h2.8M153.2 508.2h3.0M34.2 509.7h3.3M37.5 509.7h3.3M53.9 509.7h3.3M70.1 509.7h3.1M85.5 509.7h3.0M94.6 509.7h3.0M112.2 509.7h2.9M115.1 509.7h3.2M118.3 509.7h3.2M121.6 509.7h3.2M127.6 509.7h2.8M30.9 524.2h3.3M109.3 524.2h2.9M115.1 524.2h3.2M142.5 524.2h2.4M30.9 525.7h3.3M50.6 525.7h3.3M53.9 525.7h3.3M121.6 525.7h3.2M156.2 525.7h3.1" stroke="#241824" stroke-width="1.51" fill="none"/>
<path d="M44.1 484.8h3.3M91.6 484.8h3.0M94.6 484.8h3.0M53.9 508.2h3.3M76.4 508.2h3.1M85.5 508.2h3.0M109.3 508.2h2.9M30.9 509.7h3.3M44.1 509.7h3.3M91.6 509.7h3.0M109.3 509.7h2.9M133.2 509.7h3.4M34.2 525.7h3.3M60.5 525.7h3.3M67.0 525.7h3.1M109.3 525.7h2.9M142.5 525.7h2.4M144.9 525.7h4.6" stroke="#180c24" stroke-width="1.51" fill="none"/>
<path d="M47.4 484.8h3.3" stroke="#300c24" stroke-width="1.51" fill="none"/>
<path d="M44.1 490.7h3.3M82.5 490.7h3.0M103.5 490.7h2.9M53.9 517.0h3.3M67.0 517.0h3.1M109.3 517.0h2.9M67.0 524.2h3.1M85.5 524.2h3.0M112.2 524.2h2.9M127.6 524.2h2.8M133.2 524.2h3.4M94.6 525.7h3.0" stroke="#302424" stroke-width="1.51" fill="none"/>
<path d="M127.6 490.7h2.8M140.1 508.2h2.4" stroke="#908424" stroke-width="1.51" fill="none"/>
<path d="M130.4 490.7h2.8" stroke="#a89c24" stroke-width="1.51" fill="none"/>
<path d="M47.4 508.2h3.3M124.8 508.2h2.8M136.6 508.2h3.5M27.6 519.9h3.3M40.8 519.9h3.3M67.0 519.9h3.1M70.1 519.9h3.1M82.5 519.9h3.0M109.3 519.9h2.9M142.5 519.9h2.4" stroke="#241818" stroke-width="1.51" fill="none"/>
<path d="M142.5 508.2h2.4M140.1 509.7h2.4" stroke="#786c24" stroke-width="1.51" fill="none"/>
<path d="M142.5 509.7h2.4M144.9 517.0h4.6" stroke="#786024" stroke-width="1.51" fill="none"/>
<path d="M149.5 517.0h3.7" stroke="#543c24" stroke-width="1.51" fill="none"/>
<path d="M144.9 519.9h4.6M153.2 524.2h3.0" stroke="#6c6024" stroke-width="1.51" fill="none"/>
<path d="M149.5 519.9h3.7" stroke="#544824" stroke-width="1.51" fill="none"/>
<path d="M153.2 525.7h3.0" stroke="#847824" stroke-width="1.51" fill="none"/>
<path d="M21.0 530.1h3.3M27.6 530.1h3.3M73.2 530.1h3.1M21.0 531.5h3.3M27.6 531.5h3.3M30.9 531.5h3.3M34.2 531.5h3.3M40.8 531.5h3.3M63.7 531.5h3.3M76.4 531.5h3.1M85.5 531.5h3.0M97.5 531.5h3.0M112.2 531.5h2.9M115.1 531.5h3.2M124.8 531.5h2.8M127.6 531.5h2.8M27.6 533.0h3.3M73.2 533.0h3.1M79.5 533.0h3.0M88.6 533.0h3.0M100.5 533.0h3.0M106.4 533.0h2.9M109.3 533.0h2.9M121.6 533.0h3.2M124.8 533.0h2.8M133.2 533.0h3.4M21.0 534.5h3.3M24.3 534.5h3.3M34.2 534.5h3.3M50.6 534.5h3.3M57.2 534.5h3.3M70.1 534.5h3.1M73.2 534.5h3.1M76.4 534.5h3.1M118.3 534.5h3.2M144.9 534.5h4.6M21.0 535.9h3.3M30.9 535.9h3.3M34.2 535.9h3.3M70.1 535.9h3.1M76.4 535.9h3.1M79.5 535.9h3.0M82.5 535.9h3.0M118.3 535.9h3.2M133.2 535.9h3.4M140.1 535.9h2.4M144.9 535.9h4.6M149.5 535.9h3.7M34.2 537.4h3.3M73.2 537.4h3.1M88.6 537.4h3.0M109.3 537.4h2.9M127.6 537.4h2.8M149.5 537.4h3.7M27.6 538.9h3.3M40.8 538.9h3.3M44.1 538.9h3.3M47.4 538.9h3.3M57.2 538.9h3.3M63.7 538.9h3.3M73.2 538.9h3.1M82.5 538.9h3.0M112.2 538.9h2.9M121.6 538.9h3.2M133.2 538.9h3.4M50.6 540.3h3.3M67.0 540.3h3.1M100.5 540.3h3.0M103.5 540.3h2.9M106.4 540.3h2.9M109.3 540.3h2.9M136.6 540.3h3.5M144.9 540.3h4.6M149.5 540.3h3.7M156.2 540.3h3.1M60.5 541.8h3.3M70.1 541.8h3.1M73.2 541.8h3.1M88.6 541.8h3.0M144.9 541.8h4.6" stroke="#180c0c" stroke-width="1.51" fill="none"/>
<path d="M24.3 530.1h3.3M30.9 530.1h3.3M34.2 530.1h3.3M37.5 530.1h3.3M40.8 530.1h3.3M44.1 530.1h3.3M57.2 530.1h3.3M63.7 530.1h3.3M70.1 530.1h3.1M76.4 530.1h3.1M79.5 530.1h3.0M82.5 530.1h3.0M85.5 530.1h3.0M88.6 530.1h3.0M94.6 530.1h3.0M100.5 530.1h3.0M106.4 530.1h2.9M109.3 530.1h2.9M115.1 530.1h3.2M121.6 530.1h3.2M124.8 530.1h2.8M127.6 530.1h2.8M133.2 530.1h3.4M140.1 530.1h2.4M144.9 530.1h4.6M44.1 531.5h3.3M47.4 531.5h3.3M50.6 531.5h3.3M60.5 531.5h3.3M67.0 531.5h3.1M70.1 531.5h3.1M73.2 531.5h3.1M88.6 531.5h3.0M91.6 531.5h3.0M106.4 531.5h2.9M133.2 531.5h3.4M144.9 531.5h4.6M149.5 531.5h3.7M153.2 531.5h3.0M24.3 533.0h3.3M30.9 533.0h3.3M34.2 533.0h3.3M37.5 533.0h3.3M40.8 533.0h3.3M60.5 533.0h3.3M63.7 533.0h3.3M70.1 533.0h3.1M76.4 533.0h3.1M82.5 533.0h3.0M91.6 533.0h3.0M103.5 533.0h2.9M115.1 533.0h3.2M118.3 533.0h3.2M130.4 533.0h2.8M140.1 533.0h2.4M142.5 533.0h2.4M144.9 533.0h4.6M149.5 533.0h3.7M153.2 533.0h3.0M37.5 534.5h3.3M47.4 534.5h3.3M53.9 534.5h3.3M63.7 534.5h3.3M67.0 534.5h3.1M82.5 534.5h3.0M85.5 534.5h3.0M88.6 534.5h3.0M94.6 534.5h3.0M97.5 534.5h3.0M100.5 534.5h3.0M103.5 534.5h2.9M106.4 534.5h2.9M109.3 534.5h2.9M121.6 534.5h3.2M124.8 534.5h2.8M130.4 534.5h2.8M133.2 534.5h3.4M136.6 534.5h3.5M140.1 534.5h2.4M24.3 535.9h3.3M27.6 535.9h3.3M44.1 535.9h3.3M50.6 535.9h3.3M57.2 535.9h3.3M60.5 535.9h3.3M73.2 535.9h3.1M88.6 535.9h3.0M91.6 535.9h3.0M127.6 535.9h2.8M130.4 535.9h2.8M136.6 535.9h3.5M21.0 537.4h3.3M37.5 537.4h3.3M47.4 537.4h3.3M50.6 537.4h3.3M57.2 537.4h3.3M60.5 537.4h3.3M67.0 537.4h3.1M79.5 537.4h3.0M91.6 537.4h3.0M94.6 537.4h3.0M97.5 537.4h3.0M103.5 537.4h2.9M106.4 537.4h2.9M115.1 537.4h3.2M121.6 537.4h3.2M124.8 537.4h2.8M130.4 537.4h2.8M140.1 537.4h2.4M142.5 537.4h2.4M144.9 537.4h4.6M153.2 537.4h3.0M21.0 538.9h3.3M24.3 538.9h3.3M37.5 538.9h3.3M53.9 538.9h3.3M60.5 538.9h3.3M67.0 538.9h3.1M79.5 538.9h3.0M88.6 538.9h3.0M94.6 538.9h3.0M103.5 538.9h2.9M106.4 538.9h2.9M109.3 538.9h2.9M115.1 538.9h3.2M118.3 538.9h3.2M127.6 538.9h2.8M144.9 538.9h4.6M149.5 538.9h3.7M153.2 538.9h3.0M156.2 538.9h3.1M21.0 540.3h3.3M24.3 540.3h3.3M27.6 540.3h3.3M30.9 540.3h3.3M37.5 540.3h3.3M40.8 540.3h3.3M53.9 540.3h3.3M57.2 540.3h3.3M63.7 540.3h3.3M76.4 540.3h3.1M79.5 540.3h3.0M82.5 540.3h3.0M85.5 540.3h3.0M88.6 540.3h3.0M91.6 540.3h3.0M94.6 540.3h3.0M97.5 540.3h3.0M118.3 540.3h3.2M124.8 540.3h2.8M127.6 540.3h2.8M133.2 540.3h3.4M24.3 541.8h3.3M27.6 541.8h3.3M34.2 541.8h3.3M37.5 541.8h3.3M40.8 541.8h3.3M44.1 541.8h3.3M47.4 541.8h3.3M50.6 541.8h3.3M53.9 541.8h3.3M57.2 541.8h3.3M79.5 541.8h3.0M85.5 541.8h3.0M91.6 541.8h3.0M94.6 541.8h3.0M97.5 541.8h3.0M100.5 541.8h3.0M106.4 541.8h2.9M109.3 541.8h2.9M112.2 541.8h2.9M115.1 541.8h3.2M118.3 541.8h3.2M121.6 541.8h3.2M124.8 541.8h2.8M133.2 541.8h3.4M136.6 541.8h3.5M140.1 541.8h2.4M142.5 541.8h2.4M149.5 541.8h3.7" stroke="#0c0c0c" stroke-width="1.51" fill="none"/>
<path d="M50.6 530.1h3.3M67.0 530.1h3.1M91.6 530.1h3.0M103.5 530.1h2.9M112.2 530.1h2.9M118.3 530.1h3.2M130.4 530.1h2.8M136.6 530.1h3.5M142.5 530.1h2.4M24.3 531.5h3.3M37.5 531.5h3.3M57.2 531.5h3.3M100.5 531.5h3.0M109.3 531.5h2.9M118.3 531.5h3.2M121.6 531.5h3.2M130.4 531.5h2.8M140.1 531.5h2.4M142.5 531.5h2.4M44.1 533.0h3.3M47.4 533.0h3.3M53.9 533.0h3.3M67.0 533.0h3.1M97.5 533.0h3.0M112.2 533.0h2.9M27.6 534.5h3.3M44.1 534.5h3.3M91.6 534.5h3.0M115.1 534.5h3.2M127.6 534.5h2.8M142.5 534.5h2.4M153.2 534.5h3.0M37.5 535.9h3.3M85.5 535.9h3.0M94.6 535.9h3.0M97.5 535.9h3.0M100.5 535.9h3.0M109.3 535.9h2.9M153.2 535.9h3.0M27.6 537.4h3.3M40.8 537.4h3.3M44.1 537.4h3.3M53.9 537.4h3.3M70.1 537.4h3.1M76.4 537.4h3.1M82.5 537.4h3.0M85.5 537.4h3.0M112.2 537.4h2.9M30.9 538.9h3.3M50.6 538.9h3.3M85.5 538.9h3.0M97.5 538.9h3.0M100.5 538.9h3.0M140.1 538.9h2.4M34.2 540.3h3.3M47.4 540.3h3.3M60.5 540.3h3.3M70.1 540.3h3.1M73.2 540.3h3.1M112.2 540.3h2.9M115.1 540.3h3.2M130.4 540.3h2.8M140.1 540.3h2.4M142.5 540.3h2.4M153.2 540.3h3.0M21.0 541.8h3.3M30.9 541.8h3.3M63.7 541.8h3.3M67.0 541.8h3.1M76.4 541.8h3.1M82.5 541.8h3.0M130.4 541.8h2.8M153.2 541.8h3.0" stroke="#0c000c" stroke-width="1.51" fill="none"/>
<path d="M153.2 530.1h3.0M94.6 531.5h3.0" stroke="#180018" stroke-width="1.51" fill="none"/>
<path d="M44.1 396.5V542.5M67.0 396.5V542.5M79.5 396.5V542.5M91.6 396.5V542.5M103.5 396.5V542.5M115.1 396.5V542.5M124.8 396.5V542.5M133.2 396.5V542.5M140.1 396.5V542.5M144.9 396.5V542.5M149.5 396.5V542.5M153.2 396.5V542.5M156.2 396.5V542.5" stroke="#fff" stroke-width=".75" fill="none" stroke-opacity=".9"/>
<text x="179.5" y="369" font-size="18.4" font-weight="bold">e</text>
<text x="259" y="382.4" font-size="10.6" text-anchor="middle" font-style="italic" fill="#111" stroke="#111" stroke-width=".18">ITGA6</text>
<g transform="scale(0.25)" fill="none" stroke-linecap="round"><path d="M1079 1912zm-1 1zm-4 4zm-1 0zm2 5zm6 17zm10-6zm-1-2zm5-5zm23-2zm-5-2zm-21-2zm2 0zm-7-1zm5-1zm27 0zm-3 0zm-22-1zm-3 0zm-3 0zm7-1zm1-3zm5-4zm7-2zm-10-2zm9 0zm1-1zm-1 0zm-2-2zm8 0zm-11 0zm2 0zm11-1zm-9-2zm-1-1zm-4 0zm7-2zm2 0zm-8-3zm-1-2zm-2-3zm-2 0zm6-2zm13 0zm-12 0zm-2-1zm-2 0zm2 0zm12-1zm0-4zm-10 0zm-1 0zm3 0zm11 0zm-8-1zm8 0zm1-1zm-4-1zm-14-1zm13 0zm-10 0zm-8-1zm9-1zm14 0zm-7-1zm-10 0zm2-2zm5-1zm4 0zm5-1zm-13-1zm1-2zm0 0zm-3-1zm-1-1zm16 0zm0 0zm-15 0zm2-1zm3-2zm-4 0zm-8 0zm11 0zm0-1zm-3-2zm3-1zm-2-1zm-3-1zm-7-1zm24-1zm-8 0zm2-1zm-9 0zm16 0zm-12 0zm-1-3zm-11 0zm10 0zm11-1zm-22-1zm24 0zm-19 0zm9-1zm-11-1zm17 0zm-14-4zm-5-1zm9 0zm-1-2zm-2 0zm-12-10zm43-19zm-5 19zm13 0zm-11 2zm-4 1zm0 1zm0 0zm5 1zm1 0zm4 2zm8 2zm-8 0zm-6 0zm16 1zm-8 1zm19 1zm-17 1zm1 0zm-4 0zm-1 0zm14 1zm4 0zm-21 0zm3 0zm5 1zm-7 0zm20 0zm-28 0zm22 0zm-9 1zm2 0zm5 0zm7 1zm-27 0zm12 0zm1 0zm-17 1zm19 0zm-10 0zm16 0zm-8 0zm17 0zm-24 1zm7 0zm-3 0zm3 0zm7 1zm-16 0zm6 1zm-4 0zm12 0zm15 0zm-26 0zm23 0zm-21 0zm0 2zm21 0zm-32 0zm6 1zm19 0zm-14 1zm16 1zm-5 1zm-5 1zm-19 0zm17 0zm4 1zm-21 0zm25 1zm5 0zm-19 0zm18 1zm-25 0zm12 1zm-15 2zm21 0zm-8 0zm-10 1zm0 1zm34 1zm-20 0zm-1 0zm13 1zm7 0zm-24 0zm5 1zm-17 0zm30 1zm-32 1zm31 0zm5 0zm-33 1zm34 0zm-20 0zm-12 0zm13 1zm-2 0zm23 1zm-20 1zm-7 0zm18 0zm-17 0zm5 0zm-4 0zm4 1zm-3 0zm7 0zm-6 1zm0 0zm12 1zm-9 0zm4 0zm12 1zm-29 0zm2 1zm7 0zm10 0zm-22 2zm10 0zm15 1zm-7 0zm7 1zm0 0zm-15 1zm-7 0zm22 0zm3 0zm-18 1zm20 2zm-17 0zm11 0zm6 0zm-17 0zm18 1zm-24 0zm24 0zm4 1zm-24 0zm-2 0zm25 0zm-3 1zm-25 0zm25 1zm-3 0zm5 0zm-13 0zm1 0zm11 0zm-19 0zm6 1zm-9 1zm22 0zm3 1zm-21 0zm3 1zm0 1zm17 0zm-20 0zm16 1zm-19 0zm21 0zm-10 0zm5 2zm-9 0zm-2 0zm1 0zm-4 0zm-1 1zm17 1zm-1 1zm-20 2zm20 0zm-27 0zm30 0zm-29 0zm33 1zm-2 1zm3 0zm-26 1zm26 0zm-5 0zm-34 1zm3 0zm6 0zm0 0zm21 0zm-12 0zm17 1zm-17 0zm-13 0zm-4 0zm34 1zm-28 0zm29 0zm-20 0zm-1 0zm-8 1zm-1 0zm26 0zm-26 0zm33 1zm-34 0zm28 0zm-1 0zm-15 1zm21 0zm-17 0zm3 1zm-10 0zm4 0zm-1 0zm9 1zm12 0zm-21 1zm9 0zm-25 0zm33 0zm-19 0zm-3 0zm15 1zm-25 0zm2 1zm17 1zm-1 0zm-7 0zm-9 1zm14 0zm-7 0zm5 1zm-11 0zm8 0zm15 0zm-20 1zm10 0zm-9 0zm-2 0zm9 0zm-2 1zm-14 0zm17 0zm-3 0zm-2 0zm-1 1zm10 0zm-8 0zm3 1zm-5 0zm-1 0zm14 1zm11 0zm-12 0zm2 0zm-10 0zm15 0zm-26 0zm12 0zm-4 1zm-1 0zm-10 0zm13 0zm22 0zm-21 0zm-10 1zm29 0zm-17 0zm-3 0zm0 1zm13 0zm10 0zm-23 1zm18 0zm-24 0zm30 1zm-6 0zm3 0zm2 0zm-17 0zm-4 1zm19 0zm-10 0zm11 1zm-1 1zm-7 0zm1 1zm4 0zm2 0zm0 0zm-20 0zm17 1zm-6 0zm-2 0zm11 1zm-15 0zm-6 1zm18 0zm-24 0zm30 1zm-25 0zm5 0zm10 0zm-9 2zm1 1zm2 0zm10 1zm-17 0zm24 2zm0 1zm-8 1zm-12 0zm6 0zm11 1zm-21 0zm8 0zm0 0zm14 0zm-1 1zm-13 0zm8 0zm-12 1zm13 0zm3 0zm-14 1zm10 0zm-18 0zm20 1zm-3 0zm9 0zm-12 0zm9 1zm3 2zm-8 1zm-3 4zm10 3zm-13 1zm5 1zm4 1zm1 2zm-1 1zm3 5zm-16 4zm35 0zm-16-1zm10-1zm-6-3zm-4-1zm11-1zm-8 0zm5-1zm-7-1zm17 0zm-6 0zm0-1zm-10-2zm3-2zm11-2zm-14-1zm9 0zm3 0zm-9-1zm8-1zm-6-2zm-1 0zm-3 0zm-1-1zm0-1zm8-1zm-5 0zm1 0zm-2-1zm2-1zm-2-2zm-1-1zm3-1zm-6 0zm6-2zm1-1zm-4-2zm5 0zm-7-3zm7-2zm-6-2zm-2-3zm3-16zm20-6zm-7-1zm5-3zm1 0zm0 0zm-2 0zm-14-1zm17 0zm-3 0zm9 0zm-7 0zm-7-1zm-9-1zm-1 0zm2-4zm18-1zm-24-1zm-1 0zm23 0zm-11-1zm23-1zm-18-1zm-2 0zm2-1zm-5 0zm22-1zm-31 0zm0 0zm-1-1zm7-1zm-6 0zm0 0zm9 0zm12-1zm-16 0zm0 0zm8 0zm-9 0zm-2 0zm11-1zm15-1zm-18 0zm-7-1zm-2 0zm7 0zm11 0zm-20 0zm3 0zm25 0zm-23-1zm1 0zm25-1zm-22 0zm-5 0zm30-1zm-25 0zm-8 0zm-3-1zm10 0zm-6 0zm-3-1zm33 0zm-31-1zm8 0zm-5-1zm-1-1zm12 0zm-9-3zm-5 0zm1 0zm0-1zm-1 0zm0 0zm-2 0zm31 0zm-26-1zm0 0zm-1-1zm5-1zm-6 0zm5-1zm-7 0zm9 0zm-10 0zm2-2zm3-1zm2-1zm9-2zm-7 0zm-9-1zm9-1zm-3-4zm16-1zm-4-2zm-19-4zm1-5zm2-6zm10-6z" stroke="#E38900" stroke-width="4.4"/><path d="M1077 1862zm2 1zm-3 0zm2 1zm-6 2zm-4 3zm1 0zm2 1zm7 0zm1 1zm-1 1zm-10 0zm9 0zm-5 2zm-7 0zm9 0zm0 1zm3 0zm-5 1zm1 2zm4 0zm-9 1zm2 0zm9 0zm-8 0zm6 0zm1 1zm-18 0zm7 1zm6 0zm4 0zm2 1zm-19 1zm4 1zm2 0zm-3 0zm-8 1zm11 0zm5 0zm2 1zm-13 0zm14 0zm-9 0zm-3 1zm3 3zm1 0zm-5 0zm-6 0zm-2 0zm4 0zm16 1zm-27 0zm27 1zm-9 0zm-4 1zm11 1zm2 1zm-6 0zm-1 0zm-9 0zm18 1zm-2 0zm-15 0zm4 0zm12 1zm-19 0zm6 1zm-1 0zm-5 0zm7 0zm-3 1zm-7 0zm15 2zm0 0zm-8 0zm10 1zm-13 0zm3 1zm-6 0zm19 0zm3 1zm-14 3zm-12 1zm-3 0zm6 0zm-11 0zm12 3zm7 5zm-9 1zm0 1zm30-35zm3-1zm3-4zm-7 0zm6-1zm-5-1zm6 0zm-7-2zm19 0zm-10-1zm5-1zm-7-1zm1 0zm-5-1zm-2 0zm0 0zm2-2zm-2-2zm7 0zm2-1zm7-1zm-14-2zm1 0zm10 0zm0-2zm5-1zm-12-1z" stroke="#A58AFF" stroke-width="4.4"/><path d="M1036 1843zm3-9zm-5-7zm-1-20zm6-16zm-9-2zm8-2zm1-2zm-6-1zm6-1zm0-1zm0-1zm-2-6zm-2-10zm2-4zm0-3zm1-3zm-7-1zm3 0zm1 0zm-5-1zm4-1zm0-1zm0 0zm3-3zm-30-6zm62-11zm2 3zm-2 3zm10 1zm-1 0zm-31 1zm19 0zm-22 0zm22 1zm3 1zm-2 0zm12 2zm-32 0zm1 0zm-5 0zm18 0zm4 0zm4 1zm8 0zm-33 1zm30 0zm-8 1zm-15 0zm-4 1zm28 1zm-6 1zm-17 0zm-1 1zm28 0zm-26 1zm-2 1zm0 0zm-6 0zm-5 1zm9 0zm-9 1zm39 3zm-37 1zm20 0zm-21 1zm6 0zm-3 0zm12 0zm-15 0zm22 1zm-15 1zm12 0zm-2 0zm11 1zm-26 0zm4 1zm6 0zm23 2zm-29 0zm4 0zm7 0zm-12 2zm8 1zm21 0zm-33 1zm1 2zm1 0zm13 2zm-1 0zm-8 0zm9 1zm-12 0zm8 1zm13 0zm-14 1zm-11 0zm12 3zm12 1zm5 0zm-30 0zm3 1zm8 1zm-11 0zm5 0zm23 0zm-23 0zm-2 2zm2 0zm2 0zm4 0zm-9 1zm5 0zm-4 0zm3 0zm5 1zm-4 0zm0 1zm31 0zm-31 0zm21 0zm-20 0zm2 1zm29 0zm-27 0zm25 1zm-30 1zm2 0zm-1 2zm7 0zm24 1zm0 2zm0 0zm-19 0zm3 2zm13 1zm-3 0zm5 1zm0 2zm-15 0zm6 0zm3 0zm-1 1zm3 1zm-18 0zm23 1zm-28 1zm-3 0zm-3 2zm10 1zm20 4zm1 1zm-32 0zm24 0zm-14 0zm12 3zm-1 1zm7 1zm-9 1zm8 1zm-3 0zm0 1zm11 0zm-4 0zm-4 1zm-3 0zm2 1zm-6 3zm5 1zm-4 4zm-6 1zm1 1zm5 0zm-5 1zm8 4zm-22 1zm2 2zm-6 2zm5 1zm1 2zm0 1zm6 2zm-5 1zm51-11zm-3-4zm0-7zm-9-2zm4 0zm2-2zm12-1zm-10 0zm-7 0zm9-1zm0-1zm12-1zm-21-1zm22 0zm-19-2zm23 0zm-12 0zm-10-1zm6 0zm3 0zm-8 0zm2-1zm-1 0zm2-1zm-14 0zm11 0zm-2 0zm12-3zm-1-1zm7 0zm5 0zm-18-1zm-3 0zm15 0zm-7-2zm5 0zm8 0zm-17-1zm-2 0zm10-1zm-11 0zm15 0zm2 0zm-3 0zm-7 0zm-1-1zm-5 0zm-1-1zm17 0zm-23-1zm4-1zm4 0zm12 0zm-13 0zm19 0zm3-1zm-26 0zm13 0zm12-1zm0 0zm-3-1zm-32-1zm7 0zm27 0zm0-1zm3 0zm-3-1zm-3-1zm-1 0zm2 0zm-3 0zm-22-2zm-3-1zm20 0zm-22-3zm0 0zm-3-1zm30 0zm-26-1zm-1-1zm27-2zm2-1zm-2-1zm-3-2zm9-5zm-24-1zm-1 0zm15-1zm-10 0zm7-1zm7 0zm5-1zm-2 0zm1 0zm-8-1zm4 0zm-29 0zm32-1zm-2-1zm-22 0zm15 0zm-18-1zm27 0zm-26 0zm27-1zm-4-1zm-3 0zm2 0zm-22-1zm29-1zm-6-1zm-31 0zm36 0zm-2 0zm3-1zm-37 0zm34-2zm-10 0zm3 0zm-19 0zm24 0zm-5-2zm9 0zm-26 0zm18-2zm-17 0zm9-1zm12 0zm2 0zm4 0zm-35 0zm19 0zm13 0zm-1 0zm0 0zm-2-1zm-25-1zm21 0zm3 0zm3-1zm-4 0zm-29-1zm19 0zm12 0zm-3 0zm-20 0zm18 0zm6-1zm-26 0zm5-1zm1 0zm-3 0zm20 0zm3 0zm-5 0zm-19 0zm24-1zm-5 0zm-24 0zm10 0zm-9 0zm25 0zm-20 0zm-1-1zm20 0zm1 0zm3 0zm-17-1zm15 0zm-24 0zm25 0zm-24 0zm25 0zm-10 0zm-14 0zm4-1zm-6 0zm9 0zm17 0zm-23-1zm13 0zm-1 0zm-14-1zm5-1zm-1 0zm-6 0zm3-1zm11 0zm13 0zm-25-1zm11-1zm7 0zm-7 0zm6-1zm-20 0zm5 0zm-1-1zm13 0zm-16 0zm16 0zm12-1zm-28 0zm24 0zm-5 0zm-21-2zm21-3zm0 0zm2-1zm-3-2zm-10-1zm2-1zm6 0zm13 0zm2-1zm-17 0zm14-1zm-6 0zm-11 0zm-4-1zm7 0zm-12 0zm17 0zm-10 0zm-13-1zm20 0zm2 0zm-5-1zm-12 0zm-2-1zm7 0zm10 0zm3 0zm4 0zm-19-1zm-4 0zm7 0zm13 0zm-17 0zm10-2zm13-1zm-5 0zm4 0zm-3 0zm6 0zm-3-1zm-19-1zm-2-1zm16-1zm1-1zm-6 0zm4-4zm-13-4zm24-7zm7 26zm3 3zm6 3zm8 1zm-8 0zm-8 10zm-2 0zm-1 3zm9 10zm-7 10zm-3 5zm2 4zm6 8zm29 3zm-34 0zm5 0zm-5 1zm6 2zm-4 1zm-2 2zm-1 1zm5 1zm0 2zm-3 0zm-3 0zm1 3zm-1 0zm12 0zm-7 1zm22 1zm3 0zm-31 2zm22 0zm-17 1zm1 0zm-4 0zm0 0zm0 1zm0 0zm32 1zm-28 0zm-2 1zm-2 6zm2 7z" stroke="#F8766D" stroke-width="4.4"/><path d="M822 1754zm13 3zm1 6zm1 1zm-11 1zm10 0zm-15 1zm2 0zm9 2zm-7 1zm8 1zm-11 1zm-5 0zm13 1zm-6 0zm6 0zm-2 1zm-2 1zm10 3zm-6 1zm9 0zm-15 0zm4 0zm-5 1zm12 1zm-5 1zm8 0zm-5 0zm-7 1zm1 0zm5 1zm-9 1zm10 1zm5 0zm-13 1zm4 0zm-6 0zm10 1zm-7 0zm4 0zm1 0zm4 0zm-18 1zm10 1zm7 1zm-9 0zm-2 1zm2 0zm4 0zm3 0zm3 1zm-5 0zm6 0zm-10 2zm10 1zm-8 0zm-5 0zm14 0zm-8 2zm9 1zm-10 1zm3 0zm-2 0zm6 0zm4 1zm-7 1zm5 0zm-7 0zm-3 1zm12 1zm-1 1zm-6 0zm-12 0zm19 1zm-16 0zm3 0zm6 0zm-7 1zm10 0zm4 0zm-18 0zm3 0zm7 0zm-6 1zm7 0zm5 1zm-25 0zm15 0zm-6 0zm16 1zm-18 0zm3 0zm14 0zm3 1zm-2 1zm-20 0zm21 0zm-14 1zm5 0zm-8 0zm3 0zm9 0zm-5 0zm10 0zm-19 1zm5 0zm0 0zm-7 0zm14 1zm1 0zm-5 0zm-7 0zm-3 0zm3 0zm10 0zm7 0zm-17 0zm2 0zm1 1zm1 0zm-8 0zm-2 0zm3 0zm-2 0zm0 0zm0 0zm5 0zm-2 0zm11 0zm-14 1zm5 0zm4 0zm-5 0zm12 0zm-15 0zm-2 1zm-3 0zm23 0zm-2 1zm-3 0zm-10 0zm-3 0zm0 0zm4 1zm-3 0zm14 0zm1 1zm2 0zm-1 0zm-14 0zm11 0zm-3 1zm-14 0zm5 0zm-1 0zm6 0zm0 0zm-3 0zm-11 0zm9 0zm9 1zm-9 1zm5 0zm-13 0zm18 1zm-16 0zm18 0zm7 0zm-8 1zm-10 0zm14 0zm6 0zm-23 0zm0 0zm10 1zm12 0zm-24 0zm23 1zm-20 0zm6 0zm-7 1zm1 0zm5 0zm-4 1zm11 1zm3 0zm-10 0zm15 0zm-20 1zm20 0zm-1 0zm3 0zm-30 1zm29 0zm0 0zm-9 0zm-11 1zm15 0zm4 0zm-3 0zm3 0zm-10 0zm10 0zm-29 0zm29 1zm-16 0zm11 0zm-2 0zm-14 0zm20 0zm2 0zm1 1zm-1 0zm-1 0zm-3 1zm4 0zm-1 0zm1 1zm-4 0zm-1 1zm-8 1zm7 0zm7 0zm-8 1zm2 0zm-3 1zm6 0zm-21 0zm-2 1zm14 0zm12 1zm-7 0zm-9 0zm16 0zm-17 0zm5 1zm4 0zm-14 0zm21 0zm-9 0zm-6 0zm5 1zm-1 0zm8 0zm-7 0zm6 0zm-20 1zm6 0zm16 0zm-7 0zm-3 0zm11 0zm-14 1zm1 0zm4 1zm-21 0zm21 0zm0 0zm-5 0zm8 0zm-12 0zm7 0zm10 1zm-4 0zm-4 0zm1 0zm-8 0zm9 1zm-3 0zm11 0zm-15 0zm2 0zm5 1zm-3 1zm-1 0zm10 1zm-6 0zm-4 0zm7 0zm-8 1zm2 11zm28 3zm-8-6zm-1-1zm-4-1zm10-1zm-5-1zm0-1zm-3-1zm-1 0zm-2-1zm2 0zm5-1zm-6-1zm0 0zm2-1zm-1-1zm11 0zm-11-1zm1 0zm-1 0zm2-1zm-3-3zm2-1zm-2 0zm-1-1zm0 0zm3-1zm-1 0zm-3-1zm0-2zm4-1zm-4 0zm2-1zm20 0zm-22-1zm2-1zm1-1zm-1-1zm4 0zm-6 0zm1-1zm12 0zm-4-2zm-7 0zm7-1zm-4 0zm-5 0zm3 0zm-2-1zm4-2zm-5-2zm1-2zm10-1zm-2-1zm-6 0zm-2 0zm5 0zm-1-1zm15-2zm-6 0zm-9-3zm-2-2zm-2-1zm-1-3zm2 0zm0-1zm-1 0zm-1-4zm6-1zm-4-2zm-2-2zm1 0zm7-10zm-8-1zm11-1zm-2 0zm-9-1zm1-14zm11-1zm-10-3zm-1 0zm1-5zm-1-1z" stroke="#99A800" stroke-width="4.4"/><path d="M1146 1749zm2 14zm10 1zm-7 5zm5 6zm-10 0zm12 1zm-13 2zm2 0zm4 1zm-18 0zm16 0zm-5 2zm2 2zm-3 0zm-8 2zm9 0zm-6 2zm2 1zm13 1zm-13 2zm-7 2zm59-11zm4-2zm-4-1zm3 0zm-2-2zm-33-1zm2-3zm37-2zm-15 0zm6-2zm-13 0zm19-1zm-19 0zm19-1zm-28 0zm31 0zm-16 0zm-7-1zm-13 0zm36 0zm-23 0zm-12 0zm31 0zm-10-1zm-21-1zm27 0zm-27 0zm20 0zm2 0zm11 0zm-30 0zm4 0zm4 0zm6-1zm-2 0zm19 0zm0-1zm-27-1zm3 0zm4 0zm17 0zm-17-1zm5 0zm-3 0zm3-2zm-3-1zm3-1zm-2 0zm-10-1zm12 0zm-18 0zm-1 0zm20-1zm11 0zm3-2zm-21 0zm21-1zm-21-1zm3 0zm-5-2zm-5-1zm-1 0zm1 0zm7 0zm-3 0zm21-1zm-31 0zm14 0zm-2 0zm2-1zm14 0zm-3-1zm-16 0zm-1 0zm6 0zm16 0zm-8 0zm-8 0zm-13-1zm-1 0zm7-1zm0 0zm0 0zm-1 0zm28 0zm-7-1zm-24-1zm30-1zm-27 0zm-1 0zm10 0zm4 0zm-18-1zm0 0zm22 0zm-22-1zm27-1zm-14 0zm7 0zm-2 0zm-4 0zm20 0zm-13-1zm-2 0zm-11 0zm9 0zm-18 0zm34 0zm-6 0zm-10-1zm3 0zm-1 0zm-4 0zm4 0zm5 0zm-10-1zm6 0zm-19 0zm16-1zm11 0zm0 0zm-23 0zm18-1zm1 0zm5 0zm3-1zm-15 0zm16 0zm-7-1zm-9 0zm13 0zm-5 0zm5-1zm-6 0zm-1 0zm1-2zm-7 0zm-3 0zm13 0zm-1-1zm8 0zm-14-1zm1 0zm-2 0zm7-1zm5 0zm-8 0zm5-1zm-11 0zm10-2zm3-1zm-9 0zm4 0zm-3 0zm0 0zm-17-3zm19-1zm5-3zm-3-5zm11 16zm-1 10zm10 5zm-10 0zm0 1zm3 0zm3 1zm-2 0zm7 0zm-3 1zm4 1zm-4 0zm0 0zm6 0zm-6 1zm-2 0zm-4 0zm8 0zm-8 1zm2 1zm0 0zm6 1zm-4 0zm5 0zm-8 1zm8 1zm-11 0zm9 0zm-5 0zm1 0zm6 0zm-11 0zm0 0zm6 1zm2 0zm5 0zm-8 1zm6 0zm-11 0zm12 1zm-10 0zm9 1zm3 0zm0 0zm-12 0zm9 1zm9 0zm-17 1zm11 0zm-12 0zm5 2zm-5 2zm0 1zm2 0zm-1 1zm3 0zm-7 1zm6 0zm4 0zm0 0zm-4 1zm11 0zm-6 0zm3 2zm-12 1zm9 0zm-6 0zm-1 0zm-4 1zm9 0zm-7 1zm3 0zm9 1zm-3 1zm-2 1zm5 0zm-14 0zm16 5zm-1 2zm-9 1zm8 1zm-14 0zm12 1zm6 1zm6 2zm-6 3zm2 0zm-1 2zm-1 0zm-1 2zm4 1zm5 2zm-4 1zm-6 1zm5 2zm7 2zm-6 0zm3 0zm-1 3zm8 1zm-7 1zm1 0zm-3 4zm-4 0zm8 1zm-3 0zm1 2zm-2 0zm-5 0zm6 1zm5 1zm0 2zm2 3zm-13 0zm15 1zm-2 3zm-6 8z" stroke="#00BC56" stroke-width="4.4"/><path d="M954 1885zm34-71zm-10 16zm19 3zm-15 2zm6 3zm4 0zm7 0zm-35 1zm20 0zm4 1zm1 2zm4 0zm-3 0zm-3 0zm-15 1zm2 2zm13 1zm2 0zm0 0zm-15 1zm12 0zm-7 0zm-8 1zm15 0zm0 0zm11 1zm1 0zm-20 0zm1 0zm11 1zm-27 0zm26 1zm-12 1zm18 0zm-23 0zm-2 1zm9 0zm0 0zm8 2zm-7 1zm5 1zm2 0zm-5 0zm-5 0zm4 0zm-1 0zm-4 1zm-9 0zm2 1zm10 0zm7 0zm-15 0zm8 0zm11 1zm-7 0zm-2 0zm2 0zm3 0zm-8 1zm-6 0zm20 0zm-20 0zm24 0zm-14 1zm2 0zm-2 0zm-7 0zm-5 0zm26 0zm-11 1zm10 0zm0 0zm-11 0zm-18 0zm17 0zm-12 0zm16 1zm-5 1zm-10 0zm13 0zm-1 0zm6 0zm-5 0zm-6 1zm2 0zm6 0zm-15 1zm10 0zm-3 0zm5 0zm8 0zm-6 0zm-4 0zm-2 0zm-5 0zm12 0zm-11 1zm5 0zm2 1zm-1 0zm-4 0zm11 0zm8 0zm-9 0zm2 1zm-10 0zm6 0zm10 0zm-12 0zm15 1zm-11 0zm-4 0zm11 1zm-16 1zm10 1zm-21 0zm21 1zm-3 0zm-9 1zm14 0zm-16 1zm5 0zm-3 0zm-8 2zm24 2zm-22 0zm13 1zm-17 1zm27 1zm5 0zm0 2zm-2 4zm-2 0zm0 1zm-6 1zm8 1zm-2 2zm-1 0zm3 1zm-2 0zm-2 0zm1 0zm2 3zm32 5zm-8-2zm-5-1zm0 0zm6 0zm-6 0zm7-2zm4 0zm-2-2zm-7-1zm4 0zm6-1zm-11-1zm14-1zm-16 0zm8 0zm-1 0zm9-1zm-10 0zm-17 0zm18 0zm4-2zm-22 0zm15 0zm-15-1zm21 0zm-4-1zm5-3zm-22 0zm14-2zm2-1zm-7-1zm25 0zm-3-1zm-12 0zm2 0zm-16-1zm-1-1zm11 0zm11 0zm-25 0zm12 0zm-2 0zm9-1zm2-2zm-16 0zm16 0zm-20-1zm14 0zm-3 0zm8-1zm-5 0zm-4-1zm-3 0zm-2 0zm12 0zm-15 0zm-2-1zm28 0zm-17 0zm1 0zm1 0zm-9-1zm3 0zm3 0zm-1 0zm-3 0zm8-1zm-6 0zm16 0zm10 0zm-26-1zm24 0zm-12-1zm-14 0zm16 0zm-24 0zm5-2zm-2 0zm12-1zm-14 0zm4 0zm4 0zm18-2zm-1 0zm-25 0zm9 0zm10-1zm0-1zm7 0zm9-1zm-16 0zm-12 0zm-6 0zm19 0zm-14 0zm17 0zm-3-1zm-1 0zm-9 0zm7 0zm-13-1zm1 0zm6 0zm12 0zm-20 0zm21-1zm-9 0zm13 0zm-10 0zm-9 0zm-6 0zm26 0zm-25 0zm-3-1zm12 0zm-7 0zm15 0zm-14-1zm14 0zm-11 0zm5 0zm-11 0zm3-1zm14 0zm-17 0zm17 0zm6 0zm-8-1zm-16 0zm19 0zm-4 0zm-14 0zm16 0zm-18-1zm0 0zm19 0zm-23 0zm8-1zm-3 0zm23 0zm-20 0zm2 0zm-6 0zm12 0zm-5 0zm0 0zm-11-1zm22 0zm-20 0zm24-1zm-17 0zm15 0zm-8 0zm-4 0zm11 0zm-14-1zm3 0zm9 0zm-4-1zm1 0zm-17 0zm0-1zm20 0zm-16-1zm15 0zm-19 0zm20-1zm1 0zm-16 0zm-4-1zm3-1zm-3 0zm0 0zm3 0zm0-1zm6 0zm0 0zm0-1zm-6 0zm-5-1zm4 0zm-5 0zm7-1zm3 0zm-10 0zm0-3zm12-1zm29 28zm-2 3zm0 1zm4 3zm-4 2zm2 3zm10 3zm-4 1zm3 0zm-10 2zm9 2zm-10 15zm1 2zm3 3zm1 1zm1 4zm-5 0zm5 0zm-4 1zm9 9zm-3 4zm2 1zm-4 1zm3 4z" stroke="#53B400" stroke-width="4.4"/><path d="M835 1859zm44 22zm-1-7zm-15-1zm-6-2zm17-3zm-1 0zm-11 0zm15-1zm0 0zm-19-1zm14 0zm4-1zm-14 0zm-2 0zm0-1zm17 0zm-14-1zm-12 0zm14 0zm1 0zm6 0zm1-1zm-24 0zm23 0zm1-1zm-22 0zm22 0zm-22-1zm-5 0zm-3 0zm7 0zm10 0zm17-1zm-24 0zm18-1zm-8-1zm13 0zm-8 0zm10 0zm-16-1zm-7 0zm5-1zm-17 0zm25-1zm-13 0zm-9 0zm33 0zm-28-1zm-6 0zm30-1zm4 0zm-30 0zm6-1zm23 0zm-23 0zm-13-1zm15 0zm-5 0zm-9-1zm12 0zm15-1zm7 0zm-34-1zm3-1zm10 0zm15-1zm-24-1zm31-5zm-22 0zm-11-3zm35-10zm24 2zm-16 1zm5 2zm6 0zm-10 1zm16 0zm-6 1zm-3 0zm-7 3zm6 1zm-11 0zm2 0zm15 1zm-2 2zm-15 0zm5 0zm-1 1zm4 0zm-5 0zm0 0zm15 1zm-14 0zm0 0zm13 0zm-20 1zm0 0zm21 1zm-16 1zm11 0zm-14 2zm22 0zm-12 0zm4 1zm7 0zm-7 1zm-15 0zm3 0zm15 1zm-17 1zm22 2zm1 0zm-4 0zm-2 0zm2 0zm3 1zm0 0zm-4 0zm-17 0zm16 0zm-16 0zm14 0zm-10 1zm17 0zm-19 0zm21 1zm-3 0zm4 0zm-9 2zm-19 0zm22 1zm-1 0zm6 1zm-11 0zm-4 0zm-11 0zm27 0zm-28 0zm7 1zm-7 0zm13 0zm5 1zm1 1zm-13 1zm2 2zm-1 0zm-2 1zm30 1zm-29 1zm4 1zm-7 0zm6 0zm-2 0zm0 0zm13 1zm-17 0zm20 1zm-17 0zm3 0zm0 0zm0 0zm-9 0zm4 0zm6 1zm16 0zm-25 0zm19 0zm-19 0zm3 0zm3 1zm-6 0zm20 0zm-2 0zm-12 1zm1 0zm2 0zm5 0zm2 0zm6 1zm-11 0zm-5 0zm8 0zm-6 0zm1 1zm-8 0zm20 2zm-5 1zm-6 0zm-2 0zm-5 1zm0 0zm9 1zm-12 3zm66-1zm-3-1zm11-2zm-7-2zm-4-1zm3 0zm11 0zm-23-1zm-4-1zm-3 0zm-2-1zm23 0zm3 0zm-27-1zm9-1zm-9-1zm-2-2zm-1 0zm-2 0zm28-2zm5 0zm-11 0zm-3-2zm3-1zm-1-1zm-1 0zm-4 0zm6 0zm2 0zm1-1zm0 0zm-7 0zm6-1zm-11 0zm7-1zm4-1zm-3-1zm5-1zm1 0zm-10-1zm14 0zm-19-2zm19 0zm-7-1zm3 0zm0-2zm-3-1zm-5 0zm-7-1zm9 0zm6 0zm-25-1zm11-1zm1-1zm19 0zm-11-1zm0 0zm-9-1zm5-2zm0 0zm-1 0zm-3-1zm16 0zm-11-1zm0 0zm3-1zm7-1zm-6 0zm0-1zm-3 0zm0-1zm-2-1zm-6 0zm8 0zm-1-1zm-7-1zm4 0zm5 0zm-1-1zm0 0zm5 0zm2 0zm-15-1zm7 0zm9 0zm-12-1zm7 0zm-1 0zm-2 0zm7 0zm-16-2zm-9 0zm7-1zm10-1zm-7 0zm11 0zm0 0zm-9-1zm-5 0zm4 0zm4 0zm3-1zm-8-2zm4 0zm-1-1zm-4 0zm4-1zm1 0zm-1 0zm10 0zm-12-1zm8-1zm0-2zm-14-1zm5 0zm4-1zm-1-1zm12-1zm-18 0zm7-1zm-1-2zm7 0zm1 0zm-7-2zm-2-1zm0 0zm1-2zm-6 0zm-7-1zm21 0zm-10 0zm-3-1zm3 0zm0 0zm6 0zm-3-1zm6 0zm-3-1zm-6 0zm2 0zm8-1zm-1 0zm-15-1zm4-1zm7-2zm-10 0zm18-1zm-7 0zm-10 0zm4-1zm2 0zm5-1zm-10 0zm-4 0zm5 0zm3-2zm-5-4zm9-1zm-9-8zm45 88zm-11 3zm13 1zm1 1zm7 0zm-11 0zm-8 4z" stroke="#C49A00" stroke-width="4.4"/><path d="M1038 2046zm0-6zm-4-2zm5-2zm-1-1zm0-1zm1-4zm0-1zm0 0zm-2-1zm0-1zm-20-2zm22-3zm-7-4zm2-1zm5 0zm-3-1zm3-6zm-11-2zm47-31zm1 8zm0 1zm-1 8zm0 2zm4 0zm-22 0zm16 1zm-3 0zm5 2zm2 1zm-2 0zm-25 0zm29 1zm0 0zm-2 0zm-9 0zm5 1zm4 1zm-11 0zm-6 0zm8 0zm-11 1zm1 0zm16 1zm1 1zm-13 0zm13 0zm2 0zm-10 1zm7 0zm-15 0zm12 0zm-18 0zm22 1zm4 1zm-8 0zm-3 0zm-2 0zm7 0zm-7 0zm3 1zm1 0zm-10 0zm1 0zm3 0zm9 1zm-7 0zm3 0zm3 0zm-3 0zm-5 0zm-9 1zm6 0zm-18 0zm6 1zm7 0zm12 1zm4 0zm-19 0zm11 0zm12 1zm-26 0zm9 1zm1 0zm9 0zm10 0zm-24 0zm6 1zm-2 0zm-12 1zm13 0zm-3 0zm0 0zm-8 0zm8 0zm7 1zm-5 0zm7 0zm9 0zm-22 0zm11 1zm-2 0zm-3 1zm-13 0zm23 0zm-7 0zm-9 0zm6 0zm2 0zm12 0zm-21 1zm9 0zm12 0zm-27 0zm16 0zm8 0zm-28 0zm22 0zm-2 0zm-3 1zm0 0zm-1 0zm19 0zm-37 0zm24 0zm6 0zm-1 0zm3 1zm-20 0zm-11 0zm19 0zm8 1zm-4 0zm10 0zm-32 0zm19 0zm15 0zm-8 0zm3 0zm-11 0zm-9 1zm9 0zm12 0zm-20 0zm17 0zm-2 0zm8 0zm-12 0zm-8 0zm19 0zm-24 0zm-1 1zm1 0zm27 0zm-6 0zm-17 0zm-3 1zm-9 0zm0 0zm9 0zm9 0zm4 1zm-6 0zm18 0zm-7 0zm-25 0zm3 0zm-7 0zm4 1zm20 0zm15 0zm-23 0zm-10 0zm22 0zm-19 0zm-9 0zm29 1zm-25 0zm26 0zm-12 0zm-15 0zm15 0zm-15 0zm3 1zm28 0zm-31 0zm5 0zm-2 0zm27 0zm-15 1zm-2 0zm-15 0zm4 0zm4 0zm15 0zm-20 0zm12 0zm3 0zm-12 1zm13 0zm-18 0zm4 0zm6 0zm5 0zm-16 0zm11 0zm-4 0zm1 0zm-6 0zm22 0zm-2 1zm-10 0zm-8 0zm-4 0zm15 0zm8 0zm-2 0zm1 1zm-16 0zm7 0zm0 0zm-12 1zm-2 0zm8 0zm13 0zm1 0zm-20 0zm27 1zm-27 0zm22 0zm-17 1zm8 0zm-5 0zm13 0zm-17 1zm3 0zm-4 0zm-3 0zm19 0zm9 2zm-13 1zm-12 0zm22 0zm-6 0zm-9 1zm6 0zm5 1zm-8 1zm4 6zm-10 6zm39-22zm2-1zm8-6zm-5 0zm18-2zm-15-2zm-10-1zm5-1zm-1 0zm-5 0zm-2-1zm-2-1zm8 0zm-8 0zm18-2zm10 0zm-26-2zm1 0zm17-1zm5-1zm-3 0zm-5 0zm-9 0zm10-1zm-1 0zm-11 0zm11 0zm-13 0zm21-1zm-13-1zm1 0zm11-1zm-18 0zm12 0zm-10-1zm-9 0zm18 0zm-4-1zm13 0zm-16 0zm4-1zm-9 0zm8-1zm14 0zm-15 0zm-2 0zm-2 0zm3 0zm-11 0zm7-1zm4 0zm14 0zm-20-1zm0 0zm9 0zm-6 0zm-4-1zm0 0zm23 0zm-28 0zm10 0zm12 0zm-17 0zm-5 0zm3 0zm0-1zm3 0zm11 0zm17 0zm-17-1zm-16 0zm14 0zm-4 0zm3 0zm-12-1zm6 0zm21 0zm-25 0zm18-1zm-8 0zm-1 0zm8-1zm-2 0zm2 0zm14 0zm-21 0zm2-1zm-2 0zm16 0zm3 0zm-21 0zm3-1zm2 0zm0-1zm-8 0zm-3 0zm24-1zm-9-1zm-19 0zm19 0zm-7 0zm-7 0zm0-1zm6 0zm-11-1zm28-2zm7 0zm-15 0zm2 0zm-17-1zm12 0zm-4-1zm-5-1zm8-1zm-3 0zm12 0zm-1-1zm-12-1zm-7-1zm21-1zm-20-1zm5-1zm-1-4zm5 0zm-7-2zm-4-1zm7-1zm-6-2zm11 0zm-10 0zm-1-1zm9-1zm-3-1zm6 0zm-3-2zm-4 0zm-1 0zm3-1zm-4 0zm6-1zm0-1zm-4 0zm0 0zm1-1zm3-1zm28 12zm1 27z" stroke="#00C094" stroke-width="4.4"/><path d="M1035 1982zm-4-1zm2-1zm6 0zm-7-2zm-3-1zm6-1zm-4-1zm6 0zm2 0zm-7-2zm3 0zm-2 0zm-1-1zm6-1zm-1-1zm-1-2zm-4 0zm-2 0zm4-6zm24-300zm-7 2zm0 0zm-3 0zm3 2zm2 1zm7 1zm-10 0zm1 1zm6 0zm0 1zm-11 1zm4 0zm7 0zm-13 2zm7 0zm-3 0zm-3 1zm11 0zm-6 0zm-8 0zm2 1zm5 0zm-5 0zm8 1zm10 2zm-14 0zm15 0zm-6 1zm-4 1zm5 0zm-11 3zm11 1zm-7 1zm1 0zm-1 0zm0 2zm0 0zm6 0zm0 1zm7 0zm-11 0zm6 0zm-4 1zm5 0zm-5 0zm-2 0zm-3 1zm0 1zm13 0zm-3 0zm-2 0zm-2 1zm-10 1zm3 2zm9 1zm1 0zm-6 2zm-12 264zm2 0zm0 1zm-1 2zm0 3zm3 1zm-1 0zm-3 7z" stroke="#06A4FF" stroke-width="4.4"/><path d="M1238 1818zm-15 2zm14 1zm-9 1zm8 1zm-8 2zm-8 0zm9 1zm-10 1zm4 1zm3 0zm-4 1zm2 0zm14 1zm-13 0zm12 0zm-11 0zm3 0zm-18 0zm24 1zm-6 0zm-7 0zm15 0zm2 0zm-17 0zm11 0zm-3 1zm2 0zm5 0zm-11 0zm-10 0zm15 0zm4 0zm-17 1zm11 0zm-20 0zm19 0zm-2 0zm5 0zm-2 0zm-1 0zm8 1zm-5 0zm-6 0zm-15 0zm11 1zm7 0zm-4 0zm9 1zm-1 0zm5 0zm-18 0zm-14 0zm4 0zm15 0zm-9 1zm-1 0zm10 0zm2 0zm-12 0zm-2 0zm22 0zm-16 0zm21 0zm-13 0zm5 0zm-25 0zm1 1zm16 0zm9 0zm1 0zm-9 1zm-12 0zm8 0zm-13 0zm0 1zm26 0zm-2 0zm-7 0zm-11 0zm16 0zm-12 0zm19 1zm-11 0zm7 0zm-21 0zm15 0zm3 0zm0 0zm6 1zm-15 0zm7 0zm-15 1zm6 0zm-1 0zm11 0zm-9 0zm15 0zm-6 1zm3 0zm4 0zm-22 0zm22 0zm-7 1zm-5 0zm14 0zm-4 1zm-11 0zm-4 0zm-18 1zm20 1zm-18 1zm2 0zm15 1zm-12 0zm-2 1zm25 0zm-23 1zm15 1zm-19 0zm1 0zm0 0zm18 0zm-12 1zm-2 0zm11 0zm-7 1zm-6 0zm1 0zm5 0zm-2 1zm-7 0zm12 0zm-3 0zm3 1zm-12 1zm16 0zm-9 0zm0 0zm-4 1zm6 0zm4 1zm-9 0zm6 1zm-5 0zm23 0zm-31 1zm6 0zm22 0zm-21 1zm3 1zm-4 0zm15 0zm-8 0zm-9 0zm14 1zm-15 0zm14 0zm-12 0zm-1 1zm14 0zm-3 0zm8 0zm6 0zm-12 0zm-5 0zm-5 1zm20 0zm-18 0zm10 0zm-8 0zm-6 0zm9 1zm-1 0zm-5 0zm12 0zm-7 0zm-1 1zm2 0zm1 0zm2 0zm-6 1zm1 0zm2 1zm-6 0zm17 10zm16-33zm-1-7zm1-1zm-1-2zm1-3zm1-6zm-1 0zm-1-6zm3-2z" stroke="#00BFC4" stroke-width="4.4"/><path d="M915 1736zm4 2zm-2 1zm-2 0zm-4 1zm3 3zm3 1zm-2 3zm4 0zm-11 0zm3 0zm-4 1zm-3 0zm8 1zm-1 1zm5 1zm-1 0zm3 1zm-4 0zm-4 1zm8 1zm-3 1zm-8 0zm8 0zm-1 0zm5 1zm-11 0zm4 1zm-3 1zm7 0zm-6 1zm8 0zm-5 0zm4 3zm-1 0zm1 2zm-1 2zm1 1zm-1 1zm0 3zm3 9zm6 13zm9-8zm-7-3zm2-2zm2 0zm-5-2zm24-1zm-25 0zm-2 0zm4-1zm16-1zm-5 0zm-1-1zm-9 0zm-7 0zm2 0zm6 0zm4-1zm-11 0zm-1 0zm15 0zm-11-1zm6 0zm-1-1zm0 0zm-2-1zm1 0zm-4 0zm2-1zm2 0zm3 0zm-6 0zm7 0zm-6-1zm13 0zm2-1zm-16 0zm7 0zm-5 0zm12-1zm2 0zm2 0zm-12 0zm5-1zm-5 0zm-12 0zm16 0zm-10 0zm3 0zm6 0zm0 0zm5-1zm-15 0zm6 0zm-7 0zm22-1zm-22 0zm10 0zm-7 0zm3 0zm14 0zm-7 0zm-10-1zm9 0zm-4 0zm-9 0zm6 0zm0 0zm-5 0zm21 0zm1-1zm-22-1zm20 0zm-14-1zm5 0zm1 0zm-4 0zm-3 0zm8-1zm-12 0zm-3 0zm11 0zm11-1zm-22 0zm3 0zm17 0zm-18-1zm23 0zm-1 0zm-23-1zm1 0zm-2 0zm21-1zm-11 0zm-8-1zm17 0zm-17 0zm22-1zm-7-1zm2 0zm2 0zm-21-1zm10 0zm1 0zm16-1zm-9 0zm-15-1zm11 0zm-5-1zm-4 0zm3 0zm22-1zm-4 0zm-3-1zm-22-2zm14 0zm-13-1zm1 0zm2 0zm-7 0zm10 0zm1-2zm-8 0zm7-1zm-8 0zm10-1zm-11-2zm13-1zm-3-1zm6-1zm-14 0zm0 0zm4-1zm6 0zm-5 0zm7-1zm-2-1zm0 0zm-5-3zm-1 0zm-1-4z" stroke="#00B6EB" stroke-width="4.4"/><path d="M1030 1955zm-5-2zm10-11zm-3-2zm1-9zm11 6zm3 1zm-7 7zm3 3zm8 8zm64-121zm4-7zm35-25zm-25 7zm26 0zm-9 0zm-2 1zm-4 0zm10 1zm-16 1zm16 0zm1 1zm-6 1zm-18 0zm11 0zm12 0zm-19 1zm-6 0zm4 0zm1 1zm26 0zm-9 0zm9 0zm-10 1zm3 0zm-14 0zm-9 0zm1 1zm21 0zm-20 0zm21 0zm8 0zm-28 0zm12 0zm10 0zm-16 1zm4 0zm4 1zm4 1zm-1 0zm-22 0zm9 2zm14 0zm6 1zm-2 0zm-1 1zm-7 0zm-7 0zm-7 1zm30 0zm-10 0zm-11 0zm10 0zm-9 1zm16 0zm-11 0zm-20 1zm0 1zm11 0zm-6 1zm28 0zm-7 2zm-14 0zm-3 2zm9 6zm24-7zm13-5zm20-2zm-31-1zm16-1zm-10 0zm2 0zm-10-1zm29 0zm-30 0zm14 0zm-15-1zm23 0zm-11 0zm-2 0zm-8 0zm12 0zm0-1zm-1 0zm1 0zm-10 0zm30-1zm-37 0zm8 0zm9 0zm-10 0zm5 0zm-7-1zm0 0zm21 0zm-22 0zm9 0zm-13 0zm36 0zm-7-1zm-12 0zm-12 0zm27 0zm-25 0zm20-1zm-16 0zm10 0zm7 0zm-18-1zm21 0zm-13 0zm9 0zm-13 0zm7 0zm-20 0zm5-1zm24 0zm0-1zm-11 0zm12 0zm-4-1zm-15 0zm24-1zm-29 0zm18 0zm-4 0zm-20-1zm11-1zm19 0zm2 0zm-2 0zm-25-1zm4 0zm-8-1zm12-2zm1-2zm14-1zm-20-4zm44 5zm-13 9zm9 1zm4 2zm-5 5z" stroke="#DF70F8" stroke-width="4.4"/><path d="M1197 2072zm2-11zm4-9zm-1 1zm8 1zm-2 0zm-2 2zm2 5zm5 2zm-7 1z" stroke="#FF66A8" stroke-width="4.4"/><path d="M998 1567zm3 2zm0-8zm155 408zm3 2zm-1 4zm18 22zm-7-7zm9-2zm-8-2zm-1 0zm-1 0zm-8-2zm6-2zm2-1zm2 0zm-7-1zm10-3zm-6-4zm-4 0zm0-2zm-1 0zm4 0zm-1-2zm-2 0zm-1-1z" stroke="#FB61D7" stroke-width="4.4"/></g>
<path d="M196.8 384V520.8H317" stroke="#8e8e8e" stroke-width="1.2" fill="none"/>
<path d="M194.4 392.3H196.8M194.4 426.6H196.8M194.4 460.9H196.8M194.4 495.2H196.8M200.2 520.8V523.2M232.0 520.8V523.2M263.8 520.8V523.2M295.6 520.8V523.2" stroke="#333" stroke-width=".7" fill="none"/>
<g font-size="8.9" fill="#1a1a1a" stroke="#1a1a1a" stroke-width=".18">
<text x="193.6" y="395.6" text-anchor="end">8</text>
<text x="193.6" y="429.9" text-anchor="end">4</text>
<text x="193.6" y="464.2" text-anchor="end">0</text>
<text x="193.6" y="498.5" text-anchor="end">-4</text>
<text x="200.7" y="531.3" text-anchor="middle">-10</text>
<text x="232.5" y="531.3" text-anchor="middle">-5</text>
<text x="263.8" y="531.3" text-anchor="middle">0</text>
<text x="295.6" y="531.3" text-anchor="middle">5</text>
</g>
<text x="263.5" y="544.2" font-size="8.6" text-anchor="middle" fill="#111" stroke="#111" stroke-width=".18">UMAP_1</text>
<text x="182.5" y="446" font-size="8.7" text-anchor="middle" fill="#111" stroke="#111" stroke-width=".18" transform="rotate(-90 182.5 446)">UMAP_2</text>
<circle cx="322.4" cy="398.0" r="2.1" fill="#F8766D"/>
<text x="329.8" y="400.7" font-size="7.5" fill="#111" stroke="#111" stroke-width=".15">1</text>
<circle cx="322.4" cy="406.5" r="2.1" fill="#E38900"/>
<text x="329.8" y="409.2" font-size="7.5" fill="#111" stroke="#111" stroke-width=".15">2</text>
<circle cx="322.4" cy="415.0" r="2.1" fill="#C49A00"/>
<text x="329.8" y="417.7" font-size="7.5" fill="#111" stroke="#111" stroke-width=".15">3</text>
<circle cx="322.4" cy="423.5" r="2.1" fill="#99A800"/>
<text x="329.8" y="426.2" font-size="7.5" fill="#111" stroke="#111" stroke-width=".15">4</text>
<circle cx="322.4" cy="432.0" r="2.1" fill="#53B400"/>
<text x="329.8" y="434.7" font-size="7.5" fill="#111" stroke="#111" stroke-width=".15">5</text>
<circle cx="322.4" cy="440.5" r="2.1" fill="#00BC56"/>
<text x="329.8" y="443.2" font-size="7.5" fill="#111" stroke="#111" stroke-width=".15">6</text>
<circle cx="322.4" cy="449.0" r="2.1" fill="#00C094"/>
<text x="329.8" y="451.7" font-size="7.5" fill="#111" stroke="#111" stroke-width=".15">7</text>
<circle cx="322.4" cy="457.5" r="2.1" fill="#00BFC4"/>
<text x="329.8" y="460.2" font-size="7.5" fill="#111" stroke="#111" stroke-width=".15">8</text>
<circle cx="322.4" cy="466.0" r="2.1" fill="#00B6EB"/>
<text x="329.8" y="468.7" font-size="7.5" fill="#111" stroke="#111" stroke-width=".15">9</text>
<circle cx="322.4" cy="474.5" r="2.1" fill="#06A4FF"/>
<text x="329.8" y="477.2" font-size="7.5" fill="#111" stroke="#111" stroke-width=".15">10</text>
<circle cx="322.4" cy="483.0" r="2.1" fill="#A58AFF"/>
<text x="329.8" y="485.7" font-size="7.5" fill="#111" stroke="#111" stroke-width=".15">11</text>
<circle cx="322.4" cy="491.5" r="2.1" fill="#DF70F8"/>
<text x="329.8" y="494.2" font-size="7.5" fill="#111" stroke="#111" stroke-width=".15">12</text>
<circle cx="322.4" cy="500.0" r="2.1" fill="#FB61D7"/>
<text x="329.8" y="502.7" font-size="7.5" fill="#111" stroke="#111" stroke-width=".15">13</text>
<circle cx="322.4" cy="508.5" r="2.1" fill="#FF66A8"/>
<text x="329.8" y="511.2" font-size="7.5" fill="#111" stroke="#111" stroke-width=".15">14</text>
<text x="352" y="369" font-size="18.4" font-weight="bold">f</text>
<text x="442.2" y="381.2" font-size="10.6" text-anchor="middle" fill="#111" stroke="#111" stroke-width=".18">TECs (n=2338)</text>
<g transform="scale(0.25)" fill="none" stroke-linecap="round"><path d="M1519 1859zm-16-1zm12 0zm2 0zm2-1zm0-1zm-9-1zm7 0zm-4-2zm5 0zm-9-1zm10 0zm-8-1zm7-6zm-6-1zm2-1zm-10 0zm1-1zm8 0zm2-2zm3 0zm-5-1zm1 0zm4 0zm-5-1zm6 0zm-4-2zm-3 0zm-2 0zm3-1zm-5 0zm7-1zm4 0zm-13 0zm3-2zm5 0zm-1 0zm6 0zm0 0zm-3 0zm-10 0zm8 0zm2-1zm1-1zm-3 0zm1-1zm-2 0zm-1 0zm-1-1zm-4 0zm8 0zm-3-1zm5 0zm-4 0zm-3 0zm1 0zm1 0zm4-1zm3 0zm-6 0zm-2 0zm1 0zm4 0zm0 0zm-2 0zm0-1zm3 0zm1 0zm-3-1zm-1 0zm0-1zm3 0zm-1-2zm2 0zm-9-1zm8 0zm1-2zm1-1zm-3-1zm3-8zm0-4zm-5-3zm5-9zm-1-7zm-5 0zm6-4zm-1-1zm1-11zm13 3zm6 5zm0 0zm-6 0zm1 2zm-11 1zm10 0zm-3 2zm9 0zm-1 1zm-16 0zm8 2zm19 0zm-22 1zm-5 0zm16 0zm-11 0zm-2 1zm-1 1zm4 3zm8 0zm-3 0zm-12 1zm4 0zm7 1zm-1 1zm-4 1zm-4 0zm13 0zm-6 1zm-6 0zm-3 1zm9 1zm6 0zm-14 1zm4 0zm12 0zm-8 1zm-6 0zm4 0zm0 0zm20 0zm-15 0zm-12 0zm25 0zm-8 1zm-14 1zm7 0zm14 0zm-16 1zm-7 0zm0 1zm4 0zm7 0zm-1 1zm-5 0zm-4 2zm10 0zm-7 0zm8 1zm-7 1zm9 1zm-11 1zm4 0zm-3 0zm6 0zm6 0zm-1 1zm-8 1zm5 0zm2 0zm-8 0zm11 1zm-15 0zm12 1zm7 0zm-8 1zm-6 0zm9 0zm-2 1zm-13 0zm6 0zm-7 1zm11 0zm3 0zm-15 0zm7 0zm6 1zm-12 0zm8 0zm8 0zm-13 0zm14 1zm-1 0zm-4 1zm2 0zm3 0zm-6 0zm1 1zm1 0zm-8 1zm3 0zm-4 0zm12 1zm-16 0zm0 0zm0 0zm0 0zm14 0zm-8 1zm-1 0zm13 0zm-11 1zm-5 0zm-2 0zm12 0zm-7 0zm16 0zm-22 1zm8 1zm2 0zm-2 1zm28 0zm-31 0zm25 0zm-23 1zm1 1zm2 0zm-1 0zm-3 0zm16 0zm3 1zm-22 0zm16 0zm-2 0zm5 0zm5 1zm-24 0zm15 1zm-2 1zm-7 0zm-5 0zm2 0zm7 0zm-7 1zm-4 0zm13 0zm-1 1zm7 0zm-7 1zm3 1zm-12 1zm9 0zm3 0zm8 1zm-3 0zm3 0zm-11 0zm-6 0zm10 0zm-3 0zm5 0zm-6 1zm-2 0zm2 0zm-9 0zm12 1zm-8 0zm4 0zm-3 0zm20 0zm-17 0zm-10 0zm5 1zm-1 0zm5 0zm2 0zm4 0zm-2 0zm-3 0zm2 1zm-2 0zm6 0zm-4 0zm7 0zm-9 0zm8 1zm-10 0zm7 0zm-3 0zm-2 0zm1 1zm-4 0zm6 0zm2 1zm-9 0zm29 0zm-37 1zm31 0zm-24 0zm12 0zm-4 0zm-1 0zm1 0zm-9 1zm5 0zm-2 0zm-4 1zm2 1zm7 0zm1 0zm-13 0zm16 0zm2 1zm-6 0zm2 0zm0 1zm6 0zm-20 0zm17 0zm-13 0zm7 0zm-9 0zm7 0zm-12 0zm22 1zm-17 0zm7 0zm-9 0zm2 0zm13 0zm-14 0zm-2 0zm9 0zm2 0zm6 1zm-1 0zm14 0zm-28 1zm-3 0zm6 0zm-5 0zm10 1zm-8 0zm0 0zm15 0zm-14 0zm1 0zm12 1zm-12 0zm-3 0zm18 0zm-1 0zm-12 0zm6 0zm-13 0zm31 0zm-11 0zm-1 0zm13 0zm-5 0zm-8 1zm12 0zm-26 0zm25 0zm-1 0zm-27 1zm-1 0zm23 0zm-5 1zm-7 0zm5 0zm9 0zm-5 0zm-16 0zm-4 0zm16 0zm-9 0zm15 1zm7 0zm-12 0zm4 0zm-22 0zm37 1zm-21 0zm2 0zm17 0zm-16 1zm0 0zm11 0zm8 1zm-15 0zm-1 1zm5 1zm-1 0zm-15 0zm7 0zm7 0zm3 0zm-7 1zm1 0zm-5 0zm9 0zm9 0zm-12 1zm2 0zm13 2zm-3 0zm-8 0zm10 1zm-35 0zm31 1zm2 0zm-5 2zm7 0zm-5 3zm6 2zm19 11zm12-3zm-15-1zm18 0zm-13 0zm5 0zm-5 0zm7-1zm11-1zm-11-2zm12 0zm-16 0zm-5 0zm13 0zm-8-1zm1 0zm4 0zm-2 0zm-1 0zm8 0zm-1-1zm-14 0zm19 0zm-2 0zm-21 0zm9-1zm-6 0zm0 0zm3 0zm19-1zm-13 0zm-1 0zm0 0zm-9 0zm20 0zm-16 0zm3-1zm13 0zm-17 0zm6 0zm1-1zm-7 0zm6 0zm-1 0zm-1 0zm-1-1zm-12-1zm0 0zm3-1zm9 0zm-9 0zm12-1zm-2 0zm-15 0zm4-1zm1 0zm9 0zm12-2zm-25 0zm-8 0zm34 0zm-26 0zm-7 0zm6 0zm8-1zm-7 0zm0 0zm14-1zm9 0zm-3 0zm-12 0zm-1 0zm22-1zm-25 0zm16 0zm6-1zm-19 0zm21 0zm-30-1zm5 0zm-7 0zm9 0zm10-2zm-2 0zm-18-1zm33 0zm-16 0zm15 0zm-15 0zm13 0zm-19 0zm-4-1zm28 0zm-3 0zm2 0zm-23-1zm-1-1zm5 0zm17-1zm-3-1zm-14 0zm-6 0zm8 0zm12-1zm-27 0zm13-1zm10 0zm4-1zm5-1zm-16 0zm-15 0zm10-1zm0 0zm21-1zm-14 0zm4-1zm-5 0zm2 0zm-1 0zm13 0zm-2-1zm-11 0zm1 0zm-11-1zm6 0zm17-1zm-6-1zm-11 0zm2 0zm3-1zm7-2zm3-1zm-10-1zm5-1zm5 0zm-10-1zm-9-3zm46-97zm2 4zm-1 0zm6 2zm0 1zm-6 1zm8 0zm-2 1zm-5 0zm9 1zm-14 0zm8 0zm-8 0zm10 1zm-12 1zm-6 0zm17 2zm-13 0zm11 1zm-8 0zm-5 0zm-2 0zm16 1zm-20 0zm12 0zm1 1zm1 0zm-5 0zm3 1zm14 0zm-10 0zm3 0zm-16 1zm3 1zm-2 2zm-4 0zm20 1zm-4 0zm-8 0zm-11 0zm-1 0zm29 0zm-6 0zm-26 0zm21 1zm-13 0zm10 1zm10 0zm1 0zm-22 0zm29 0zm-24 1zm-1 0zm24 0zm4 0zm-25 1zm23 0zm-17 1zm-14 0zm31 0zm-17 0zm-10 0zm28 1zm-10 0zm-14 0zm5 1zm-8 0zm-8 0zm8 0zm9 0zm-2 0zm-8 0zm5 1zm5 0zm-16 0zm14 1zm3 0zm8 0zm-21 0zm30 0zm-5 1zm-28 0zm16 0zm5 0zm5 0zm-13 0zm14 0zm-20 0zm13 0zm-19 1zm8 0zm14 0zm-19 0zm12 1zm11 1zm-4 0zm-9 0zm6 0zm-12 0zm17 1zm-7 0zm2 0zm-2 0zm-3 0zm-7 0zm7 1zm-7 0zm13 0zm7 0zm0 1zm-5 0zm4 0zm4 0zm-15 0zm6 0zm-2 0zm-5 0zm16 1zm-20 0zm6 0zm-10 0zm19 0zm0 0zm-3 0zm10 1zm-16 0zm7 0zm-5 0zm-11 0zm25 0zm-15 1zm13 0zm-24 0zm11 1zm2 0zm3 0zm-6 0zm7 0zm-5 1zm1 0zm-4 0zm5 1zm0 0zm-14 0zm9 1zm6 0zm2 1zm-11 0zm-1 0zm15 0zm1 1zm-9 0zm-7 0zm2 0zm6 0zm14 1zm-5 0zm-13 1zm2 0zm-4 0zm3 1zm3 1zm-10 1zm10 0zm2 1zm-4 1zm7 3zm4 1zm-9 2zm5 3zm-9 1zm6 0zm9 1zm-10 0zm-4 0zm9 0zm4 1zm-6 0zm-4 0zm9 1zm-10 0zm3 2zm12 2zm-16 0zm12 1zm-6 0zm9 0zm-6 1zm-1 0zm-5 1zm3 0zm-1 0zm10 0zm-3 0zm-17 1zm21 0zm-10 0zm2 1zm-6 0zm5 2zm0 0zm2 1zm7 1zm-8 1zm7 0zm-6 1zm-7 1zm6 2zm1 0zm-9 1zm5 0zm9 1zm0 2zm-8 1zm2 1zm1 0zm-1 0zm0 1zm-4 0zm1 1zm4 0zm-2 2zm-5 0zm11 0zm-1 1zm-6 0zm10 0zm-6 0zm-5 1zm11 0zm-12 1zm-2 0zm-25 0zm18 1zm14 1zm6 0zm1 1zm-11 0zm-27 0zm35 0zm-1 0zm1 1zm0 0zm-8 1zm9 0zm-2 1zm-3 0zm2 1zm-6 0zm8 0zm0 1zm3 1zm-3 0zm3 1zm-1 1zm-3 0zm0 1zm-5 1zm4 1zm0 0zm-1 0zm4 2zm-8 0zm9 0zm-8 1zm-29 1zm17 1zm11 0zm-29 0zm28 1zm9 0zm-2 2zm-34 1zm1 0zm-1 1zm0 0zm27 1zm-27 0zm2 1zm-3 0zm4 0zm29 1zm4 2zm-2 1zm-32 0zm1 0zm30 2zm-5 0zm8 1zm-1 0zm2 0zm0 1zm-6 0zm3 2zm-24 1zm26 0zm-18 2zm-1 0zm-2 0zm5 2zm9 1zm-28 0zm19 1zm3 1zm-2 0zm5 1zm4 1zm19 7zm-7-1zm36-1zm-39 0zm23 0zm-12-1zm16-1zm-27-2zm25 0zm-22 0zm11 0zm17-1zm-28 0zm33 0zm-3-1zm-12-1zm-13 0zm25 0zm-9-1zm-19 0zm30-1zm-2-2zm-4 0zm10 0zm-4-1zm-3 0zm7-1zm-2 0zm-18 0zm15 0zm-30-1zm5 0zm23 0zm6 0zm-1 0zm-9-1zm7 0zm3 0zm-3 0zm2 0zm-1 0zm-5 0zm-3-1zm2 0zm7-1zm-15-1zm-22 0zm27 0zm11-1zm-37 0zm37 0zm-12 0zm-25 0zm38 0zm-39-1zm34 0zm-4 0zm-2 0zm0 0zm-28-1zm25-1zm14 0zm-4 0zm2 0zm2 0zm-4 0zm-3-1zm-5 0zm-26 0zm37-1zm-5 0zm4 0zm-14 0zm13 0zm-29 0zm-4 0zm33-1zm-29-2zm-7 0zm3 0zm22-1zm9 0zm1 0zm-32-1zm30 0zm-5 0zm-28-1zm3 0zm31-1zm-15 0zm16-1zm-8-1zm8 0zm-5-1zm-21 0zm21-1zm-2-2zm-22-1zm14-3zm-15 0zm33-4zm-37-1zm2-1zm1-1zm-1 0zm31-1zm-33-9zm2-8zm-1-17zm4-16zm-6-11zm2-2zm-2 0zm2-2zm-1 0zm-1-1zm0-3zm3-1zm-1 0zm0-3zm3-3zm3-3zm-7-1zm3 0zm53-173zm-3 6zm3 2zm5 162zm-18 67zm9 18zm16 0zm-12 1zm-13 3zm19 0zm3 0zm-9 0zm-9 1zm10 0zm3 0zm-4 0zm-3 0zm15 1zm-6 0zm-23 0zm23 1zm6 0zm-25 0zm24 0zm-19 1zm14 0zm-3 0zm0 0zm3 0zm-18 1zm1 0zm-3 0zm21 0zm-5 0zm20 1zm-16 0zm14 0zm2 1zm-20 0zm0 1zm15 0zm-29 0zm-2 1zm1 0zm-2 0zm36 0zm-2 0zm-18 0zm-16 1zm25 0zm0 0zm7 0zm-4 0zm-12 1zm-4 0zm-12 0zm27 0zm10 0zm-19 0zm3 1zm-10 0zm13 0zm-4 0zm11 0zm-28 0zm17 1zm3 0zm-20 0zm23 0zm0 0zm-6 0zm-4 0zm11 0zm10 1zm-16 0zm15 0zm-14 0zm-13 0zm16 1zm-3 0zm3 1zm-24 0zm26 0zm6 0zm-11 0zm-3 1zm8 0zm4 0zm-7 0zm9 1zm-5 0zm7 0zm-14 0zm1 0zm-23 1zm2 0zm21 0zm1 0zm-2 0zm15 0zm-1 0zm-7 1zm9 1zm-37 0zm36 0zm-11 0zm-6 0zm-19 0zm24 0zm-20 1zm14 1zm19 0zm-11 0zm-17 0zm-4 0zm5 0zm-11 1zm9 0zm-10 0zm10 0zm-10 0zm34 1zm-14 0zm4 0zm4 0zm-28 1zm3 0zm-3 0zm5 0zm19 0zm-23 1zm21 0zm5 1zm-27 0zm7 0zm-6 0zm2 0zm15 0zm-16 0zm33 2zm-6 0zm0 0zm-24 0zm7 0zm-9 0zm22 1zm3 0zm3 0zm-25 0zm23 0zm-2 0zm-25 0zm10 0zm-12 0zm0 1zm21 0zm-6 0zm-11 0zm33 0zm-5 0zm1 0zm1 0zm-3 1zm-4 0zm-1 0zm-15 0zm11 0zm-17 1zm30 0zm0 0zm-14 1zm-16 0zm-4 0zm30 0zm-6 1zm-18 0zm16 2zm-3 0zm18 0zm-7 0zm-2 0zm4 1zm-9 0zm-15 2zm19 0zm10 0zm-3 1zm-3 1zm-22 1zm4 0zm5 1zm-4 1zm20 2zm-22 1zm5 0zm-8 0zm29 0zm-20 0zm15 1zm1 1zm-24 0zm-6 1zm25 0zm6 0zm-17 0zm18 0zm-24 0zm24 1zm-26 1zm-1 0zm22 0zm-19 1zm-2 0zm-2 0zm1 0zm23 0zm3 0zm3 1zm-28 2zm27 1zm-7 1zm-1 0zm7 0zm-1 1zm-6 0zm44 134zm-17-4zm22-2zm-1-2zm-6-1zm-14-1zm14-1zm2 0zm-12-1zm-4-1zm1 0zm4-2zm12-2zm-9 0zm-14 0zm17 0zm-2-2zm9 0zm-20-1zm23 0zm-17-2zm-4 0zm16-3zm2-2zm-2-8zm0-3zm-24-21zm-3-1zm2-1zm6 0zm-7-1zm-3-1zm11-1zm-5 0zm2-1zm1 0zm-8-1zm2-1zm2 0zm-2 0zm6-2zm-6 0zm5-1zm7-1zm0 0zm-2-1zm-6 0zm-4 0zm-3 0zm12-3zm2-2zm-2-1zm1 0zm-8 0zm16-5zm-20-1zm-6-2zm19-5zm-4-3zm-4-2zm-4-2zm13-3zm2 0zm-13-6zm16-5zm-4-3zm4-1zm-1-1zm2-2zm1-1zm9-1zm-9 0zm2-5zm-4-2zm3 0zm-12 0zm21-1zm-15 0zm-1-1zm-4 0zm1 0zm3-1zm-18-1zm31-1zm-6 0zm-7-1zm11 0zm3-1zm-16 0zm16-1zm-7-1zm-26 0zm35 0zm-1-1zm-1 0zm-5 0zm-14 0zm14-1zm-14 0zm18 0zm4 0zm-36-1zm31 0zm-28-2zm0-1zm31 0zm3-1zm-17 0zm14-1zm-6 0zm-29 0zm27 0zm5 0zm5-3zm-2-1zm-5-1zm-30 0zm37-1zm-2 0zm-24-2zm14-1zm-17-1zm26 0zm-35 0zm4-1zm13 0zm7-2zm3 0zm-26-1zm27 0zm-28-1zm0-1zm17 0zm-9-2zm7-1zm-11-1zm11 0zm4-1zm-6 0zm-13-1zm2 0zm13-2zm1-1zm-11-1zm0 0zm13-1zm-12-1zm-6-1zm3 0zm-3-1zm15 0zm-12-1zm0-1zm4 0zm2 0zm-8-2zm0 0zm-1-1zm1 0zm6 0zm-6-1zm-1 0zm0-1zm24-1zm-18 0zm-2-1zm26 0zm-29 0zm23-1zm-22 0zm21-1zm-1-2zm-22-1zm17-1zm-6 0zm12-1zm-1-2zm-8-5zm21 0zm1-1zm-1-1zm-25-4zm29-1zm0-7zm-10-5zm-10-1zm11-4zm-21-1zm12 0zm5-2zm-2 0zm7-2zm8-2zm-1-4zm-3-2zm-4-2zm-16-1zm9 0zm-1-1zm1 0zm-19-1zm21-1zm2 0zm-5-1zm0 0zm-10 0zm10 0zm4-1zm-4 0zm0 0zm-5-1zm1 0zm-4 0zm11 0zm-5 0zm-3-1zm2 0zm3 0zm-15 0zm7-1zm5 0zm1 0zm-6 0zm12-1zm-12 0zm4 0zm-5-1zm2 0zm13-2zm-1-2zm-15-1zm4 0zm15-1zm-4 0zm-7 0zm11-1zm0 0zm-9 0zm-4-2zm0 0zm-1-2zm11-1zm-7-1zm-11-1zm22 0zm-10-1zm4 0zm-4-2zm5 0zm-9 0zm17-1zm-2 0zm-10-1zm-12 0zm26 0zm-21-1zm5 0zm10 0zm-15 0zm0-1zm-4 0zm6 0zm19 0zm-31-3zm7 0zm-4-1zm1 0zm5 0zm-10-1zm10 0zm9 0zm-15-1zm-1 0zm18 0zm-1 0zm-5 0zm8-1zm-19 0zm16-1zm1-1zm-14-1zm10 0zm3-1zm-6-1zm2-2zm1 0zm-5 0zm19 0zm-14-4zm-3 0zm8-39zm-3-2zm8 0zm1 0zm-13-2zm10-1zm-5-1zm13 0zm-4 0zm-2 0zm-7-1zm4-1zm6 0zm-6 0zm-2 0zm5-1zm-4 0zm6 0zm-8-1zm0 0zm6 0zm-7-2zm1 0zm7 0zm-7 0zm-4-2zm10-3zm-4 0zm4 0zm4-2zm-13 0zm14 0zm-11-1zm-7-1zm5 0zm-6 0zm2-1zm11 0zm-6 0zm-8 0zm2-1zm6 0zm-3 0zm-1-2zm4 0zm7 0zm-1-1zm-5-1zm6 0zm2-1zm-10 0zm3-1zm-1-1zm0-1zm-3 0zm3-1zm6-2zm7 25zm27 12zm9 7zm-10 2zm1 2zm8 2zm-13 2zm6 0zm-4 0zm-4 1zm6 0zm1 0zm10 0zm-19 2zm17 0zm-12 0zm5 1zm-5 0zm14 0zm-7 0zm6 1zm-4 0zm3 1zm-4 1zm7 0zm-8 1zm9 1zm-35 5zm16 1zm-13 1zm14 0zm4 1zm12 0zm-15 0zm16 0zm-17 1zm13 1zm-29 0zm30 0zm-9 0zm-11 1zm8 0zm-9 0zm-13 1zm23 0zm11 0zm-6 1zm-24 0zm-3 0zm25 0zm-6 0zm2 1zm-21 0zm23 1zm3 0zm10 0zm0 0zm-38 0zm14 1zm9 0zm9 0zm6 0zm-26 0zm20 1zm-9 0zm-19 0zm20 0zm0 0zm0 1zm-4 0zm-10 0zm19 0zm-8 0zm4 0zm2 1zm-1 0zm-24 0zm8 1zm19 0zm-5 0zm-7 1zm18 0zm-31 0zm20 0zm-2 0zm-8 1zm9 1zm13 2zm-17 0zm7 1zm12 0zm-12 2zm-12 1zm9 1zm-8 2zm1 1zm-11 1zm19 1zm-13 1zm13 1zm-1 1zm3 0zm-8 2zm-8 0zm29 2zm-7 1zm-4 1zm-1 0zm-25 2zm-1 4zm5 1zm-3 2zm17 2zm1 1zm-4 1zm-4 0zm-9 0zm16 1zm-6 0zm5 0zm-6 1zm8 1zm3 2zm-9 1zm-1 1zm1 1zm2 1zm8 0zm-17 1zm4 1zm15 1zm-14 0zm0 1zm19 0zm0 0zm-25 0zm22 1zm-5 0zm-19 0zm2 0zm3 1zm21 0zm-17 1zm23 0zm-6 0zm0 1zm7 0zm-5 1zm-2 0zm6 1zm-4 1zm-4 1zm10 1zm-29 1zm-6 1zm25 1zm-18 0zm17 0zm4 1zm-13 0zm12 0zm-3 1zm-27 0zm37 0zm-8 0zm1 0zm3 1zm-6 0zm10 0zm-30 1zm-7 0zm24 1zm-18 1zm-3 0zm-1 1zm11 0zm20 0zm-24 0zm-4 1zm-3 0zm30 0zm-2 1zm-25 0zm18 0zm5 1zm-6 2zm5 0zm-23 1zm28 1zm-9 0zm-24 2zm1 3zm31 1zm5 2zm-2 1zm4 0zm-36 0zm28 2zm8 0zm-3 1zm-3 3zm-3 2zm4 1zm-3 1zm8 3zm-9 2zm7 1zm2 1zm0 2zm-17 0zm12 0zm-4 2zm0 0zm-18 1zm26 0zm-8 0zm-11 1zm-5 0zm6 0zm-8 0zm24 1zm-22 0zm23 0zm-5 1zm6 0zm-14 1zm1 0zm-17 1zm8 0zm3 1zm20 1zm-35 0zm1 0zm13 1zm-12 0zm11 0zm-1 0zm-2 0zm25 1zm-25 0zm8 0zm2 0zm-11 0zm12 1zm-11 0zm-11 0zm34 0zm-7 0zm-15 1zm-5 0zm-2 1zm26 0zm-34 0zm10 1zm20 0zm-17 0zm9 0zm-6 1zm20 0zm-29 0zm32 0zm-17 1zm-9 0zm3 0zm-7 1zm-4 0zm17 0zm-10 0zm-8 1zm34 0zm-24 0zm-7 0zm7 0zm-12 1zm6 0zm31 0zm-27 0zm7 1zm-3 1zm-1 0zm-15 1zm2 0zm35 1zm-35 0zm5 0zm29 0zm1 0zm1 1zm-30 0zm1 0zm-9 0zm35 2zm-2 0zm-33 2zm2 0zm6 1zm0 0zm29 0zm-30 2zm30 0zm-35 1zm-1 0zm7 1zm3 1zm-2 0zm0 1zm28 1zm-35 2zm1 0zm1 1zm33 0zm-29 1zm2 1zm23 1zm3 3zm-21 4zm16 1zm-17 0zm16 2zm-1 1zm-2 0zm-17 0zm14 0zm4 1zm-19 0zm14 1zm6 0zm-2 1zm-16 2zm19 3zm-5 5zm2 2zm-11 6zm13 20zm-2 4zm6 5zm-9 10zm9 5zm-2 0zm6 4zm-8 2zm0 1zm-23 3zm26 0zm2 2zm-4 0zm-18 1zm2 1zm6 3zm1 3zm-19 1zm12 1zm-13 0zm36 6zm-12 6zm-4 1zm-21 9zm44-13zm-3-6zm35-33zm0-26zm-8 0zm6-1zm4-1zm-7-1zm7 0zm-4 0zm4 0zm-8-5zm5 0zm2 0zm-3-1zm-5-2zm4 0zm-9-1zm11-1zm-6 0zm10-1zm-9-1zm1-3zm4 0zm-5-1zm-7 0zm7-2zm2 0zm-12-1zm-3 0zm14 0zm-2 0zm-1-1zm-2 0zm3 0zm2 0zm-12 0zm12 0zm0-1zm-17 0zm25 0zm-13-1zm2 0zm-2 0zm-1 0zm12-1zm-4 0zm-4 0zm-1 0zm-20 0zm22-1zm-7 0zm-7 0zm18 0zm-12 0zm9 0zm0-1zm-10 0zm7 0zm-4 0zm-4-1zm13 0zm-7 0zm-11-1zm22 0zm-1 0zm-7 0zm-18 0zm9-1zm12-1zm-14 0zm10 0zm-12-1zm14 0zm9-2zm-9 0zm3 0zm-1 0zm1-1zm3 0zm-13-1zm-3 0zm2 0zm9-1zm-9 0zm1-1zm-7 0zm15 0zm-12-1zm14 0zm-30 0zm21 0zm1 0zm-4 0zm13 0zm-5-1zm-14 0zm-13-1zm1-1zm0 0zm24-1zm-7 0zm1 0zm-20-1zm7 0zm-8 0zm10-1zm-9-1zm30-1zm3 0zm-3 0zm-30-1zm36 0zm-1 0zm-33-1zm26-1zm-24 0zm30-1zm-2 0zm2 0zm-3-1zm-4-1zm10-2zm0 0zm-14-1zm7 0zm-2-1zm-2 0zm-2-1zm6-1zm-20 0zm-11 0zm31 0zm-10-2zm-11 0zm18 0zm0-1zm9-2zm-19-1zm-8 0zm2 0zm-11 0zm11 0zm17 0zm-24-1zm19-1zm6 0zm-17 0zm21-1zm-26 0zm13 0zm-12 0zm22-1zm8 0zm-8-1zm-17 0zm20 0zm-4 0zm-30-1zm34 0zm-7 0zm-20 0zm22 0zm9 0zm-5 0zm-3 0zm3-2zm-2 0zm-13-1zm15 0zm-29 0zm3 0zm13 0zm-5-1zm-2 0zm5-1zm16-1zm-33 0zm0-1zm28 0zm5-1zm-14 0zm13 0zm-21 0zm1-1zm7 0zm10-1zm-30 0zm17-1zm22 0zm-36-1zm-2 0zm19-1zm13 0zm-31 0zm25-1zm10-1zm-21 0zm-15 0zm35-1zm-19 0zm16 0zm-3-3zm-16 0zm-9 0zm9 0zm-7-1zm18 0zm-23 0zm28-1zm-12 0zm12-2zm-29 0zm26 0zm11 0zm-26 0zm-11 0zm26 0zm2 0zm-3-1zm7 0zm-9 0zm-8-1zm10 0zm4 0zm-17 0zm20 0zm-29-1zm32 0zm-2 0zm-1 0zm0 0zm-12-1zm14 0zm-26 0zm26-1zm-6 0zm-9 0zm13 0zm-6-1zm3 0zm4-1zm2 0zm-6 0zm1-1zm1-1zm6-2zm-8 0zm-6 0zm-14-1zm20-1zm-5-1zm1-1zm-1-1zm-5 0zm1 0zm3-1zm-3 0zm-1-1zm0 0zm4-2zm-2 0zm13 0zm-20 0zm-14-4zm18-1zm-14-2zm17-1zm1 0zm2 0zm-19 0zm15-1zm5-1zm-5 0zm-10 0zm13 0zm2-1zm7 0zm-10-1zm-3-1zm-20-2zm25-1zm-20 0zm22-1zm-17 0zm-6-1zm-2-1zm8 0zm8 0zm-16-2zm3 0zm2 0zm-3 0zm3-2zm13-1zm-16-1zm-4 0zm10 0zm7-1zm-4 0zm0 0zm8 0zm-3-1zm-5 0zm5 0zm-3-1zm22 0zm-17 0zm1 0zm-3 0zm-8 0zm2-1zm-1 0zm1-1zm2 0zm-5-1zm-2 0zm2 0zm12 0zm-4-1zm12 0zm-23 0zm10 0zm12 0zm7-2zm-34 0zm21-1zm-3 0zm-3 0zm6-2zm13 0zm-17 0zm15-1zm-26 0zm12-1zm20 0zm-9-1zm8-1zm-17 0zm4-1zm-18 0zm11-1zm-9 0zm-3-1zm12 0zm5 0zm6-1zm-26-1zm20-2zm-11-2zm-9-2zm3-1zm5-1zm-2 0zm1 0zm7-1zm-15 0zm5 0zm2-1zm-1-1zm-7 0zm9-1zm5 0zm-5-1zm-6 0zm1 0zm2-1zm-1-2zm7 0zm-1 0zm-3 0zm9-1zm-5 0zm-4-2zm-6 0zm5 0zm-8-1zm3-1zm9 0zm-9-2zm5-1zm1 0zm5 0zm-4 0zm-1 0zm1 0zm-3-1zm-3-1zm2 0zm2-1zm-4 0zm21 0zm-16 0zm-4 0zm3-1zm-6 0zm6-2zm-5 0zm2 0zm3 0zm-2 0zm-2 0zm0-1zm1 0zm3 0zm-2-1zm2 0zm1 0zm-1-2zm9-2zm-9-1zm10-1zm1-1zm-18 0zm-1-1zm0-1zm9-1zm-4 0zm-5-4zm3-1zm-3 0zm35-1zm-8 0zm0-1zm-17-2zm3-1zm9 0zm-12-1zm-6 0zm15-1zm-18 0zm-1-1zm0-2zm5 0zm-3 0zm6-3zm-6 0zm8 0zm-4-1zm1 0zm-4 0zm-2-3zm1-1zm-1-4zm11-10zm53 21zm12 5zm2 2zm-2 1zm-3 1zm4 2zm-1 1zm-12 2zm13 1zm-1 1zm-3 0zm5 0zm-18 0zm18 1zm-11 0zm9 0zm-18 0zm16 0zm3 1zm-3 0zm-2 1zm-12 0zm-1 1zm1 0zm4 1zm-1 0zm10 0zm4 0zm-16 1zm4 2zm0 0zm0 0zm-1 0zm-5 1zm-1 0zm9 1zm0 0zm5 0zm0 0zm0 1zm0 0zm-2 0zm-12 1zm6 0zm0 1zm0 0zm8 0zm-4 0zm1 1zm2 1zm-31 0zm34 1zm-3 1zm7 2zm-12 1zm11 0zm-17 0zm-2 0zm19 1zm-2 0zm-1 1zm3 1zm-5 1zm5 0zm-3 0zm-2 1zm-7 1zm3 0zm7 1zm-2 0zm-15 1zm-16 0zm19 0zm8 0zm-11 1zm20 0zm-26 0zm14 0zm4 1zm0 0zm-12 0zm-1 1zm5 0zm9 1zm6 0zm-32 1zm27 0zm-16 4zm-5 2zm-11 0zm12 0zm2 1zm-15 2zm2 0zm4 1zm-2 0zm8 1zm-12 1zm1 1zm7 6zm-5 6zm3 0zm3 4zm2 16zm17 1zm-25 1zm18 4zm0 1zm10 1zm-3 9zm-28 3zm11 2zm7 0zm-14 1zm4 1zm1 0zm-7 1zm-2 0zm7 1zm9 1zm-15 1zm10 0zm-10 1zm12 1zm-3 0zm5 2zm-5 0zm-7 1zm3 2zm28 1zm-34 0zm38 1zm-31 1zm-6 1zm21 0zm-16 1zm10 3zm9 0zm7 1zm-18 1zm11 0zm-2 1zm-17 0zm7 0zm8 1zm-3 1zm-10 0zm-2 1zm6 0zm12 1zm-11 0zm5 0zm8 0zm-10 0zm9 1zm-5 0zm-1 0zm-5 1zm-9 0zm17 0zm0 1zm-3 1zm0 0zm4 0zm-4 0zm-3 0zm2 1zm1 0zm-15 1zm6 0zm11 1zm-21 1zm32 0zm-13 1zm3 0zm-19 1zm13 0zm10 0zm-23 1zm22 0zm-6 0zm-15 0zm12 1zm-12 0zm3 0zm11 0zm8 1zm0 0zm-4 1zm-1 0zm2 0zm-15 1zm13 0zm-2 0zm7 0zm12 0zm-29 0zm8 0zm4 0zm-19 0zm6 0zm20 1zm-19 0zm30 1zm-26 0zm18 0zm1 0zm-20 0zm11 1zm-14 0zm14 0zm-16 0zm12 0zm-8 0zm11 0zm-2 0zm4 1zm-15 0zm10 0zm8 0zm-16 0zm-11 0zm17 1zm-4 1zm5 0zm1 0zm-8 0zm21 1zm0 0zm-5 0zm3 1zm-22 1zm4 0zm15 0zm-27 0zm17 1zm-6 0zm4 0zm23 0zm-33 1zm17 1zm-15 1zm0 1zm14 2zm-14 0zm2 0zm11 0zm1 1zm14 0zm-22 0zm17 0zm7 1zm1 0zm-29 0zm2 0zm26 0zm-23 0zm22 1zm-21 0zm22 0zm-2 0zm-30 1zm5 1zm21 0zm-21 1zm28 0zm-26 0zm-5 0zm8 1zm-8 0zm6 1zm-5 0zm-7 2zm12 0zm-12 1zm9 0zm-8 1zm16 1zm-14 3zm-4 4zm6 0zm-6 1zm10 0zm1 0zm-2 1zm-7 2zm10 0zm1 1zm-6 0zm0 0zm3 0zm2 0zm-2 1zm-9 0zm10 1zm4 1zm-5 0zm-6 0zm1 1zm3 0zm3 0zm-1 0zm-3 1zm-5 0zm15 0zm-7 1zm13 1zm-16 0zm6 1zm-10 0zm13 1zm-9 2zm16 0zm-5 1zm4 1zm-8 0zm0 2zm7 0zm-15 0zm-5 0zm10 1zm10 0zm-5 0zm-10 1zm6 0zm8 1zm-9 0zm-4 0zm11 0zm-7 0zm-4 1zm1 1zm-3 0zm9 0zm8 0zm-20 0zm18 1zm-9 0zm14 1zm-5 0zm2 0zm-5 1zm-3 0zm-7 1zm10 0zm5 1zm-1 0zm-3 0zm10 2zm-8 0zm-16 0zm25 1zm-12 1zm9 0zm5 1zm-10 1zm-21 0zm14 0zm-9 1zm12 1zm-8 0zm18 2zm-17 0zm6 1zm2 0zm15 0zm-6 0zm-18 0zm14 1zm-3 0zm-2 0zm-7 0zm7 1zm9 0zm-8 0zm-4 0zm2 1zm4 0zm-5 0zm4 1zm3 1zm-11 0zm6 0zm-4 1zm11 1zm7 1zm-17 0zm13 1zm-10 2zm8 1zm-5 1zm2 0zm-8 2zm10 2zm-1 0zm-1 0zm10 2zm-9 2zm8 6zm21 70zm8-7zm7-1zm-14-1zm10 0zm-3-5zm4-2zm-2 0zm-6-1zm1-1zm-14-138zm-4-7zm10-3zm-1-2zm-3-5zm-1-1zm3-1zm3-2zm-2-2zm-1-6zm21-3zm-6 0zm3-1zm1 0zm0-1zm2 0zm1 0zm2 0zm-3-1zm-1 0zm-5 0zm12 0zm-6 0zm-10-1zm3 0zm2 0zm10 0zm-8 0zm6 0zm-12 0zm13-1zm0 0zm-3 0zm8 0zm-11 0zm-2-1zm-4 0zm15 0zm-18 0zm10 0zm4 0zm-12 0zm-1-1zm2-1zm1 0zm-7-1zm9 0zm4-1zm3 0zm-4-1zm-5 0zm-4-1zm16 0zm-9 0zm0 0zm-4 0zm4-2zm-7 0zm12 0zm-2 0zm2 0zm-3-1zm-6 0zm1 0zm5 0zm-2-1zm-1 0zm10 0zm3-1zm-19 0zm2 0zm-1 0zm18 0zm-15-1zm-2-1zm14-1zm-12 0zm-5-1zm2 0zm16-1zm-19 0zm18-1zm3-1zm1-1zm-10 0zm-1-1zm6 0zm1 0zm-2-1zm3 0zm-9-1zm-4-1zm17 0zm-11 0zm4 0zm7-1zm-12 0zm8 0zm-13 0zm0-1zm16 0zm-8-1zm-1 0zm10 0zm-10 0zm-2 0zm6 0zm-12 0zm13-1zm-14 0zm5 0zm14 0zm-2-1zm2 0zm-13-1zm7-1zm-9 0zm13-1zm-6 0zm6 0zm0-2zm-11 0zm12-1zm-4-1zm1-2zm3-5zm-5-2zm6-5zm-1-2zm-5 0zm6-1zm-1-1zm-4 0zm5-6zm-2-2zm-1-3zm-5-1zm6-1zm-1-3zm-4-1zm3-2zm-2 0zm0-2zm2 0zm4-2zm-32-1zm26-1zm-22-1zm-4-1zm8 0zm12 0zm2-1zm-19 0zm11 0zm-13-1zm23 0zm0-2zm-17-4zm-14 0zm24-1zm5 0zm-13 0zm-11-1zm21 0zm-9-1zm-6 0zm3 0zm15 0zm-18-1zm10 0zm-7-1zm1 0zm9 0zm-14 0zm-4-1zm11 0zm-17 0zm27 0zm-26 0zm12 0zm7 0zm-1 0zm10-1zm-16 0zm8-1zm5 0zm6-1zm-17 0zm-2 0zm-3 0zm11-1zm-2 0zm6 0zm0 0zm-7-1zm3 0zm1 0zm-4-1zm5-2zm-4-2zm-9 0zm20 0zm-11 0zm8-1zm9 0zm-23-1zm14 0zm4 0zm-1 0zm-12 0zm9-1zm1 0zm-14 0zm4 0zm3-1zm8 0zm-13 0zm6-1zm2 0zm3-1zm-11 0zm9 0zm-5 0zm1 0zm-2 0zm8 0zm-11 0zm0 0zm-6-1zm16 0zm-4-1zm-2 0zm7 0zm-7 0zm-16-1zm14 0zm-11 0zm17-1zm-2 0zm-4 0zm8 0zm-17 0zm-8 0zm23-1zm6 0zm-17 0zm15-1zm-4 0zm0 0zm-18 0zm16-1zm-2 0zm7 0zm-15-1zm4 0zm3 0zm7-1zm-10 0zm-14 0zm6-2zm-8 0zm13 0zm2 0zm-8 0zm-5-1zm-2-1zm0 0zm4 0zm-4-1zm8 0zm8 0zm-8 0zm-5-1zm1 0zm6 0zm2-2zm1 0zm-3 0zm-5 0zm1-1zm-2 0zm-1 0zm7-1zm-6-1zm4-1zm-2-1zm8 0zm3-1zm-17 0zm1 0zm5 0zm5 0zm-8 0zm5-1zm-1-2zm3-1zm-9 0zm4 0zm-3 0zm0 0zm2-3zm5-4zm-2-4zm34 80zm0 6zm2 1zm4 3zm-7 1zm1 0zm1 5zm-2 2zm4 1zm0 3zm2 2zm7 1zm-5 0zm10 2zm-6 0zm-8 1zm2 0zm5 1zm4 0zm-12 2zm1 1zm-3 1zm16 1zm-1 0zm-3 1zm-13 0zm12 0zm-11 0zm3 0zm-4 0zm10 1zm-6 0zm-4 0zm12 0zm2 0zm-9 1zm1 0zm4 0zm-2 0zm-4 1zm-1 0zm4 0zm-6 0zm11 0zm-11 0zm5 0zm-2 0zm-1 0zm8 1zm-5 1zm-3 0zm-3 0zm8 1zm8 0zm-9 0zm5 0zm-11 1zm8 0zm5 0zm-13 0zm5 0zm1 1zm8 0zm-7 0zm-4 1zm11 1zm1 0zm-8 0zm-4 0zm2 0zm-2 0zm7 1zm-11 0zm7 0zm-6 0zm1 0zm8 1zm-7 1zm7 0zm-1 0zm1 0zm-7 1zm3 0zm7 0zm-5 1zm-5 0zm13 2zm-10 3zm-3 10zm3 0zm-2 4zm-2 1zm-1 13z" stroke="#F8766D" stroke-width="8.8"/></g>
<g transform="scale(0.25)" fill="none" stroke-linecap="round"><path d="M1712 2024zm33 31zm9-6zm-20-5zm17-1zm8-1zm-12-1zm-6 0zm16 0zm-5-1zm-19-2zm9 0zm-2 0zm2-1zm2 0zm1 0zm14 0zm-3 0zm-5-1zm-21 0zm8 0zm-1-1zm7 0zm13 0zm-20 0zm-1-1zm7 0zm14 0zm-7 0zm0 0zm9-1zm-10 0zm-15 0zm2 0zm23 0zm-25 0zm23 0zm-14-1zm13 0zm-14 0zm5 0zm-6 0zm12 0zm-16 0zm-3 0zm14 0zm-4 0zm0 0zm-5 0zm15-1zm-17 0zm4 0zm3 0zm-6 0zm2 0zm12 0zm-12-1zm1 0zm3 0zm9-1zm1 0zm-18 0zm3-1zm-4 0zm17 0zm-10 0zm2 0zm-8 0zm10-1zm13 0zm-24 0zm19 0zm-16 0zm9 0zm-14 0zm2 0zm5 0zm-2-1zm6 0zm11 0zm-9-1zm2 0zm9-1zm2 0zm-8 0zm-5 0zm9 0zm4-1zm-21 0zm17-1zm-1 0zm-17 0zm17-1zm-20 0zm8 0zm15 0zm-9-1zm8 0zm-7 0zm6 0zm2 0zm-2-1zm2 0zm1 0zm-1 0zm2-1zm-10 0zm-6-1zm12 0zm-2 0zm0 0zm-9 0zm8 0zm-24 0zm2-1zm26 0zm-21 0zm20 0zm-1-1zm-3 0zm-20 0zm15 0zm3-2zm-4-1zm11 0zm-5 0zm0-1zm-12 0zm17-1zm1 0zm2 0zm-25-1zm-10-1zm34-2zm-9 0zm4-2zm2-1zm-9-3zm6-4zm40-34zm-1 2zm-4 0zm1 0zm1 2zm3 0zm-6 0zm5 1zm-3 0zm1 2zm5 0zm-2 1zm-10 1zm1 1zm1 0zm4 2zm-6 1zm3 1zm3 1zm5 1zm-22 0zm17 4zm-6 2zm8 1zm-18 1zm0 0zm13 2zm5 1zm5 0zm-13 1zm17 0zm-21 2zm4 2zm14 0zm-19 0zm19 0zm-14 0zm-12 1zm15 1zm-10 0zm18 1zm-2 0zm-20 0zm-2 0zm12 0zm11 1zm-3 0zm-1 0zm9 1zm-27 0zm27 1zm-7 0zm-2 0zm8 0zm-25 0zm6 1zm7 0zm-9 0zm-2 0zm6 0zm-16 0zm26 0zm3 1zm-16 0zm14 0zm-3 0zm-6 0zm-12 0zm4 1zm-11 0zm17 0zm14 0zm-29 0zm17 1zm-6 0zm10 0zm13 0zm-17 0zm-6 0zm3 0zm3 1zm-12 0zm12 0zm9 0zm-5 0zm5 1zm-7 0zm5 0zm-17 0zm-1 0zm18 0zm-17 0zm17 0zm-21 0zm5 0zm-1 1zm-9 0zm24 0zm5 0zm-6 0zm-9 0zm13 1zm-25 0zm5 0zm-3 1zm0 0zm27 0zm-33 0zm26 0zm-1 1zm-17 0zm-4 0zm11 0zm-13 0zm3 0zm2 0zm-3 0zm19 0zm11 0zm-6 1zm2 1zm4 1zm0 0zm-12 0zm11 0zm-30 0zm17 0zm-20 0zm11 1zm28 0zm-5 0zm-27 0zm17 0zm-20 1zm10 0zm5 1zm1 0zm-18 1zm-2 1zm35 0zm-25 0zm7 2zm-12 0zm19 0zm-7 0zm2 0zm-10 0zm-1 1zm-3 0zm-5 0zm5 0zm21 1zm-13 0zm-5 0zm-4 0zm8 1zm9 0zm10 1zm-27 0zm6 0zm-8 0zm9 0zm-7 0zm2 0zm1 1zm-3 0zm3 0zm2 0zm3 1zm21 1zm-21 0zm-7 0zm23 0zm-28 1zm14 0zm-10 0zm0 1zm2 0zm3 1zm0 0zm-9 2zm25 1zm-2 1zm-18 1zm1 4zm-4 1zm45-14zm-5-12zm-2-3zm2-2zm1-3zm-2-1zm2-1zm7-2zm-6-1zm17-2zm-15 0zm5 0zm-3-1zm-3-3zm0-4zm7-1zm-9-3zm-2-1zm3-3zm15-9zm18-123zm-9-5zm3-3zm-1-3zm5-1zm-2-1zm5-1zm-7-1zm-3-1zm11-3zm-8-1zm3 0zm2-1zm-6-1zm-1-4zm10-2zm-3 0zm29-10zm-15 2zm21 2zm-1 2zm-12 2zm-7 0zm-10 0zm22 1zm4 0zm-10 1zm11 0zm-22 1zm-1 0zm1 1zm17 0zm6 0zm8 0zm-2 1zm-35 0zm5 0zm18 1zm3 1zm-24 0zm29 0zm6 0zm-36 1zm4 0zm30 0zm2 0zm-26 0zm7 0zm4 1zm-18 0zm8 0zm11 0zm-17 0zm15 1zm0 0zm12 0zm-13 0zm10 0zm-14 0zm0 1zm8 0zm10 0zm-11 0zm5 0zm6 1zm-32 0zm0 0zm30 0zm2 0zm0 0zm-10 0zm-5 1zm12 0zm-2 0zm-9 0zm-12 1zm-6 0zm32 0zm-29 1zm34 0zm-9 0zm-24 0zm-2 1zm20 0zm-9 1zm-5 0zm-7 0zm31 1zm-34 0zm12 2zm-6 2zm15 1zm33-6zm-4-3zm-8-1zm22-1zm-11-1zm-11-1zm10 0zm-7-1zm3 0zm-4-1zm1 0zm2-1zm-4 0zm26 0zm-23-1zm19 0zm-18 0zm0 0zm-3-1zm8-1zm5 0zm-16-1zm6-1zm2-1zm-2 0zm22-5zm-24-1z" stroke="#1ab7bd" stroke-width="8.8"/></g>
<path d="M371.5 390.5V520.5H489" stroke="#8e8e8e" stroke-width="1.2" fill="none"/>
<path d="M369.1 399.0H371.5M369.1 431.1H371.5M369.1 463.3H371.5M369.1 495.5H371.5M374.3 520.5V522.9M406.0 520.5V522.9M437.7 520.5V522.9M469.4 520.5V522.9" stroke="#333" stroke-width=".7" fill="none"/>
<g font-size="8.9" fill="#1a1a1a" stroke="#1a1a1a" stroke-width=".18">
<text x="367.6" y="402.3" text-anchor="end">8</text>
<text x="367.6" y="434.4" text-anchor="end">4</text>
<text x="367.6" y="466.6" text-anchor="end">0</text>
<text x="367.6" y="498.8" text-anchor="end">-4</text>
<text x="374.8" y="531.7" text-anchor="middle">-10</text>
<text x="406.5" y="531.7" text-anchor="middle">-5</text>
<text x="437.7" y="531.7" text-anchor="middle">0</text>
<text x="469.4" y="531.7" text-anchor="middle">5</text>
</g>
<text x="437" y="544.6" font-size="8.6" text-anchor="middle" fill="#111" stroke="#111" stroke-width=".18">UMAP_1</text>
<text x="356" y="455" font-size="8.6" text-anchor="middle" fill="#111" stroke="#111" stroke-width=".18" transform="rotate(-90 356 455)">UMAP_2</text>
<circle cx="452.8" cy="398.3" r="3.2" fill="#F8766D"/>
<circle cx="452.8" cy="409" r="3.2" fill="#1ab7bd"/>
<text x="457.9" y="401.5" font-size="9" fill="#111" stroke="#111" stroke-width=".18">ITGA6+ (n=2095)</text>
<text x="457.9" y="412.2" font-size="9" fill="#111" stroke="#111" stroke-width=".18">ITGA6 −(n=243)</text>
</svg>
</body></html>
